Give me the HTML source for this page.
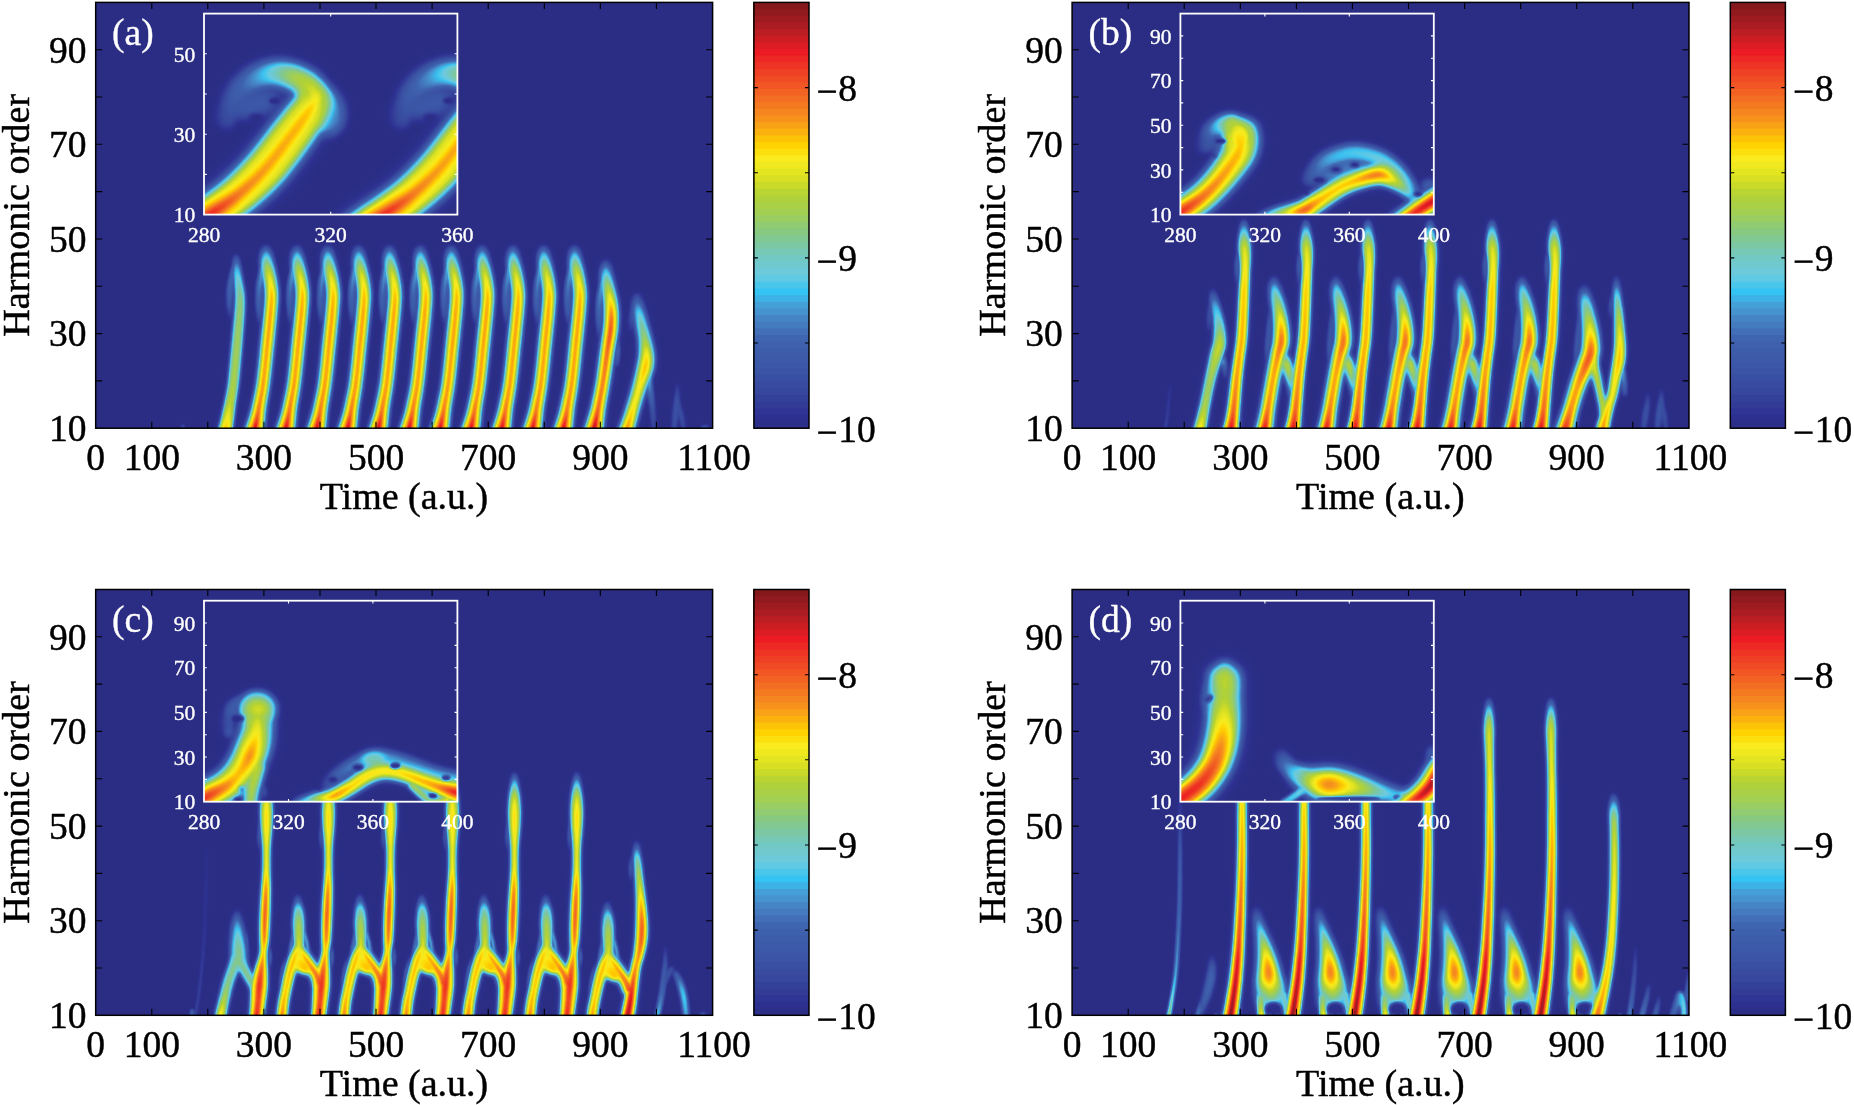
<!DOCTYPE html>
<html><head><meta charset="utf-8"><title>Time-frequency analysis of harmonic spectra</title>
<style>html,body{margin:0;padding:0;background:#fff}svg{display:block}.l{mix-blend-mode:lighten}text{stroke:#000;stroke-width:.45px}.w text,text.w{stroke:#fff;stroke-width:.35px}</style></head>
<body><svg width="1854" height="1105" viewBox="0 0 1854 1105" font-family="'Liberation Serif','Times New Roman',serif" font-size="37.5" fill="#000">
<defs><filter id="cm" x="0" y="0" width="100%" height="100%" color-interpolation-filters="sRGB"><feComponentTransfer><feFuncR type="table" tableValues="0.165 0.173 0.181 0.191 0.201 0.211 0.217 0.222 0.228 0.232 0.236 0.239 0.243 0.246 0.254 0.263 0.272 0.273 0.271 0.255 0.223 0.252 0.336 0.420 0.432 0.442 0.455 0.476 0.497 0.518 0.552 0.586 0.621 0.652 0.675 0.698 0.761 0.823 0.874 0.918 0.962 0.984 0.994 0.996 0.988 0.980 0.971 0.965 0.961 0.956 0.951 0.946 0.943 0.940 0.937 0.934 0.931 0.897 0.832 0.766 0.701 0.646 0.594 0.542 0.490"/><feFuncG type="table" tableValues="0.180 0.187 0.194 0.219 0.243 0.268 0.286 0.304 0.321 0.337 0.348 0.359 0.370 0.382 0.416 0.457 0.499 0.549 0.601 0.662 0.731 0.771 0.783 0.796 0.792 0.787 0.784 0.784 0.784 0.784 0.792 0.799 0.806 0.813 0.818 0.823 0.845 0.868 0.887 0.905 0.924 0.897 0.850 0.795 0.731 0.666 0.602 0.549 0.503 0.456 0.409 0.362 0.316 0.271 0.225 0.179 0.133 0.111 0.113 0.115 0.117 0.112 0.104 0.097 0.090"/><feFuncB type="table" tableValues="0.514 0.544 0.573 0.584 0.595 0.607 0.617 0.628 0.639 0.649 0.657 0.665 0.673 0.680 0.703 0.730 0.758 0.792 0.829 0.874 0.927 0.938 0.909 0.880 0.836 0.791 0.738 0.672 0.607 0.541 0.478 0.416 0.354 0.296 0.252 0.208 0.177 0.147 0.134 0.128 0.123 0.085 0.030 0.013 0.043 0.073 0.104 0.117 0.123 0.129 0.134 0.140 0.141 0.141 0.141 0.141 0.141 0.141 0.140 0.139 0.137 0.130 0.120 0.111 0.102"/></feComponentTransfer></filter>
<filter id="b0" x="-50%" y="-50%" width="200%" height="200%" color-interpolation-filters="sRGB"><feGaussianBlur stdDeviation="0.6"/></filter>
<filter id="b1" x="-50%" y="-50%" width="200%" height="200%" color-interpolation-filters="sRGB"><feGaussianBlur stdDeviation="0.8"/></filter>
<filter id="b2" x="-50%" y="-50%" width="200%" height="200%" color-interpolation-filters="sRGB"><feGaussianBlur stdDeviation="1.0"/></filter>
<filter id="b3" x="-50%" y="-50%" width="200%" height="200%" color-interpolation-filters="sRGB"><feGaussianBlur stdDeviation="1.3"/></filter>
<filter id="b4" x="-50%" y="-50%" width="200%" height="200%" color-interpolation-filters="sRGB"><feGaussianBlur stdDeviation="1.6"/></filter>
<filter id="b5" x="-50%" y="-50%" width="200%" height="200%" color-interpolation-filters="sRGB"><feGaussianBlur stdDeviation="2.0"/></filter>
<filter id="b6" x="-50%" y="-50%" width="200%" height="200%" color-interpolation-filters="sRGB"><feGaussianBlur stdDeviation="2.5"/></filter>
<filter id="b7" x="-50%" y="-50%" width="200%" height="200%" color-interpolation-filters="sRGB"><feGaussianBlur stdDeviation="3.0"/></filter>
<filter id="b8" x="-50%" y="-50%" width="200%" height="200%" color-interpolation-filters="sRGB"><feGaussianBlur stdDeviation="3.5"/></filter>
<filter id="b9" x="-50%" y="-50%" width="200%" height="200%" color-interpolation-filters="sRGB"><feGaussianBlur stdDeviation="4.0"/></filter>
<filter id="b10" x="-50%" y="-50%" width="200%" height="200%" color-interpolation-filters="sRGB"><feGaussianBlur stdDeviation="5.0"/></filter>
<filter id="b11" x="-50%" y="-50%" width="200%" height="200%" color-interpolation-filters="sRGB"><feGaussianBlur stdDeviation="6.0"/></filter>
<filter id="b12" x="-50%" y="-50%" width="200%" height="200%" color-interpolation-filters="sRGB"><feGaussianBlur stdDeviation="8.0"/></filter>
<filter id="b13" x="-50%" y="-50%" width="200%" height="200%" color-interpolation-filters="sRGB"><feGaussianBlur stdDeviation="10.0"/></filter>
<clipPath id="cpm"><rect x="95.7" y="2.4" width="616.9" height="425.8"/></clipPath>
<clipPath id="cpi"><rect x="204" y="13.6" width="253.4" height="201"/></clipPath>
<linearGradient id="g1" gradientUnits="userSpaceOnUse" x1="253.5" y1="434.0" x2="266.0" y2="248.0"><stop offset="0.000" stop-color="#292929"/><stop offset="0.018" stop-color="#282828"/><stop offset="0.038" stop-color="#272727"/><stop offset="0.066" stop-color="#252525"/><stop offset="0.098" stop-color="#232323"/><stop offset="0.127" stop-color="#222222"/><stop offset="0.163" stop-color="#212121"/><stop offset="0.214" stop-color="#212121"/><stop offset="0.282" stop-color="#202020"/><stop offset="0.381" stop-color="#202020"/><stop offset="0.487" stop-color="#202020"/><stop offset="0.580" stop-color="#202020"/><stop offset="0.659" stop-color="#202020"/><stop offset="0.712" stop-color="#1f1f1f"/><stop offset="0.750" stop-color="#1f1f1f"/><stop offset="0.784" stop-color="#1e1e1e"/><stop offset="0.814" stop-color="#1c1c1c"/><stop offset="0.844" stop-color="#1b1b1b"/><stop offset="0.872" stop-color="#1a1a1a"/><stop offset="0.897" stop-color="#181818"/><stop offset="0.920" stop-color="#151515"/><stop offset="0.942" stop-color="#121212"/><stop offset="0.963" stop-color="#0f0f0f"/><stop offset="0.982" stop-color="#0b0b0b"/><stop offset="1.000" stop-color="#060606"/></linearGradient>
<linearGradient id="g2" gradientUnits="userSpaceOnUse" x1="253.5" y1="434.0" x2="266.0" y2="248.0"><stop offset="0.000" stop-color="#b9b9b9"/><stop offset="0.018" stop-color="#b8b8b8"/><stop offset="0.038" stop-color="#b6b6b6"/><stop offset="0.066" stop-color="#b2b2b2"/><stop offset="0.098" stop-color="#adadad"/><stop offset="0.127" stop-color="#aaaaaa"/><stop offset="0.163" stop-color="#a9a9a9"/><stop offset="0.214" stop-color="#a7a7a7"/><stop offset="0.282" stop-color="#a7a7a7"/><stop offset="0.381" stop-color="#a6a6a6"/><stop offset="0.487" stop-color="#a6a6a6"/><stop offset="0.580" stop-color="#a6a6a6"/><stop offset="0.659" stop-color="#a5a5a5"/><stop offset="0.712" stop-color="#a3a3a3"/><stop offset="0.750" stop-color="#9f9f9f"/><stop offset="0.784" stop-color="#999999"/><stop offset="0.814" stop-color="#939393"/><stop offset="0.844" stop-color="#8d8d8d"/><stop offset="0.872" stop-color="#858585"/><stop offset="0.897" stop-color="#7a7a7a"/><stop offset="0.920" stop-color="#6d6d6d"/><stop offset="0.942" stop-color="#5f5f5f"/><stop offset="0.963" stop-color="#4e4e4e"/><stop offset="0.982" stop-color="#393939"/><stop offset="1.000" stop-color="#212121"/></linearGradient>
<linearGradient id="g3" gradientUnits="userSpaceOnUse" x1="253.5" y1="434.0" x2="266.0" y2="248.0"><stop offset="0.000" stop-color="#f5f5f5"/><stop offset="0.018" stop-color="#f1f1f1"/><stop offset="0.038" stop-color="#ebebeb"/><stop offset="0.066" stop-color="#dddddd"/><stop offset="0.098" stop-color="#cecece"/><stop offset="0.127" stop-color="#c6c6c6"/><stop offset="0.163" stop-color="#c0c0c0"/><stop offset="0.214" stop-color="#bcbcbc"/><stop offset="0.282" stop-color="#b9b9b9"/><stop offset="0.381" stop-color="#b8b8b8"/><stop offset="0.487" stop-color="#b8b8b8"/><stop offset="0.580" stop-color="#b8b8b8"/><stop offset="0.659" stop-color="#b7b7b7"/><stop offset="0.712" stop-color="#b4b4b4"/><stop offset="0.750" stop-color="#b0b0b0"/><stop offset="0.784" stop-color="#aaaaaa"/><stop offset="0.814" stop-color="#a3a3a3"/><stop offset="0.844" stop-color="#9c9c9c"/><stop offset="0.872" stop-color="#939393"/><stop offset="0.897" stop-color="#878787"/><stop offset="0.920" stop-color="#797979"/><stop offset="0.942" stop-color="#696969"/><stop offset="0.963" stop-color="#575757"/><stop offset="0.982" stop-color="#3f3f3f"/><stop offset="1.000" stop-color="#252525"/></linearGradient>
<linearGradient id="g4" gradientUnits="userSpaceOnUse" x1="260.6" y1="326.0" x2="263.5" y2="269.0"><stop offset="0.000" stop-color="#0a0a0a"/><stop offset="0.121" stop-color="#191919"/><stop offset="0.244" stop-color="#262626"/><stop offset="0.374" stop-color="#2f2f2f"/><stop offset="0.506" stop-color="#363636"/><stop offset="0.640" stop-color="#3c3c3c"/><stop offset="0.770" stop-color="#424242"/><stop offset="0.887" stop-color="#484848"/><stop offset="1.000" stop-color="#4c4c4c"/></linearGradient>
<linearGradient id="g5" gradientUnits="userSpaceOnUse" x1="224.0" y1="434.0" x2="236.2" y2="256.0"><stop offset="0.000" stop-color="#202020"/><stop offset="0.014" stop-color="#1f1f1f"/><stop offset="0.040" stop-color="#1e1e1e"/><stop offset="0.100" stop-color="#1c1c1c"/><stop offset="0.170" stop-color="#1a1a1a"/><stop offset="0.227" stop-color="#191919"/><stop offset="0.294" stop-color="#181818"/><stop offset="0.398" stop-color="#171717"/><stop offset="0.508" stop-color="#171717"/><stop offset="0.606" stop-color="#171717"/><stop offset="0.688" stop-color="#161616"/><stop offset="0.740" stop-color="#151515"/><stop offset="0.778" stop-color="#151515"/><stop offset="0.816" stop-color="#141414"/><stop offset="0.850" stop-color="#121212"/><stop offset="0.882" stop-color="#111111"/><stop offset="0.911" stop-color="#101010"/><stop offset="0.937" stop-color="#0d0d0d"/><stop offset="0.961" stop-color="#0a0a0a"/><stop offset="0.981" stop-color="#070707"/><stop offset="1.000" stop-color="#040404"/></linearGradient>
<linearGradient id="g6" gradientUnits="userSpaceOnUse" x1="224.0" y1="434.0" x2="236.2" y2="256.0"><stop offset="0.000" stop-color="#a6a6a6"/><stop offset="0.014" stop-color="#a2a2a2"/><stop offset="0.040" stop-color="#9d9d9d"/><stop offset="0.100" stop-color="#919191"/><stop offset="0.170" stop-color="#858585"/><stop offset="0.227" stop-color="#7f7f7f"/><stop offset="0.294" stop-color="#7b7b7b"/><stop offset="0.398" stop-color="#797979"/><stop offset="0.508" stop-color="#777777"/><stop offset="0.606" stop-color="#747474"/><stop offset="0.688" stop-color="#727272"/><stop offset="0.740" stop-color="#6f6f6f"/><stop offset="0.778" stop-color="#6b6b6b"/><stop offset="0.816" stop-color="#656565"/><stop offset="0.850" stop-color="#5f5f5f"/><stop offset="0.882" stop-color="#595959"/><stop offset="0.911" stop-color="#515151"/><stop offset="0.937" stop-color="#444444"/><stop offset="0.961" stop-color="#343434"/><stop offset="0.981" stop-color="#242424"/><stop offset="1.000" stop-color="#131313"/></linearGradient>
<linearGradient id="g7" gradientUnits="userSpaceOnUse" x1="224.0" y1="434.0" x2="236.2" y2="256.0"><stop offset="0.000" stop-color="#b8b8b8"/><stop offset="0.014" stop-color="#b4b4b4"/><stop offset="0.040" stop-color="#adadad"/><stop offset="0.100" stop-color="#a0a0a0"/><stop offset="0.170" stop-color="#939393"/><stop offset="0.227" stop-color="#8d8d8d"/><stop offset="0.294" stop-color="#898989"/><stop offset="0.398" stop-color="#868686"/><stop offset="0.508" stop-color="#838383"/><stop offset="0.606" stop-color="#818181"/><stop offset="0.688" stop-color="#7e7e7e"/><stop offset="0.740" stop-color="#7b7b7b"/><stop offset="0.778" stop-color="#767676"/><stop offset="0.816" stop-color="#707070"/><stop offset="0.850" stop-color="#696969"/><stop offset="0.882" stop-color="#626262"/><stop offset="0.911" stop-color="#595959"/><stop offset="0.937" stop-color="#4b4b4b"/><stop offset="0.961" stop-color="#3a3a3a"/><stop offset="0.981" stop-color="#282828"/><stop offset="1.000" stop-color="#151515"/></linearGradient>
<linearGradient id="g8" gradientUnits="userSpaceOnUse" x1="230.5" y1="318.0" x2="234.5" y2="268.0"><stop offset="0.000" stop-color="#0a0a0a"/><stop offset="0.126" stop-color="#181818"/><stop offset="0.257" stop-color="#242424"/><stop offset="0.406" stop-color="#2d2d2d"/><stop offset="0.556" stop-color="#333333"/><stop offset="0.694" stop-color="#373737"/><stop offset="0.817" stop-color="#383838"/><stop offset="0.914" stop-color="#363636"/><stop offset="1.000" stop-color="#333333"/></linearGradient>
<linearGradient id="g9" gradientUnits="userSpaceOnUse" x1="592.7" y1="434.0" x2="605.8" y2="262.0"><stop offset="0.000" stop-color="#2a2a2a"/><stop offset="0.019" stop-color="#292929"/><stop offset="0.041" stop-color="#282828"/><stop offset="0.072" stop-color="#272727"/><stop offset="0.106" stop-color="#252525"/><stop offset="0.137" stop-color="#232323"/><stop offset="0.176" stop-color="#222222"/><stop offset="0.233" stop-color="#222222"/><stop offset="0.305" stop-color="#222222"/><stop offset="0.399" stop-color="#222222"/><stop offset="0.492" stop-color="#232323"/><stop offset="0.557" stop-color="#242424"/><stop offset="0.609" stop-color="#242424"/><stop offset="0.655" stop-color="#232323"/><stop offset="0.696" stop-color="#222222"/><stop offset="0.735" stop-color="#202020"/><stop offset="0.771" stop-color="#1d1d1d"/><stop offset="0.806" stop-color="#1b1b1b"/><stop offset="0.839" stop-color="#191919"/><stop offset="0.872" stop-color="#171717"/><stop offset="0.902" stop-color="#141414"/><stop offset="0.929" stop-color="#111111"/><stop offset="0.954" stop-color="#0e0e0e"/><stop offset="0.977" stop-color="#090909"/><stop offset="1.000" stop-color="#050505"/></linearGradient>
<linearGradient id="g10" gradientUnits="userSpaceOnUse" x1="592.7" y1="434.0" x2="605.8" y2="262.0"><stop offset="0.000" stop-color="#bbbbbb"/><stop offset="0.019" stop-color="#bababa"/><stop offset="0.041" stop-color="#b8b8b8"/><stop offset="0.072" stop-color="#b4b4b4"/><stop offset="0.106" stop-color="#b0b0b0"/><stop offset="0.137" stop-color="#adadad"/><stop offset="0.176" stop-color="#ababab"/><stop offset="0.233" stop-color="#aaaaaa"/><stop offset="0.305" stop-color="#aaaaaa"/><stop offset="0.399" stop-color="#ababab"/><stop offset="0.492" stop-color="#acacac"/><stop offset="0.557" stop-color="#aeaeae"/><stop offset="0.609" stop-color="#aeaeae"/><stop offset="0.655" stop-color="#acacac"/><stop offset="0.696" stop-color="#a9a9a9"/><stop offset="0.735" stop-color="#a3a3a3"/><stop offset="0.771" stop-color="#989898"/><stop offset="0.806" stop-color="#8e8e8e"/><stop offset="0.839" stop-color="#828282"/><stop offset="0.872" stop-color="#757575"/><stop offset="0.902" stop-color="#666666"/><stop offset="0.929" stop-color="#585858"/><stop offset="0.954" stop-color="#474747"/><stop offset="0.977" stop-color="#303030"/><stop offset="1.000" stop-color="#181818"/></linearGradient>
<linearGradient id="g11" gradientUnits="userSpaceOnUse" x1="592.7" y1="434.0" x2="605.8" y2="262.0"><stop offset="0.000" stop-color="#fbfbfb"/><stop offset="0.019" stop-color="#f7f7f7"/><stop offset="0.041" stop-color="#f2f2f2"/><stop offset="0.072" stop-color="#e5e5e5"/><stop offset="0.106" stop-color="#d8d8d8"/><stop offset="0.137" stop-color="#cfcfcf"/><stop offset="0.176" stop-color="#c8c8c8"/><stop offset="0.233" stop-color="#c4c4c4"/><stop offset="0.305" stop-color="#c3c3c3"/><stop offset="0.399" stop-color="#c6c6c6"/><stop offset="0.492" stop-color="#cbcbcb"/><stop offset="0.557" stop-color="#d0d0d0"/><stop offset="0.609" stop-color="#d2d2d2"/><stop offset="0.655" stop-color="#cccccc"/><stop offset="0.696" stop-color="#c1c1c1"/><stop offset="0.735" stop-color="#b5b5b5"/><stop offset="0.771" stop-color="#a8a8a8"/><stop offset="0.806" stop-color="#9d9d9d"/><stop offset="0.839" stop-color="#909090"/><stop offset="0.872" stop-color="#818181"/><stop offset="0.902" stop-color="#717171"/><stop offset="0.929" stop-color="#616161"/><stop offset="0.954" stop-color="#4f4f4f"/><stop offset="0.977" stop-color="#363636"/><stop offset="1.000" stop-color="#1a1a1a"/></linearGradient>
<linearGradient id="g12" gradientUnits="userSpaceOnUse" x1="617.0" y1="365.0" x2="616.0" y2="335.0"><stop offset="0.000" stop-color="#1a1a1a"/><stop offset="0.249" stop-color="#292929"/><stop offset="0.499" stop-color="#333333"/><stop offset="0.749" stop-color="#292929"/><stop offset="1.000" stop-color="#1a1a1a"/></linearGradient>
<linearGradient id="g13" gradientUnits="userSpaceOnUse" x1="600.6" y1="340.0" x2="603.5" y2="283.0"><stop offset="0.000" stop-color="#0a0a0a"/><stop offset="0.121" stop-color="#191919"/><stop offset="0.244" stop-color="#262626"/><stop offset="0.374" stop-color="#2f2f2f"/><stop offset="0.506" stop-color="#363636"/><stop offset="0.640" stop-color="#3c3c3c"/><stop offset="0.770" stop-color="#424242"/><stop offset="0.887" stop-color="#484848"/><stop offset="1.000" stop-color="#4c4c4c"/></linearGradient>
<linearGradient id="g14" gradientUnits="userSpaceOnUse" x1="624.0" y1="434.0" x2="636.8" y2="294.0"><stop offset="0.000" stop-color="#212121"/><stop offset="0.019" stop-color="#212121"/><stop offset="0.052" stop-color="#202020"/><stop offset="0.126" stop-color="#1e1e1e"/><stop offset="0.212" stop-color="#1c1c1c"/><stop offset="0.287" stop-color="#1c1c1c"/><stop offset="0.357" stop-color="#1c1c1c"/><stop offset="0.423" stop-color="#1d1d1d"/><stop offset="0.481" stop-color="#1e1e1e"/><stop offset="0.529" stop-color="#1e1e1e"/><stop offset="0.574" stop-color="#1c1c1c"/><stop offset="0.626" stop-color="#1a1a1a"/><stop offset="0.679" stop-color="#171717"/><stop offset="0.732" stop-color="#151515"/><stop offset="0.784" stop-color="#131313"/><stop offset="0.831" stop-color="#121212"/><stop offset="0.874" stop-color="#101010"/><stop offset="0.911" stop-color="#0d0d0d"/><stop offset="0.944" stop-color="#090909"/><stop offset="0.973" stop-color="#060606"/><stop offset="1.000" stop-color="#030303"/></linearGradient>
<linearGradient id="g15" gradientUnits="userSpaceOnUse" x1="624.0" y1="434.0" x2="636.8" y2="294.0"><stop offset="0.000" stop-color="#9d9d9d"/><stop offset="0.019" stop-color="#9d9d9d"/><stop offset="0.052" stop-color="#9b9b9b"/><stop offset="0.126" stop-color="#929292"/><stop offset="0.212" stop-color="#8a8a8a"/><stop offset="0.287" stop-color="#888888"/><stop offset="0.357" stop-color="#8a8a8a"/><stop offset="0.423" stop-color="#8f8f8f"/><stop offset="0.481" stop-color="#929292"/><stop offset="0.529" stop-color="#909090"/><stop offset="0.574" stop-color="#8a8a8a"/><stop offset="0.626" stop-color="#7d7d7d"/><stop offset="0.679" stop-color="#6f6f6f"/><stop offset="0.732" stop-color="#656565"/><stop offset="0.784" stop-color="#5d5d5d"/><stop offset="0.831" stop-color="#555555"/><stop offset="0.874" stop-color="#4b4b4b"/><stop offset="0.911" stop-color="#3d3d3d"/><stop offset="0.944" stop-color="#2c2c2c"/><stop offset="0.973" stop-color="#1d1d1d"/><stop offset="1.000" stop-color="#0d0d0d"/></linearGradient>
<linearGradient id="g16" gradientUnits="userSpaceOnUse" x1="624.0" y1="434.0" x2="636.8" y2="294.0"><stop offset="0.000" stop-color="#bebebe"/><stop offset="0.019" stop-color="#bcbcbc"/><stop offset="0.052" stop-color="#b8b8b8"/><stop offset="0.126" stop-color="#adadad"/><stop offset="0.212" stop-color="#a3a3a3"/><stop offset="0.287" stop-color="#a1a1a1"/><stop offset="0.357" stop-color="#a3a3a3"/><stop offset="0.423" stop-color="#a9a9a9"/><stop offset="0.481" stop-color="#aeaeae"/><stop offset="0.529" stop-color="#ababab"/><stop offset="0.574" stop-color="#a3a3a3"/><stop offset="0.626" stop-color="#949494"/><stop offset="0.679" stop-color="#848484"/><stop offset="0.732" stop-color="#787878"/><stop offset="0.784" stop-color="#6f6f6f"/><stop offset="0.831" stop-color="#656565"/><stop offset="0.874" stop-color="#5a5a5a"/><stop offset="0.911" stop-color="#484848"/><stop offset="0.944" stop-color="#353535"/><stop offset="0.973" stop-color="#222222"/><stop offset="1.000" stop-color="#101010"/></linearGradient>
<linearGradient id="g17" gradientUnits="userSpaceOnUse" x1="646.0" y1="372.0" x2="654.0" y2="430.0"><stop offset="0.000" stop-color="#595959"/><stop offset="0.111" stop-color="#515151"/><stop offset="0.227" stop-color="#474747"/><stop offset="0.355" stop-color="#3a3a3a"/><stop offset="0.487" stop-color="#2e2e2e"/><stop offset="0.615" stop-color="#252525"/><stop offset="0.744" stop-color="#1f1f1f"/><stop offset="0.872" stop-color="#191919"/><stop offset="1.000" stop-color="#141414"/></linearGradient>
<linearGradient id="g18" gradientUnits="userSpaceOnUse" x1="632.0" y1="330.0" x2="635.0" y2="308.0"><stop offset="0.000" stop-color="#0d0d0d"/><stop offset="0.276" stop-color="#1a1a1a"/><stop offset="0.542" stop-color="#242424"/><stop offset="0.776" stop-color="#212121"/><stop offset="1.000" stop-color="#1a1a1a"/></linearGradient>
<linearGradient id="g19" gradientUnits="userSpaceOnUse" x1="674.0" y1="432.0" x2="677.3" y2="385.0"><stop offset="0.000" stop-color="#1a1a1a"/><stop offset="0.181" stop-color="#1e1e1e"/><stop offset="0.362" stop-color="#212121"/><stop offset="0.549" stop-color="#212121"/><stop offset="0.724" stop-color="#1f1f1f"/><stop offset="0.868" stop-color="#171717"/><stop offset="1.000" stop-color="#0d0d0d"/></linearGradient>
<linearGradient id="g20" gradientUnits="userSpaceOnUse" x1="677.0" y1="400.0" x2="684.0" y2="430.0"><stop offset="0.000" stop-color="#1a1a1a"/><stop offset="0.252" stop-color="#1d1d1d"/><stop offset="0.504" stop-color="#1f1f1f"/><stop offset="0.752" stop-color="#1a1a1a"/><stop offset="1.000" stop-color="#141414"/></linearGradient>
<linearGradient id="g21" gradientUnits="userSpaceOnUse" x1="317.0" y1="0.0" x2="224.0" y2="0.0"><stop offset="0.011" stop-color="#222222"/><stop offset="0.024" stop-color="#212121"/><stop offset="0.043" stop-color="#212121"/><stop offset="0.073" stop-color="#202020"/><stop offset="0.120" stop-color="#1f1f1f"/><stop offset="0.199" stop-color="#1e1e1e"/><stop offset="0.291" stop-color="#1c1c1c"/><stop offset="0.387" stop-color="#191919"/><stop offset="0.486" stop-color="#151515"/><stop offset="0.585" stop-color="#121212"/><stop offset="0.681" stop-color="#0f0f0f"/><stop offset="0.771" stop-color="#0d0d0d"/><stop offset="0.851" stop-color="#0b0b0b"/><stop offset="0.914" stop-color="#090909"/><stop offset="0.960" stop-color="#080808"/><stop offset="0.980" stop-color="#060606"/><stop offset="0.989" stop-color="#040404"/></linearGradient>
<linearGradient id="g22" gradientUnits="userSpaceOnUse" x1="317.0" y1="0.0" x2="224.0" y2="0.0"><stop offset="0.011" stop-color="#858585"/><stop offset="0.024" stop-color="#838383"/><stop offset="0.043" stop-color="#818181"/><stop offset="0.073" stop-color="#7e7e7e"/><stop offset="0.120" stop-color="#7a7a7a"/><stop offset="0.199" stop-color="#767676"/><stop offset="0.291" stop-color="#6f6f6f"/><stop offset="0.387" stop-color="#626262"/><stop offset="0.486" stop-color="#545454"/><stop offset="0.585" stop-color="#484848"/><stop offset="0.681" stop-color="#3c3c3c"/><stop offset="0.771" stop-color="#323232"/><stop offset="0.851" stop-color="#2a2a2a"/><stop offset="0.914" stop-color="#242424"/><stop offset="0.960" stop-color="#1f1f1f"/><stop offset="0.980" stop-color="#191919"/><stop offset="0.989" stop-color="#121212"/></linearGradient>
<linearGradient id="g23" gradientUnits="userSpaceOnUse" x1="317.0" y1="0.0" x2="224.0" y2="0.0"><stop offset="0.011" stop-color="#9e9e9e"/><stop offset="0.024" stop-color="#9c9c9c"/><stop offset="0.043" stop-color="#999999"/><stop offset="0.073" stop-color="#959595"/><stop offset="0.120" stop-color="#919191"/><stop offset="0.199" stop-color="#8c8c8c"/><stop offset="0.291" stop-color="#848484"/><stop offset="0.387" stop-color="#757575"/><stop offset="0.486" stop-color="#646464"/><stop offset="0.585" stop-color="#555555"/><stop offset="0.681" stop-color="#474747"/><stop offset="0.771" stop-color="#3c3c3c"/><stop offset="0.851" stop-color="#323232"/><stop offset="0.914" stop-color="#2b2b2b"/><stop offset="0.960" stop-color="#252525"/><stop offset="0.980" stop-color="#1d1d1d"/><stop offset="0.989" stop-color="#151515"/></linearGradient>
<linearGradient id="g24" gradientUnits="userSpaceOnUse" x1="173.0" y1="238.0" x2="317.0" y2="96.0"><stop offset="0.000" stop-color="#2f2f2f"/><stop offset="0.059" stop-color="#2f2f2f"/><stop offset="0.120" stop-color="#2e2e2e"/><stop offset="0.184" stop-color="#2e2e2e"/><stop offset="0.251" stop-color="#2c2c2c"/><stop offset="0.316" stop-color="#292929"/><stop offset="0.387" stop-color="#272727"/><stop offset="0.472" stop-color="#252525"/><stop offset="0.565" stop-color="#242424"/><stop offset="0.666" stop-color="#242424"/><stop offset="0.763" stop-color="#242424"/><stop offset="0.840" stop-color="#232323"/><stop offset="0.901" stop-color="#232323"/><stop offset="0.940" stop-color="#222222"/><stop offset="0.966" stop-color="#212121"/><stop offset="0.985" stop-color="#202020"/><stop offset="1.000" stop-color="#1f1f1f"/></linearGradient>
<linearGradient id="g25" gradientUnits="userSpaceOnUse" x1="173.0" y1="238.0" x2="317.0" y2="96.0"><stop offset="0.000" stop-color="#b3b3b3"/><stop offset="0.059" stop-color="#b2b2b2"/><stop offset="0.120" stop-color="#b1b1b1"/><stop offset="0.184" stop-color="#afafaf"/><stop offset="0.251" stop-color="#acacac"/><stop offset="0.316" stop-color="#a7a7a7"/><stop offset="0.387" stop-color="#a1a1a1"/><stop offset="0.472" stop-color="#9f9f9f"/><stop offset="0.565" stop-color="#9d9d9d"/><stop offset="0.666" stop-color="#9c9c9c"/><stop offset="0.763" stop-color="#9b9b9b"/><stop offset="0.840" stop-color="#9a9a9a"/><stop offset="0.901" stop-color="#989898"/><stop offset="0.940" stop-color="#959595"/><stop offset="0.966" stop-color="#909090"/><stop offset="0.985" stop-color="#8b8b8b"/><stop offset="1.000" stop-color="#858585"/></linearGradient>
<linearGradient id="g26" gradientUnits="userSpaceOnUse" x1="173.0" y1="238.0" x2="317.0" y2="96.0"><stop offset="0.000" stop-color="#fcfcfc"/><stop offset="0.059" stop-color="#f9f9f9"/><stop offset="0.120" stop-color="#f6f6f6"/><stop offset="0.184" stop-color="#f1f1f1"/><stop offset="0.251" stop-color="#e9e9e9"/><stop offset="0.316" stop-color="#d9d9d9"/><stop offset="0.387" stop-color="#cacaca"/><stop offset="0.472" stop-color="#c2c2c2"/><stop offset="0.565" stop-color="#bdbdbd"/><stop offset="0.666" stop-color="#bababa"/><stop offset="0.763" stop-color="#b8b8b8"/><stop offset="0.840" stop-color="#b7b7b7"/><stop offset="0.901" stop-color="#b4b4b4"/><stop offset="0.940" stop-color="#b0b0b0"/><stop offset="0.966" stop-color="#ababab"/><stop offset="0.985" stop-color="#a5a5a5"/><stop offset="1.000" stop-color="#9e9e9e"/></linearGradient>
<linearGradient id="g27" gradientUnits="userSpaceOnUse" x1="253.1" y1="434.0" x2="267.6" y2="221.0"><stop offset="0.000" stop-color="#292929"/><stop offset="0.014" stop-color="#292929"/><stop offset="0.033" stop-color="#272727"/><stop offset="0.066" stop-color="#252525"/><stop offset="0.113" stop-color="#232323"/><stop offset="0.190" stop-color="#222222"/><stop offset="0.269" stop-color="#212121"/><stop offset="0.324" stop-color="#202020"/><stop offset="0.372" stop-color="#202020"/><stop offset="0.414" stop-color="#202020"/><stop offset="0.467" stop-color="#202020"/><stop offset="0.565" stop-color="#1f1f1f"/><stop offset="0.664" stop-color="#1f1f1f"/><stop offset="0.722" stop-color="#1e1e1e"/><stop offset="0.762" stop-color="#1d1d1d"/><stop offset="0.793" stop-color="#1d1d1d"/><stop offset="0.818" stop-color="#1c1c1c"/><stop offset="0.847" stop-color="#1b1b1b"/><stop offset="0.874" stop-color="#1a1a1a"/><stop offset="0.898" stop-color="#181818"/><stop offset="0.921" stop-color="#161616"/><stop offset="0.942" stop-color="#121212"/><stop offset="0.963" stop-color="#0e0e0e"/><stop offset="0.982" stop-color="#0a0a0a"/><stop offset="1.000" stop-color="#050505"/></linearGradient>
<linearGradient id="g28" gradientUnits="userSpaceOnUse" x1="253.1" y1="434.0" x2="267.6" y2="221.0"><stop offset="0.000" stop-color="#b0b0b0"/><stop offset="0.014" stop-color="#aeaeae"/><stop offset="0.033" stop-color="#acacac"/><stop offset="0.066" stop-color="#a7a7a7"/><stop offset="0.113" stop-color="#a2a2a2"/><stop offset="0.190" stop-color="#9f9f9f"/><stop offset="0.269" stop-color="#9d9d9d"/><stop offset="0.324" stop-color="#9c9c9c"/><stop offset="0.372" stop-color="#9b9b9b"/><stop offset="0.414" stop-color="#9a9a9a"/><stop offset="0.467" stop-color="#999999"/><stop offset="0.565" stop-color="#979797"/><stop offset="0.664" stop-color="#959595"/><stop offset="0.722" stop-color="#919191"/><stop offset="0.762" stop-color="#8e8e8e"/><stop offset="0.793" stop-color="#8b8b8b"/><stop offset="0.818" stop-color="#878787"/><stop offset="0.847" stop-color="#848484"/><stop offset="0.874" stop-color="#808080"/><stop offset="0.898" stop-color="#767676"/><stop offset="0.921" stop-color="#686868"/><stop offset="0.942" stop-color="#585858"/><stop offset="0.963" stop-color="#454545"/><stop offset="0.982" stop-color="#2e2e2e"/><stop offset="1.000" stop-color="#161616"/></linearGradient>
<linearGradient id="g29" gradientUnits="userSpaceOnUse" x1="253.1" y1="434.0" x2="267.6" y2="221.0"><stop offset="0.000" stop-color="#f3f3f3"/><stop offset="0.014" stop-color="#eeeeee"/><stop offset="0.033" stop-color="#e7e7e7"/><stop offset="0.066" stop-color="#dadada"/><stop offset="0.113" stop-color="#cdcdcd"/><stop offset="0.190" stop-color="#c3c3c3"/><stop offset="0.269" stop-color="#bdbdbd"/><stop offset="0.324" stop-color="#bababa"/><stop offset="0.372" stop-color="#b8b8b8"/><stop offset="0.414" stop-color="#b7b7b7"/><stop offset="0.467" stop-color="#b6b6b6"/><stop offset="0.565" stop-color="#b3b3b3"/><stop offset="0.664" stop-color="#b0b0b0"/><stop offset="0.722" stop-color="#adadad"/><stop offset="0.762" stop-color="#a9a9a9"/><stop offset="0.793" stop-color="#a5a5a5"/><stop offset="0.818" stop-color="#a1a1a1"/><stop offset="0.847" stop-color="#9d9d9d"/><stop offset="0.874" stop-color="#979797"/><stop offset="0.898" stop-color="#8c8c8c"/><stop offset="0.921" stop-color="#7c7c7c"/><stop offset="0.942" stop-color="#686868"/><stop offset="0.963" stop-color="#525252"/><stop offset="0.982" stop-color="#373737"/><stop offset="1.000" stop-color="#1a1a1a"/></linearGradient>
<linearGradient id="g30" gradientUnits="userSpaceOnUse" x1="262.1" y1="285.0" x2="263.6" y2="250.0"><stop offset="0.000" stop-color="#0f0f0f"/><stop offset="0.186" stop-color="#1c1c1c"/><stop offset="0.370" stop-color="#262626"/><stop offset="0.546" stop-color="#2a2a2a"/><stop offset="0.712" stop-color="#292929"/><stop offset="0.860" stop-color="#202020"/><stop offset="1.000" stop-color="#141414"/></linearGradient>
<linearGradient id="g31" gradientUnits="userSpaceOnUse" x1="286.4" y1="434.0" x2="297.6" y2="278.0"><stop offset="0.000" stop-color="#282828"/><stop offset="0.018" stop-color="#282828"/><stop offset="0.046" stop-color="#272727"/><stop offset="0.097" stop-color="#242424"/><stop offset="0.168" stop-color="#222222"/><stop offset="0.267" stop-color="#202020"/><stop offset="0.368" stop-color="#202020"/><stop offset="0.447" stop-color="#202020"/><stop offset="0.511" stop-color="#212121"/><stop offset="0.554" stop-color="#222222"/><stop offset="0.589" stop-color="#222222"/><stop offset="0.624" stop-color="#212121"/><stop offset="0.659" stop-color="#202020"/><stop offset="0.697" stop-color="#1e1e1e"/><stop offset="0.735" stop-color="#1c1c1c"/><stop offset="0.774" stop-color="#1a1a1a"/><stop offset="0.811" stop-color="#181818"/><stop offset="0.844" stop-color="#161616"/><stop offset="0.874" stop-color="#141414"/><stop offset="0.900" stop-color="#121212"/><stop offset="0.924" stop-color="#111111"/><stop offset="0.944" stop-color="#0e0e0e"/><stop offset="0.962" stop-color="#0b0b0b"/><stop offset="0.981" stop-color="#070707"/><stop offset="1.000" stop-color="#040404"/></linearGradient>
<linearGradient id="g32" gradientUnits="userSpaceOnUse" x1="286.4" y1="434.0" x2="297.6" y2="278.0"><stop offset="0.000" stop-color="#aeaeae"/><stop offset="0.018" stop-color="#acacac"/><stop offset="0.046" stop-color="#aaaaaa"/><stop offset="0.097" stop-color="#a4a4a4"/><stop offset="0.168" stop-color="#9e9e9e"/><stop offset="0.267" stop-color="#9c9c9c"/><stop offset="0.368" stop-color="#9a9a9a"/><stop offset="0.447" stop-color="#9c9c9c"/><stop offset="0.511" stop-color="#9d9d9d"/><stop offset="0.554" stop-color="#9f9f9f"/><stop offset="0.589" stop-color="#a0a0a0"/><stop offset="0.624" stop-color="#9e9e9e"/><stop offset="0.659" stop-color="#9b9b9b"/><stop offset="0.697" stop-color="#939393"/><stop offset="0.735" stop-color="#8a8a8a"/><stop offset="0.774" stop-color="#7e7e7e"/><stop offset="0.811" stop-color="#737373"/><stop offset="0.844" stop-color="#6a6a6a"/><stop offset="0.874" stop-color="#626262"/><stop offset="0.900" stop-color="#595959"/><stop offset="0.924" stop-color="#505050"/><stop offset="0.944" stop-color="#444444"/><stop offset="0.962" stop-color="#353535"/><stop offset="0.981" stop-color="#242424"/><stop offset="1.000" stop-color="#121212"/></linearGradient>
<linearGradient id="g33" gradientUnits="userSpaceOnUse" x1="286.4" y1="434.0" x2="297.6" y2="278.0"><stop offset="0.000" stop-color="#ededed"/><stop offset="0.018" stop-color="#e9e9e9"/><stop offset="0.046" stop-color="#e1e1e1"/><stop offset="0.097" stop-color="#d1d1d1"/><stop offset="0.168" stop-color="#c1c1c1"/><stop offset="0.267" stop-color="#b9b9b9"/><stop offset="0.368" stop-color="#b7b7b7"/><stop offset="0.447" stop-color="#b9b9b9"/><stop offset="0.511" stop-color="#bebebe"/><stop offset="0.554" stop-color="#c3c3c3"/><stop offset="0.589" stop-color="#c5c5c5"/><stop offset="0.624" stop-color="#c1c1c1"/><stop offset="0.659" stop-color="#b8b8b8"/><stop offset="0.697" stop-color="#afafaf"/><stop offset="0.735" stop-color="#a3a3a3"/><stop offset="0.774" stop-color="#969696"/><stop offset="0.811" stop-color="#898989"/><stop offset="0.844" stop-color="#7e7e7e"/><stop offset="0.874" stop-color="#747474"/><stop offset="0.900" stop-color="#6a6a6a"/><stop offset="0.924" stop-color="#5f5f5f"/><stop offset="0.944" stop-color="#505050"/><stop offset="0.962" stop-color="#3f3f3f"/><stop offset="0.981" stop-color="#2b2b2b"/><stop offset="1.000" stop-color="#151515"/></linearGradient>
<linearGradient id="g34" gradientUnits="userSpaceOnUse" x1="308.1" y1="356.0" x2="317.1" y2="398.0"><stop offset="0.000" stop-color="#5c5c5c"/><stop offset="0.079" stop-color="#767676"/><stop offset="0.169" stop-color="#8a8a8a"/><stop offset="0.293" stop-color="#8a8a8a"/><stop offset="0.432" stop-color="#808080"/><stop offset="0.573" stop-color="#717171"/><stop offset="0.717" stop-color="#5c5c5c"/><stop offset="0.859" stop-color="#414141"/><stop offset="1.000" stop-color="#242424"/></linearGradient>
<linearGradient id="g35" gradientUnits="userSpaceOnUse" x1="291.6" y1="365.0" x2="295.1" y2="308.0"><stop offset="0.000" stop-color="#0d0d0d"/><stop offset="0.131" stop-color="#1a1a1a"/><stop offset="0.262" stop-color="#242424"/><stop offset="0.393" stop-color="#272727"/><stop offset="0.525" stop-color="#262626"/><stop offset="0.660" stop-color="#262626"/><stop offset="0.789" stop-color="#242424"/><stop offset="0.898" stop-color="#1b1b1b"/><stop offset="1.000" stop-color="#0f0f0f"/></linearGradient>
<linearGradient id="g36" gradientUnits="userSpaceOnUse" x1="221.6" y1="434.0" x2="236.4" y2="290.0"><stop offset="0.000" stop-color="#1e1e1e"/><stop offset="0.018" stop-color="#1e1e1e"/><stop offset="0.050" stop-color="#1c1c1c"/><stop offset="0.118" stop-color="#1a1a1a"/><stop offset="0.204" stop-color="#181818"/><stop offset="0.302" stop-color="#171717"/><stop offset="0.401" stop-color="#171717"/><stop offset="0.485" stop-color="#181818"/><stop offset="0.556" stop-color="#191919"/><stop offset="0.602" stop-color="#1a1a1a"/><stop offset="0.641" stop-color="#191919"/><stop offset="0.685" stop-color="#171717"/><stop offset="0.730" stop-color="#151515"/><stop offset="0.771" stop-color="#131313"/><stop offset="0.811" stop-color="#111111"/><stop offset="0.853" stop-color="#101010"/><stop offset="0.892" stop-color="#0e0e0e"/><stop offset="0.924" stop-color="#0b0b0b"/><stop offset="0.952" stop-color="#080808"/><stop offset="0.977" stop-color="#050505"/><stop offset="1.000" stop-color="#020202"/></linearGradient>
<linearGradient id="g37" gradientUnits="userSpaceOnUse" x1="221.6" y1="434.0" x2="236.4" y2="290.0"><stop offset="0.000" stop-color="#929292"/><stop offset="0.018" stop-color="#8f8f8f"/><stop offset="0.050" stop-color="#8a8a8a"/><stop offset="0.118" stop-color="#7e7e7e"/><stop offset="0.204" stop-color="#737373"/><stop offset="0.302" stop-color="#6f6f6f"/><stop offset="0.401" stop-color="#6f6f6f"/><stop offset="0.485" stop-color="#747474"/><stop offset="0.556" stop-color="#7a7a7a"/><stop offset="0.602" stop-color="#7c7c7c"/><stop offset="0.641" stop-color="#7a7a7a"/><stop offset="0.685" stop-color="#717171"/><stop offset="0.730" stop-color="#666666"/><stop offset="0.771" stop-color="#5d5d5d"/><stop offset="0.811" stop-color="#545454"/><stop offset="0.853" stop-color="#4c4c4c"/><stop offset="0.892" stop-color="#434343"/><stop offset="0.924" stop-color="#363636"/><stop offset="0.952" stop-color="#282828"/><stop offset="0.977" stop-color="#1a1a1a"/><stop offset="1.000" stop-color="#0b0b0b"/></linearGradient>
<linearGradient id="g38" gradientUnits="userSpaceOnUse" x1="221.6" y1="434.0" x2="236.4" y2="290.0"><stop offset="0.000" stop-color="#aeaeae"/><stop offset="0.018" stop-color="#a9a9a9"/><stop offset="0.050" stop-color="#a3a3a3"/><stop offset="0.118" stop-color="#969696"/><stop offset="0.204" stop-color="#898989"/><stop offset="0.302" stop-color="#848484"/><stop offset="0.401" stop-color="#848484"/><stop offset="0.485" stop-color="#8a8a8a"/><stop offset="0.556" stop-color="#919191"/><stop offset="0.602" stop-color="#939393"/><stop offset="0.641" stop-color="#919191"/><stop offset="0.685" stop-color="#868686"/><stop offset="0.730" stop-color="#797979"/><stop offset="0.771" stop-color="#6e6e6e"/><stop offset="0.811" stop-color="#646464"/><stop offset="0.853" stop-color="#5a5a5a"/><stop offset="0.892" stop-color="#4f4f4f"/><stop offset="0.924" stop-color="#404040"/><stop offset="0.952" stop-color="#2f2f2f"/><stop offset="0.977" stop-color="#1e1e1e"/><stop offset="1.000" stop-color="#0d0d0d"/></linearGradient>
<linearGradient id="g39" gradientUnits="userSpaceOnUse" x1="245.6" y1="356.0" x2="249.1" y2="378.0"><stop offset="0.000" stop-color="#2e2e2e"/><stop offset="0.137" stop-color="#3e3e3e"/><stop offset="0.274" stop-color="#474747"/><stop offset="0.401" stop-color="#3e3e3e"/><stop offset="0.550" stop-color="#2e2e2e"/><stop offset="0.764" stop-color="#1f1f1f"/><stop offset="1.000" stop-color="#0f0f0f"/></linearGradient>
<linearGradient id="g40" gradientUnits="userSpaceOnUse" x1="232.6" y1="330.0" x2="234.1" y2="306.0"><stop offset="0.000" stop-color="#0d0d0d"/><stop offset="0.250" stop-color="#191919"/><stop offset="0.499" stop-color="#212121"/><stop offset="0.750" stop-color="#1f1f1f"/><stop offset="1.000" stop-color="#1a1a1a"/></linearGradient>
<linearGradient id="g41" gradientUnits="userSpaceOnUse" x1="587.1" y1="434.0" x2="607.9" y2="287.0"><stop offset="0.000" stop-color="#282828"/><stop offset="0.019" stop-color="#282828"/><stop offset="0.049" stop-color="#272727"/><stop offset="0.108" stop-color="#242424"/><stop offset="0.180" stop-color="#222222"/><stop offset="0.260" stop-color="#212121"/><stop offset="0.340" stop-color="#212121"/><stop offset="0.415" stop-color="#222222"/><stop offset="0.481" stop-color="#242424"/><stop offset="0.530" stop-color="#242424"/><stop offset="0.572" stop-color="#242424"/><stop offset="0.620" stop-color="#222222"/><stop offset="0.666" stop-color="#1f1f1f"/><stop offset="0.709" stop-color="#1d1d1d"/><stop offset="0.752" stop-color="#1b1b1b"/><stop offset="0.795" stop-color="#181818"/><stop offset="0.836" stop-color="#161616"/><stop offset="0.871" stop-color="#141414"/><stop offset="0.901" stop-color="#121212"/><stop offset="0.929" stop-color="#0f0f0f"/><stop offset="0.954" stop-color="#0c0c0c"/><stop offset="0.977" stop-color="#080808"/><stop offset="1.000" stop-color="#040404"/></linearGradient>
<linearGradient id="g42" gradientUnits="userSpaceOnUse" x1="587.1" y1="434.0" x2="607.9" y2="287.0"><stop offset="0.000" stop-color="#aeaeae"/><stop offset="0.019" stop-color="#acacac"/><stop offset="0.049" stop-color="#aaaaaa"/><stop offset="0.108" stop-color="#a4a4a4"/><stop offset="0.180" stop-color="#9f9f9f"/><stop offset="0.260" stop-color="#9d9d9d"/><stop offset="0.340" stop-color="#9d9d9d"/><stop offset="0.415" stop-color="#a0a0a0"/><stop offset="0.481" stop-color="#a3a3a3"/><stop offset="0.530" stop-color="#a4a4a4"/><stop offset="0.572" stop-color="#a3a3a3"/><stop offset="0.620" stop-color="#9f9f9f"/><stop offset="0.666" stop-color="#979797"/><stop offset="0.709" stop-color="#8c8c8c"/><stop offset="0.752" stop-color="#818181"/><stop offset="0.795" stop-color="#757575"/><stop offset="0.836" stop-color="#6a6a6a"/><stop offset="0.871" stop-color="#626262"/><stop offset="0.901" stop-color="#595959"/><stop offset="0.929" stop-color="#4b4b4b"/><stop offset="0.954" stop-color="#3a3a3a"/><stop offset="0.977" stop-color="#262626"/><stop offset="1.000" stop-color="#121212"/></linearGradient>
<linearGradient id="g43" gradientUnits="userSpaceOnUse" x1="587.1" y1="434.0" x2="607.9" y2="287.0"><stop offset="0.000" stop-color="#ededed"/><stop offset="0.019" stop-color="#e8e8e8"/><stop offset="0.049" stop-color="#e1e1e1"/><stop offset="0.108" stop-color="#d2d2d2"/><stop offset="0.180" stop-color="#c4c4c4"/><stop offset="0.260" stop-color="#bebebe"/><stop offset="0.340" stop-color="#bebebe"/><stop offset="0.415" stop-color="#c7c7c7"/><stop offset="0.481" stop-color="#d0d0d0"/><stop offset="0.530" stop-color="#d3d3d3"/><stop offset="0.572" stop-color="#d0d0d0"/><stop offset="0.620" stop-color="#c3c3c3"/><stop offset="0.666" stop-color="#b3b3b3"/><stop offset="0.709" stop-color="#a6a6a6"/><stop offset="0.752" stop-color="#999999"/><stop offset="0.795" stop-color="#8b8b8b"/><stop offset="0.836" stop-color="#7e7e7e"/><stop offset="0.871" stop-color="#757575"/><stop offset="0.901" stop-color="#696969"/><stop offset="0.929" stop-color="#595959"/><stop offset="0.954" stop-color="#444444"/><stop offset="0.977" stop-color="#2d2d2d"/><stop offset="1.000" stop-color="#151515"/></linearGradient>
<linearGradient id="g44" gradientUnits="userSpaceOnUse" x1="615.6" y1="360.0" x2="627.6" y2="414.0"><stop offset="0.000" stop-color="#999999"/><stop offset="0.129" stop-color="#969696"/><stop offset="0.263" stop-color="#949494"/><stop offset="0.411" stop-color="#919191"/><stop offset="0.559" stop-color="#8f8f8f"/><stop offset="0.695" stop-color="#919191"/><stop offset="0.818" stop-color="#949494"/><stop offset="0.914" stop-color="#969696"/><stop offset="1.000" stop-color="#999999"/></linearGradient>
<linearGradient id="g45" gradientUnits="userSpaceOnUse" x1="600.6" y1="372.0" x2="604.6" y2="310.0"><stop offset="0.000" stop-color="#0d0d0d"/><stop offset="0.136" stop-color="#1a1a1a"/><stop offset="0.273" stop-color="#242424"/><stop offset="0.411" stop-color="#272727"/><stop offset="0.547" stop-color="#262626"/><stop offset="0.681" stop-color="#262626"/><stop offset="0.806" stop-color="#242424"/><stop offset="0.907" stop-color="#1b1b1b"/><stop offset="1.000" stop-color="#0f0f0f"/></linearGradient>
<linearGradient id="g46" gradientUnits="userSpaceOnUse" x1="625.6" y1="434.0" x2="640.1" y2="277.0"><stop offset="0.000" stop-color="#212121"/><stop offset="0.022" stop-color="#212121"/><stop offset="0.045" stop-color="#202020"/><stop offset="0.071" stop-color="#1f1f1f"/><stop offset="0.103" stop-color="#1f1f1f"/><stop offset="0.144" stop-color="#1e1e1e"/><stop offset="0.187" stop-color="#1d1d1d"/><stop offset="0.221" stop-color="#1c1c1c"/><stop offset="0.259" stop-color="#1c1c1c"/><stop offset="0.311" stop-color="#1c1c1c"/><stop offset="0.368" stop-color="#1d1d1d"/><stop offset="0.423" stop-color="#1e1e1e"/><stop offset="0.477" stop-color="#1e1e1e"/><stop offset="0.525" stop-color="#1e1e1e"/><stop offset="0.573" stop-color="#1d1d1d"/><stop offset="0.627" stop-color="#1c1c1c"/><stop offset="0.680" stop-color="#1a1a1a"/><stop offset="0.726" stop-color="#191919"/><stop offset="0.768" stop-color="#171717"/><stop offset="0.807" stop-color="#151515"/><stop offset="0.843" stop-color="#131313"/><stop offset="0.876" stop-color="#111111"/><stop offset="0.905" stop-color="#0f0f0f"/><stop offset="0.932" stop-color="#0c0c0c"/><stop offset="0.956" stop-color="#080808"/><stop offset="0.978" stop-color="#050505"/><stop offset="1.000" stop-color="#020202"/></linearGradient>
<linearGradient id="g47" gradientUnits="userSpaceOnUse" x1="625.6" y1="434.0" x2="640.1" y2="277.0"><stop offset="0.000" stop-color="#9d9d9d"/><stop offset="0.022" stop-color="#9c9c9c"/><stop offset="0.045" stop-color="#9b9b9b"/><stop offset="0.071" stop-color="#989898"/><stop offset="0.103" stop-color="#959595"/><stop offset="0.144" stop-color="#909090"/><stop offset="0.187" stop-color="#8c8c8c"/><stop offset="0.221" stop-color="#898989"/><stop offset="0.259" stop-color="#878787"/><stop offset="0.311" stop-color="#898989"/><stop offset="0.368" stop-color="#8c8c8c"/><stop offset="0.423" stop-color="#909090"/><stop offset="0.477" stop-color="#929292"/><stop offset="0.525" stop-color="#909090"/><stop offset="0.573" stop-color="#8c8c8c"/><stop offset="0.627" stop-color="#868686"/><stop offset="0.680" stop-color="#7e7e7e"/><stop offset="0.726" stop-color="#777777"/><stop offset="0.768" stop-color="#6f6f6f"/><stop offset="0.807" stop-color="#666666"/><stop offset="0.843" stop-color="#5d5d5d"/><stop offset="0.876" stop-color="#535353"/><stop offset="0.905" stop-color="#474747"/><stop offset="0.932" stop-color="#383838"/><stop offset="0.956" stop-color="#282828"/><stop offset="0.978" stop-color="#191919"/><stop offset="1.000" stop-color="#0b0b0b"/></linearGradient>
<linearGradient id="g48" gradientUnits="userSpaceOnUse" x1="625.6" y1="434.0" x2="640.1" y2="277.0"><stop offset="0.000" stop-color="#bebebe"/><stop offset="0.022" stop-color="#bbbbbb"/><stop offset="0.045" stop-color="#b8b8b8"/><stop offset="0.071" stop-color="#b5b5b5"/><stop offset="0.103" stop-color="#b0b0b0"/><stop offset="0.144" stop-color="#ababab"/><stop offset="0.187" stop-color="#a6a6a6"/><stop offset="0.221" stop-color="#a2a2a2"/><stop offset="0.259" stop-color="#a1a1a1"/><stop offset="0.311" stop-color="#a2a2a2"/><stop offset="0.368" stop-color="#a6a6a6"/><stop offset="0.423" stop-color="#ababab"/><stop offset="0.477" stop-color="#aeaeae"/><stop offset="0.525" stop-color="#ababab"/><stop offset="0.573" stop-color="#a6a6a6"/><stop offset="0.627" stop-color="#9f9f9f"/><stop offset="0.680" stop-color="#969696"/><stop offset="0.726" stop-color="#8d8d8d"/><stop offset="0.768" stop-color="#848484"/><stop offset="0.807" stop-color="#7a7a7a"/><stop offset="0.843" stop-color="#6f6f6f"/><stop offset="0.876" stop-color="#626262"/><stop offset="0.905" stop-color="#545454"/><stop offset="0.932" stop-color="#424242"/><stop offset="0.956" stop-color="#2f2f2f"/><stop offset="0.978" stop-color="#1e1e1e"/><stop offset="1.000" stop-color="#0d0d0d"/></linearGradient>
<linearGradient id="g49" gradientUnits="userSpaceOnUse" x1="645.6" y1="370.0" x2="648.6" y2="395.0"><stop offset="0.000" stop-color="#4c4c4c"/><stop offset="0.239" stop-color="#474747"/><stop offset="0.483" stop-color="#404040"/><stop offset="0.739" stop-color="#303030"/><stop offset="1.000" stop-color="#1f1f1f"/></linearGradient>
<linearGradient id="g50" gradientUnits="userSpaceOnUse" x1="634.6" y1="318.0" x2="636.6" y2="295.0"><stop offset="0.000" stop-color="#0d0d0d"/><stop offset="0.289" stop-color="#1b1b1b"/><stop offset="0.563" stop-color="#242424"/><stop offset="0.789" stop-color="#1e1e1e"/><stop offset="1.000" stop-color="#141414"/></linearGradient>
<linearGradient id="g51" gradientUnits="userSpaceOnUse" x1="666.6" y1="432.0" x2="671.6" y2="394.0"><stop offset="0.000" stop-color="#1a1a1a"/><stop offset="0.231" stop-color="#1e1e1e"/><stop offset="0.448" stop-color="#212121"/><stop offset="0.635" stop-color="#1f1f1f"/><stop offset="0.791" stop-color="#1a1a1a"/><stop offset="0.904" stop-color="#121212"/><stop offset="1.000" stop-color="#0a0a0a"/></linearGradient>
<linearGradient id="g52" gradientUnits="userSpaceOnUse" x1="680.6" y1="432.0" x2="685.1" y2="390.0"><stop offset="0.000" stop-color="#1a1a1a"/><stop offset="0.206" stop-color="#202020"/><stop offset="0.405" stop-color="#242424"/><stop offset="0.595" stop-color="#232323"/><stop offset="0.763" stop-color="#1f1f1f"/><stop offset="0.889" stop-color="#151515"/><stop offset="1.000" stop-color="#0a0a0a"/></linearGradient>
<linearGradient id="g53" gradientUnits="userSpaceOnUse" x1="684.6" y1="402.0" x2="689.6" y2="430.0"><stop offset="0.000" stop-color="#1a1a1a"/><stop offset="0.230" stop-color="#1d1d1d"/><stop offset="0.468" stop-color="#1f1f1f"/><stop offset="0.730" stop-color="#1a1a1a"/><stop offset="1.000" stop-color="#141414"/></linearGradient>
<linearGradient id="g54" gradientUnits="userSpaceOnUse" x1="188.6" y1="432.0" x2="193.6" y2="385.0"><stop offset="0.000" stop-color="#1a1a1a"/><stop offset="0.231" stop-color="#171717"/><stop offset="0.470" stop-color="#141414"/><stop offset="0.731" stop-color="#101010"/><stop offset="1.000" stop-color="#0a0a0a"/></linearGradient>
<linearGradient id="g55" gradientUnits="userSpaceOnUse" x1="259.0" y1="0.0" x2="224.0" y2="0.0"><stop offset="0.029" stop-color="#242424"/><stop offset="0.139" stop-color="#212121"/><stop offset="0.257" stop-color="#1f1f1f"/><stop offset="0.398" stop-color="#1a1a1a"/><stop offset="0.543" stop-color="#161616"/><stop offset="0.680" stop-color="#111111"/><stop offset="0.800" stop-color="#0d0d0d"/><stop offset="0.886" stop-color="#090909"/><stop offset="0.943" stop-color="#060606"/><stop offset="0.964" stop-color="#040404"/><stop offset="0.971" stop-color="#030303"/></linearGradient>
<linearGradient id="g56" gradientUnits="userSpaceOnUse" x1="259.0" y1="0.0" x2="224.0" y2="0.0"><stop offset="0.029" stop-color="#7c7c7c"/><stop offset="0.139" stop-color="#747474"/><stop offset="0.257" stop-color="#6a6a6a"/><stop offset="0.398" stop-color="#5c5c5c"/><stop offset="0.543" stop-color="#4b4b4b"/><stop offset="0.680" stop-color="#3b3b3b"/><stop offset="0.800" stop-color="#2c2c2c"/><stop offset="0.886" stop-color="#202020"/><stop offset="0.943" stop-color="#161616"/><stop offset="0.964" stop-color="#0f0f0f"/><stop offset="0.971" stop-color="#090909"/></linearGradient>
<linearGradient id="g57" gradientUnits="userSpaceOnUse" x1="259.0" y1="0.0" x2="224.0" y2="0.0"><stop offset="0.029" stop-color="#939393"/><stop offset="0.139" stop-color="#8a8a8a"/><stop offset="0.257" stop-color="#7e7e7e"/><stop offset="0.398" stop-color="#6d6d6d"/><stop offset="0.543" stop-color="#5a5a5a"/><stop offset="0.680" stop-color="#464646"/><stop offset="0.800" stop-color="#353535"/><stop offset="0.886" stop-color="#262626"/><stop offset="0.943" stop-color="#1a1a1a"/><stop offset="0.964" stop-color="#121212"/><stop offset="0.971" stop-color="#0b0b0b"/></linearGradient>
<linearGradient id="g58" gradientUnits="userSpaceOnUse" x1="180.0" y1="228.0" x2="262.5" y2="128.0"><stop offset="0.000" stop-color="#2f2f2f"/><stop offset="0.053" stop-color="#2f2f2f"/><stop offset="0.107" stop-color="#2f2f2f"/><stop offset="0.155" stop-color="#2f2f2f"/><stop offset="0.214" stop-color="#2e2e2e"/><stop offset="0.304" stop-color="#2b2b2b"/><stop offset="0.404" stop-color="#282828"/><stop offset="0.494" stop-color="#272727"/><stop offset="0.582" stop-color="#262626"/><stop offset="0.670" stop-color="#252525"/><stop offset="0.749" stop-color="#242424"/><stop offset="0.805" stop-color="#242424"/><stop offset="0.849" stop-color="#232323"/><stop offset="0.889" stop-color="#222222"/><stop offset="0.923" stop-color="#222222"/><stop offset="0.952" stop-color="#212121"/><stop offset="0.974" stop-color="#202020"/><stop offset="0.989" stop-color="#1f1f1f"/><stop offset="1.000" stop-color="#1e1e1e"/></linearGradient>
<linearGradient id="g59" gradientUnits="userSpaceOnUse" x1="180.0" y1="228.0" x2="262.5" y2="128.0"><stop offset="0.000" stop-color="#b3b3b3"/><stop offset="0.053" stop-color="#b2b2b2"/><stop offset="0.107" stop-color="#b2b2b2"/><stop offset="0.155" stop-color="#b1b1b1"/><stop offset="0.214" stop-color="#b0b0b0"/><stop offset="0.304" stop-color="#aaaaaa"/><stop offset="0.404" stop-color="#a4a4a4"/><stop offset="0.494" stop-color="#a1a1a1"/><stop offset="0.582" stop-color="#9f9f9f"/><stop offset="0.670" stop-color="#9e9e9e"/><stop offset="0.749" stop-color="#9c9c9c"/><stop offset="0.805" stop-color="#9b9b9b"/><stop offset="0.849" stop-color="#999999"/><stop offset="0.889" stop-color="#969696"/><stop offset="0.923" stop-color="#929292"/><stop offset="0.952" stop-color="#8e8e8e"/><stop offset="0.974" stop-color="#8a8a8a"/><stop offset="0.989" stop-color="#868686"/><stop offset="1.000" stop-color="#838383"/></linearGradient>
<linearGradient id="g60" gradientUnits="userSpaceOnUse" x1="180.0" y1="228.0" x2="262.5" y2="128.0"><stop offset="0.000" stop-color="#fcfcfc"/><stop offset="0.053" stop-color="#fafafa"/><stop offset="0.107" stop-color="#f9f9f9"/><stop offset="0.155" stop-color="#f8f8f8"/><stop offset="0.214" stop-color="#f3f3f3"/><stop offset="0.304" stop-color="#e3e3e3"/><stop offset="0.404" stop-color="#d3d3d3"/><stop offset="0.494" stop-color="#cacaca"/><stop offset="0.582" stop-color="#c4c4c4"/><stop offset="0.670" stop-color="#bfbfbf"/><stop offset="0.749" stop-color="#bbbbbb"/><stop offset="0.805" stop-color="#b8b8b8"/><stop offset="0.849" stop-color="#b6b6b6"/><stop offset="0.889" stop-color="#b2b2b2"/><stop offset="0.923" stop-color="#aeaeae"/><stop offset="0.952" stop-color="#a9a9a9"/><stop offset="0.974" stop-color="#a3a3a3"/><stop offset="0.989" stop-color="#9f9f9f"/><stop offset="1.000" stop-color="#9b9b9b"/></linearGradient>
<linearGradient id="g61" gradientUnits="userSpaceOnUse" x1="331.0" y1="0.0" x2="441.0" y2="0.0"><stop offset="0.000" stop-color="#080808"/><stop offset="0.039" stop-color="#0b0b0b"/><stop offset="0.082" stop-color="#0e0e0e"/><stop offset="0.130" stop-color="#111111"/><stop offset="0.195" stop-color="#131313"/><stop offset="0.296" stop-color="#151515"/><stop offset="0.409" stop-color="#161616"/><stop offset="0.520" stop-color="#161616"/><stop offset="0.623" stop-color="#171717"/><stop offset="0.704" stop-color="#181818"/><stop offset="0.773" stop-color="#181818"/><stop offset="0.832" stop-color="#181818"/><stop offset="0.882" stop-color="#171717"/><stop offset="0.922" stop-color="#141414"/><stop offset="0.955" stop-color="#111111"/><stop offset="0.979" stop-color="#0c0c0c"/><stop offset="1.000" stop-color="#080808"/></linearGradient>
<linearGradient id="g62" gradientUnits="userSpaceOnUse" x1="331.0" y1="0.0" x2="441.0" y2="0.0"><stop offset="0.000" stop-color="#1b1b1b"/><stop offset="0.039" stop-color="#262626"/><stop offset="0.082" stop-color="#313131"/><stop offset="0.130" stop-color="#3b3b3b"/><stop offset="0.195" stop-color="#434343"/><stop offset="0.296" stop-color="#484848"/><stop offset="0.409" stop-color="#4b4b4b"/><stop offset="0.520" stop-color="#4e4e4e"/><stop offset="0.623" stop-color="#505050"/><stop offset="0.704" stop-color="#535353"/><stop offset="0.773" stop-color="#545454"/><stop offset="0.832" stop-color="#545454"/><stop offset="0.882" stop-color="#505050"/><stop offset="0.922" stop-color="#464646"/><stop offset="0.955" stop-color="#3a3a3a"/><stop offset="0.979" stop-color="#2b2b2b"/><stop offset="1.000" stop-color="#1b1b1b"/></linearGradient>
<linearGradient id="g63" gradientUnits="userSpaceOnUse" x1="331.0" y1="0.0" x2="441.0" y2="0.0"><stop offset="0.000" stop-color="#202020"/><stop offset="0.039" stop-color="#2d2d2d"/><stop offset="0.082" stop-color="#3a3a3a"/><stop offset="0.130" stop-color="#454545"/><stop offset="0.195" stop-color="#4f4f4f"/><stop offset="0.296" stop-color="#555555"/><stop offset="0.409" stop-color="#5a5a5a"/><stop offset="0.520" stop-color="#5c5c5c"/><stop offset="0.623" stop-color="#5f5f5f"/><stop offset="0.704" stop-color="#626262"/><stop offset="0.773" stop-color="#646464"/><stop offset="0.832" stop-color="#636363"/><stop offset="0.882" stop-color="#5f5f5f"/><stop offset="0.922" stop-color="#545454"/><stop offset="0.955" stop-color="#444444"/><stop offset="0.979" stop-color="#333333"/><stop offset="1.000" stop-color="#202020"/></linearGradient>
<linearGradient id="g64" gradientUnits="userSpaceOnUse" x1="280.0" y1="0.0" x2="445.0" y2="0.0"><stop offset="0.000" stop-color="#0f0f0f"/><stop offset="0.047" stop-color="#121212"/><stop offset="0.097" stop-color="#151515"/><stop offset="0.162" stop-color="#1c1c1c"/><stop offset="0.224" stop-color="#232323"/><stop offset="0.264" stop-color="#272727"/><stop offset="0.297" stop-color="#282828"/><stop offset="0.328" stop-color="#262626"/><stop offset="0.368" stop-color="#242424"/><stop offset="0.436" stop-color="#222222"/><stop offset="0.510" stop-color="#222222"/><stop offset="0.570" stop-color="#232323"/><stop offset="0.624" stop-color="#242424"/><stop offset="0.678" stop-color="#252525"/><stop offset="0.724" stop-color="#272727"/><stop offset="0.755" stop-color="#262626"/><stop offset="0.782" stop-color="#242424"/><stop offset="0.817" stop-color="#202020"/><stop offset="0.853" stop-color="#1d1d1d"/><stop offset="0.885" stop-color="#191919"/><stop offset="0.915" stop-color="#151515"/><stop offset="0.941" stop-color="#111111"/><stop offset="0.964" stop-color="#0d0d0d"/><stop offset="0.983" stop-color="#090909"/><stop offset="1.000" stop-color="#050505"/></linearGradient>
<linearGradient id="g65" gradientUnits="userSpaceOnUse" x1="280.0" y1="0.0" x2="445.0" y2="0.0"><stop offset="0.000" stop-color="#434343"/><stop offset="0.047" stop-color="#4e4e4e"/><stop offset="0.097" stop-color="#5d5d5d"/><stop offset="0.162" stop-color="#7a7a7a"/><stop offset="0.224" stop-color="#979797"/><stop offset="0.264" stop-color="#a1a1a1"/><stop offset="0.297" stop-color="#a4a4a4"/><stop offset="0.328" stop-color="#a1a1a1"/><stop offset="0.368" stop-color="#9b9b9b"/><stop offset="0.436" stop-color="#969696"/><stop offset="0.510" stop-color="#949494"/><stop offset="0.570" stop-color="#969696"/><stop offset="0.624" stop-color="#9b9b9b"/><stop offset="0.678" stop-color="#9f9f9f"/><stop offset="0.724" stop-color="#a1a1a1"/><stop offset="0.755" stop-color="#9f9f9f"/><stop offset="0.782" stop-color="#9b9b9b"/><stop offset="0.817" stop-color="#8d8d8d"/><stop offset="0.853" stop-color="#7c7c7c"/><stop offset="0.885" stop-color="#6d6d6d"/><stop offset="0.915" stop-color="#5d5d5d"/><stop offset="0.941" stop-color="#4a4a4a"/><stop offset="0.964" stop-color="#373737"/><stop offset="0.983" stop-color="#272727"/><stop offset="1.000" stop-color="#161616"/></linearGradient>
<linearGradient id="g66" gradientUnits="userSpaceOnUse" x1="280.0" y1="0.0" x2="445.0" y2="0.0"><stop offset="0.000" stop-color="#4f4f4f"/><stop offset="0.047" stop-color="#5c5c5c"/><stop offset="0.097" stop-color="#6f6f6f"/><stop offset="0.162" stop-color="#919191"/><stop offset="0.224" stop-color="#b3b3b3"/><stop offset="0.264" stop-color="#c9c9c9"/><stop offset="0.297" stop-color="#d3d3d3"/><stop offset="0.328" stop-color="#c8c8c8"/><stop offset="0.368" stop-color="#b8b8b8"/><stop offset="0.436" stop-color="#b2b2b2"/><stop offset="0.510" stop-color="#afafaf"/><stop offset="0.570" stop-color="#b2b2b2"/><stop offset="0.624" stop-color="#b8b8b8"/><stop offset="0.678" stop-color="#c2c2c2"/><stop offset="0.724" stop-color="#c8c8c8"/><stop offset="0.755" stop-color="#c4c4c4"/><stop offset="0.782" stop-color="#b8b8b8"/><stop offset="0.817" stop-color="#a7a7a7"/><stop offset="0.853" stop-color="#939393"/><stop offset="0.885" stop-color="#828282"/><stop offset="0.915" stop-color="#6f6f6f"/><stop offset="0.941" stop-color="#585858"/><stop offset="0.964" stop-color="#424242"/><stop offset="0.983" stop-color="#2e2e2e"/><stop offset="1.000" stop-color="#1a1a1a"/></linearGradient>
<linearGradient id="g67" gradientUnits="userSpaceOnUse" x1="408.0" y1="0.0" x2="475.0" y2="0.0"><stop offset="0.000" stop-color="#191919"/><stop offset="0.111" stop-color="#212121"/><stop offset="0.224" stop-color="#282828"/><stop offset="0.343" stop-color="#2e2e2e"/><stop offset="0.470" stop-color="#313131"/><stop offset="0.610" stop-color="#333333"/><stop offset="0.751" stop-color="#343434"/><stop offset="0.877" stop-color="#343434"/><stop offset="1.000" stop-color="#343434"/></linearGradient>
<linearGradient id="g68" gradientUnits="userSpaceOnUse" x1="408.0" y1="0.0" x2="475.0" y2="0.0"><stop offset="0.000" stop-color="#646464"/><stop offset="0.111" stop-color="#838383"/><stop offset="0.224" stop-color="#9d9d9d"/><stop offset="0.343" stop-color="#a7a7a7"/><stop offset="0.470" stop-color="#aeaeae"/><stop offset="0.610" stop-color="#b1b1b1"/><stop offset="0.751" stop-color="#b2b2b2"/><stop offset="0.877" stop-color="#b2b2b2"/><stop offset="1.000" stop-color="#b2b2b2"/></linearGradient>
<linearGradient id="g69" gradientUnits="userSpaceOnUse" x1="408.0" y1="0.0" x2="475.0" y2="0.0"><stop offset="0.000" stop-color="#767676"/><stop offset="0.111" stop-color="#9c9c9c"/><stop offset="0.224" stop-color="#bebebe"/><stop offset="0.343" stop-color="#dadada"/><stop offset="0.470" stop-color="#ededed"/><stop offset="0.610" stop-color="#f6f6f6"/><stop offset="0.751" stop-color="#f9f9f9"/><stop offset="0.877" stop-color="#fafafa"/><stop offset="1.000" stop-color="#f9f9f9"/></linearGradient>
<linearGradient id="g70" gradientUnits="userSpaceOnUse" x1="503.6" y1="433.9" x2="514.5" y2="185.9"><stop offset="0.000" stop-color="#272727"/><stop offset="0.012" stop-color="#272727"/><stop offset="0.028" stop-color="#262626"/><stop offset="0.055" stop-color="#252525"/><stop offset="0.085" stop-color="#242424"/><stop offset="0.115" stop-color="#252525"/><stop offset="0.146" stop-color="#252525"/><stop offset="0.177" stop-color="#242424"/><stop offset="0.206" stop-color="#232323"/><stop offset="0.232" stop-color="#212121"/><stop offset="0.255" stop-color="#202020"/><stop offset="0.271" stop-color="#1f1f1f"/><stop offset="0.287" stop-color="#1e1e1e"/><stop offset="0.306" stop-color="#1f1f1f"/><stop offset="0.328" stop-color="#212121"/><stop offset="0.355" stop-color="#222222"/><stop offset="0.388" stop-color="#232323"/><stop offset="0.425" stop-color="#232323"/><stop offset="0.465" stop-color="#232323"/><stop offset="0.501" stop-color="#222222"/><stop offset="0.537" stop-color="#212121"/><stop offset="0.577" stop-color="#1e1e1e"/><stop offset="0.618" stop-color="#1c1c1c"/><stop offset="0.658" stop-color="#1c1c1c"/><stop offset="0.698" stop-color="#1c1c1c"/><stop offset="0.739" stop-color="#1c1c1c"/><stop offset="0.779" stop-color="#1d1d1d"/><stop offset="0.812" stop-color="#1d1d1d"/><stop offset="0.843" stop-color="#1d1d1d"/><stop offset="0.873" stop-color="#1c1c1c"/><stop offset="0.899" stop-color="#1a1a1a"/><stop offset="0.921" stop-color="#171717"/><stop offset="0.940" stop-color="#131313"/><stop offset="0.956" stop-color="#101010"/><stop offset="0.972" stop-color="#0b0b0b"/><stop offset="0.986" stop-color="#070707"/><stop offset="1.000" stop-color="#030303"/></linearGradient>
<linearGradient id="g71" gradientUnits="userSpaceOnUse" x1="503.6" y1="433.9" x2="514.5" y2="185.9"><stop offset="0.000" stop-color="#acacac"/><stop offset="0.012" stop-color="#aaaaaa"/><stop offset="0.028" stop-color="#a8a8a8"/><stop offset="0.055" stop-color="#a6a6a6"/><stop offset="0.085" stop-color="#a4a4a4"/><stop offset="0.115" stop-color="#a6a6a6"/><stop offset="0.146" stop-color="#a7a7a7"/><stop offset="0.177" stop-color="#a5a5a5"/><stop offset="0.206" stop-color="#a1a1a1"/><stop offset="0.232" stop-color="#9e9e9e"/><stop offset="0.255" stop-color="#999999"/><stop offset="0.271" stop-color="#949494"/><stop offset="0.287" stop-color="#929292"/><stop offset="0.306" stop-color="#989898"/><stop offset="0.328" stop-color="#9d9d9d"/><stop offset="0.355" stop-color="#a0a0a0"/><stop offset="0.388" stop-color="#a1a1a1"/><stop offset="0.425" stop-color="#a2a2a2"/><stop offset="0.465" stop-color="#a1a1a1"/><stop offset="0.501" stop-color="#9f9f9f"/><stop offset="0.537" stop-color="#9c9c9c"/><stop offset="0.577" stop-color="#939393"/><stop offset="0.618" stop-color="#8a8a8a"/><stop offset="0.658" stop-color="#868686"/><stop offset="0.698" stop-color="#858585"/><stop offset="0.739" stop-color="#888888"/><stop offset="0.779" stop-color="#8c8c8c"/><stop offset="0.812" stop-color="#8d8d8d"/><stop offset="0.843" stop-color="#8b8b8b"/><stop offset="0.873" stop-color="#858585"/><stop offset="0.899" stop-color="#7c7c7c"/><stop offset="0.921" stop-color="#6e6e6e"/><stop offset="0.940" stop-color="#5d5d5d"/><stop offset="0.956" stop-color="#4b4b4b"/><stop offset="0.972" stop-color="#373737"/><stop offset="0.986" stop-color="#232323"/><stop offset="1.000" stop-color="#0d0d0d"/></linearGradient>
<linearGradient id="g72" gradientUnits="userSpaceOnUse" x1="503.6" y1="433.9" x2="514.5" y2="185.9"><stop offset="0.000" stop-color="#e7e7e7"/><stop offset="0.012" stop-color="#e1e1e1"/><stop offset="0.028" stop-color="#dbdbdb"/><stop offset="0.055" stop-color="#d6d6d6"/><stop offset="0.085" stop-color="#d3d3d3"/><stop offset="0.115" stop-color="#d6d6d6"/><stop offset="0.146" stop-color="#d9d9d9"/><stop offset="0.177" stop-color="#d3d3d3"/><stop offset="0.206" stop-color="#cacaca"/><stop offset="0.232" stop-color="#bfbfbf"/><stop offset="0.255" stop-color="#b6b6b6"/><stop offset="0.271" stop-color="#b0b0b0"/><stop offset="0.287" stop-color="#aeaeae"/><stop offset="0.306" stop-color="#b5b5b5"/><stop offset="0.328" stop-color="#bebebe"/><stop offset="0.355" stop-color="#c5c5c5"/><stop offset="0.388" stop-color="#cacaca"/><stop offset="0.425" stop-color="#cccccc"/><stop offset="0.465" stop-color="#cacaca"/><stop offset="0.501" stop-color="#c4c4c4"/><stop offset="0.537" stop-color="#bbbbbb"/><stop offset="0.577" stop-color="#afafaf"/><stop offset="0.618" stop-color="#a3a3a3"/><stop offset="0.658" stop-color="#9f9f9f"/><stop offset="0.698" stop-color="#9e9e9e"/><stop offset="0.739" stop-color="#a2a2a2"/><stop offset="0.779" stop-color="#a6a6a6"/><stop offset="0.812" stop-color="#a7a7a7"/><stop offset="0.843" stop-color="#a5a5a5"/><stop offset="0.873" stop-color="#9e9e9e"/><stop offset="0.899" stop-color="#939393"/><stop offset="0.921" stop-color="#838383"/><stop offset="0.940" stop-color="#6f6f6f"/><stop offset="0.956" stop-color="#595959"/><stop offset="0.972" stop-color="#424242"/><stop offset="0.986" stop-color="#292929"/><stop offset="1.000" stop-color="#101010"/></linearGradient>
<linearGradient id="g73" gradientUnits="userSpaceOnUse" x1="508.0" y1="262.9" x2="509.5" y2="228.9"><stop offset="0.000" stop-color="#0d0d0d"/><stop offset="0.176" stop-color="#1a1a1a"/><stop offset="0.352" stop-color="#242424"/><stop offset="0.532" stop-color="#252525"/><stop offset="0.705" stop-color="#212121"/><stop offset="0.856" stop-color="#181818"/><stop offset="1.000" stop-color="#0d0d0d"/></linearGradient>
<linearGradient id="g74" gradientUnits="userSpaceOnUse" x1="517.5" y1="380.9" x2="517.6" y2="360.9"><stop offset="0.000" stop-color="#0d0d0d"/><stop offset="0.250" stop-color="#242424"/><stop offset="0.500" stop-color="#333333"/><stop offset="0.750" stop-color="#2a2a2a"/><stop offset="1.000" stop-color="#1a1a1a"/></linearGradient>
<linearGradient id="g75" gradientUnits="userSpaceOnUse" x1="547.0" y1="358.9" x2="545.7" y2="307.9"><stop offset="0.000" stop-color="#1b1b1b"/><stop offset="0.118" stop-color="#191919"/><stop offset="0.235" stop-color="#181818"/><stop offset="0.353" stop-color="#181818"/><stop offset="0.470" stop-color="#161616"/><stop offset="0.593" stop-color="#151515"/><stop offset="0.706" stop-color="#121212"/><stop offset="0.790" stop-color="#0e0e0e"/><stop offset="0.863" stop-color="#0a0a0a"/><stop offset="0.933" stop-color="#060606"/><stop offset="1.000" stop-color="#020202"/></linearGradient>
<linearGradient id="g76" gradientUnits="userSpaceOnUse" x1="547.0" y1="358.9" x2="545.7" y2="307.9"><stop offset="0.000" stop-color="#818181"/><stop offset="0.118" stop-color="#7b7b7b"/><stop offset="0.235" stop-color="#767676"/><stop offset="0.353" stop-color="#727272"/><stop offset="0.470" stop-color="#6d6d6d"/><stop offset="0.593" stop-color="#656565"/><stop offset="0.706" stop-color="#595959"/><stop offset="0.790" stop-color="#464646"/><stop offset="0.863" stop-color="#313131"/><stop offset="0.933" stop-color="#1e1e1e"/><stop offset="1.000" stop-color="#0b0b0b"/></linearGradient>
<linearGradient id="g77" gradientUnits="userSpaceOnUse" x1="547.0" y1="358.9" x2="545.7" y2="307.9"><stop offset="0.000" stop-color="#999999"/><stop offset="0.118" stop-color="#929292"/><stop offset="0.235" stop-color="#8c8c8c"/><stop offset="0.353" stop-color="#878787"/><stop offset="0.470" stop-color="#818181"/><stop offset="0.593" stop-color="#777777"/><stop offset="0.706" stop-color="#696969"/><stop offset="0.790" stop-color="#535353"/><stop offset="0.863" stop-color="#3a3a3a"/><stop offset="0.933" stop-color="#232323"/><stop offset="1.000" stop-color="#0d0d0d"/></linearGradient>
<linearGradient id="g78" gradientUnits="userSpaceOnUse" x1="529.6" y1="433.9" x2="547.0" y2="358.9"><stop offset="0.000" stop-color="#222222"/><stop offset="0.042" stop-color="#222222"/><stop offset="0.091" stop-color="#212121"/><stop offset="0.157" stop-color="#202020"/><stop offset="0.233" stop-color="#1f1f1f"/><stop offset="0.317" stop-color="#1f1f1f"/><stop offset="0.405" stop-color="#1e1e1e"/><stop offset="0.499" stop-color="#1e1e1e"/><stop offset="0.591" stop-color="#1e1e1e"/><stop offset="0.675" stop-color="#1e1e1e"/><stop offset="0.753" stop-color="#1f1f1f"/><stop offset="0.825" stop-color="#1e1e1e"/><stop offset="0.890" stop-color="#1e1e1e"/><stop offset="0.947" stop-color="#1c1c1c"/><stop offset="1.000" stop-color="#1b1b1b"/></linearGradient>
<linearGradient id="g79" gradientUnits="userSpaceOnUse" x1="529.6" y1="433.9" x2="547.0" y2="358.9"><stop offset="0.000" stop-color="#9f9f9f"/><stop offset="0.042" stop-color="#9e9e9e"/><stop offset="0.091" stop-color="#9d9d9d"/><stop offset="0.157" stop-color="#9b9b9b"/><stop offset="0.233" stop-color="#979797"/><stop offset="0.317" stop-color="#939393"/><stop offset="0.405" stop-color="#919191"/><stop offset="0.499" stop-color="#919191"/><stop offset="0.591" stop-color="#929292"/><stop offset="0.675" stop-color="#939393"/><stop offset="0.753" stop-color="#949494"/><stop offset="0.825" stop-color="#939393"/><stop offset="0.890" stop-color="#909090"/><stop offset="0.947" stop-color="#898989"/><stop offset="1.000" stop-color="#818181"/></linearGradient>
<linearGradient id="g80" gradientUnits="userSpaceOnUse" x1="529.6" y1="433.9" x2="547.0" y2="358.9"><stop offset="0.000" stop-color="#c4c4c4"/><stop offset="0.042" stop-color="#c1c1c1"/><stop offset="0.091" stop-color="#bebebe"/><stop offset="0.157" stop-color="#b8b8b8"/><stop offset="0.233" stop-color="#b3b3b3"/><stop offset="0.317" stop-color="#afafaf"/><stop offset="0.405" stop-color="#acacac"/><stop offset="0.499" stop-color="#adadad"/><stop offset="0.591" stop-color="#aeaeae"/><stop offset="0.675" stop-color="#afafaf"/><stop offset="0.753" stop-color="#afafaf"/><stop offset="0.825" stop-color="#aeaeae"/><stop offset="0.890" stop-color="#ababab"/><stop offset="0.947" stop-color="#a3a3a3"/><stop offset="1.000" stop-color="#999999"/></linearGradient>
<linearGradient id="g81" gradientUnits="userSpaceOnUse" x1="547.0" y1="360.9" x2="568.0" y2="396.9"><stop offset="0.000" stop-color="#1b1b1b"/><stop offset="0.095" stop-color="#1d1d1d"/><stop offset="0.193" stop-color="#1e1e1e"/><stop offset="0.301" stop-color="#1f1f1f"/><stop offset="0.409" stop-color="#202020"/><stop offset="0.512" stop-color="#212121"/><stop offset="0.615" stop-color="#212121"/><stop offset="0.722" stop-color="#222222"/><stop offset="0.825" stop-color="#232323"/><stop offset="0.915" stop-color="#242424"/><stop offset="1.000" stop-color="#252525"/></linearGradient>
<linearGradient id="g82" gradientUnits="userSpaceOnUse" x1="547.0" y1="360.9" x2="568.0" y2="396.9"><stop offset="0.000" stop-color="#818181"/><stop offset="0.095" stop-color="#8a8a8a"/><stop offset="0.193" stop-color="#929292"/><stop offset="0.301" stop-color="#989898"/><stop offset="0.409" stop-color="#9b9b9b"/><stop offset="0.512" stop-color="#9d9d9d"/><stop offset="0.615" stop-color="#9e9e9e"/><stop offset="0.722" stop-color="#a0a0a0"/><stop offset="0.825" stop-color="#a1a1a1"/><stop offset="0.915" stop-color="#a3a3a3"/><stop offset="1.000" stop-color="#a5a5a5"/></linearGradient>
<linearGradient id="g83" gradientUnits="userSpaceOnUse" x1="547.0" y1="360.9" x2="568.0" y2="396.9"><stop offset="0.000" stop-color="#999999"/><stop offset="0.095" stop-color="#a4a4a4"/><stop offset="0.193" stop-color="#aeaeae"/><stop offset="0.301" stop-color="#b4b4b4"/><stop offset="0.409" stop-color="#b8b8b8"/><stop offset="0.512" stop-color="#bcbcbc"/><stop offset="0.615" stop-color="#c0c0c0"/><stop offset="0.722" stop-color="#c4c4c4"/><stop offset="0.825" stop-color="#cacaca"/><stop offset="0.915" stop-color="#d0d0d0"/><stop offset="1.000" stop-color="#d6d6d6"/></linearGradient>
<linearGradient id="g84" gradientUnits="userSpaceOnUse" x1="538.0" y1="372.9" x2="544.0" y2="336.9"><stop offset="0.000" stop-color="#333333"/><stop offset="0.191" stop-color="#3d3d3d"/><stop offset="0.384" stop-color="#424242"/><stop offset="0.590" stop-color="#3e3e3e"/><stop offset="0.777" stop-color="#333333"/><stop offset="0.899" stop-color="#212121"/><stop offset="1.000" stop-color="#0d0d0d"/></linearGradient>
<linearGradient id="g85" gradientUnits="userSpaceOnUse" x1="556.5" y1="369.9" x2="549.6" y2="334.9"><stop offset="0.000" stop-color="#404040"/><stop offset="0.198" stop-color="#4b4b4b"/><stop offset="0.393" stop-color="#525252"/><stop offset="0.592" stop-color="#4d4d4d"/><stop offset="0.770" stop-color="#404040"/><stop offset="0.894" stop-color="#282828"/><stop offset="1.000" stop-color="#0d0d0d"/></linearGradient>
<linearGradient id="g86" gradientUnits="userSpaceOnUse" x1="528.5" y1="404.9" x2="534.0" y2="370.9"><stop offset="0.000" stop-color="#0d0d0d"/><stop offset="0.174" stop-color="#1d1d1d"/><stop offset="0.349" stop-color="#292929"/><stop offset="0.528" stop-color="#2c2c2c"/><stop offset="0.702" stop-color="#292929"/><stop offset="0.854" stop-color="#1d1d1d"/><stop offset="1.000" stop-color="#0d0d0d"/></linearGradient>
<linearGradient id="g87" gradientUnits="userSpaceOnUse" x1="239.0" y1="378.9" x2="237.0" y2="323.9"><stop offset="0.000" stop-color="#141414"/><stop offset="0.129" stop-color="#141414"/><stop offset="0.254" stop-color="#141414"/><stop offset="0.366" stop-color="#141414"/><stop offset="0.473" stop-color="#121212"/><stop offset="0.585" stop-color="#111111"/><stop offset="0.691" stop-color="#0f0f0f"/><stop offset="0.777" stop-color="#0c0c0c"/><stop offset="0.855" stop-color="#090909"/><stop offset="0.929" stop-color="#060606"/><stop offset="1.000" stop-color="#020202"/></linearGradient>
<linearGradient id="g88" gradientUnits="userSpaceOnUse" x1="239.0" y1="378.9" x2="237.0" y2="323.9"><stop offset="0.000" stop-color="#626262"/><stop offset="0.129" stop-color="#626262"/><stop offset="0.254" stop-color="#626262"/><stop offset="0.366" stop-color="#5e5e5e"/><stop offset="0.473" stop-color="#595959"/><stop offset="0.585" stop-color="#515151"/><stop offset="0.691" stop-color="#474747"/><stop offset="0.777" stop-color="#3b3b3b"/><stop offset="0.855" stop-color="#2c2c2c"/><stop offset="0.929" stop-color="#1c1c1c"/><stop offset="1.000" stop-color="#0b0b0b"/></linearGradient>
<linearGradient id="g89" gradientUnits="userSpaceOnUse" x1="239.0" y1="378.9" x2="237.0" y2="323.9"><stop offset="0.000" stop-color="#747474"/><stop offset="0.129" stop-color="#757575"/><stop offset="0.254" stop-color="#747474"/><stop offset="0.366" stop-color="#707070"/><stop offset="0.473" stop-color="#696969"/><stop offset="0.585" stop-color="#606060"/><stop offset="0.691" stop-color="#545454"/><stop offset="0.777" stop-color="#464646"/><stop offset="0.855" stop-color="#353535"/><stop offset="0.929" stop-color="#212121"/><stop offset="1.000" stop-color="#0d0d0d"/></linearGradient>
<linearGradient id="g90" gradientUnits="userSpaceOnUse" x1="220.0" y1="433.9" x2="237.5" y2="370.9"><stop offset="0.000" stop-color="#1d1d1d"/><stop offset="0.047" stop-color="#1d1d1d"/><stop offset="0.107" stop-color="#1c1c1c"/><stop offset="0.206" stop-color="#1a1a1a"/><stop offset="0.326" stop-color="#181818"/><stop offset="0.467" stop-color="#161616"/><stop offset="0.609" stop-color="#151515"/><stop offset="0.730" stop-color="#141414"/><stop offset="0.836" stop-color="#141414"/><stop offset="0.922" stop-color="#141414"/><stop offset="1.000" stop-color="#141414"/></linearGradient>
<linearGradient id="g91" gradientUnits="userSpaceOnUse" x1="220.0" y1="433.9" x2="237.5" y2="370.9"><stop offset="0.000" stop-color="#8e8e8e"/><stop offset="0.047" stop-color="#8d8d8d"/><stop offset="0.107" stop-color="#8a8a8a"/><stop offset="0.206" stop-color="#7f7f7f"/><stop offset="0.326" stop-color="#737373"/><stop offset="0.467" stop-color="#6a6a6a"/><stop offset="0.609" stop-color="#646464"/><stop offset="0.730" stop-color="#626262"/><stop offset="0.836" stop-color="#626262"/><stop offset="0.922" stop-color="#616161"/><stop offset="1.000" stop-color="#626262"/></linearGradient>
<linearGradient id="g92" gradientUnits="userSpaceOnUse" x1="220.0" y1="433.9" x2="237.5" y2="370.9"><stop offset="0.000" stop-color="#a9a9a9"/><stop offset="0.047" stop-color="#a7a7a7"/><stop offset="0.107" stop-color="#a3a3a3"/><stop offset="0.206" stop-color="#979797"/><stop offset="0.326" stop-color="#898989"/><stop offset="0.467" stop-color="#7e7e7e"/><stop offset="0.609" stop-color="#767676"/><stop offset="0.730" stop-color="#747474"/><stop offset="0.836" stop-color="#747474"/><stop offset="0.922" stop-color="#747474"/><stop offset="1.000" stop-color="#747474"/></linearGradient>
<linearGradient id="g93" gradientUnits="userSpaceOnUse" x1="240.0" y1="374.9" x2="255.5" y2="402.9"><stop offset="0.000" stop-color="#131313"/><stop offset="0.126" stop-color="#141414"/><stop offset="0.252" stop-color="#141414"/><stop offset="0.378" stop-color="#141414"/><stop offset="0.504" stop-color="#141414"/><stop offset="0.630" stop-color="#141414"/><stop offset="0.756" stop-color="#141414"/><stop offset="0.878" stop-color="#141414"/><stop offset="1.000" stop-color="#131313"/></linearGradient>
<linearGradient id="g94" gradientUnits="userSpaceOnUse" x1="240.0" y1="374.9" x2="255.5" y2="402.9"><stop offset="0.000" stop-color="#5d5d5d"/><stop offset="0.126" stop-color="#606060"/><stop offset="0.252" stop-color="#626262"/><stop offset="0.378" stop-color="#626262"/><stop offset="0.504" stop-color="#626262"/><stop offset="0.630" stop-color="#626262"/><stop offset="0.756" stop-color="#626262"/><stop offset="0.878" stop-color="#606060"/><stop offset="1.000" stop-color="#5d5d5d"/></linearGradient>
<linearGradient id="g95" gradientUnits="userSpaceOnUse" x1="240.0" y1="374.9" x2="255.5" y2="402.9"><stop offset="0.000" stop-color="#6f6f6f"/><stop offset="0.126" stop-color="#727272"/><stop offset="0.252" stop-color="#747474"/><stop offset="0.378" stop-color="#747474"/><stop offset="0.504" stop-color="#747474"/><stop offset="0.630" stop-color="#747474"/><stop offset="0.756" stop-color="#747474"/><stop offset="0.878" stop-color="#727272"/><stop offset="1.000" stop-color="#6f6f6f"/></linearGradient>
<linearGradient id="g96" gradientUnits="userSpaceOnUse" x1="245.0" y1="342.9" x2="246.0" y2="364.9"><stop offset="0.000" stop-color="#0d0d0d"/><stop offset="0.222" stop-color="#202020"/><stop offset="0.455" stop-color="#2e2e2e"/><stop offset="0.722" stop-color="#292929"/><stop offset="1.000" stop-color="#1f1f1f"/></linearGradient>
<linearGradient id="g97" gradientUnits="userSpaceOnUse" x1="626.5" y1="433.9" x2="636.6" y2="254.9"><stop offset="0.000" stop-color="#2a2a2a"/><stop offset="0.018" stop-color="#2a2a2a"/><stop offset="0.039" stop-color="#292929"/><stop offset="0.065" stop-color="#292929"/><stop offset="0.101" stop-color="#282828"/><stop offset="0.159" stop-color="#262626"/><stop offset="0.219" stop-color="#242424"/><stop offset="0.267" stop-color="#222222"/><stop offset="0.309" stop-color="#202020"/><stop offset="0.344" stop-color="#202020"/><stop offset="0.377" stop-color="#212121"/><stop offset="0.416" stop-color="#222222"/><stop offset="0.456" stop-color="#232323"/><stop offset="0.494" stop-color="#232323"/><stop offset="0.534" stop-color="#232323"/><stop offset="0.578" stop-color="#222222"/><stop offset="0.623" stop-color="#202020"/><stop offset="0.662" stop-color="#1e1e1e"/><stop offset="0.701" stop-color="#1c1c1c"/><stop offset="0.739" stop-color="#1b1b1b"/><stop offset="0.778" stop-color="#191919"/><stop offset="0.818" stop-color="#181818"/><stop offset="0.856" stop-color="#161616"/><stop offset="0.885" stop-color="#141414"/><stop offset="0.911" stop-color="#121212"/><stop offset="0.934" stop-color="#0f0f0f"/><stop offset="0.956" stop-color="#0b0b0b"/><stop offset="0.978" stop-color="#070707"/><stop offset="1.000" stop-color="#030303"/></linearGradient>
<linearGradient id="g98" gradientUnits="userSpaceOnUse" x1="626.5" y1="433.9" x2="636.6" y2="254.9"><stop offset="0.000" stop-color="#b2b2b2"/><stop offset="0.018" stop-color="#b1b1b1"/><stop offset="0.039" stop-color="#b0b0b0"/><stop offset="0.065" stop-color="#afafaf"/><stop offset="0.101" stop-color="#aeaeae"/><stop offset="0.159" stop-color="#a9a9a9"/><stop offset="0.219" stop-color="#a3a3a3"/><stop offset="0.267" stop-color="#9f9f9f"/><stop offset="0.309" stop-color="#9b9b9b"/><stop offset="0.344" stop-color="#9c9c9c"/><stop offset="0.377" stop-color="#9d9d9d"/><stop offset="0.416" stop-color="#a0a0a0"/><stop offset="0.456" stop-color="#a1a1a1"/><stop offset="0.494" stop-color="#a2a2a2"/><stop offset="0.534" stop-color="#a1a1a1"/><stop offset="0.578" stop-color="#9f9f9f"/><stop offset="0.623" stop-color="#9b9b9b"/><stop offset="0.662" stop-color="#939393"/><stop offset="0.701" stop-color="#8a8a8a"/><stop offset="0.739" stop-color="#828282"/><stop offset="0.778" stop-color="#7a7a7a"/><stop offset="0.818" stop-color="#727272"/><stop offset="0.856" stop-color="#6a6a6a"/><stop offset="0.885" stop-color="#636363"/><stop offset="0.911" stop-color="#595959"/><stop offset="0.934" stop-color="#4a4a4a"/><stop offset="0.956" stop-color="#373737"/><stop offset="0.978" stop-color="#232323"/><stop offset="1.000" stop-color="#0d0d0d"/></linearGradient>
<linearGradient id="g99" gradientUnits="userSpaceOnUse" x1="626.5" y1="433.9" x2="636.6" y2="254.9"><stop offset="0.000" stop-color="#f9f9f9"/><stop offset="0.018" stop-color="#f6f6f6"/><stop offset="0.039" stop-color="#f3f3f3"/><stop offset="0.065" stop-color="#f1f1f1"/><stop offset="0.101" stop-color="#ededed"/><stop offset="0.159" stop-color="#e0e0e0"/><stop offset="0.219" stop-color="#d0d0d0"/><stop offset="0.267" stop-color="#c2c2c2"/><stop offset="0.309" stop-color="#b8b8b8"/><stop offset="0.344" stop-color="#b9b9b9"/><stop offset="0.377" stop-color="#bebebe"/><stop offset="0.416" stop-color="#c4c4c4"/><stop offset="0.456" stop-color="#cacaca"/><stop offset="0.494" stop-color="#cccccc"/><stop offset="0.534" stop-color="#cacaca"/><stop offset="0.578" stop-color="#c3c3c3"/><stop offset="0.623" stop-color="#b8b8b8"/><stop offset="0.662" stop-color="#aeaeae"/><stop offset="0.701" stop-color="#a3a3a3"/><stop offset="0.739" stop-color="#9a9a9a"/><stop offset="0.778" stop-color="#919191"/><stop offset="0.818" stop-color="#888888"/><stop offset="0.856" stop-color="#7e7e7e"/><stop offset="0.885" stop-color="#757575"/><stop offset="0.911" stop-color="#696969"/><stop offset="0.934" stop-color="#575757"/><stop offset="0.956" stop-color="#424242"/><stop offset="0.978" stop-color="#292929"/><stop offset="1.000" stop-color="#101010"/></linearGradient>
<linearGradient id="g100" gradientUnits="userSpaceOnUse" x1="631.0" y1="292.9" x2="632.0" y2="269.9"><stop offset="0.000" stop-color="#0d0d0d"/><stop offset="0.263" stop-color="#1b1b1b"/><stop offset="0.521" stop-color="#242424"/><stop offset="0.763" stop-color="#1e1e1e"/><stop offset="1.000" stop-color="#141414"/></linearGradient>
<linearGradient id="g101" gradientUnits="userSpaceOnUse" x1="657.0" y1="430.9" x2="665.5" y2="360.9"><stop offset="0.000" stop-color="#575757"/><stop offset="0.097" stop-color="#4d4d4d"/><stop offset="0.202" stop-color="#424242"/><stop offset="0.333" stop-color="#373737"/><stop offset="0.475" stop-color="#2e2e2e"/><stop offset="0.619" stop-color="#292929"/><stop offset="0.760" stop-color="#242424"/><stop offset="0.883" stop-color="#181818"/><stop offset="1.000" stop-color="#0a0a0a"/></linearGradient>
<linearGradient id="g102" gradientUnits="userSpaceOnUse" x1="664.0" y1="397.9" x2="672.0" y2="380.9"><stop offset="0.000" stop-color="#1a1a1a"/><stop offset="0.295" stop-color="#202020"/><stop offset="0.572" stop-color="#242424"/><stop offset="0.795" stop-color="#222222"/><stop offset="1.000" stop-color="#1f1f1f"/></linearGradient>
<linearGradient id="g103" gradientUnits="userSpaceOnUse" x1="675.0" y1="384.9" x2="686.5" y2="430.9"><stop offset="0.000" stop-color="#1f1f1f"/><stop offset="0.121" stop-color="#313131"/><stop offset="0.251" stop-color="#424242"/><stop offset="0.404" stop-color="#505050"/><stop offset="0.578" stop-color="#575757"/><stop offset="0.783" stop-color="#515151"/><stop offset="1.000" stop-color="#474747"/></linearGradient>
<linearGradient id="g104" gradientUnits="userSpaceOnUse" x1="195.0" y1="430.9" x2="207.0" y2="262.9"><stop offset="0.000" stop-color="#1a1a1a"/><stop offset="0.094" stop-color="#181818"/><stop offset="0.198" stop-color="#171717"/><stop offset="0.325" stop-color="#151515"/><stop offset="0.466" stop-color="#121212"/><stop offset="0.616" stop-color="#0f0f0f"/><stop offset="0.763" stop-color="#0d0d0d"/><stop offset="0.885" stop-color="#0a0a0a"/><stop offset="1.000" stop-color="#080808"/></linearGradient>
<linearGradient id="g105" gradientUnits="userSpaceOnUse" x1="244.0" y1="0.0" x2="226.0" y2="0.0"><stop offset="0.000" stop-color="#2c2c2c"/><stop offset="0.292" stop-color="#292929"/><stop offset="0.556" stop-color="#262626"/><stop offset="0.750" stop-color="#232323"/><stop offset="0.889" stop-color="#212121"/><stop offset="0.972" stop-color="#1f1f1f"/><stop offset="1.000" stop-color="#1b1b1b"/><stop offset="1.000" stop-color="#131313"/><stop offset="1.000" stop-color="#0b0b0b"/></linearGradient>
<linearGradient id="g106" gradientUnits="userSpaceOnUse" x1="244.0" y1="0.0" x2="226.0" y2="0.0"><stop offset="0.000" stop-color="#353535"/><stop offset="0.292" stop-color="#313131"/><stop offset="0.556" stop-color="#2d2d2d"/><stop offset="0.750" stop-color="#2a2a2a"/><stop offset="0.889" stop-color="#272727"/><stop offset="0.972" stop-color="#242424"/><stop offset="1.000" stop-color="#202020"/><stop offset="1.000" stop-color="#171717"/><stop offset="1.000" stop-color="#0d0d0d"/></linearGradient>
<linearGradient id="g107" gradientUnits="userSpaceOnUse" x1="180.0" y1="226.0" x2="257.6" y2="130.0"><stop offset="0.000" stop-color="#2f2f2f"/><stop offset="0.054" stop-color="#2f2f2f"/><stop offset="0.108" stop-color="#2e2e2e"/><stop offset="0.163" stop-color="#2e2e2e"/><stop offset="0.217" stop-color="#2d2d2d"/><stop offset="0.264" stop-color="#2b2b2b"/><stop offset="0.311" stop-color="#2a2a2a"/><stop offset="0.360" stop-color="#282828"/><stop offset="0.411" stop-color="#262626"/><stop offset="0.462" stop-color="#242424"/><stop offset="0.512" stop-color="#232323"/><stop offset="0.558" stop-color="#232323"/><stop offset="0.604" stop-color="#242424"/><stop offset="0.656" stop-color="#252525"/><stop offset="0.706" stop-color="#252525"/><stop offset="0.749" stop-color="#252525"/><stop offset="0.788" stop-color="#242424"/><stop offset="0.819" stop-color="#232323"/><stop offset="0.851" stop-color="#222222"/><stop offset="0.894" stop-color="#202020"/><stop offset="0.937" stop-color="#1f1f1f"/><stop offset="0.970" stop-color="#1e1e1e"/><stop offset="1.000" stop-color="#1d1d1d"/></linearGradient>
<linearGradient id="g108" gradientUnits="userSpaceOnUse" x1="180.0" y1="226.0" x2="257.6" y2="130.0"><stop offset="0.000" stop-color="#b3b3b3"/><stop offset="0.054" stop-color="#b2b2b2"/><stop offset="0.108" stop-color="#b1b1b1"/><stop offset="0.163" stop-color="#afafaf"/><stop offset="0.217" stop-color="#aeaeae"/><stop offset="0.264" stop-color="#ababab"/><stop offset="0.311" stop-color="#a8a8a8"/><stop offset="0.360" stop-color="#a4a4a4"/><stop offset="0.411" stop-color="#a0a0a0"/><stop offset="0.462" stop-color="#9d9d9d"/><stop offset="0.512" stop-color="#999999"/><stop offset="0.558" stop-color="#999999"/><stop offset="0.604" stop-color="#9b9b9b"/><stop offset="0.656" stop-color="#9d9d9d"/><stop offset="0.706" stop-color="#9f9f9f"/><stop offset="0.749" stop-color="#9e9e9e"/><stop offset="0.788" stop-color="#9b9b9b"/><stop offset="0.819" stop-color="#979797"/><stop offset="0.851" stop-color="#929292"/><stop offset="0.894" stop-color="#8d8d8d"/><stop offset="0.937" stop-color="#878787"/><stop offset="0.970" stop-color="#838383"/><stop offset="1.000" stop-color="#7e7e7e"/></linearGradient>
<linearGradient id="g109" gradientUnits="userSpaceOnUse" x1="180.0" y1="226.0" x2="257.6" y2="130.0"><stop offset="0.000" stop-color="#fcfcfc"/><stop offset="0.054" stop-color="#f9f9f9"/><stop offset="0.108" stop-color="#f6f6f6"/><stop offset="0.163" stop-color="#f2f2f2"/><stop offset="0.217" stop-color="#ededed"/><stop offset="0.264" stop-color="#e5e5e5"/><stop offset="0.311" stop-color="#dbdbdb"/><stop offset="0.360" stop-color="#d1d1d1"/><stop offset="0.411" stop-color="#c7c7c7"/><stop offset="0.462" stop-color="#bdbdbd"/><stop offset="0.512" stop-color="#b6b6b6"/><stop offset="0.558" stop-color="#b5b5b5"/><stop offset="0.604" stop-color="#b8b8b8"/><stop offset="0.656" stop-color="#bebebe"/><stop offset="0.706" stop-color="#c3c3c3"/><stop offset="0.749" stop-color="#bfbfbf"/><stop offset="0.788" stop-color="#b8b8b8"/><stop offset="0.819" stop-color="#b3b3b3"/><stop offset="0.851" stop-color="#aeaeae"/><stop offset="0.894" stop-color="#a7a7a7"/><stop offset="0.937" stop-color="#a1a1a1"/><stop offset="0.970" stop-color="#9b9b9b"/><stop offset="1.000" stop-color="#969696"/></linearGradient>
<linearGradient id="g110" gradientUnits="userSpaceOnUse" x1="257.0" y1="178.0" x2="250.0" y2="222.0"><stop offset="0.000" stop-color="#1d1d1d"/><stop offset="0.137" stop-color="#1c1c1c"/><stop offset="0.275" stop-color="#1c1c1c"/><stop offset="0.412" stop-color="#1b1b1b"/><stop offset="0.550" stop-color="#1b1b1b"/><stop offset="0.691" stop-color="#1a1a1a"/><stop offset="0.821" stop-color="#1a1a1a"/><stop offset="0.916" stop-color="#191919"/><stop offset="1.000" stop-color="#1a1a1a"/></linearGradient>
<linearGradient id="g111" gradientUnits="userSpaceOnUse" x1="257.0" y1="178.0" x2="250.0" y2="222.0"><stop offset="0.000" stop-color="#7c7c7c"/><stop offset="0.137" stop-color="#7a7a7a"/><stop offset="0.275" stop-color="#787878"/><stop offset="0.412" stop-color="#767676"/><stop offset="0.550" stop-color="#737373"/><stop offset="0.691" stop-color="#717171"/><stop offset="0.821" stop-color="#6f6f6f"/><stop offset="0.916" stop-color="#6f6f6f"/><stop offset="1.000" stop-color="#6f6f6f"/></linearGradient>
<linearGradient id="g112" gradientUnits="userSpaceOnUse" x1="257.0" y1="178.0" x2="250.0" y2="222.0"><stop offset="0.000" stop-color="#939393"/><stop offset="0.137" stop-color="#919191"/><stop offset="0.275" stop-color="#8e8e8e"/><stop offset="0.412" stop-color="#8c8c8c"/><stop offset="0.550" stop-color="#898989"/><stop offset="0.691" stop-color="#868686"/><stop offset="0.821" stop-color="#848484"/><stop offset="0.916" stop-color="#838383"/><stop offset="1.000" stop-color="#848484"/></linearGradient>
<linearGradient id="g113" gradientUnits="userSpaceOnUse" x1="326.0" y1="0.0" x2="460.0" y2="0.0"><stop offset="0.000" stop-color="#060606"/><stop offset="0.040" stop-color="#0a0a0a"/><stop offset="0.086" stop-color="#0d0d0d"/><stop offset="0.150" stop-color="#0f0f0f"/><stop offset="0.221" stop-color="#101010"/><stop offset="0.288" stop-color="#121212"/><stop offset="0.356" stop-color="#131313"/><stop offset="0.424" stop-color="#131313"/><stop offset="0.493" stop-color="#121212"/><stop offset="0.558" stop-color="#111111"/><stop offset="0.626" stop-color="#111111"/><stop offset="0.701" stop-color="#121212"/><stop offset="0.776" stop-color="#131313"/><stop offset="0.847" stop-color="#131313"/><stop offset="0.910" stop-color="#131313"/><stop offset="0.958" stop-color="#131313"/><stop offset="1.000" stop-color="#131313"/></linearGradient>
<linearGradient id="g114" gradientUnits="userSpaceOnUse" x1="326.0" y1="0.0" x2="460.0" y2="0.0"><stop offset="0.000" stop-color="#161616"/><stop offset="0.040" stop-color="#222222"/><stop offset="0.086" stop-color="#2c2c2c"/><stop offset="0.150" stop-color="#333333"/><stop offset="0.221" stop-color="#373737"/><stop offset="0.288" stop-color="#3e3e3e"/><stop offset="0.356" stop-color="#434343"/><stop offset="0.424" stop-color="#414141"/><stop offset="0.493" stop-color="#3e3e3e"/><stop offset="0.558" stop-color="#3c3c3c"/><stop offset="0.626" stop-color="#3c3c3c"/><stop offset="0.701" stop-color="#3f3f3f"/><stop offset="0.776" stop-color="#434343"/><stop offset="0.847" stop-color="#434343"/><stop offset="0.910" stop-color="#434343"/><stop offset="0.958" stop-color="#434343"/><stop offset="1.000" stop-color="#434343"/></linearGradient>
<linearGradient id="g115" gradientUnits="userSpaceOnUse" x1="326.0" y1="0.0" x2="460.0" y2="0.0"><stop offset="0.000" stop-color="#1a1a1a"/><stop offset="0.040" stop-color="#282828"/><stop offset="0.086" stop-color="#353535"/><stop offset="0.150" stop-color="#3c3c3c"/><stop offset="0.221" stop-color="#424242"/><stop offset="0.288" stop-color="#4a4a4a"/><stop offset="0.356" stop-color="#4f4f4f"/><stop offset="0.424" stop-color="#4d4d4d"/><stop offset="0.493" stop-color="#4a4a4a"/><stop offset="0.558" stop-color="#484848"/><stop offset="0.626" stop-color="#474747"/><stop offset="0.701" stop-color="#4b4b4b"/><stop offset="0.776" stop-color="#4f4f4f"/><stop offset="0.847" stop-color="#4f4f4f"/><stop offset="0.910" stop-color="#4f4f4f"/><stop offset="0.958" stop-color="#4f4f4f"/><stop offset="1.000" stop-color="#4f4f4f"/></linearGradient>
<linearGradient id="g116" gradientUnits="userSpaceOnUse" x1="296.0" y1="0.0" x2="470.0" y2="0.0"><stop offset="0.000" stop-color="#0d0d0d"/><stop offset="0.054" stop-color="#131313"/><stop offset="0.108" stop-color="#1a1a1a"/><stop offset="0.161" stop-color="#202020"/><stop offset="0.213" stop-color="#252525"/><stop offset="0.265" stop-color="#242424"/><stop offset="0.316" stop-color="#222222"/><stop offset="0.363" stop-color="#222222"/><stop offset="0.407" stop-color="#212121"/><stop offset="0.452" stop-color="#212121"/><stop offset="0.498" stop-color="#212121"/><stop offset="0.549" stop-color="#212121"/><stop offset="0.602" stop-color="#212121"/><stop offset="0.654" stop-color="#222222"/><stop offset="0.706" stop-color="#232323"/><stop offset="0.760" stop-color="#242424"/><stop offset="0.810" stop-color="#252525"/><stop offset="0.853" stop-color="#282828"/><stop offset="0.889" stop-color="#2b2b2b"/><stop offset="0.908" stop-color="#2c2c2c"/><stop offset="0.928" stop-color="#2c2c2c"/><stop offset="0.962" stop-color="#2c2c2c"/><stop offset="1.000" stop-color="#2c2c2c"/></linearGradient>
<linearGradient id="g117" gradientUnits="userSpaceOnUse" x1="296.0" y1="0.0" x2="470.0" y2="0.0"><stop offset="0.000" stop-color="#373737"/><stop offset="0.054" stop-color="#535353"/><stop offset="0.108" stop-color="#6f6f6f"/><stop offset="0.161" stop-color="#8d8d8d"/><stop offset="0.213" stop-color="#9e9e9e"/><stop offset="0.265" stop-color="#9d9d9d"/><stop offset="0.316" stop-color="#959595"/><stop offset="0.363" stop-color="#929292"/><stop offset="0.407" stop-color="#919191"/><stop offset="0.452" stop-color="#909090"/><stop offset="0.498" stop-color="#8f8f8f"/><stop offset="0.549" stop-color="#909090"/><stop offset="0.602" stop-color="#919191"/><stop offset="0.654" stop-color="#959595"/><stop offset="0.706" stop-color="#999999"/><stop offset="0.760" stop-color="#9c9c9c"/><stop offset="0.810" stop-color="#9e9e9e"/><stop offset="0.853" stop-color="#a4a4a4"/><stop offset="0.889" stop-color="#aaaaaa"/><stop offset="0.908" stop-color="#acacac"/><stop offset="0.928" stop-color="#adadad"/><stop offset="0.962" stop-color="#adadad"/><stop offset="1.000" stop-color="#adadad"/></linearGradient>
<linearGradient id="g118" gradientUnits="userSpaceOnUse" x1="296.0" y1="0.0" x2="470.0" y2="0.0"><stop offset="0.000" stop-color="#424242"/><stop offset="0.054" stop-color="#636363"/><stop offset="0.108" stop-color="#848484"/><stop offset="0.161" stop-color="#a7a7a7"/><stop offset="0.213" stop-color="#c1c1c1"/><stop offset="0.265" stop-color="#bdbdbd"/><stop offset="0.316" stop-color="#b0b0b0"/><stop offset="0.363" stop-color="#aeaeae"/><stop offset="0.407" stop-color="#acacac"/><stop offset="0.452" stop-color="#ababab"/><stop offset="0.498" stop-color="#aaaaaa"/><stop offset="0.549" stop-color="#aaaaaa"/><stop offset="0.602" stop-color="#acacac"/><stop offset="0.654" stop-color="#b1b1b1"/><stop offset="0.706" stop-color="#b6b6b6"/><stop offset="0.760" stop-color="#bababa"/><stop offset="0.810" stop-color="#c1c1c1"/><stop offset="0.853" stop-color="#d1d1d1"/><stop offset="0.889" stop-color="#e1e1e1"/><stop offset="0.908" stop-color="#e8e8e8"/><stop offset="0.928" stop-color="#eaeaea"/><stop offset="0.962" stop-color="#ebebeb"/><stop offset="1.000" stop-color="#eaeaea"/></linearGradient>
<linearGradient id="g119" gradientUnits="userSpaceOnUse" x1="412.0" y1="0.0" x2="448.0" y2="0.0"><stop offset="0.000" stop-color="#131313"/><stop offset="0.111" stop-color="#131313"/><stop offset="0.222" stop-color="#121212"/><stop offset="0.330" stop-color="#121212"/><stop offset="0.444" stop-color="#121212"/><stop offset="0.580" stop-color="#121212"/><stop offset="0.722" stop-color="#131313"/><stop offset="0.861" stop-color="#151515"/><stop offset="1.000" stop-color="#171717"/></linearGradient>
<linearGradient id="g120" gradientUnits="userSpaceOnUse" x1="412.0" y1="0.0" x2="448.0" y2="0.0"><stop offset="0.000" stop-color="#6f6f6f"/><stop offset="0.111" stop-color="#6d6d6d"/><stop offset="0.222" stop-color="#6a6a6a"/><stop offset="0.330" stop-color="#676767"/><stop offset="0.444" stop-color="#666666"/><stop offset="0.580" stop-color="#696969"/><stop offset="0.722" stop-color="#6f6f6f"/><stop offset="0.861" stop-color="#797979"/><stop offset="1.000" stop-color="#858585"/></linearGradient>
<linearGradient id="g121" gradientUnits="userSpaceOnUse" x1="412.0" y1="0.0" x2="448.0" y2="0.0"><stop offset="0.000" stop-color="#848484"/><stop offset="0.111" stop-color="#818181"/><stop offset="0.222" stop-color="#7e7e7e"/><stop offset="0.330" stop-color="#7b7b7b"/><stop offset="0.444" stop-color="#797979"/><stop offset="0.580" stop-color="#7c7c7c"/><stop offset="0.722" stop-color="#848484"/><stop offset="0.861" stop-color="#909090"/><stop offset="1.000" stop-color="#9e9e9e"/></linearGradient>
<linearGradient id="g122" gradientUnits="userSpaceOnUse" x1="501.2" y1="433.9" x2="512.6" y2="111.9"><stop offset="0.000" stop-color="#2b2b2b"/><stop offset="0.012" stop-color="#2a2a2a"/><stop offset="0.025" stop-color="#2a2a2a"/><stop offset="0.043" stop-color="#2a2a2a"/><stop offset="0.066" stop-color="#292929"/><stop offset="0.094" stop-color="#292929"/><stop offset="0.125" stop-color="#282828"/><stop offset="0.157" stop-color="#282828"/><stop offset="0.190" stop-color="#272727"/><stop offset="0.219" stop-color="#262626"/><stop offset="0.252" stop-color="#252525"/><stop offset="0.297" stop-color="#242424"/><stop offset="0.345" stop-color="#232323"/><stop offset="0.392" stop-color="#222222"/><stop offset="0.439" stop-color="#212121"/><stop offset="0.485" stop-color="#212121"/><stop offset="0.532" stop-color="#202020"/><stop offset="0.578" stop-color="#1f1f1f"/><stop offset="0.625" stop-color="#1f1f1f"/><stop offset="0.672" stop-color="#1e1e1e"/><stop offset="0.718" stop-color="#1d1d1d"/><stop offset="0.759" stop-color="#1c1c1c"/><stop offset="0.795" stop-color="#1c1c1c"/><stop offset="0.828" stop-color="#1b1b1b"/><stop offset="0.857" stop-color="#1b1b1b"/><stop offset="0.882" stop-color="#1a1a1a"/><stop offset="0.904" stop-color="#1a1a1a"/><stop offset="0.923" stop-color="#181818"/><stop offset="0.941" stop-color="#161616"/><stop offset="0.957" stop-color="#121212"/><stop offset="0.972" stop-color="#0e0e0e"/><stop offset="0.986" stop-color="#090909"/><stop offset="1.000" stop-color="#040404"/></linearGradient>
<linearGradient id="g123" gradientUnits="userSpaceOnUse" x1="501.2" y1="433.9" x2="512.6" y2="111.9"><stop offset="0.000" stop-color="#b3b3b3"/><stop offset="0.012" stop-color="#b2b2b2"/><stop offset="0.025" stop-color="#b2b2b2"/><stop offset="0.043" stop-color="#b1b1b1"/><stop offset="0.066" stop-color="#b0b0b0"/><stop offset="0.094" stop-color="#afafaf"/><stop offset="0.125" stop-color="#aeaeae"/><stop offset="0.157" stop-color="#acacac"/><stop offset="0.190" stop-color="#ababab"/><stop offset="0.219" stop-color="#a8a8a8"/><stop offset="0.252" stop-color="#a5a5a5"/><stop offset="0.297" stop-color="#a3a3a3"/><stop offset="0.345" stop-color="#a1a1a1"/><stop offset="0.392" stop-color="#a0a0a0"/><stop offset="0.439" stop-color="#9e9e9e"/><stop offset="0.485" stop-color="#9c9c9c"/><stop offset="0.532" stop-color="#9a9a9a"/><stop offset="0.578" stop-color="#979797"/><stop offset="0.625" stop-color="#949494"/><stop offset="0.672" stop-color="#909090"/><stop offset="0.718" stop-color="#8d8d8d"/><stop offset="0.759" stop-color="#898989"/><stop offset="0.795" stop-color="#858585"/><stop offset="0.828" stop-color="#838383"/><stop offset="0.857" stop-color="#818181"/><stop offset="0.882" stop-color="#7f7f7f"/><stop offset="0.904" stop-color="#7c7c7c"/><stop offset="0.923" stop-color="#747474"/><stop offset="0.941" stop-color="#686868"/><stop offset="0.957" stop-color="#585858"/><stop offset="0.972" stop-color="#454545"/><stop offset="0.986" stop-color="#2c2c2c"/><stop offset="1.000" stop-color="#121212"/></linearGradient>
<linearGradient id="g124" gradientUnits="userSpaceOnUse" x1="501.2" y1="433.9" x2="512.6" y2="111.9"><stop offset="0.000" stop-color="#fcfcfc"/><stop offset="0.012" stop-color="#fafafa"/><stop offset="0.025" stop-color="#f9f9f9"/><stop offset="0.043" stop-color="#f6f6f6"/><stop offset="0.066" stop-color="#f3f3f3"/><stop offset="0.094" stop-color="#f0f0f0"/><stop offset="0.125" stop-color="#ededed"/><stop offset="0.157" stop-color="#e9e9e9"/><stop offset="0.190" stop-color="#e4e4e4"/><stop offset="0.219" stop-color="#dddddd"/><stop offset="0.252" stop-color="#d6d6d6"/><stop offset="0.297" stop-color="#cfcfcf"/><stop offset="0.345" stop-color="#cacaca"/><stop offset="0.392" stop-color="#c5c5c5"/><stop offset="0.439" stop-color="#c0c0c0"/><stop offset="0.485" stop-color="#bbbbbb"/><stop offset="0.532" stop-color="#b7b7b7"/><stop offset="0.578" stop-color="#b3b3b3"/><stop offset="0.625" stop-color="#afafaf"/><stop offset="0.672" stop-color="#ababab"/><stop offset="0.718" stop-color="#a7a7a7"/><stop offset="0.759" stop-color="#a2a2a2"/><stop offset="0.795" stop-color="#9e9e9e"/><stop offset="0.828" stop-color="#9b9b9b"/><stop offset="0.857" stop-color="#999999"/><stop offset="0.882" stop-color="#979797"/><stop offset="0.904" stop-color="#939393"/><stop offset="0.923" stop-color="#8a8a8a"/><stop offset="0.941" stop-color="#7c7c7c"/><stop offset="0.957" stop-color="#696969"/><stop offset="0.972" stop-color="#525252"/><stop offset="0.986" stop-color="#343434"/><stop offset="1.000" stop-color="#151515"/></linearGradient>
<linearGradient id="g125" gradientUnits="userSpaceOnUse" x1="542.9" y1="418.9" x2="527.7" y2="319.9"><stop offset="0.000" stop-color="#111111"/><stop offset="0.038" stop-color="#141414"/><stop offset="0.078" stop-color="#161616"/><stop offset="0.128" stop-color="#1a1a1a"/><stop offset="0.179" stop-color="#1e1e1e"/><stop offset="0.226" stop-color="#212121"/><stop offset="0.270" stop-color="#242424"/><stop offset="0.309" stop-color="#252525"/><stop offset="0.350" stop-color="#252525"/><stop offset="0.397" stop-color="#252525"/><stop offset="0.450" stop-color="#232323"/><stop offset="0.510" stop-color="#202020"/><stop offset="0.572" stop-color="#1e1e1e"/><stop offset="0.633" stop-color="#1b1b1b"/><stop offset="0.695" stop-color="#171717"/><stop offset="0.757" stop-color="#141414"/><stop offset="0.818" stop-color="#111111"/><stop offset="0.871" stop-color="#0e0e0e"/><stop offset="0.920" stop-color="#0a0a0a"/><stop offset="0.961" stop-color="#060606"/><stop offset="1.000" stop-color="#030303"/></linearGradient>
<linearGradient id="g126" gradientUnits="userSpaceOnUse" x1="542.9" y1="418.9" x2="527.7" y2="319.9"><stop offset="0.000" stop-color="#4b4b4b"/><stop offset="0.038" stop-color="#565656"/><stop offset="0.078" stop-color="#626262"/><stop offset="0.128" stop-color="#717171"/><stop offset="0.179" stop-color="#818181"/><stop offset="0.226" stop-color="#8f8f8f"/><stop offset="0.270" stop-color="#9b9b9b"/><stop offset="0.309" stop-color="#9e9e9e"/><stop offset="0.350" stop-color="#9f9f9f"/><stop offset="0.397" stop-color="#9d9d9d"/><stop offset="0.450" stop-color="#979797"/><stop offset="0.510" stop-color="#8d8d8d"/><stop offset="0.572" stop-color="#818181"/><stop offset="0.633" stop-color="#747474"/><stop offset="0.695" stop-color="#666666"/><stop offset="0.757" stop-color="#595959"/><stop offset="0.818" stop-color="#4b4b4b"/><stop offset="0.871" stop-color="#3c3c3c"/><stop offset="0.920" stop-color="#2c2c2c"/><stop offset="0.961" stop-color="#1c1c1c"/><stop offset="1.000" stop-color="#0b0b0b"/></linearGradient>
<linearGradient id="g127" gradientUnits="userSpaceOnUse" x1="542.9" y1="418.9" x2="527.7" y2="319.9"><stop offset="0.000" stop-color="#5a5a5a"/><stop offset="0.038" stop-color="#666666"/><stop offset="0.078" stop-color="#747474"/><stop offset="0.128" stop-color="#868686"/><stop offset="0.179" stop-color="#999999"/><stop offset="0.226" stop-color="#aaaaaa"/><stop offset="0.270" stop-color="#b8b8b8"/><stop offset="0.309" stop-color="#c1c1c1"/><stop offset="0.350" stop-color="#c3c3c3"/><stop offset="0.397" stop-color="#bdbdbd"/><stop offset="0.450" stop-color="#b3b3b3"/><stop offset="0.510" stop-color="#a7a7a7"/><stop offset="0.572" stop-color="#999999"/><stop offset="0.633" stop-color="#898989"/><stop offset="0.695" stop-color="#797979"/><stop offset="0.757" stop-color="#6a6a6a"/><stop offset="0.818" stop-color="#5a5a5a"/><stop offset="0.871" stop-color="#484848"/><stop offset="0.920" stop-color="#353535"/><stop offset="0.961" stop-color="#212121"/><stop offset="1.000" stop-color="#0d0d0d"/></linearGradient>
<linearGradient id="g128" gradientUnits="userSpaceOnUse" x1="532.9" y1="408.9" x2="533.4" y2="432.9"><stop offset="0.000" stop-color="#171717"/><stop offset="0.166" stop-color="#181818"/><stop offset="0.333" stop-color="#1a1a1a"/><stop offset="0.500" stop-color="#1c1c1c"/><stop offset="0.666" stop-color="#1f1f1f"/><stop offset="0.833" stop-color="#202020"/><stop offset="1.000" stop-color="#212121"/></linearGradient>
<linearGradient id="g129" gradientUnits="userSpaceOnUse" x1="532.9" y1="408.9" x2="533.4" y2="432.9"><stop offset="0.000" stop-color="#666666"/><stop offset="0.166" stop-color="#6a6a6a"/><stop offset="0.333" stop-color="#6f6f6f"/><stop offset="0.500" stop-color="#7a7a7a"/><stop offset="0.666" stop-color="#858585"/><stop offset="0.833" stop-color="#8a8a8a"/><stop offset="1.000" stop-color="#8e8e8e"/></linearGradient>
<linearGradient id="g130" gradientUnits="userSpaceOnUse" x1="532.9" y1="408.9" x2="533.4" y2="432.9"><stop offset="0.000" stop-color="#797979"/><stop offset="0.166" stop-color="#7d7d7d"/><stop offset="0.333" stop-color="#848484"/><stop offset="0.500" stop-color="#919191"/><stop offset="0.666" stop-color="#9e9e9e"/><stop offset="0.833" stop-color="#a4a4a4"/><stop offset="1.000" stop-color="#a9a9a9"/></linearGradient>
<linearGradient id="g131" gradientUnits="userSpaceOnUse" x1="554.4" y1="406.9" x2="559.4" y2="432.9"><stop offset="0.000" stop-color="#141414"/><stop offset="0.174" stop-color="#141414"/><stop offset="0.348" stop-color="#141414"/><stop offset="0.525" stop-color="#151515"/><stop offset="0.696" stop-color="#151515"/><stop offset="0.851" stop-color="#151515"/><stop offset="1.000" stop-color="#151515"/></linearGradient>
<linearGradient id="g132" gradientUnits="userSpaceOnUse" x1="554.4" y1="406.9" x2="559.4" y2="432.9"><stop offset="0.000" stop-color="#595959"/><stop offset="0.174" stop-color="#585858"/><stop offset="0.348" stop-color="#595959"/><stop offset="0.525" stop-color="#5b5b5b"/><stop offset="0.696" stop-color="#5d5d5d"/><stop offset="0.851" stop-color="#5d5d5d"/><stop offset="1.000" stop-color="#5d5d5d"/></linearGradient>
<linearGradient id="g133" gradientUnits="userSpaceOnUse" x1="554.4" y1="406.9" x2="559.4" y2="432.9"><stop offset="0.000" stop-color="#696969"/><stop offset="0.174" stop-color="#696969"/><stop offset="0.348" stop-color="#696969"/><stop offset="0.525" stop-color="#6c6c6c"/><stop offset="0.696" stop-color="#6f6f6f"/><stop offset="0.851" stop-color="#6f6f6f"/><stop offset="1.000" stop-color="#6f6f6f"/></linearGradient>
<linearGradient id="g134" gradientUnits="userSpaceOnUse" x1="619.6" y1="433.9" x2="637.4" y2="207.9"><stop offset="0.000" stop-color="#242424"/><stop offset="0.017" stop-color="#232323"/><stop offset="0.036" stop-color="#222222"/><stop offset="0.058" stop-color="#212121"/><stop offset="0.085" stop-color="#202020"/><stop offset="0.121" stop-color="#1f1f1f"/><stop offset="0.161" stop-color="#1f1f1f"/><stop offset="0.204" stop-color="#1e1e1e"/><stop offset="0.251" stop-color="#1e1e1e"/><stop offset="0.303" stop-color="#1e1e1e"/><stop offset="0.362" stop-color="#1d1d1d"/><stop offset="0.426" stop-color="#1d1d1d"/><stop offset="0.494" stop-color="#1d1d1d"/><stop offset="0.560" stop-color="#1d1d1d"/><stop offset="0.626" stop-color="#1c1c1c"/><stop offset="0.695" stop-color="#1b1b1b"/><stop offset="0.758" stop-color="#1a1a1a"/><stop offset="0.806" stop-color="#1a1a1a"/><stop offset="0.846" stop-color="#191919"/><stop offset="0.882" stop-color="#171717"/><stop offset="0.912" stop-color="#151515"/><stop offset="0.935" stop-color="#121212"/><stop offset="0.956" stop-color="#0f0f0f"/><stop offset="0.978" stop-color="#090909"/><stop offset="1.000" stop-color="#040404"/></linearGradient>
<linearGradient id="g135" gradientUnits="userSpaceOnUse" x1="619.6" y1="433.9" x2="637.4" y2="207.9"><stop offset="0.000" stop-color="#a3a3a3"/><stop offset="0.017" stop-color="#a1a1a1"/><stop offset="0.036" stop-color="#9f9f9f"/><stop offset="0.058" stop-color="#9d9d9d"/><stop offset="0.085" stop-color="#9b9b9b"/><stop offset="0.121" stop-color="#989898"/><stop offset="0.161" stop-color="#959595"/><stop offset="0.204" stop-color="#929292"/><stop offset="0.251" stop-color="#909090"/><stop offset="0.303" stop-color="#8f8f8f"/><stop offset="0.362" stop-color="#8e8e8e"/><stop offset="0.426" stop-color="#8d8d8d"/><stop offset="0.494" stop-color="#8c8c8c"/><stop offset="0.560" stop-color="#8a8a8a"/><stop offset="0.626" stop-color="#878787"/><stop offset="0.695" stop-color="#848484"/><stop offset="0.758" stop-color="#808080"/><stop offset="0.806" stop-color="#7c7c7c"/><stop offset="0.846" stop-color="#787878"/><stop offset="0.882" stop-color="#707070"/><stop offset="0.912" stop-color="#666666"/><stop offset="0.935" stop-color="#595959"/><stop offset="0.956" stop-color="#474747"/><stop offset="0.978" stop-color="#2e2e2e"/><stop offset="1.000" stop-color="#121212"/></linearGradient>
<linearGradient id="g136" gradientUnits="userSpaceOnUse" x1="619.6" y1="433.9" x2="637.4" y2="207.9"><stop offset="0.000" stop-color="#d0d0d0"/><stop offset="0.017" stop-color="#cacaca"/><stop offset="0.036" stop-color="#c4c4c4"/><stop offset="0.058" stop-color="#bebebe"/><stop offset="0.085" stop-color="#b8b8b8"/><stop offset="0.121" stop-color="#b4b4b4"/><stop offset="0.161" stop-color="#b0b0b0"/><stop offset="0.204" stop-color="#adadad"/><stop offset="0.251" stop-color="#ababab"/><stop offset="0.303" stop-color="#aaaaaa"/><stop offset="0.362" stop-color="#a9a9a9"/><stop offset="0.426" stop-color="#a7a7a7"/><stop offset="0.494" stop-color="#a6a6a6"/><stop offset="0.560" stop-color="#a4a4a4"/><stop offset="0.626" stop-color="#a1a1a1"/><stop offset="0.695" stop-color="#9c9c9c"/><stop offset="0.758" stop-color="#979797"/><stop offset="0.806" stop-color="#949494"/><stop offset="0.846" stop-color="#8e8e8e"/><stop offset="0.882" stop-color="#858585"/><stop offset="0.912" stop-color="#797979"/><stop offset="0.935" stop-color="#696969"/><stop offset="0.956" stop-color="#545454"/><stop offset="0.978" stop-color="#363636"/><stop offset="1.000" stop-color="#151515"/></linearGradient>
<linearGradient id="g137" gradientUnits="userSpaceOnUse" x1="191.6" y1="432.9" x2="203.6" y2="212.9"><stop offset="0.000" stop-color="#808080"/><stop offset="0.044" stop-color="#767676"/><stop offset="0.092" stop-color="#6b6b6b"/><stop offset="0.144" stop-color="#5e5e5e"/><stop offset="0.206" stop-color="#525252"/><stop offset="0.281" stop-color="#494949"/><stop offset="0.365" stop-color="#424242"/><stop offset="0.454" stop-color="#3d3d3d"/><stop offset="0.547" stop-color="#383838"/><stop offset="0.640" stop-color="#333333"/><stop offset="0.728" stop-color="#2e2e2e"/><stop offset="0.799" stop-color="#272727"/><stop offset="0.864" stop-color="#1f1f1f"/><stop offset="0.932" stop-color="#151515"/><stop offset="1.000" stop-color="#0a0a0a"/></linearGradient>
<linearGradient id="g138" gradientUnits="userSpaceOnUse" x1="222.6" y1="427.9" x2="235.6" y2="368.9"><stop offset="0.000" stop-color="#292929"/><stop offset="0.129" stop-color="#2e2e2e"/><stop offset="0.264" stop-color="#333333"/><stop offset="0.420" stop-color="#373737"/><stop offset="0.573" stop-color="#383838"/><stop offset="0.696" stop-color="#363636"/><stop offset="0.806" stop-color="#2e2e2e"/><stop offset="0.905" stop-color="#1e1e1e"/><stop offset="1.000" stop-color="#0a0a0a"/></linearGradient>
<linearGradient id="g139" gradientUnits="userSpaceOnUse" x1="219.6" y1="433.9" x2="224.6" y2="414.9"><stop offset="0.000" stop-color="#4c4c4c"/><stop offset="0.300" stop-color="#484848"/><stop offset="0.580" stop-color="#404040"/><stop offset="0.800" stop-color="#2e2e2e"/><stop offset="1.000" stop-color="#1a1a1a"/></linearGradient>
<linearGradient id="g140" gradientUnits="userSpaceOnUse" x1="652.6" y1="431.9" x2="659.1" y2="360.9"><stop offset="0.000" stop-color="#4c4c4c"/><stop offset="0.094" stop-color="#3f3f3f"/><stop offset="0.198" stop-color="#333333"/><stop offset="0.334" stop-color="#292929"/><stop offset="0.481" stop-color="#212121"/><stop offset="0.624" stop-color="#1d1d1d"/><stop offset="0.762" stop-color="#1a1a1a"/><stop offset="0.884" stop-color="#111111"/><stop offset="1.000" stop-color="#080808"/></linearGradient>
<linearGradient id="g141" gradientUnits="userSpaceOnUse" x1="664.6" y1="431.9" x2="672.6" y2="397.9"><stop offset="0.000" stop-color="#474747"/><stop offset="0.161" stop-color="#3d3d3d"/><stop offset="0.326" stop-color="#333333"/><stop offset="0.504" stop-color="#2c2c2c"/><stop offset="0.680" stop-color="#242424"/><stop offset="0.842" stop-color="#191919"/><stop offset="1.000" stop-color="#0d0d0d"/></linearGradient>
<linearGradient id="g142" gradientUnits="userSpaceOnUse" x1="677.6" y1="431.9" x2="682.6" y2="410.9"><stop offset="0.000" stop-color="#333333"/><stop offset="0.267" stop-color="#2c2c2c"/><stop offset="0.528" stop-color="#242424"/><stop offset="0.767" stop-color="#191919"/><stop offset="1.000" stop-color="#0d0d0d"/></linearGradient>
<linearGradient id="g143" gradientUnits="userSpaceOnUse" x1="695.6" y1="431.9" x2="707.6" y2="431.9"><stop offset="0.000" stop-color="#333333"/><stop offset="0.167" stop-color="#353535"/><stop offset="0.333" stop-color="#383838"/><stop offset="0.505" stop-color="#424242"/><stop offset="0.667" stop-color="#4c4c4c"/><stop offset="0.807" stop-color="#555555"/><stop offset="0.917" stop-color="#5c5c5c"/><stop offset="0.969" stop-color="#616161"/><stop offset="1.000" stop-color="#666666"/></linearGradient>
<linearGradient id="g144" gradientUnits="userSpaceOnUse" x1="709.6" y1="412.9" x2="713.1" y2="384.9"><stop offset="0.000" stop-color="#333333"/><stop offset="0.273" stop-color="#2c2c2c"/><stop offset="0.536" stop-color="#242424"/><stop offset="0.773" stop-color="#191919"/><stop offset="1.000" stop-color="#0d0d0d"/></linearGradient>
<linearGradient id="g145" gradientUnits="userSpaceOnUse" x1="236.0" y1="128.0" x2="235.0" y2="97.0"><stop offset="0.000" stop-color="#161616"/><stop offset="0.160" stop-color="#1b1b1b"/><stop offset="0.327" stop-color="#1f1f1f"/><stop offset="0.523" stop-color="#202020"/><stop offset="0.714" stop-color="#1f1f1f"/><stop offset="0.863" stop-color="#1d1d1d"/><stop offset="1.000" stop-color="#1b1b1b"/></linearGradient>
<linearGradient id="g146" gradientUnits="userSpaceOnUse" x1="236.0" y1="128.0" x2="235.0" y2="97.0"><stop offset="0.000" stop-color="#1a1a1a"/><stop offset="0.160" stop-color="#202020"/><stop offset="0.327" stop-color="#252525"/><stop offset="0.523" stop-color="#262626"/><stop offset="0.714" stop-color="#252525"/><stop offset="0.863" stop-color="#232323"/><stop offset="1.000" stop-color="#202020"/></linearGradient>
<linearGradient id="g147" gradientUnits="userSpaceOnUse" x1="182.0" y1="230.0" x2="248.4" y2="84.0"><stop offset="0.000" stop-color="#303030"/><stop offset="0.040" stop-color="#303030"/><stop offset="0.079" stop-color="#2f2f2f"/><stop offset="0.116" stop-color="#2f2f2f"/><stop offset="0.159" stop-color="#2f2f2f"/><stop offset="0.223" stop-color="#2e2e2e"/><stop offset="0.294" stop-color="#2d2d2d"/><stop offset="0.364" stop-color="#2b2b2b"/><stop offset="0.431" stop-color="#2a2a2a"/><stop offset="0.493" stop-color="#282828"/><stop offset="0.552" stop-color="#272727"/><stop offset="0.609" stop-color="#252525"/><stop offset="0.663" stop-color="#232323"/><stop offset="0.717" stop-color="#212121"/><stop offset="0.769" stop-color="#1f1f1f"/><stop offset="0.818" stop-color="#1d1d1d"/><stop offset="0.864" stop-color="#1c1c1c"/><stop offset="0.909" stop-color="#1d1d1d"/><stop offset="0.949" stop-color="#1d1d1d"/><stop offset="0.977" stop-color="#1c1c1c"/><stop offset="1.000" stop-color="#1b1b1b"/></linearGradient>
<linearGradient id="g148" gradientUnits="userSpaceOnUse" x1="182.0" y1="230.0" x2="248.4" y2="84.0"><stop offset="0.000" stop-color="#b4b4b4"/><stop offset="0.040" stop-color="#b3b3b3"/><stop offset="0.079" stop-color="#b3b3b3"/><stop offset="0.116" stop-color="#b2b2b2"/><stop offset="0.159" stop-color="#b2b2b2"/><stop offset="0.223" stop-color="#b0b0b0"/><stop offset="0.294" stop-color="#aeaeae"/><stop offset="0.364" stop-color="#ababab"/><stop offset="0.431" stop-color="#a8a8a8"/><stop offset="0.493" stop-color="#a4a4a4"/><stop offset="0.552" stop-color="#a1a1a1"/><stop offset="0.609" stop-color="#9d9d9d"/><stop offset="0.663" stop-color="#979797"/><stop offset="0.717" stop-color="#8e8e8e"/><stop offset="0.769" stop-color="#858585"/><stop offset="0.818" stop-color="#7d7d7d"/><stop offset="0.864" stop-color="#797979"/><stop offset="0.909" stop-color="#7c7c7c"/><stop offset="0.949" stop-color="#808080"/><stop offset="0.977" stop-color="#7b7b7b"/><stop offset="1.000" stop-color="#737373"/></linearGradient>
<linearGradient id="g149" gradientUnits="userSpaceOnUse" x1="182.0" y1="230.0" x2="248.4" y2="84.0"><stop offset="0.000" stop-color="#ffffff"/><stop offset="0.040" stop-color="#fdfdfd"/><stop offset="0.079" stop-color="#fcfcfc"/><stop offset="0.116" stop-color="#fbfbfb"/><stop offset="0.159" stop-color="#f9f9f9"/><stop offset="0.223" stop-color="#f4f4f4"/><stop offset="0.294" stop-color="#ededed"/><stop offset="0.364" stop-color="#e5e5e5"/><stop offset="0.431" stop-color="#dbdbdb"/><stop offset="0.493" stop-color="#d2d2d2"/><stop offset="0.552" stop-color="#c8c8c8"/><stop offset="0.609" stop-color="#bebebe"/><stop offset="0.663" stop-color="#b3b3b3"/><stop offset="0.717" stop-color="#a8a8a8"/><stop offset="0.769" stop-color="#9e9e9e"/><stop offset="0.818" stop-color="#959595"/><stop offset="0.864" stop-color="#8f8f8f"/><stop offset="0.909" stop-color="#939393"/><stop offset="0.949" stop-color="#979797"/><stop offset="0.977" stop-color="#929292"/><stop offset="1.000" stop-color="#898989"/></linearGradient>
<linearGradient id="g150" gradientUnits="userSpaceOnUse" x1="303.0" y1="166.0" x2="330.0" y2="192.0"><stop offset="0.000" stop-color="#040404"/><stop offset="0.104" stop-color="#070707"/><stop offset="0.225" stop-color="#0a0a0a"/><stop offset="0.392" stop-color="#0d0d0d"/><stop offset="0.583" stop-color="#101010"/><stop offset="0.788" stop-color="#141414"/><stop offset="1.000" stop-color="#171717"/></linearGradient>
<linearGradient id="g151" gradientUnits="userSpaceOnUse" x1="303.0" y1="166.0" x2="330.0" y2="192.0"><stop offset="0.000" stop-color="#121212"/><stop offset="0.104" stop-color="#1f1f1f"/><stop offset="0.225" stop-color="#2c2c2c"/><stop offset="0.392" stop-color="#3a3a3a"/><stop offset="0.583" stop-color="#474747"/><stop offset="0.788" stop-color="#555555"/><stop offset="1.000" stop-color="#646464"/></linearGradient>
<linearGradient id="g152" gradientUnits="userSpaceOnUse" x1="303.0" y1="166.0" x2="330.0" y2="192.0"><stop offset="0.000" stop-color="#151515"/><stop offset="0.104" stop-color="#252525"/><stop offset="0.225" stop-color="#353535"/><stop offset="0.392" stop-color="#444444"/><stop offset="0.583" stop-color="#545454"/><stop offset="0.788" stop-color="#656565"/><stop offset="1.000" stop-color="#767676"/></linearGradient>
<linearGradient id="g153" gradientUnits="userSpaceOnUse" x1="318.0" y1="0.0" x2="432.0" y2="0.0"><stop offset="0.000" stop-color="#131313"/><stop offset="0.063" stop-color="#1a1a1a"/><stop offset="0.123" stop-color="#1f1f1f"/><stop offset="0.174" stop-color="#242424"/><stop offset="0.219" stop-color="#272727"/><stop offset="0.261" stop-color="#292929"/><stop offset="0.302" stop-color="#2a2a2a"/><stop offset="0.343" stop-color="#292929"/><stop offset="0.386" stop-color="#272727"/><stop offset="0.428" stop-color="#262626"/><stop offset="0.480" stop-color="#242424"/><stop offset="0.555" stop-color="#212121"/><stop offset="0.639" stop-color="#1d1d1d"/><stop offset="0.721" stop-color="#1a1a1a"/><stop offset="0.798" stop-color="#161616"/><stop offset="0.862" stop-color="#151515"/><stop offset="0.917" stop-color="#141414"/><stop offset="0.961" stop-color="#141414"/><stop offset="1.000" stop-color="#141414"/></linearGradient>
<linearGradient id="g154" gradientUnits="userSpaceOnUse" x1="318.0" y1="0.0" x2="432.0" y2="0.0"><stop offset="0.000" stop-color="#4b4b4b"/><stop offset="0.063" stop-color="#656565"/><stop offset="0.123" stop-color="#7c7c7c"/><stop offset="0.174" stop-color="#8d8d8d"/><stop offset="0.219" stop-color="#999999"/><stop offset="0.261" stop-color="#9e9e9e"/><stop offset="0.302" stop-color="#a0a0a0"/><stop offset="0.343" stop-color="#9f9f9f"/><stop offset="0.386" stop-color="#9b9b9b"/><stop offset="0.428" stop-color="#959595"/><stop offset="0.480" stop-color="#8d8d8d"/><stop offset="0.555" stop-color="#818181"/><stop offset="0.639" stop-color="#737373"/><stop offset="0.721" stop-color="#656565"/><stop offset="0.798" stop-color="#595959"/><stop offset="0.862" stop-color="#535353"/><stop offset="0.917" stop-color="#505050"/><stop offset="0.961" stop-color="#4f4f4f"/><stop offset="1.000" stop-color="#505050"/></linearGradient>
<linearGradient id="g155" gradientUnits="userSpaceOnUse" x1="318.0" y1="0.0" x2="432.0" y2="0.0"><stop offset="0.000" stop-color="#5a5a5a"/><stop offset="0.063" stop-color="#787878"/><stop offset="0.123" stop-color="#939393"/><stop offset="0.174" stop-color="#a7a7a7"/><stop offset="0.219" stop-color="#b6b6b6"/><stop offset="0.261" stop-color="#c1c1c1"/><stop offset="0.302" stop-color="#c7c7c7"/><stop offset="0.343" stop-color="#c2c2c2"/><stop offset="0.386" stop-color="#b8b8b8"/><stop offset="0.428" stop-color="#b1b1b1"/><stop offset="0.480" stop-color="#a7a7a7"/><stop offset="0.555" stop-color="#999999"/><stop offset="0.639" stop-color="#898989"/><stop offset="0.721" stop-color="#787878"/><stop offset="0.798" stop-color="#696969"/><stop offset="0.862" stop-color="#626262"/><stop offset="0.917" stop-color="#5f5f5f"/><stop offset="0.961" stop-color="#5e5e5e"/><stop offset="1.000" stop-color="#5f5f5f"/></linearGradient>
<linearGradient id="g156" gradientUnits="userSpaceOnUse" x1="330.0" y1="0.0" x2="306.0" y2="0.0"><stop offset="0.000" stop-color="#0e0e0e"/><stop offset="0.167" stop-color="#0e0e0e"/><stop offset="0.333" stop-color="#0e0e0e"/><stop offset="0.500" stop-color="#0d0d0d"/><stop offset="0.667" stop-color="#0d0d0d"/><stop offset="0.833" stop-color="#0c0c0c"/><stop offset="1.000" stop-color="#0b0b0b"/></linearGradient>
<linearGradient id="g157" gradientUnits="userSpaceOnUse" x1="330.0" y1="0.0" x2="306.0" y2="0.0"><stop offset="0.000" stop-color="#505050"/><stop offset="0.167" stop-color="#505050"/><stop offset="0.333" stop-color="#505050"/><stop offset="0.500" stop-color="#4e4e4e"/><stop offset="0.667" stop-color="#4b4b4b"/><stop offset="0.833" stop-color="#474747"/><stop offset="1.000" stop-color="#434343"/></linearGradient>
<linearGradient id="g158" gradientUnits="userSpaceOnUse" x1="330.0" y1="0.0" x2="306.0" y2="0.0"><stop offset="0.000" stop-color="#5f5f5f"/><stop offset="0.167" stop-color="#5f5f5f"/><stop offset="0.333" stop-color="#5f5f5f"/><stop offset="0.500" stop-color="#5d5d5d"/><stop offset="0.667" stop-color="#5a5a5a"/><stop offset="0.833" stop-color="#555555"/><stop offset="1.000" stop-color="#4f4f4f"/></linearGradient>
<linearGradient id="g159" gradientUnits="userSpaceOnUse" x1="416.0" y1="226.0" x2="468.0" y2="176.0"><stop offset="0.000" stop-color="#1c1c1c"/><stop offset="0.103" stop-color="#232323"/><stop offset="0.210" stop-color="#2a2a2a"/><stop offset="0.327" stop-color="#2f2f2f"/><stop offset="0.443" stop-color="#323232"/><stop offset="0.546" stop-color="#343434"/><stop offset="0.639" stop-color="#343434"/><stop offset="0.717" stop-color="#343434"/><stop offset="0.795" stop-color="#343434"/><stop offset="0.895" stop-color="#343434"/><stop offset="1.000" stop-color="#343434"/></linearGradient>
<linearGradient id="g160" gradientUnits="userSpaceOnUse" x1="416.0" y1="226.0" x2="468.0" y2="176.0"><stop offset="0.000" stop-color="#6f6f6f"/><stop offset="0.103" stop-color="#8b8b8b"/><stop offset="0.210" stop-color="#9f9f9f"/><stop offset="0.327" stop-color="#a9a9a9"/><stop offset="0.443" stop-color="#b0b0b0"/><stop offset="0.546" stop-color="#b2b2b2"/><stop offset="0.639" stop-color="#b3b3b3"/><stop offset="0.717" stop-color="#b3b3b3"/><stop offset="0.795" stop-color="#b3b3b3"/><stop offset="0.895" stop-color="#b3b3b3"/><stop offset="1.000" stop-color="#b3b3b3"/></linearGradient>
<linearGradient id="g161" gradientUnits="userSpaceOnUse" x1="416.0" y1="226.0" x2="468.0" y2="176.0"><stop offset="0.000" stop-color="#848484"/><stop offset="0.103" stop-color="#a5a5a5"/><stop offset="0.210" stop-color="#c4c4c4"/><stop offset="0.327" stop-color="#dfdfdf"/><stop offset="0.443" stop-color="#f3f3f3"/><stop offset="0.546" stop-color="#fafafa"/><stop offset="0.639" stop-color="#fcfcfc"/><stop offset="0.717" stop-color="#fcfcfc"/><stop offset="0.795" stop-color="#fcfcfc"/><stop offset="0.895" stop-color="#fcfcfc"/><stop offset="1.000" stop-color="#fcfcfc"/></linearGradient>
<g id="sa"><path class="l" d="M251.6 441.1 263.7 436.7 263.9 435.6 264.1 434.5 264.3 433.4 264.6 432.2 264.8 430.8 265.1 429.2 265.3 427.5 265.4 425.6 265.6 423.6 265.7 421.6 265.9 419.6 266.1 417.6 266.3 415.7 266.5 413.9 266.6 412.1 266.9 410.2 267.1 408.0 267.5 405.4 267.9 402.6 268.4 399.5 269.0 396.0 269.7 392.2 270.3 387.9 271.0 383.0 271.6 377.4 272.3 371.1 273.0 364.4 273.7 357.6 274.4 350.9 275.0 344.8 275.6 338.9 276.2 333.1 276.8 327.5 277.3 322.1 277.8 317.1 278.2 312.7 278.5 308.9 278.8 305.6 279.0 302.7 279.2 300.1 279.3 297.5 279.3 295.0 279.3 292.4 279.2 290.1 279.1 287.9 278.9 285.8 278.6 283.9 278.4 281.9 278.1 279.8 277.8 277.8 277.5 275.8 277.1 273.9 276.8 272.2 276.5 270.5 276.2 268.9 275.8 267.3 275.5 265.9 275.2 264.5 275.0 263.2 274.7 262.0 274.4 260.7 274.1 259.5 273.9 258.3 273.6 257.0 273.3 255.8 273.0 254.6 272.7 253.4 272.5 252.3 272.2 251.2 271.9 250.1 271.5 249.0 271.2 247.8 265.9 244.3 260.8 248.2 260.5 249.4 260.3 250.5 260.1 251.7 259.9 252.9 259.7 254.1 259.6 255.4 259.4 256.7 259.3 258.1 259.3 259.5 259.2 260.9 259.2 262.5 259.3 264.0 259.5 265.6 259.7 267.2 259.9 268.8 260.2 270.3 260.4 271.8 260.7 273.5 261.1 275.2 261.4 277.0 261.8 278.8 262.2 280.6 262.5 282.3 262.8 284.1 263.1 285.9 263.3 287.7 263.5 289.4 263.7 291.1 263.8 293.0 263.9 295.0 263.8 297.2 263.8 299.4 263.7 301.8 263.5 304.5 263.3 307.6 263.0 311.3 262.6 315.7 262.1 320.6 261.6 325.9 261.0 331.6 260.4 337.4 259.8 343.2 259.2 349.4 258.5 356.1 257.9 362.9 257.2 369.5 256.5 375.7 255.8 381.0 255.2 385.6 254.5 389.6 253.7 393.2 253.0 396.5 252.4 399.6 251.7 402.6 251.2 405.2 250.7 407.4 250.3 409.3 249.8 411.0 249.4 412.6 248.9 414.4 248.4 416.3 247.8 418.1 247.2 420.0 246.6 421.7 246.0 423.4 245.5 424.8 245.1 426.0 244.8 427.1 244.4 428.1 244.1 429.1 243.7 430.2 243.3 431.3Z" fill="url(#g1)" filter="url(#b7)"/><path class="l" d="M252.0 439.7 261.6 436.1 261.9 435.0 262.1 434.0 262.3 432.9 262.6 431.7 262.9 430.3 263.1 428.7 263.3 427.0 263.5 425.2 263.7 423.3 264.0 421.3 264.2 419.3 264.4 417.3 264.6 415.4 264.8 413.6 265.0 411.8 265.2 409.9 265.5 407.7 265.9 405.1 266.4 402.3 266.9 399.2 267.5 395.8 268.1 391.9 268.8 387.6 269.4 382.8 270.1 377.2 270.8 370.9 271.5 364.2 272.2 357.4 272.8 350.8 273.5 344.6 274.1 338.8 274.7 333.0 275.2 327.3 275.8 321.9 276.3 317.0 276.7 312.5 277.0 308.7 277.3 305.5 277.5 302.6 277.7 300.0 277.8 297.5 277.8 295.0 277.8 292.5 277.7 290.2 277.5 288.0 277.3 286.0 277.1 284.1 276.8 282.1 276.6 280.1 276.2 278.1 275.9 276.1 275.5 274.2 275.2 272.5 274.9 270.8 274.6 269.2 274.3 267.6 274.0 266.1 273.7 264.8 273.4 263.4 273.1 262.2 272.9 260.9 272.7 259.7 272.4 258.4 272.2 257.1 271.9 255.9 271.7 254.7 271.4 253.5 271.2 252.4 270.9 251.3 270.7 250.1 270.4 249.0 270.2 247.8 265.9 245.1 261.8 248.2 261.6 249.3 261.5 250.5 261.3 251.6 261.1 252.8 261.0 254.1 260.9 255.3 260.8 256.6 260.8 258.0 260.7 259.3 260.7 260.8 260.8 262.3 260.9 263.8 261.0 265.4 261.2 266.9 261.5 268.5 261.7 270.0 262.0 271.5 262.3 273.2 262.6 274.9 263.0 276.7 263.4 278.5 263.7 280.3 264.1 282.1 264.4 283.9 264.6 285.7 264.9 287.5 265.1 289.2 265.2 291.0 265.3 292.9 265.4 295.0 265.4 297.2 265.3 299.5 265.2 301.9 265.1 304.6 264.8 307.7 264.5 311.5 264.1 315.8 263.7 320.7 263.1 326.1 262.5 331.7 261.9 337.5 261.3 343.4 260.7 349.6 260.1 356.2 259.4 363.0 258.7 369.7 258.0 375.8 257.4 381.2 256.7 385.8 256.0 389.8 255.3 393.5 254.6 396.8 253.9 399.9 253.3 402.9 252.8 405.5 252.3 407.7 251.9 409.6 251.5 411.3 251.1 412.9 250.6 414.7 250.1 416.6 249.6 418.5 249.0 420.3 248.5 422.1 248.0 423.8 247.5 425.3 247.1 426.5 246.7 427.6 246.4 428.6 246.1 429.6 245.7 430.7 245.4 431.9Z" fill="url(#g2)" filter="url(#b5)"/><path class="l" d="M253.1 435.4 255.4 434.5 255.7 433.4 256.0 432.3 256.3 431.3 256.6 430.1 256.9 428.9 257.2 427.4 257.5 425.8 257.8 424.0 258.1 422.2 258.5 420.2 258.8 418.3 259.2 416.3 259.5 414.5 259.7 412.7 260.0 411.0 260.3 409.0 260.7 406.9 261.1 404.3 261.6 401.4 262.2 398.3 262.8 394.9 263.5 391.1 264.2 386.9 264.9 382.2 265.5 376.7 266.2 370.5 266.9 363.8 267.6 357.0 268.2 350.3 268.9 344.1 269.5 338.3 270.1 332.5 270.6 326.8 271.2 321.5 271.7 316.5 272.1 312.1 272.4 308.4 272.6 305.1 272.8 302.3 273.0 299.8 273.1 297.4 273.1 295.0 273.1 292.6 272.9 290.5 272.8 288.5 272.6 286.6 272.3 284.7 272.1 282.8 271.8 280.8 271.5 278.9 271.1 277.0 270.8 275.2 270.4 273.4 270.1 271.7 269.8 270.1 269.5 268.5 269.2 267.0 268.9 265.6 268.7 264.2 268.5 262.8 268.3 261.4 268.1 260.1 268.0 258.8 267.8 257.5 267.7 256.2 267.6 254.9 267.5 253.7 267.4 252.5 267.3 251.4 267.2 250.3 267.1 249.1 267.0 248.0 266.0 247.3 265.0 248.0 265.0 249.2 265.0 250.3 265.0 251.5 265.0 252.6 265.0 253.8 265.0 255.1 265.1 256.4 265.1 257.7 265.2 259.0 265.3 260.4 265.4 261.8 265.5 263.2 265.7 264.7 266.0 266.1 266.2 267.6 266.5 269.1 266.8 270.7 267.1 272.3 267.4 274.0 267.8 275.8 268.1 277.6 268.5 279.5 268.8 281.3 269.1 283.2 269.4 285.1 269.6 286.9 269.8 288.8 270.0 290.7 270.1 292.7 270.1 295.0 270.1 297.3 270.0 299.7 269.9 302.2 269.7 304.9 269.5 308.1 269.1 311.9 268.7 316.3 268.3 321.2 267.7 326.5 267.2 332.2 266.5 338.0 265.9 343.9 265.3 350.0 264.7 356.7 264.0 363.5 263.3 370.1 262.6 376.4 261.9 381.8 261.3 386.5 260.6 390.6 259.9 394.4 259.3 397.7 258.6 400.8 258.1 403.7 257.6 406.3 257.2 408.5 256.9 410.4 256.5 412.2 256.2 413.9 255.8 415.7 255.4 417.6 255.0 419.6 254.6 421.5 254.2 423.3 253.8 425.0 253.4 426.6 253.1 427.9 252.8 429.1 252.5 430.2 252.2 431.3 251.9 432.4 251.6 433.5Z" fill="url(#g3)" filter="url(#b3)"/><path class="l" d="M260.8 327.7 263.0 325.8 262.9 323.4 262.8 321.1 262.7 318.8 262.6 316.5 262.5 314.2 262.4 311.8 262.3 309.4 262.2 306.9 262.2 304.5 262.1 302.0 262.1 299.5 262.2 297.1 262.3 294.6 262.4 292.1 262.6 289.6 262.8 287.2 263.0 284.8 263.4 282.5 263.7 280.4 264.2 278.3 264.7 276.2 265.3 274.1 265.9 272.0 266.4 269.8 264.0 267.0 260.6 268.2 260.0 270.3 259.4 272.4 258.7 274.5 258.1 276.8 257.5 279.1 257.0 281.5 256.7 284.0 256.4 286.5 256.2 289.1 256.0 291.7 255.9 294.3 255.8 296.9 255.8 299.5 255.8 302.1 255.9 304.7 256.0 307.2 256.2 309.7 256.4 312.2 256.6 314.6 256.9 317.0 257.2 319.3 257.6 321.6 257.9 323.9 258.2 326.2Z" fill="url(#g4)" filter="url(#b4)"/></g>
<g id="sia"><ellipse class="l" cx="324.0" cy="110.0" rx="20.0" ry="26.0" fill="#424242" filter="url(#b10)" transform="rotate(-20.0 324.0 110.0)"/><path class="l" d="M319.2 114.8 332.9 98.5 332.4 97.1 332.0 95.7 331.4 93.8 330.6 91.3 329.5 88.3 328.1 85.4 326.7 83.1 325.3 80.9 323.5 78.5 321.2 75.9 318.5 73.3 315.6 71.0 312.6 69.0 309.4 67.2 306.0 65.4 302.3 63.7 298.5 62.2 294.6 60.9 290.9 59.9 287.0 59.2 283.1 58.6 279.0 58.3 274.7 58.2 270.4 58.6 266.2 59.2 262.1 60.2 258.1 61.4 254.3 62.9 250.5 64.6 246.9 66.5 243.4 68.7 240.1 71.2 236.8 73.8 233.7 76.7 230.8 79.7 228.0 82.9 225.5 86.4 223.2 90.0 221.2 93.6 219.4 97.2 217.9 100.7 216.6 104.3 215.7 108.0 215.1 111.6 215.0 114.7 215.0 117.3 215.1 119.6 215.1 121.8 224.0 130.2 234.9 124.8 235.6 122.2 236.2 119.6 236.8 117.5 237.3 115.8 238.0 114.4 238.8 112.9 239.9 111.0 241.3 108.7 242.8 106.3 244.4 104.0 246.1 102.0 247.8 100.3 249.6 98.7 251.6 97.1 253.8 95.6 256.1 94.2 258.3 92.9 260.5 91.9 262.6 91.0 264.9 90.1 267.1 89.5 269.2 88.9 271.3 88.6 273.2 88.4 275.0 88.5 276.9 88.6 278.9 88.9 281.0 89.4 283.2 90.0 285.2 90.7 287.0 91.5 289.0 92.4 291.1 93.6 293.1 94.8 294.8 96.0 296.0 97.0 296.6 97.6 296.8 97.9 296.9 98.3 297.2 98.8 297.6 99.7 297.9 100.6 298.0 100.9 298.0 101.3 298.1 102.1 298.3 103.5 298.7 105.5 299.1 107.5Z" fill="url(#g21)" filter="url(#b11)"/><path class="l" d="M318.5 112.5 329.5 99.4 329.0 97.9 328.6 96.5 328.1 94.6 327.4 92.3 326.3 89.5 325.1 86.9 323.8 84.8 322.5 82.7 320.8 80.5 318.8 78.1 316.3 75.8 313.6 73.6 310.8 71.7 307.7 69.9 304.5 68.2 301.0 66.6 297.4 65.1 293.7 63.9 290.1 63.0 286.4 62.2 282.7 61.6 278.8 61.3 274.8 61.3 270.7 61.6 266.7 62.2 262.8 63.1 259.0 64.2 255.3 65.6 251.7 67.2 248.3 69.1 244.9 71.1 241.7 73.5 238.5 76.0 235.5 78.7 232.7 81.6 230.0 84.7 227.5 88.0 225.3 91.4 223.3 94.9 221.6 98.4 220.1 101.8 218.9 105.1 217.9 108.6 217.4 112.0 217.2 115.0 217.2 117.6 217.2 119.8 217.1 122.1 224.2 128.8 232.9 124.5 233.6 121.9 234.1 119.4 234.6 117.2 235.1 115.4 235.7 113.7 236.5 112.1 237.7 109.9 239.1 107.5 240.6 105.0 242.3 102.6 244.0 100.4 245.8 98.5 247.7 96.8 249.8 95.0 252.1 93.4 254.5 91.9 256.8 90.5 259.1 89.3 261.4 88.3 263.8 87.4 266.2 86.7 268.5 86.1 270.8 85.7 272.9 85.4 274.9 85.4 277.1 85.6 279.3 85.9 281.6 86.4 283.9 87.0 286.1 87.7 288.2 88.5 290.4 89.6 292.6 90.8 294.7 92.0 296.6 93.3 298.0 94.4 298.8 95.1 299.2 95.7 299.6 96.3 300.0 97.1 300.5 98.1 300.9 99.1 301.1 99.7 301.2 100.3 301.4 101.3 301.7 102.8 302.0 104.7 302.5 106.6Z" fill="url(#g22)" filter="url(#b10)"/><path class="l" d="M317.1 107.3 322.1 101.4 321.6 99.8 321.2 98.2 320.8 96.4 320.2 94.5 319.4 92.3 318.4 90.3 317.4 88.4 316.3 86.7 315.0 84.8 313.4 82.9 311.5 81.1 309.3 79.3 306.9 77.7 304.2 76.0 301.2 74.4 298.1 72.9 294.8 71.5 291.6 70.4 288.4 69.6 285.1 68.9 281.7 68.3 278.3 68.0 274.8 67.9 271.3 68.1 267.8 68.6 264.4 69.4 261.0 70.4 257.7 71.6 254.4 73.0 251.3 74.6 248.2 76.5 245.2 78.5 242.2 80.8 239.4 83.2 236.8 85.8 234.3 88.5 232.1 91.4 230.0 94.5 228.1 97.7 226.4 100.9 224.9 104.0 223.7 107.0 222.8 110.0 222.2 112.9 222.0 115.6 221.8 118.1 221.7 120.4 221.4 122.8 224.6 125.8 228.6 123.8 229.0 121.4 229.4 118.9 229.8 116.6 230.2 114.4 230.8 112.3 231.7 110.2 232.9 107.7 234.3 105.0 235.9 102.2 237.6 99.5 239.5 97.0 241.5 94.7 243.6 92.6 245.9 90.5 248.4 88.6 250.9 86.8 253.5 85.2 256.1 83.8 258.8 82.5 261.5 81.4 264.2 80.5 267.0 79.7 269.7 79.2 272.3 78.9 274.9 78.8 277.5 78.9 280.2 79.2 282.9 79.7 285.6 80.4 288.2 81.2 290.7 82.1 293.3 83.2 295.9 84.6 298.3 86.0 300.5 87.4 302.3 88.7 303.6 89.8 304.6 90.9 305.4 92.0 306.2 93.1 306.9 94.4 307.6 95.7 308.1 96.9 308.4 98.1 308.8 99.4 309.1 101.0 309.5 102.8 309.9 104.6Z" fill="url(#g23)" filter="url(#b10)"/><ellipse class="l" cx="256.0" cy="104.0" rx="24.0" ry="13.0" fill="#262626" filter="url(#b10)" transform="rotate(-20.0 256.0 104.0)"/><path class="l" d="M162.0 245.2 183.2 253.7 186.8 251.7 190.4 249.8 194.0 247.8 197.6 245.9 201.3 243.9 204.9 241.9 208.6 239.8 212.4 237.7 216.4 235.4 220.4 233.1 224.6 230.7 228.7 228.2 232.6 226.0 236.5 223.7 240.7 221.3 245.1 218.6 249.8 215.5 254.5 212.0 259.3 208.3 264.2 204.4 269.2 200.2 274.2 195.6 279.3 190.8 284.3 185.6 289.2 180.0 294.0 174.1 298.6 168.2 302.9 162.5 306.8 157.1 310.3 152.3 313.5 147.7 316.6 143.2 319.4 138.9 321.9 134.9 324.2 131.3 326.1 128.0 327.8 125.1 329.2 122.6 330.4 120.2 331.5 118.0 332.5 115.8 333.4 113.5 334.3 110.9 335.0 108.3 335.4 106.1 335.5 104.5 335.3 103.7 335.2 102.7 321.7 83.3 298.8 89.3 297.9 90.6 297.0 91.8 296.4 92.4 295.9 92.4 295.6 92.3 295.0 92.5 294.2 93.1 293.3 94.0 292.3 95.0 291.0 96.3 289.4 98.1 287.5 100.4 285.1 103.2 282.5 106.3 279.6 109.7 276.5 113.4 273.2 117.4 269.7 121.7 265.9 126.6 261.9 131.9 257.8 137.3 253.8 142.6 249.9 147.5 246.3 152.0 242.7 156.1 239.0 160.3 235.2 164.4 231.4 168.4 227.6 172.1 224.1 175.6 220.9 178.6 217.9 181.2 214.8 183.8 211.6 186.4 208.1 189.0 204.5 191.8 201.0 194.4 197.4 196.9 193.8 199.4 190.1 201.9 186.4 204.5 182.7 207.1 179.2 209.7 175.8 212.3 172.5 214.8 169.3 217.3 166.0 219.8 162.8 222.3Z" fill="url(#g24)" filter="url(#b12)"/><path class="l" d="M164.2 243.7 181.2 250.6 184.8 248.5 188.3 246.5 191.9 244.5 195.4 242.5 199.1 240.5 202.7 238.4 206.4 236.3 210.2 234.1 214.1 231.8 218.1 229.5 222.2 227.0 226.3 224.6 230.2 222.3 234.0 220.0 238.1 217.6 242.4 214.9 246.9 211.8 251.5 208.4 256.1 204.7 260.9 200.8 265.8 196.6 270.7 192.1 275.6 187.3 280.5 182.3 285.3 176.8 290.0 171.0 294.5 165.1 298.8 159.4 302.7 154.1 306.2 149.2 309.5 144.7 312.6 140.2 315.4 136.0 318.0 132.1 320.3 128.5 322.3 125.2 324.0 122.4 325.4 119.9 326.6 117.7 327.7 115.6 328.6 113.6 329.5 111.4 330.4 109.1 331.1 106.7 331.5 104.7 331.6 103.2 331.5 102.4 331.5 101.4 320.8 85.8 302.5 90.6 301.6 91.9 300.9 93.1 300.3 93.8 299.8 94.0 299.4 94.1 298.9 94.6 298.1 95.4 297.2 96.4 296.1 97.5 294.9 99.0 293.3 100.8 291.3 103.2 289.0 106.0 286.4 109.1 283.6 112.6 280.5 116.4 277.2 120.4 273.8 124.8 270.0 129.7 266.0 135.0 261.9 140.4 257.8 145.8 253.9 150.8 250.1 155.3 246.4 159.6 242.5 163.8 238.6 168.0 234.6 172.0 230.8 175.8 227.1 179.2 223.8 182.3 220.6 185.0 217.4 187.6 214.1 190.1 210.5 192.7 206.9 195.4 203.3 198.0 199.7 200.5 196.1 203.0 192.3 205.5 188.6 208.0 184.9 210.6 181.4 213.1 178.0 215.6 174.7 218.1 171.4 220.5 168.1 223.0 164.8 225.4Z" fill="url(#g25)" filter="url(#b10)"/><path class="l" d="M171.1 239.3 174.8 240.8 178.3 238.6 181.7 236.4 185.2 234.2 188.6 232.0 192.2 229.8 195.8 227.6 199.4 225.3 203.2 222.9 207.1 220.6 211.0 218.2 214.9 215.7 218.7 213.2 222.5 210.7 226.2 208.3 230.0 205.9 233.9 203.2 237.9 200.3 242.0 197.0 246.2 193.4 250.7 189.5 255.2 185.4 259.7 181.1 264.2 176.5 268.6 171.8 273.0 166.6 277.5 161.1 281.8 155.5 286.0 149.9 290.0 144.5 293.6 139.7 296.9 135.2 300.1 130.9 303.0 126.9 305.7 123.1 308.1 119.7 310.2 116.6 312.0 114.0 313.5 111.8 314.7 109.8 315.8 108.1 316.7 106.5 317.6 104.9 318.3 103.2 318.9 101.8 319.3 100.4 319.6 99.3 319.9 98.3 320.2 97.2 317.8 93.8 313.8 94.8 313.3 96.0 312.9 97.1 312.5 98.0 312.0 99.0 311.5 99.9 310.8 101.1 310.0 102.5 309.1 103.9 308.0 105.4 306.8 107.1 305.3 109.2 303.4 111.8 301.2 114.8 298.7 118.1 296.0 121.7 293.0 125.7 289.8 129.9 286.4 134.3 282.8 139.2 278.8 144.5 274.6 150.0 270.4 155.6 266.1 160.9 262.0 165.8 257.8 170.4 253.5 174.9 249.2 179.1 244.9 183.2 240.7 187.0 236.6 190.6 232.8 193.8 229.1 196.6 225.5 199.3 221.9 201.8 218.2 204.3 214.5 206.8 210.7 209.3 206.9 211.8 203.1 214.2 199.3 216.7 195.5 219.1 191.8 221.4 188.3 223.8 184.8 226.1 181.4 228.4 178.0 230.7 174.6 232.9 171.2 235.2Z" fill="url(#g26)" filter="url(#b8)"/><ellipse cx="274.0" cy="100.7" rx="5.5" ry="3.2" fill="#000" fill-opacity="0.950" filter="url(#b4)"/><ellipse cx="256.0" cy="117.5" rx="7.5" ry="4.0" fill="#000" fill-opacity="0.950" filter="url(#b5)"/></g>
<g id="sbt"><path class="l" d="M251.4 440.3 262.2 436.4 262.4 435.4 262.6 434.7 262.8 433.6 263.1 432.2 263.4 430.5 263.7 428.5 263.9 426.3 264.0 423.9 264.2 421.3 264.3 418.3 264.5 414.8 264.8 410.8 265.1 406.1 265.6 400.5 266.0 394.5 266.5 388.5 266.9 382.8 267.4 377.8 267.8 373.5 268.2 369.6 268.6 366.1 269.1 362.7 269.5 359.3 269.9 355.9 270.3 352.7 270.7 350.0 271.1 347.2 271.6 344.0 272.0 340.2 272.3 335.5 272.7 329.4 273.0 322.2 273.3 314.4 273.6 306.5 273.9 299.3 274.1 293.3 274.3 288.5 274.4 284.4 274.5 280.9 274.6 277.9 274.7 275.0 274.8 272.2 275.0 269.7 275.2 267.5 275.4 265.6 275.5 263.7 275.7 261.9 275.8 259.9 275.9 257.7 275.9 255.6 276.0 253.4 276.0 251.4 276.0 249.5 275.9 247.6 275.8 245.9 275.7 244.2 275.5 242.5 275.3 240.9 275.0 239.3 274.8 237.8 274.5 236.2 274.3 234.7 274.0 233.2 273.7 231.8 273.4 230.3 273.1 228.9 272.8 227.6 272.6 226.3 272.3 225.0 272.1 223.6 271.8 222.3 271.6 221.0 267.6 218.2 263.6 221.0 263.3 222.3 263.1 223.6 262.8 224.9 262.6 226.3 262.3 227.6 262.1 229.1 261.9 230.5 261.6 232.0 261.4 233.5 261.2 235.1 261.0 236.6 260.8 238.2 260.7 239.8 260.6 241.5 260.5 243.1 260.4 244.8 260.4 246.5 260.5 248.4 260.6 250.3 260.8 252.3 261.1 254.3 261.4 256.3 261.6 258.2 261.8 260.1 262.0 261.9 262.1 263.6 262.2 265.3 262.3 267.2 262.4 269.3 262.4 271.8 262.3 274.5 262.1 277.3 261.9 280.3 261.7 283.8 261.4 287.9 261.1 292.7 260.8 298.8 260.4 306.0 260.1 313.8 259.7 321.5 259.3 328.7 258.9 334.5 258.5 339.0 258.1 342.4 257.8 345.3 257.4 348.0 257.0 350.9 256.5 354.1 256.0 357.5 255.6 360.9 255.1 364.3 254.6 367.9 254.0 371.8 253.4 376.2 252.8 381.3 252.1 387.1 251.4 393.1 250.7 399.1 250.0 404.5 249.4 409.2 248.8 412.9 248.1 416.2 247.5 419.0 246.9 421.4 246.4 423.6 245.9 425.5 245.5 427.0 245.3 427.9 245.0 428.7 244.7 429.4 244.4 430.5 244.0 431.6Z" fill="url(#g27)" filter="url(#b7)"/><path class="l" d="M251.8 439.1 260.4 435.9 260.6 434.9 260.8 434.1 261.0 433.1 261.3 431.8 261.6 430.2 261.9 428.2 262.1 426.0 262.3 423.7 262.5 421.0 262.7 418.1 263.0 414.6 263.3 410.7 263.6 405.9 264.1 400.4 264.5 394.4 265.0 388.3 265.5 382.6 266.0 377.6 266.4 373.3 266.8 369.5 267.3 365.9 267.7 362.5 268.1 359.1 268.6 355.7 269.0 352.6 269.4 349.8 269.8 347.0 270.2 343.8 270.6 340.1 271.0 335.4 271.3 329.3 271.7 322.1 272.0 314.3 272.3 306.5 272.6 299.3 272.8 293.2 273.0 288.4 273.1 284.4 273.3 280.9 273.4 277.8 273.5 274.9 273.6 272.2 273.7 269.6 273.9 267.5 274.0 265.5 274.2 263.7 274.3 261.9 274.4 259.9 274.5 257.8 274.5 255.6 274.5 253.5 274.5 251.5 274.5 249.5 274.4 247.7 274.3 245.9 274.2 244.2 274.0 242.6 273.8 241.0 273.6 239.4 273.4 237.8 273.2 236.3 273.0 234.8 272.7 233.3 272.5 231.8 272.2 230.4 272.0 229.0 271.8 227.6 271.6 226.3 271.4 224.9 271.2 223.6 271.0 222.3 270.8 221.0 267.6 218.8 264.4 221.0 264.2 222.3 264.0 223.6 263.8 224.9 263.6 226.3 263.4 227.6 263.2 229.0 263.0 230.5 262.8 232.0 262.6 233.5 262.5 235.0 262.3 236.6 262.2 238.2 262.1 239.8 262.0 241.4 262.0 243.1 261.9 244.7 261.9 246.5 262.0 248.3 262.1 250.2 262.3 252.2 262.6 254.2 262.8 256.2 263.0 258.2 263.2 260.1 263.3 261.9 263.5 263.6 263.6 265.3 263.6 267.2 263.6 269.3 263.6 271.8 263.5 274.5 263.4 277.3 263.2 280.4 262.9 283.9 262.7 287.9 262.4 292.8 262.1 298.8 261.8 306.0 261.4 313.8 261.0 321.6 260.6 328.7 260.2 334.6 259.8 339.1 259.5 342.6 259.1 345.5 258.7 348.2 258.3 351.1 257.8 354.3 257.4 357.7 256.9 361.1 256.4 364.5 255.9 368.1 255.4 372.0 254.8 376.4 254.2 381.5 253.6 387.2 252.9 393.3 252.2 399.2 251.6 404.7 250.9 409.3 250.3 413.1 249.8 416.4 249.2 419.2 248.7 421.7 248.2 423.8 247.7 425.8 247.3 427.3 247.0 428.4 246.8 429.1 246.5 429.9 246.2 431.0 245.8 432.1Z" fill="url(#g28)" filter="url(#b4)"/><path class="l" d="M252.6 435.8 255.7 434.7 256.0 433.7 256.2 432.8 256.5 431.8 256.8 430.7 257.1 429.3 257.4 427.4 257.7 425.3 257.9 423.0 258.2 420.5 258.6 417.5 258.9 414.1 259.3 410.2 259.8 405.5 260.3 400.0 260.8 394.0 261.4 388.0 261.9 382.3 262.4 377.2 262.9 372.9 263.3 369.0 263.8 365.4 264.3 362.0 264.7 358.7 265.1 355.3 265.5 352.1 266.0 349.3 266.4 346.5 266.8 343.4 267.2 339.8 267.5 335.1 267.9 329.1 268.3 321.9 268.6 314.1 268.9 306.3 269.2 299.1 269.5 293.1 269.7 288.3 269.9 284.2 270.0 280.7 270.2 277.6 270.3 274.8 270.4 272.1 270.5 269.5 270.6 267.4 270.7 265.5 270.8 263.7 270.8 261.9 270.8 260.0 270.8 257.9 270.8 255.8 270.7 253.8 270.6 251.7 270.5 249.8 270.4 247.9 270.3 246.1 270.2 244.4 270.1 242.7 270.0 241.1 269.9 239.5 269.8 237.9 269.7 236.4 269.6 234.8 269.5 233.3 269.4 231.9 269.3 230.4 269.2 229.0 269.1 227.6 269.0 226.3 269.0 224.9 268.9 223.6 268.8 222.3 268.8 221.0 267.6 220.2 266.4 221.0 266.4 222.3 266.3 223.6 266.2 224.9 266.1 226.3 266.1 227.6 266.0 229.0 266.0 230.5 265.9 231.9 265.9 233.4 265.8 234.9 265.8 236.5 265.8 238.1 265.8 239.7 265.8 241.3 265.8 242.9 265.8 244.6 265.9 246.3 266.0 248.1 266.1 250.0 266.2 252.0 266.4 254.0 266.6 256.0 266.7 258.1 266.8 260.0 266.8 261.9 266.9 263.7 266.9 265.4 266.9 267.3 266.9 269.4 266.8 271.9 266.7 274.7 266.6 277.5 266.4 280.5 266.2 284.0 266.0 288.1 265.7 292.9 265.4 299.0 265.1 306.2 264.8 314.0 264.4 321.8 264.0 328.9 263.7 334.9 263.3 339.4 262.9 343.0 262.5 346.0 262.1 348.7 261.7 351.5 261.3 354.7 260.8 358.2 260.4 361.5 259.9 364.9 259.4 368.5 258.9 372.4 258.4 376.8 257.8 381.8 257.2 387.6 256.6 393.6 256.0 399.6 255.4 405.1 254.9 409.8 254.4 413.6 253.9 416.9 253.5 419.8 253.0 422.3 252.6 424.5 252.2 426.6 251.9 428.2 251.6 429.5 251.3 430.4 251.1 431.3 250.8 432.2 250.5 433.3Z" fill="url(#g29)" filter="url(#b4)"/><path class="l" d="M262.2 286.5 264.3 284.8 264.2 282.6 264.1 280.4 264.0 278.2 264.0 276.1 263.9 274.0 263.9 271.9 263.9 269.9 263.9 267.9 263.9 265.9 264.0 264.0 264.1 262.1 264.2 260.3 264.3 258.6 264.5 257.0 264.8 255.4 265.0 253.8 265.3 252.1 265.6 250.4 263.9 248.6 261.6 249.6 261.2 251.2 260.7 252.8 260.2 254.4 259.8 256.0 259.4 257.8 259.0 259.7 258.8 261.6 258.5 263.6 258.4 265.7 258.3 267.8 258.3 269.9 258.3 272.1 258.4 274.3 258.7 276.5 259.0 278.7 259.3 280.9 259.6 283.0 259.9 285.2Z" fill="url(#g30)" filter="url(#b4)"/></g>
<g id="sbs"><path class="l" d="M284.3 440.7 295.9 437.0 296.1 436.1 296.3 435.4 296.6 434.3 297.0 432.9 297.4 431.1 297.7 428.9 298.0 426.3 298.3 423.5 298.6 420.4 299.0 417.1 299.4 413.4 300.0 409.4 300.7 404.8 301.5 399.6 302.4 394.1 303.4 388.5 304.3 383.3 305.3 378.6 306.2 374.4 307.1 370.4 308.0 366.7 309.0 363.2 309.8 360.0 310.6 357.1 311.3 354.7 311.9 352.8 312.6 350.9 313.2 349.0 313.8 346.8 314.2 344.5 314.5 342.1 314.7 339.9 314.7 337.7 314.7 335.7 314.6 333.7 314.5 331.8 314.4 329.7 314.2 327.6 314.0 325.4 313.7 323.3 313.5 321.1 313.1 319.0 312.8 316.9 312.4 314.7 312.0 312.6 311.6 310.5 311.2 308.4 310.8 306.4 310.3 304.5 309.8 302.6 309.4 300.9 308.9 299.2 308.4 297.7 308.0 296.3 307.6 294.9 307.1 293.5 306.7 292.3 306.3 291.0 305.9 289.9 305.5 288.8 305.1 287.8 304.8 286.9 304.5 286.0 304.1 285.2 303.8 284.4 303.5 283.5 303.2 282.7 303.0 281.8 302.7 280.9 302.4 279.9 302.1 278.9 301.8 277.9 297.5 275.0 293.4 278.1 293.1 279.1 292.9 280.1 292.6 281.1 292.4 282.2 292.2 283.3 292.1 284.5 291.9 285.6 291.8 286.6 291.8 287.7 291.7 288.8 291.7 290.0 291.7 291.2 291.7 292.5 291.8 293.9 291.9 295.2 292.0 296.7 292.2 298.1 292.4 299.7 292.6 301.3 292.9 303.0 293.2 304.6 293.5 306.2 293.8 307.9 294.0 309.6 294.3 311.3 294.5 313.3 294.7 315.2 294.9 317.2 295.1 319.1 295.3 321.0 295.4 322.9 295.4 324.8 295.5 326.7 295.5 328.6 295.5 330.4 295.5 332.2 295.5 334.0 295.4 335.7 295.4 337.3 295.3 338.7 295.1 340.1 295.0 341.5 294.8 342.8 294.5 344.1 294.2 345.7 293.7 347.7 293.2 350.1 292.6 352.9 292.0 356.0 291.4 359.3 290.8 362.9 290.1 366.8 289.3 371.0 288.5 375.4 287.7 380.3 286.8 385.7 285.9 391.3 284.9 396.8 284.1 402.0 283.2 406.6 282.4 410.6 281.7 414.3 280.9 417.6 280.3 420.5 279.6 423.0 279.1 425.1 278.6 426.7 278.3 427.6 278.0 428.2 277.7 428.8 277.3 429.9 276.9 431.0Z" fill="url(#g31)" filter="url(#b8)"/><path class="l" d="M284.7 439.3 294.0 436.4 294.3 435.5 294.5 434.7 294.8 433.7 295.1 432.3 295.5 430.6 295.9 428.5 296.2 426.0 296.5 423.2 296.9 420.2 297.3 416.8 297.7 413.1 298.3 409.1 299.0 404.5 299.9 399.3 300.8 393.8 301.7 388.2 302.7 383.0 303.6 378.3 304.5 374.0 305.4 370.1 306.3 366.3 307.2 362.8 308.0 359.6 308.8 356.7 309.5 354.3 310.1 352.3 310.7 350.4 311.3 348.5 311.9 346.4 312.3 344.2 312.6 341.9 312.7 339.7 312.8 337.7 312.8 335.7 312.7 333.8 312.6 331.8 312.5 329.8 312.3 327.7 312.1 325.6 311.9 323.4 311.6 321.3 311.4 319.2 311.0 317.1 310.7 314.9 310.3 312.8 309.9 310.7 309.5 308.7 309.1 306.8 308.7 304.8 308.2 303.0 307.7 301.3 307.3 299.6 306.9 298.1 306.5 296.7 306.0 295.2 305.6 293.9 305.2 292.6 304.8 291.3 304.5 290.1 304.1 289.0 303.8 288.0 303.5 287.1 303.2 286.2 302.9 285.3 302.6 284.5 302.4 283.6 302.1 282.8 301.9 281.9 301.7 280.9 301.5 279.9 301.2 278.9 301.0 277.9 297.5 275.6 294.2 278.1 294.0 279.1 293.8 280.1 293.7 281.1 293.5 282.1 293.3 283.2 293.2 284.4 293.1 285.5 293.1 286.5 293.0 287.6 293.0 288.6 293.0 289.8 293.1 291.0 293.2 292.2 293.3 293.6 293.4 294.9 293.6 296.4 293.7 297.8 293.9 299.3 294.2 301.0 294.5 302.6 294.8 304.2 295.2 305.9 295.4 307.5 295.7 309.2 296.0 311.1 296.2 313.0 296.5 314.9 296.7 316.9 296.9 318.9 297.0 320.8 297.2 322.7 297.3 324.6 297.3 326.6 297.4 328.5 297.4 330.3 297.4 332.2 297.4 334.0 297.3 335.7 297.3 337.3 297.2 338.9 297.1 340.3 296.9 341.8 296.7 343.2 296.4 344.6 296.0 346.2 295.5 348.2 295.0 350.6 294.4 353.3 293.8 356.4 293.2 359.7 292.5 363.3 291.8 367.2 291.0 371.3 290.2 375.7 289.4 380.6 288.5 386.0 287.5 391.6 286.6 397.1 285.7 402.3 284.9 406.9 284.1 410.9 283.4 414.5 282.7 417.8 282.1 420.8 281.5 423.3 280.9 425.5 280.5 427.1 280.2 428.1 279.9 428.8 279.6 429.5 279.2 430.5 278.8 431.6Z" fill="url(#g32)" filter="url(#b5)"/><path class="l" d="M285.8 435.9 289.2 434.9 289.4 433.9 289.7 433.1 290.0 432.1 290.3 431.0 290.7 429.5 291.1 427.5 291.5 425.1 291.9 422.4 292.3 419.4 292.8 416.1 293.4 412.4 294.0 408.4 294.8 403.8 295.6 398.6 296.5 393.1 297.5 387.5 298.4 382.2 299.3 377.5 300.2 373.2 301.0 369.1 301.9 365.4 302.7 361.8 303.5 358.6 304.2 355.6 304.8 353.1 305.4 351.0 306.0 349.1 306.5 347.3 307.0 345.4 307.4 343.4 307.6 341.4 307.8 339.5 307.8 337.6 307.8 335.7 307.8 333.8 307.7 331.9 307.7 330.0 307.5 327.9 307.4 325.9 307.2 323.8 307.0 321.8 306.8 319.7 306.5 317.7 306.2 315.6 305.9 313.5 305.5 311.4 305.2 309.5 304.8 307.6 304.4 305.7 304.0 303.9 303.6 302.2 303.2 300.6 302.8 299.0 302.5 297.5 302.1 296.1 301.8 294.7 301.4 293.3 301.1 292.0 300.8 290.8 300.6 289.7 300.3 288.6 300.1 287.6 299.9 286.6 299.8 285.7 299.6 284.8 299.5 283.9 299.3 282.9 299.2 281.9 299.1 281.0 299.0 280.0 298.9 279.0 298.8 278.0 297.6 277.1 296.4 278.0 296.3 279.0 296.3 280.0 296.2 281.0 296.2 282.1 296.1 283.1 296.1 284.1 296.2 285.1 296.2 286.1 296.3 287.1 296.4 288.1 296.5 289.2 296.6 290.3 296.8 291.6 297.0 292.9 297.2 294.2 297.4 295.6 297.7 297.0 297.9 298.5 298.3 300.0 298.6 301.6 299.0 303.3 299.3 305.0 299.7 306.7 300.0 308.4 300.3 310.3 300.6 312.3 300.9 314.3 301.2 316.3 301.4 318.3 301.6 320.3 301.8 322.3 302.0 324.3 302.1 326.2 302.2 328.2 302.2 330.2 302.3 332.1 302.3 333.9 302.3 335.7 302.2 337.4 302.2 339.1 302.0 340.8 301.8 342.6 301.5 344.3 301.2 345.9 300.7 347.6 300.2 349.5 299.6 351.7 299.0 354.4 298.4 357.4 297.7 360.7 296.9 364.3 296.1 368.1 295.3 372.2 294.5 376.5 293.6 381.4 292.7 386.7 291.8 392.3 290.8 397.8 290.0 403.0 289.2 407.6 288.5 411.6 287.8 415.3 287.2 418.6 286.7 421.6 286.2 424.2 285.7 426.5 285.3 428.2 285.0 429.5 284.6 430.4 284.3 431.2 284.0 432.1 283.6 433.1Z" fill="url(#g33)" filter="url(#b4)"/><path class="l" d="M307.3 353.3 304.3 357.1 304.4 358.3 304.6 359.4 304.7 360.6 304.8 361.7 305.0 362.9 305.3 364.2 305.6 365.8 306.0 367.5 306.4 369.3 306.9 371.2 307.4 373.1 307.9 375.0 308.4 376.9 309.0 378.9 309.5 380.9 310.1 382.8 310.6 384.8 311.2 386.7 311.7 388.7 312.2 390.6 312.7 392.6 313.2 394.5 313.6 396.5 314.1 398.5 317.4 400.1 320.1 397.5 319.9 395.5 319.8 393.5 319.6 391.4 319.4 389.4 319.2 387.3 319.0 385.3 318.8 383.2 318.5 381.1 318.2 379.0 317.9 377.0 317.6 374.9 317.3 373.0 316.9 371.0 316.6 369.0 316.2 367.1 315.8 365.2 315.4 363.4 314.9 361.8 314.5 360.3 314.0 359.1 313.5 357.9 312.9 356.9 312.4 355.9 311.9 354.9Z" fill="url(#g34)" filter="url(#b5)"/><path class="l" d="M291.7 366.4 293.6 364.9 293.6 362.4 293.6 359.9 293.6 357.4 293.6 354.9 293.6 352.5 293.7 350.0 293.8 347.6 294.0 345.2 294.1 342.7 294.3 340.2 294.5 337.7 294.7 335.2 294.9 332.7 295.1 330.1 295.3 327.6 295.6 325.0 295.8 322.6 296.0 320.3 296.2 318.1 296.4 316.1 296.5 314.1 296.7 312.2 296.9 310.2 297.1 308.3 295.3 306.6 293.1 307.7 292.8 309.7 292.5 311.6 292.2 313.5 291.8 315.5 291.5 317.6 291.2 319.7 290.9 322.1 290.6 324.5 290.3 327.1 290.0 329.6 289.8 332.2 289.5 334.8 289.3 337.3 289.0 339.8 288.8 342.3 288.7 344.8 288.5 347.4 288.5 350.0 288.6 352.5 288.7 355.1 288.9 357.6 289.2 360.1 289.4 362.6 289.6 365.1Z" fill="url(#g35)" filter="url(#b4)"/></g>
<g id="sct"><path class="l" d="M502.5 439.9 512.2 435.5 512.4 434.4 512.6 433.5 512.7 432.5 513.0 431.2 513.2 429.7 513.5 428.0 513.8 426.0 514.2 423.7 514.5 421.3 514.9 418.8 515.3 416.2 515.7 413.7 516.0 411.2 516.3 408.7 516.7 406.2 517.0 403.7 517.2 401.3 517.4 398.9 517.4 396.4 517.4 393.9 517.4 391.3 517.3 388.8 517.2 386.3 517.1 383.9 517.0 381.7 516.8 379.5 516.7 377.4 516.5 375.3 516.3 373.4 516.3 371.6 516.2 370.0 516.2 368.6 516.2 367.3 516.3 366.0 516.3 364.7 516.5 363.3 516.6 361.8 516.9 360.2 517.2 358.7 517.4 357.0 517.7 355.1 517.9 353.1 518.1 350.9 518.3 348.6 518.4 346.1 518.6 343.5 518.7 340.9 518.8 338.1 519.0 335.2 519.1 332.1 519.2 328.8 519.4 325.5 519.5 322.3 519.5 319.1 519.6 316.1 519.7 313.2 519.7 310.2 519.7 307.2 519.8 304.2 519.7 301.1 519.7 297.8 519.6 294.5 519.6 291.1 519.5 287.7 519.4 284.3 519.4 281.0 519.4 277.6 519.4 274.3 519.4 270.9 519.5 267.6 519.6 264.2 519.7 260.9 520.0 257.5 520.3 254.1 520.6 250.6 520.9 247.3 521.2 244.0 521.5 240.9 521.7 238.0 521.9 235.2 522.0 232.5 522.1 229.9 522.2 227.4 522.2 224.9 522.2 222.4 522.1 219.9 522.0 217.5 521.8 215.2 521.7 213.0 521.5 210.9 521.3 209.0 521.1 207.2 520.9 205.5 520.7 203.9 520.5 202.4 520.2 200.9 520.0 199.4 519.8 198.0 519.6 196.7 519.4 195.4 519.2 194.2 519.0 192.9 518.8 191.7 518.6 190.5 518.4 189.3 518.2 188.2 518.0 187.1 517.7 185.9 514.5 183.6 511.3 185.9 511.0 187.1 510.8 188.2 510.6 189.3 510.4 190.5 510.2 191.7 510.0 192.9 509.8 194.2 509.6 195.4 509.4 196.7 509.2 198.0 509.0 199.4 508.8 200.9 508.5 202.4 508.3 203.9 508.1 205.5 507.9 207.2 507.7 209.0 507.5 210.9 507.3 213.0 507.2 215.2 507.0 217.5 506.9 219.9 506.8 222.4 506.8 224.9 506.8 227.4 506.9 229.9 507.0 232.5 507.1 235.2 507.3 238.0 507.5 240.9 507.8 244.0 508.1 247.3 508.4 250.7 508.7 254.1 509.0 257.5 509.3 260.9 509.4 264.2 509.5 267.6 509.5 270.9 509.5 274.2 509.5 277.5 509.4 280.8 509.3 284.2 509.1 287.6 508.9 290.9 508.7 294.3 508.5 297.5 508.3 300.7 508.1 303.8 507.8 306.8 507.6 309.7 507.4 312.6 507.2 315.6 507.1 318.7 506.9 321.8 506.8 325.1 506.6 328.4 506.5 331.6 506.4 334.7 506.4 337.7 506.3 340.5 506.3 343.2 506.3 345.8 506.4 348.3 506.4 350.6 506.5 352.7 506.5 354.6 506.6 356.4 506.7 358.0 506.8 359.6 506.8 361.0 506.7 362.5 506.6 363.9 506.5 365.1 506.3 366.3 506.1 367.5 505.7 368.8 505.3 370.2 504.8 371.9 504.2 373.7 503.5 375.6 502.7 377.6 502.0 379.7 501.3 381.9 500.6 384.2 499.9 386.6 499.2 389.1 498.5 391.7 497.9 394.3 497.4 396.9 497.1 399.5 497.0 402.2 496.9 404.7 496.8 407.3 496.8 409.7 496.7 412.1 496.6 414.5 496.5 417.0 496.5 419.5 496.4 421.9 496.2 424.0 496.1 425.8 496.0 427.2 495.8 428.3 495.6 429.2 495.4 430.1 495.2 431.2 495.0 432.3Z" fill="url(#g70)" filter="url(#b6)"/><path class="l" d="M502.7 438.7 510.5 435.2 510.7 434.1 510.8 433.2 511.0 432.1 511.2 430.9 511.5 429.5 511.7 427.8 512.0 425.8 512.4 423.5 512.7 421.1 513.1 418.6 513.4 416.1 513.8 413.6 514.1 411.1 514.4 408.6 514.7 406.0 515.0 403.6 515.2 401.1 515.4 398.7 515.5 396.2 515.5 393.7 515.6 391.1 515.6 388.6 515.6 386.1 515.5 383.7 515.5 381.5 515.4 379.3 515.3 377.2 515.3 375.2 515.2 373.2 515.2 371.4 515.2 369.8 515.2 368.5 515.2 367.2 515.3 365.9 515.4 364.6 515.5 363.2 515.7 361.7 515.9 360.2 516.1 358.6 516.4 356.9 516.6 355.1 516.8 353.1 517.0 350.9 517.1 348.5 517.2 346.1 517.4 343.5 517.5 340.8 517.6 338.1 517.7 335.1 517.9 332.0 518.0 328.8 518.1 325.5 518.2 322.2 518.3 319.1 518.4 316.1 518.4 313.1 518.5 310.2 518.5 307.2 518.6 304.2 518.6 301.0 518.6 297.8 518.6 294.5 518.5 291.1 518.4 287.7 518.4 284.3 518.4 280.9 518.4 277.6 518.4 274.3 518.4 270.9 518.5 267.6 518.6 264.2 518.7 260.9 518.9 257.5 519.1 254.1 519.4 250.6 519.7 247.3 519.9 244.0 520.1 240.9 520.3 238.0 520.4 235.2 520.5 232.5 520.6 229.9 520.7 227.4 520.7 224.9 520.7 222.4 520.6 219.9 520.5 217.5 520.4 215.2 520.2 213.0 520.1 210.9 520.0 209.0 519.8 207.2 519.6 205.5 519.4 203.9 519.3 202.4 519.1 200.9 518.9 199.4 518.8 198.0 518.6 196.7 518.4 195.4 518.3 194.2 518.1 192.9 517.9 191.7 517.8 190.5 517.6 189.3 517.4 188.2 517.3 187.1 517.1 185.9 514.5 184.1 511.9 185.9 511.7 187.1 511.6 188.2 511.4 189.3 511.2 190.5 511.1 191.7 510.9 192.9 510.7 194.2 510.6 195.4 510.4 196.7 510.2 198.0 510.1 199.4 509.9 200.9 509.7 202.4 509.6 203.9 509.4 205.5 509.2 207.2 509.0 209.0 508.9 210.9 508.8 213.0 508.6 215.2 508.5 217.5 508.4 219.9 508.3 222.4 508.3 224.9 508.3 227.4 508.4 229.9 508.5 232.5 508.6 235.2 508.7 238.0 508.9 240.9 509.1 244.0 509.4 247.3 509.6 250.7 509.9 254.1 510.1 257.5 510.3 260.9 510.4 264.2 510.5 267.6 510.5 270.9 510.5 274.2 510.5 277.5 510.4 280.9 510.3 284.2 510.2 287.6 510.0 290.9 509.8 294.3 509.6 297.6 509.4 300.8 509.2 303.8 509.0 306.8 508.8 309.8 508.6 312.7 508.5 315.7 508.3 318.7 508.2 321.9 508.0 325.1 507.9 328.4 507.8 331.6 507.7 334.8 507.6 337.7 507.6 340.6 507.5 343.3 507.6 345.9 507.6 348.3 507.6 350.6 507.6 352.7 507.6 354.7 507.7 356.4 507.7 358.1 507.8 359.6 507.8 361.1 507.7 362.6 507.6 364.0 507.5 365.2 507.3 366.4 507.1 367.6 506.8 368.9 506.4 370.4 506.0 372.0 505.4 373.8 504.8 375.7 504.1 377.8 503.5 379.9 502.9 382.1 502.2 384.4 501.6 386.8 501.0 389.3 500.4 391.9 499.9 394.5 499.4 397.1 499.1 399.7 499.0 402.3 498.9 404.9 498.8 407.4 498.7 409.8 498.6 412.2 498.5 414.7 498.4 417.2 498.3 419.7 498.1 422.0 498.0 424.2 497.9 426.0 497.7 427.5 497.5 428.6 497.3 429.5 497.1 430.5 496.9 431.5 496.7 432.6Z" fill="url(#g71)" filter="url(#b4)"/><path class="l" d="M503.3 435.6 506.1 434.4 506.3 433.3 506.5 432.3 506.7 431.3 506.9 430.2 507.1 428.8 507.3 427.2 507.6 425.3 507.8 423.1 508.1 420.7 508.4 418.2 508.7 415.6 508.9 413.1 509.2 410.7 509.4 408.2 509.6 405.7 509.8 403.2 510.1 400.7 510.3 398.2 510.5 395.7 510.7 393.1 510.9 390.5 511.1 388.0 511.3 385.5 511.5 383.2 511.7 381.0 511.8 378.8 512.0 376.7 512.1 374.7 512.2 372.8 512.4 371.1 512.5 369.5 512.6 368.2 512.7 366.9 512.8 365.7 512.9 364.4 513.0 363.0 513.1 361.5 513.3 360.0 513.4 358.4 513.6 356.8 513.7 355.0 513.9 353.0 514.0 350.8 514.1 348.5 514.1 346.0 514.2 343.4 514.3 340.7 514.4 338.0 514.5 335.0 514.6 331.9 514.7 328.7 514.9 325.4 515.0 322.1 515.1 319.0 515.2 315.9 515.3 313.0 515.4 310.0 515.5 307.1 515.6 304.1 515.7 300.9 515.7 297.7 515.7 294.4 515.8 291.1 515.8 287.7 515.8 284.3 515.8 280.9 515.9 277.6 515.9 274.2 515.9 270.9 515.9 267.6 516.0 264.2 516.0 260.9 516.1 257.5 516.2 254.1 516.3 250.6 516.4 247.3 516.4 244.0 516.5 240.9 516.6 238.0 516.6 235.2 516.7 232.5 516.7 229.9 516.7 227.4 516.7 224.9 516.7 222.4 516.7 219.9 516.7 217.5 516.6 215.2 516.6 213.0 516.5 210.9 516.5 209.0 516.4 207.2 516.3 205.5 516.3 203.9 516.2 202.4 516.2 200.9 516.1 199.4 516.0 198.0 516.0 196.7 515.9 195.4 515.9 194.2 515.8 192.9 515.7 191.7 515.7 190.5 515.6 189.3 515.6 188.2 515.5 187.1 515.4 185.9 514.5 185.2 513.6 185.9 513.5 187.1 513.4 188.2 513.4 189.3 513.3 190.5 513.3 191.7 513.2 192.9 513.1 194.2 513.1 195.4 513.0 196.7 513.0 198.0 512.9 199.4 512.8 200.9 512.8 202.4 512.7 203.9 512.7 205.5 512.6 207.2 512.5 209.0 512.5 210.9 512.4 213.0 512.4 215.2 512.3 217.5 512.3 219.9 512.3 222.4 512.3 224.9 512.3 227.4 512.3 229.9 512.3 232.5 512.4 235.2 512.4 238.0 512.5 240.9 512.6 244.0 512.7 247.3 512.8 250.7 512.8 254.1 512.9 257.5 513.0 260.9 513.0 264.2 513.0 267.6 513.0 270.9 513.0 274.2 513.0 277.6 513.0 280.9 512.9 284.2 512.8 287.6 512.7 291.0 512.6 294.3 512.5 297.6 512.3 300.9 512.2 303.9 512.1 306.9 511.9 309.9 511.8 312.8 511.6 315.8 511.5 318.8 511.4 322.0 511.2 325.2 511.1 328.5 511.0 331.8 510.9 334.9 510.8 337.8 510.7 340.6 510.7 343.3 510.7 345.9 510.6 348.4 510.6 350.7 510.5 352.8 510.5 354.8 510.5 356.6 510.4 358.2 510.4 359.8 510.3 361.3 510.2 362.8 510.1 364.2 510.0 365.4 509.8 366.6 509.7 367.9 509.5 369.2 509.2 370.7 508.9 372.4 508.6 374.3 508.2 376.2 507.7 378.3 507.3 380.4 506.9 382.6 506.5 384.9 506.1 387.4 505.6 389.9 505.2 392.5 504.9 395.1 504.5 397.6 504.3 400.2 504.1 402.7 503.9 405.3 503.8 407.8 503.6 410.2 503.5 412.7 503.3 415.1 503.1 417.6 502.9 420.1 502.7 422.5 502.5 424.7 502.3 426.6 502.1 428.1 501.9 429.3 501.7 430.4 501.5 431.3 501.3 432.3 501.1 433.4Z" fill="url(#g72)" filter="url(#b3)"/><path class="l" d="M508.1 264.2 509.8 262.8 509.8 260.8 509.8 258.8 509.9 256.8 509.9 254.8 509.9 252.9 510.0 250.9 510.1 249.0 510.2 247.0 510.3 244.9 510.4 242.9 510.5 241.0 510.6 239.1 510.7 237.3 510.8 235.6 510.9 234.0 511.0 232.4 511.2 230.8 511.3 229.1 509.6 227.6 507.7 228.7 507.5 230.3 507.2 231.9 506.9 233.5 506.7 235.2 506.4 236.9 506.2 238.7 506.0 240.6 505.8 242.6 505.6 244.6 505.4 246.7 505.2 248.8 505.2 250.9 505.3 252.9 505.4 255.0 505.6 257.0 505.8 259.0 506.0 261.0 506.2 263.0Z" fill="url(#g73)" filter="url(#b3)"/><path class="l" d="M517.4 381.9 518.9 381.0 519.1 379.3 519.3 377.7 519.4 376.0 519.6 374.3 519.7 372.6 519.8 370.9 519.8 369.2 519.7 367.5 519.6 365.8 519.5 364.1 519.3 362.5 519.2 360.8 517.5 359.8 516.0 361.0 516.0 362.6 516.1 364.3 516.1 366.0 516.2 367.6 516.2 369.3 516.2 370.9 516.2 372.5 516.2 374.2 516.2 375.8 516.1 377.5 516.1 379.1 516.1 380.8Z" fill="url(#g74)" filter="url(#b2)"/></g>
<g id="sca"><path class="l" d="M547.1 363.1 553.0 358.8 553.1 356.8 553.3 354.8 553.4 352.8 553.6 350.8 553.7 348.8 553.8 346.8 553.9 344.8 554.0 342.8 554.1 340.8 554.1 338.8 554.1 336.8 554.1 334.7 554.0 332.7 553.8 330.6 553.6 328.5 553.4 326.4 553.1 324.5 552.8 322.7 552.5 321.0 552.1 319.6 551.7 318.3 551.4 317.0 551.0 315.9 550.6 314.7 550.3 313.5 550.0 312.4 549.8 311.2 549.5 310.1 549.2 309.0 548.9 307.8 545.6 305.6 542.5 308.0 542.2 309.1 542.0 310.3 541.8 311.4 541.6 312.6 541.4 313.8 541.2 315.1 540.9 316.4 540.7 317.6 540.4 318.9 540.2 320.2 540.0 321.6 539.8 323.1 539.6 324.9 539.5 326.8 539.3 328.8 539.2 330.9 539.1 333.0 539.1 335.1 539.1 337.0 539.2 339.0 539.3 341.0 539.5 343.0 539.6 345.0 539.8 347.0 540.0 349.0 540.2 351.0 540.4 353.0 540.6 355.0 540.8 357.0 541.0 359.0Z" fill="url(#g75)" filter="url(#b6)"/><path class="l" d="M547.1 362.3 551.8 358.8 551.9 356.8 552.0 354.8 552.1 352.8 552.2 350.8 552.3 348.8 552.4 346.8 552.5 344.8 552.5 342.8 552.6 340.8 552.6 338.8 552.6 336.8 552.6 334.8 552.5 332.7 552.4 330.6 552.2 328.5 552.0 326.5 551.7 324.5 551.5 322.7 551.2 321.1 550.9 319.7 550.6 318.3 550.3 317.1 550.0 315.9 549.7 314.7 549.4 313.6 549.2 312.4 549.0 311.3 548.8 310.1 548.5 309.0 548.3 307.8 545.7 306.1 543.1 308.0 542.9 309.1 542.8 310.3 542.6 311.4 542.4 312.6 542.3 313.8 542.1 315.1 541.9 316.3 541.8 317.6 541.6 318.8 541.4 320.1 541.2 321.5 541.1 323.1 541.0 324.8 540.9 326.8 540.8 328.8 540.7 330.9 540.6 333.0 540.6 335.0 540.6 337.0 540.7 339.0 540.8 341.0 540.9 343.0 541.1 345.0 541.2 347.0 541.3 349.0 541.5 351.0 541.7 353.0 541.9 355.0 542.0 357.0 542.2 359.0Z" fill="url(#g76)" filter="url(#b4)"/><path class="l" d="M547.0 360.1 548.7 358.9 548.7 356.9 548.8 354.9 548.8 352.9 548.8 350.9 548.8 348.9 548.8 346.9 548.8 344.9 548.8 342.9 548.8 340.9 548.8 338.9 548.8 336.9 548.8 334.9 548.7 332.8 548.6 330.7 548.5 328.6 548.4 326.6 548.3 324.6 548.2 322.8 548.0 321.2 547.9 319.8 547.7 318.5 547.6 317.3 547.4 316.1 547.3 314.8 547.1 313.6 547.0 312.5 546.9 311.3 546.8 310.2 546.7 309.0 546.6 307.9 545.7 307.2 544.8 307.9 544.7 309.1 544.7 310.2 544.6 311.4 544.6 312.5 544.6 313.7 544.5 315.0 544.5 316.2 544.5 317.4 544.5 318.7 544.5 320.0 544.4 321.4 544.4 323.0 544.4 324.7 544.4 326.7 544.4 328.7 544.4 330.8 544.4 332.9 544.4 334.9 544.5 336.9 544.5 338.9 544.6 340.9 544.6 342.9 544.7 344.9 544.8 346.9 544.9 348.9 544.9 350.9 545.0 352.9 545.1 354.9 545.2 356.9 545.3 358.9Z" fill="url(#g77)" filter="url(#b3)"/><path class="l" d="M529.1 438.6 536.3 434.6 536.4 433.4 536.5 432.4 536.6 431.3 536.7 430.2 536.9 429.0 537.0 427.6 537.2 426.0 537.3 424.2 537.5 422.4 537.7 420.6 537.9 418.8 538.2 416.9 538.5 415.0 538.8 413.0 539.2 410.9 539.7 408.7 540.1 406.5 540.6 404.2 541.1 401.9 541.6 399.6 542.2 397.2 542.7 394.9 543.2 392.7 543.8 390.6 544.4 388.6 545.0 386.6 545.6 384.7 546.2 382.8 546.8 380.9 547.4 379.1 548.0 377.4 548.5 375.7 549.1 374.1 549.6 372.4 550.1 370.9 550.6 369.3 551.0 367.8 551.3 366.4 551.6 365.1 551.8 363.7 552.1 362.3 552.4 360.9 548.4 355.1 541.6 356.9 540.9 358.1 540.2 359.3 539.5 360.5 538.8 361.7 538.1 363.1 537.4 364.5 536.8 366.0 536.1 367.6 535.5 369.2 534.8 371.0 534.2 372.8 533.6 374.7 533.0 376.6 532.4 378.6 531.9 380.6 531.3 382.7 530.7 384.9 530.2 387.2 529.7 389.6 529.2 392.0 528.7 394.4 528.3 396.9 527.8 399.3 527.4 401.6 526.9 403.8 526.5 406.0 526.0 408.3 525.6 410.5 525.2 412.7 524.8 414.9 524.5 417.0 524.3 419.1 524.1 421.1 523.9 423.0 523.7 424.7 523.6 426.2 523.4 427.6 523.3 428.9 523.2 430.0 523.1 431.1 523.0 432.1 522.9 433.2Z" fill="url(#g78)" filter="url(#b6)"/><path class="l" d="M529.2 437.7 535.0 434.4 535.1 433.3 535.2 432.2 535.3 431.2 535.4 430.1 535.5 428.9 535.7 427.4 535.8 425.8 536.0 424.1 536.2 422.3 536.4 420.5 536.6 418.6 536.8 416.7 537.2 414.8 537.5 412.7 537.9 410.6 538.4 408.5 538.8 406.2 539.3 404.0 539.8 401.7 540.3 399.3 540.8 397.0 541.3 394.6 541.9 392.4 542.4 390.3 543.0 388.2 543.6 386.2 544.2 384.3 544.8 382.4 545.4 380.5 546.0 378.7 546.6 376.9 547.2 375.2 547.7 373.6 548.3 372.0 548.8 370.4 549.3 368.8 549.7 367.3 550.0 366.0 550.3 364.6 550.7 363.3 551.0 361.9 551.3 360.5 548.1 355.9 542.7 357.3 542.0 358.5 541.4 359.7 540.7 361.0 540.0 362.2 539.4 363.6 538.7 365.0 538.1 366.5 537.5 368.1 536.8 369.7 536.2 371.4 535.6 373.3 535.0 375.1 534.4 377.0 533.8 379.0 533.2 381.0 532.7 383.1 532.1 385.3 531.6 387.5 531.0 389.9 530.5 392.3 530.1 394.7 529.6 397.1 529.2 399.5 528.7 401.8 528.3 404.1 527.8 406.3 527.4 408.5 526.9 410.8 526.5 412.9 526.2 415.1 525.9 417.2 525.6 419.3 525.4 421.2 525.2 423.1 525.1 424.8 524.9 426.4 524.8 427.7 524.7 429.0 524.5 430.1 524.4 431.2 524.3 432.3 524.2 433.4Z" fill="url(#g79)" filter="url(#b4)"/><path class="l" d="M529.5 435.3 531.5 434.1 531.6 433.0 531.7 431.9 531.9 430.8 532.0 429.7 532.1 428.5 532.2 427.1 532.4 425.5 532.6 423.8 532.7 422.0 532.9 420.1 533.1 418.1 533.4 416.2 533.8 414.2 534.1 412.1 534.5 410.0 535.0 407.8 535.4 405.5 535.9 403.3 536.4 401.0 536.9 398.6 537.4 396.2 537.9 393.9 538.4 391.6 539.0 389.4 539.5 387.3 540.1 385.2 540.7 383.2 541.3 381.3 541.9 379.4 542.5 377.5 543.1 375.8 543.7 374.0 544.2 372.3 544.8 370.7 545.4 369.1 545.9 367.6 546.4 366.1 546.8 364.8 547.3 363.4 547.7 362.1 548.1 360.8 548.5 359.5 547.4 357.8 545.5 358.3 544.9 359.6 544.3 360.9 543.8 362.1 543.2 363.4 542.7 364.8 542.1 366.2 541.5 367.7 540.9 369.3 540.3 371.0 539.7 372.7 539.1 374.4 538.5 376.3 537.9 378.1 537.3 380.1 536.7 382.1 536.2 384.1 535.6 386.2 535.0 388.4 534.5 390.7 534.0 393.0 533.5 395.4 533.0 397.8 532.6 400.2 532.1 402.5 531.6 404.8 531.2 407.0 530.7 409.2 530.3 411.4 529.9 413.5 529.6 415.6 529.3 417.6 529.1 419.6 528.9 421.6 528.7 423.4 528.5 425.1 528.4 426.7 528.2 428.1 528.1 429.3 528.0 430.5 527.9 431.5 527.8 432.6 527.7 433.7Z" fill="url(#g80)" filter="url(#b3)"/><path class="l" d="M545.0 357.4 542.0 363.7 542.4 365.0 542.9 366.2 543.3 367.5 543.8 368.8 544.4 370.2 545.0 371.6 545.8 373.0 546.5 374.4 547.4 375.7 548.2 377.1 549.0 378.4 549.8 379.7 550.7 381.0 551.6 382.2 552.5 383.3 553.3 384.4 554.0 385.5 554.8 386.6 555.5 387.7 556.2 389.0 556.8 390.2 557.4 391.4 557.9 392.4 558.3 393.4 558.6 394.2 558.9 395.0 559.1 396.0 559.4 397.1 559.8 398.3 560.2 399.5 569.9 402.4 575.8 394.3 575.4 393.2 575.0 392.1 574.6 390.9 574.1 389.5 573.5 388.0 572.7 386.4 571.9 384.9 570.9 383.5 570.0 382.1 569.1 380.8 568.1 379.5 567.2 378.2 566.3 377.0 565.4 375.7 564.6 374.5 563.8 373.3 563.0 372.2 562.2 371.1 561.3 370.0 560.4 368.8 559.5 367.6 558.6 366.4 557.8 365.3 557.0 364.2 556.2 363.2 555.4 362.2 554.5 361.2 553.7 360.2 552.9 359.1 552.0 358.1Z" fill="url(#g81)" filter="url(#b7)"/><path class="l" d="M545.4 358.1 543.0 363.2 543.5 364.4 544.0 365.6 544.5 366.9 545.0 368.2 545.6 369.5 546.2 370.8 547.0 372.2 547.8 373.6 548.6 374.9 549.4 376.2 550.2 377.5 551.1 378.8 551.9 380.1 552.8 381.3 553.7 382.4 554.5 383.5 555.3 384.6 556.0 385.7 556.7 386.9 557.5 388.2 558.1 389.4 558.7 390.6 559.3 391.7 559.7 392.7 560.1 393.6 560.4 394.5 560.7 395.5 561.0 396.6 561.4 397.8 561.7 399.0 569.5 401.3 574.3 394.8 573.8 393.7 573.5 392.6 573.1 391.4 572.6 390.1 572.0 388.6 571.3 387.1 570.5 385.7 569.6 384.3 568.7 382.9 567.8 381.6 566.9 380.3 566.0 379.1 565.1 377.8 564.2 376.5 563.4 375.4 562.5 374.2 561.7 373.1 560.9 372.0 560.1 370.8 559.2 369.6 558.3 368.4 557.4 367.2 556.6 366.0 555.8 365.0 555.0 363.9 554.2 362.9 553.4 361.9 552.6 360.8 551.8 359.7 551.0 358.6Z" fill="url(#g82)" filter="url(#b5)"/><path class="l" d="M546.4 359.9 545.6 361.7 546.2 362.9 546.7 364.1 547.3 365.3 547.9 366.5 548.6 367.7 549.3 369.0 550.0 370.2 550.9 371.5 551.7 372.8 552.5 374.1 553.4 375.4 554.2 376.6 555.1 377.9 555.9 379.0 556.8 380.2 557.6 381.3 558.4 382.4 559.2 383.6 560.0 384.8 560.8 386.1 561.5 387.3 562.2 388.6 562.9 389.8 563.4 390.9 563.9 392.0 564.3 393.1 564.6 394.2 565.0 395.3 565.4 396.5 565.7 397.7 568.5 398.5 570.3 396.1 569.9 395.0 569.5 393.9 569.1 392.7 568.7 391.5 568.2 390.2 567.6 388.9 566.9 387.6 566.1 386.3 565.3 385.0 564.5 383.7 563.6 382.4 562.8 381.2 562.0 380.0 561.1 378.8 560.3 377.6 559.4 376.5 558.6 375.3 557.8 374.2 556.9 373.0 556.1 371.7 555.2 370.5 554.3 369.2 553.5 368.0 552.7 366.8 552.0 365.7 551.3 364.6 550.6 363.5 549.9 362.3 549.2 361.2 548.4 360.1Z" fill="url(#g83)" filter="url(#b4)"/><ellipse class="l" cx="548.5" cy="375.9" rx="8.5" ry="9.0" fill="#a4a4a4" filter="url(#b6)"/><ellipse class="l" cx="553.0" cy="380.9" rx="7.0" ry="6.0" fill="#adadad" filter="url(#b6)" transform="rotate(40.0 553.0 380.9)"/><path class="l" d="M537.9 374.0 539.6 373.0 539.8 370.7 540.0 368.3 540.2 366.0 540.4 363.7 540.7 361.4 541.0 359.2 541.4 356.8 541.9 354.4 542.5 351.9 543.0 349.5 543.5 347.3 544.0 345.3 544.3 343.5 544.5 342.1 544.7 340.8 544.8 339.6 545.0 338.4 545.2 337.1 544.2 336.1 542.8 336.7 542.5 337.9 542.2 339.1 541.9 340.3 541.6 341.5 541.2 342.9 540.8 344.5 540.3 346.5 539.7 348.7 539.1 351.1 538.5 353.6 537.9 356.1 537.4 358.6 537.1 361.0 536.9 363.4 536.8 365.8 536.6 368.1 536.5 370.5 536.4 372.8Z" fill="url(#g84)" filter="url(#b2)"/><path class="l" d="M556.6 371.0 558.1 369.7 557.9 367.4 557.8 365.1 557.6 362.7 557.4 360.3 557.1 357.9 556.8 355.6 556.2 353.2 555.6 350.8 554.9 348.5 554.2 346.3 553.5 344.3 552.9 342.5 552.5 340.9 552.1 339.5 551.8 338.3 551.4 337.1 551.1 335.9 550.8 334.6 549.4 334.1 548.4 335.2 548.6 336.4 548.8 337.7 549.0 338.9 549.2 340.2 549.5 341.6 549.9 343.3 550.3 345.2 550.9 347.3 551.6 349.5 552.2 351.8 552.8 354.0 553.2 356.2 553.6 358.4 553.9 360.7 554.2 363.0 554.4 365.3 554.6 367.7 554.9 370.1Z" fill="url(#g85)" filter="url(#b2)"/><path class="l" d="M528.4 406.0 530.1 405.0 530.3 403.0 530.5 401.0 530.8 399.0 531.0 397.1 531.2 395.1 531.5 393.1 531.8 391.2 532.1 389.1 532.4 387.1 532.8 385.1 533.1 383.2 533.5 381.3 533.8 379.6 534.1 377.9 534.5 376.2 534.8 374.6 535.2 373.0 535.5 371.3 534.3 369.8 532.5 370.5 532.0 372.1 531.5 373.7 531.0 375.3 530.5 377.0 530.0 378.7 529.5 380.5 529.1 382.4 528.7 384.4 528.4 386.4 528.1 388.5 527.8 390.6 527.5 392.7 527.3 394.7 527.2 396.7 527.1 398.8 527.1 400.8 527.0 402.8 526.9 404.8Z" fill="url(#g86)" filter="url(#b3)"/></g>
<g id="sdt"><path class="l" d="M500.1 440.1 510.1 435.5 510.2 434.2 510.4 433.0 510.6 431.8 510.8 430.5 511.0 429.0 511.2 427.3 511.5 425.5 511.8 423.5 512.1 421.4 512.4 419.2 512.7 416.7 513.0 414.1 513.3 411.3 513.7 408.3 514.1 405.1 514.5 401.7 514.8 398.3 515.1 394.8 515.4 391.3 515.7 387.8 516.0 384.2 516.2 380.6 516.5 377.0 516.7 373.5 516.9 370.2 517.0 367.1 517.2 364.0 517.3 360.7 517.4 357.2 517.6 353.3 517.7 348.8 517.9 344.0 518.1 338.8 518.2 333.6 518.4 328.3 518.5 323.2 518.6 318.1 518.7 313.1 518.8 308.1 518.9 303.1 518.9 298.1 519.0 293.1 519.1 288.0 519.1 283.0 519.2 278.0 519.3 273.0 519.3 268.0 519.3 263.0 519.4 257.9 519.3 252.9 519.3 247.9 519.3 242.9 519.3 237.9 519.2 232.9 519.2 227.9 519.2 222.7 519.2 217.6 519.2 212.5 519.1 207.6 519.1 202.9 519.0 198.3 519.0 193.9 518.9 189.7 518.8 185.6 518.7 181.6 518.7 177.8 518.7 174.1 518.7 170.6 518.7 167.2 518.7 163.9 518.8 160.8 518.8 157.8 518.8 155.0 518.9 152.3 519.0 149.8 519.1 147.4 519.1 145.1 519.1 142.9 519.1 140.7 519.0 138.6 518.9 136.6 518.8 134.7 518.7 132.8 518.6 130.9 518.5 129.1 518.3 127.4 518.1 125.7 518.0 124.1 517.8 122.5 517.6 120.9 517.4 119.3 517.2 117.8 517.0 116.3 516.8 114.9 516.6 113.4 516.3 111.9 512.6 109.3 508.9 111.9 508.6 113.4 508.4 114.9 508.2 116.3 508.0 117.8 507.8 119.3 507.6 120.9 507.4 122.5 507.2 124.1 507.1 125.7 506.9 127.4 506.7 129.1 506.6 130.9 506.5 132.7 506.4 134.6 506.2 136.6 506.2 138.6 506.1 140.7 506.1 142.9 506.1 145.2 506.2 147.6 506.4 150.0 506.5 152.5 506.7 155.2 506.8 158.0 506.9 161.0 507.1 164.1 507.3 167.4 507.4 170.8 507.6 174.3 507.7 178.0 507.8 181.8 507.9 185.8 508.0 189.9 508.0 194.1 508.1 198.5 508.1 202.9 508.1 207.6 508.1 212.5 508.1 217.6 508.0 222.7 508.0 227.8 508.0 232.9 508.0 237.9 508.0 242.9 508.0 247.9 507.9 252.9 507.9 257.9 507.9 262.8 507.8 267.8 507.6 272.8 507.5 277.8 507.4 282.8 507.2 287.8 507.0 292.7 506.8 297.7 506.6 302.7 506.3 307.7 506.1 312.7 505.8 317.7 505.5 322.6 505.2 327.7 504.9 333.0 504.6 338.2 504.3 343.3 503.9 348.1 503.6 352.5 503.3 356.4 503.0 359.8 502.7 362.9 502.4 366.0 502.1 369.0 501.7 372.3 501.4 375.7 501.0 379.2 500.6 382.7 500.1 386.2 499.7 389.7 499.3 393.0 498.8 396.2 498.3 399.5 497.7 402.7 497.2 405.9 496.7 408.9 496.2 411.7 495.8 414.2 495.4 416.6 495.0 418.8 494.6 420.8 494.3 422.7 494.0 424.5 493.7 426.1 493.4 427.4 493.1 428.6 492.9 429.8 492.6 431.0 492.3 432.3Z" fill="url(#g122)" filter="url(#b6)"/><path class="l" d="M500.3 438.9 508.3 435.2 508.5 433.9 508.7 432.7 508.9 431.5 509.1 430.2 509.3 428.7 509.5 427.0 509.8 425.2 510.1 423.2 510.4 421.1 510.7 418.9 511.0 416.5 511.3 413.9 511.7 411.1 512.1 408.0 512.4 404.8 512.8 401.5 513.2 398.1 513.6 394.6 513.9 391.2 514.2 387.6 514.4 384.0 514.7 380.4 515.0 376.9 515.2 373.4 515.4 370.1 515.6 367.0 515.7 363.9 515.9 360.6 516.0 357.1 516.2 353.2 516.4 348.8 516.5 343.9 516.7 338.8 516.9 333.5 517.1 328.2 517.2 323.1 517.3 318.1 517.4 313.1 517.5 308.1 517.6 303.1 517.7 298.0 517.8 293.0 517.9 288.0 518.0 283.0 518.0 278.0 518.1 273.0 518.2 268.0 518.2 262.9 518.2 257.9 518.2 252.9 518.2 247.9 518.2 242.9 518.1 237.9 518.1 232.9 518.1 227.8 518.1 222.7 518.1 217.6 518.1 212.5 518.0 207.6 518.0 202.9 517.9 198.3 517.9 193.9 517.8 189.7 517.7 185.6 517.6 181.6 517.6 177.8 517.6 174.1 517.6 170.6 517.6 167.2 517.6 163.9 517.6 160.8 517.6 157.8 517.6 155.0 517.7 152.3 517.7 149.8 517.8 147.4 517.8 145.1 517.8 142.9 517.8 140.7 517.7 138.6 517.7 136.6 517.6 134.7 517.5 132.8 517.4 130.9 517.3 129.1 517.2 127.4 517.0 125.7 516.9 124.1 516.7 122.5 516.6 120.9 516.4 119.3 516.3 117.8 516.1 116.3 515.9 114.9 515.8 113.4 515.6 111.9 512.6 109.8 509.6 111.9 509.4 113.4 509.3 114.9 509.1 116.3 508.9 117.8 508.8 119.3 508.6 120.9 508.5 122.5 508.3 124.1 508.2 125.7 508.0 127.4 507.9 129.1 507.8 130.9 507.7 132.7 507.6 134.6 507.5 136.6 507.4 138.6 507.4 140.7 507.4 142.9 507.4 145.2 507.5 147.6 507.6 150.0 507.7 152.5 507.9 155.2 508.0 158.0 508.1 161.0 508.3 164.1 508.4 167.4 508.6 170.8 508.7 174.3 508.8 178.0 508.9 181.8 509.0 185.8 509.1 189.9 509.1 194.1 509.2 198.4 509.2 202.9 509.2 207.6 509.2 212.5 509.2 217.6 509.2 222.7 509.1 227.8 509.1 232.9 509.1 237.9 509.1 242.9 509.1 247.9 509.1 252.9 509.1 257.9 509.0 262.9 508.9 267.8 508.8 272.8 508.7 277.8 508.5 282.8 508.4 287.8 508.2 292.8 508.0 297.8 507.8 302.7 507.6 307.7 507.3 312.7 507.1 317.7 506.8 322.7 506.5 327.8 506.2 333.0 505.9 338.3 505.6 343.4 505.3 348.2 505.0 352.6 504.7 356.5 504.4 359.9 504.2 363.1 503.9 366.1 503.6 369.2 503.2 372.4 502.9 375.8 502.5 379.4 502.1 382.9 501.7 386.4 501.3 389.8 500.8 393.2 500.4 396.4 499.9 399.7 499.4 403.0 498.8 406.1 498.3 409.1 497.9 411.9 497.5 414.5 497.1 416.8 496.7 419.0 496.3 421.1 496.0 423.0 495.7 424.8 495.4 426.4 495.1 427.7 494.9 429.0 494.6 430.1 494.4 431.4 494.1 432.6Z" fill="url(#g123)" filter="url(#b4)"/><path class="l" d="M500.9 435.7 503.8 434.4 504.0 433.1 504.2 431.9 504.4 430.7 504.6 429.4 504.8 427.9 505.1 426.3 505.4 424.5 505.7 422.5 506.0 420.5 506.3 418.2 506.7 415.8 507.0 413.3 507.4 410.5 507.8 407.4 508.3 404.2 508.7 400.9 509.1 397.5 509.5 394.2 509.8 390.7 510.2 387.2 510.5 383.7 510.8 380.1 511.1 376.6 511.4 373.1 511.6 369.8 511.8 366.7 512.0 363.6 512.2 360.4 512.4 356.9 512.6 353.0 512.8 348.6 513.0 343.7 513.3 338.6 513.5 333.4 513.7 328.1 513.9 323.0 514.0 318.0 514.2 313.0 514.3 308.0 514.5 303.0 514.6 298.0 514.7 292.9 514.8 287.9 514.9 282.9 515.0 277.9 515.1 272.9 515.2 267.9 515.3 262.9 515.3 257.9 515.3 252.9 515.3 247.9 515.3 242.9 515.2 237.9 515.2 232.9 515.2 227.8 515.2 222.7 515.2 217.6 515.2 212.5 515.2 207.6 515.2 202.9 515.1 198.4 515.1 194.0 515.0 189.7 514.9 185.6 514.8 181.7 514.8 177.9 514.7 174.2 514.7 170.6 514.6 167.2 514.6 164.0 514.6 160.9 514.5 157.9 514.5 155.0 514.5 152.4 514.5 149.9 514.5 147.5 514.5 145.2 514.5 142.9 514.5 140.7 514.4 138.6 514.4 136.6 514.4 134.6 514.4 132.8 514.3 130.9 514.3 129.1 514.2 127.4 514.2 125.7 514.1 124.1 514.1 122.5 514.0 120.9 514.0 119.3 513.9 117.8 513.9 116.3 513.8 114.9 513.7 113.4 513.7 111.9 512.6 111.1 511.5 111.9 511.5 113.4 511.4 114.9 511.3 116.3 511.3 117.8 511.2 119.3 511.2 120.9 511.1 122.5 511.1 124.1 511.0 125.7 511.0 127.4 510.9 129.1 510.9 130.9 510.8 132.7 510.8 134.6 510.8 136.6 510.7 138.6 510.7 140.7 510.7 142.9 510.8 145.2 510.8 147.5 510.9 149.9 510.9 152.4 511.0 155.1 511.1 157.9 511.2 160.9 511.2 164.0 511.3 167.3 511.4 170.7 511.5 174.3 511.6 177.9 511.7 181.7 511.8 185.7 511.9 189.8 511.9 194.0 512.0 198.4 512.0 202.9 512.0 207.6 512.0 212.5 512.0 217.6 512.0 222.7 512.0 227.8 512.0 232.9 512.0 237.9 512.0 242.9 512.0 247.9 512.0 252.9 512.0 257.9 511.9 262.9 511.9 267.9 511.8 272.9 511.7 277.9 511.6 282.9 511.4 287.9 511.3 292.9 511.1 297.8 510.9 302.8 510.8 307.8 510.6 312.8 510.3 317.8 510.1 322.8 509.9 327.9 509.6 333.2 509.4 338.4 509.1 343.5 508.8 348.4 508.6 352.8 508.3 356.7 508.1 360.1 507.9 363.3 507.6 366.4 507.3 369.5 507.0 372.7 506.7 376.2 506.4 379.7 506.1 383.3 505.7 386.8 505.3 390.3 504.9 393.6 504.5 397.0 504.0 400.3 503.5 403.6 503.1 406.7 502.6 409.8 502.2 412.5 501.8 415.1 501.4 417.5 501.1 419.7 500.7 421.8 500.4 423.7 500.1 425.5 499.8 427.1 499.6 428.5 499.3 429.8 499.1 431.0 498.9 432.2 498.6 433.4Z" fill="url(#g124)" filter="url(#b3)"/></g>
<g id="sdb"><path class="l" d="M541.9 431.1 560.3 420.3 560.6 419.2 560.8 418.1 561.1 416.7 561.4 414.8 561.6 412.5 561.5 410.0 561.2 407.5 560.8 405.3 560.3 403.2 559.7 401.4 559.2 399.8 558.7 398.3 558.1 396.7 557.6 395.1 557.0 393.7 556.5 392.4 556.0 391.2 555.5 390.2 555.1 389.2 554.7 388.3 554.3 387.1 553.9 385.8 553.5 384.3 553.1 382.7 552.6 381.1 552.1 379.5 551.6 377.7 551.1 376.0 550.5 374.1 549.9 372.2 549.2 370.2 548.5 368.2 547.8 366.2 547.0 364.1 546.2 362.1 545.4 360.1 544.6 358.0 543.7 356.1 542.9 354.1 542.0 352.2 541.2 350.2 540.4 348.3 539.5 346.3 538.7 344.3 537.9 342.3 537.1 340.4 536.4 338.5 535.7 336.7 535.0 335.0 534.4 333.3 533.8 331.7 533.3 330.1 532.8 328.7 532.3 327.3 531.9 326.0 531.5 324.7 531.2 323.5 530.9 322.2 530.5 320.9 530.2 319.6 527.5 318.2 525.2 320.2 525.1 321.5 525.0 322.8 525.0 324.1 524.9 325.5 524.9 326.9 524.9 328.5 525.0 330.2 525.2 331.9 525.3 333.6 525.5 335.4 525.7 337.2 525.9 339.1 526.2 341.0 526.4 343.1 526.6 345.2 526.9 347.3 527.1 349.4 527.2 351.5 527.4 353.6 527.5 355.6 527.6 357.7 527.7 359.7 527.8 361.8 527.8 363.7 527.8 365.8 527.8 367.8 527.8 369.9 527.8 371.9 527.7 373.8 527.7 375.6 527.6 377.3 527.5 378.9 527.4 380.6 527.2 382.1 527.1 383.7 526.9 385.1 526.7 386.4 526.5 387.5 526.2 388.8 526.0 390.2 525.8 391.8 525.7 393.6 525.6 395.5 525.5 397.2 525.5 398.9 525.4 400.5 525.4 401.9 525.3 403.5 525.3 405.3 525.4 407.1 525.4 408.7 525.4 410.1 525.3 411.2 525.3 411.8 525.3 412.2 525.3 412.7 525.4 413.4 525.5 414.5 525.5 416.0 525.5 417.5Z" fill="url(#g125)" filter="url(#b9)"/><path class="l" d="M542.1 428.7 556.9 420.0 557.0 418.9 557.3 417.8 557.6 416.3 557.8 414.6 557.9 412.5 557.9 410.2 557.6 407.9 557.2 405.8 556.8 403.8 556.3 402.0 555.8 400.4 555.3 398.8 554.9 397.2 554.4 395.7 553.9 394.2 553.4 392.8 552.9 391.6 552.5 390.5 552.2 389.5 551.8 388.5 551.5 387.3 551.2 386.0 550.8 384.5 550.5 382.9 550.0 381.3 549.6 379.7 549.2 378.0 548.7 376.3 548.2 374.4 547.7 372.5 547.1 370.6 546.5 368.6 545.8 366.6 545.1 364.5 544.4 362.5 543.6 360.4 542.9 358.4 542.1 356.4 541.4 354.5 540.6 352.5 539.8 350.6 539.0 348.6 538.3 346.6 537.5 344.6 536.8 342.6 536.0 340.7 535.3 338.8 534.7 337.0 534.1 335.2 533.5 333.5 533.0 331.9 532.5 330.3 532.0 328.8 531.6 327.4 531.2 326.1 530.9 324.8 530.6 323.5 530.3 322.3 530.0 321.0 529.7 319.7 527.6 318.5 525.7 320.1 525.7 321.4 525.6 322.7 525.6 324.0 525.6 325.4 525.6 326.8 525.6 328.4 525.8 330.0 526.0 331.7 526.2 333.4 526.4 335.2 526.7 337.0 526.9 338.8 527.2 340.8 527.5 342.8 527.8 344.9 528.0 347.0 528.3 349.1 528.6 351.2 528.8 353.2 529.0 355.3 529.1 357.3 529.3 359.4 529.4 361.4 529.6 363.4 529.7 365.4 529.7 367.4 529.8 369.5 529.9 371.5 529.9 373.4 529.9 375.3 529.9 377.0 529.8 378.6 529.8 380.3 529.7 381.9 529.6 383.4 529.5 384.9 529.4 386.2 529.2 387.4 529.1 388.6 528.9 390.0 528.8 391.6 528.7 393.3 528.7 395.0 528.6 396.7 528.6 398.4 528.6 399.9 528.6 401.4 528.7 403.0 528.7 404.7 528.8 406.5 528.9 408.1 528.9 409.6 528.9 410.8 528.9 411.6 528.9 412.2 529.0 412.9 529.0 413.7 529.0 414.9 529.0 416.3 528.9 417.8Z" fill="url(#g126)" filter="url(#b7)"/><path class="l" d="M542.6 422.4 547.9 419.3 548.1 418.1 548.2 416.8 548.4 415.5 548.6 414.0 548.6 412.4 548.6 410.6 548.4 408.8 548.2 407.0 547.8 405.2 547.5 403.4 547.1 401.7 546.8 400.2 546.5 398.6 546.1 397.0 545.8 395.5 545.5 394.1 545.2 392.7 544.9 391.4 544.7 390.2 544.5 389.0 544.3 387.7 544.2 386.4 544.0 385.0 543.8 383.5 543.5 382.0 543.3 380.4 543.0 378.7 542.7 377.0 542.4 375.2 542.0 373.4 541.6 371.5 541.1 369.5 540.7 367.5 540.2 365.4 539.7 363.4 539.1 361.4 538.6 359.4 538.0 357.4 537.4 355.4 536.9 353.4 536.3 351.4 535.7 349.4 535.1 347.4 534.5 345.4 533.9 343.4 533.3 341.4 532.7 339.4 532.2 337.6 531.7 335.8 531.2 334.0 530.8 332.4 530.4 330.8 530.0 329.2 529.7 327.7 529.4 326.3 529.2 325.0 529.0 323.7 528.8 322.4 528.6 321.1 528.4 319.8 527.6 319.4 527.0 320.0 527.1 321.3 527.1 322.6 527.2 323.9 527.2 325.2 527.4 326.6 527.5 328.1 527.8 329.6 528.0 331.3 528.3 332.9 528.7 334.6 529.0 336.4 529.4 338.2 529.8 340.1 530.2 342.1 530.6 344.2 531.1 346.3 531.5 348.3 531.9 350.4 532.3 352.4 532.7 354.4 533.1 356.4 533.4 358.4 533.7 360.4 534.1 362.4 534.4 364.5 534.7 366.5 534.9 368.6 535.2 370.6 535.4 372.5 535.6 374.4 535.8 376.2 535.9 377.9 536.0 379.6 536.1 381.2 536.2 382.7 536.2 384.3 536.3 385.6 536.3 386.9 536.2 388.2 536.2 389.5 536.2 390.9 536.3 392.4 536.4 393.9 536.6 395.5 536.7 397.0 536.9 398.6 537.0 400.1 537.2 401.6 537.4 403.3 537.6 405.0 537.8 406.7 538.0 408.4 538.1 409.9 538.2 411.2 538.2 412.3 538.2 413.4 538.1 414.6 538.0 415.8 538.0 417.1 537.9 418.5Z" fill="url(#g127)" filter="url(#b6)"/><path class="l" d="M533.2 405.2 527.7 408.5 527.6 409.8 527.6 411.1 527.5 412.5 527.4 413.9 527.4 415.4 527.4 416.9 527.4 418.4 527.5 419.9 527.6 421.3 527.7 422.6 527.8 423.9 527.9 425.2 528.0 426.5 528.1 427.9 528.2 429.2 528.2 430.5 528.3 431.9 528.4 433.2 533.6 436.4 538.4 432.6 538.3 431.3 538.2 429.9 538.1 428.6 538.1 427.3 538.0 425.9 537.9 424.6 537.8 423.2 537.7 421.8 537.6 420.5 537.5 419.3 537.4 418.1 537.4 416.9 537.4 415.7 537.5 414.5 537.7 413.3 537.8 412.0 538.0 410.6 538.1 409.3Z" fill="url(#g128)" filter="url(#b5)"/><path class="l" d="M533.1 406.0 528.7 408.6 528.7 409.9 528.6 411.2 528.5 412.6 528.4 414.0 528.4 415.4 528.4 416.9 528.4 418.4 528.5 419.8 528.6 421.2 528.7 422.6 528.8 423.9 528.9 425.2 529.0 426.5 529.1 427.8 529.2 429.1 529.2 430.5 529.3 431.8 529.4 433.1 533.6 435.7 537.4 432.7 537.3 431.3 537.2 430.0 537.1 428.7 537.1 427.3 537.0 426.0 536.9 424.6 536.8 423.3 536.7 421.9 536.6 420.6 536.5 419.3 536.4 418.1 536.4 416.9 536.4 415.7 536.5 414.5 536.7 413.2 536.8 411.9 537.0 410.6 537.1 409.2Z" fill="url(#g129)" filter="url(#b3)"/><path class="l" d="M533.0 407.8 531.4 408.8 531.3 410.1 531.2 411.4 531.1 412.8 531.0 414.1 531.0 415.5 531.0 416.9 531.0 418.3 531.1 419.7 531.2 421.0 531.3 422.4 531.4 423.7 531.5 425.0 531.5 426.3 531.6 427.7 531.7 429.0 531.8 430.3 531.9 431.7 532.0 433.0 533.5 433.9 534.8 432.8 534.8 431.5 534.7 430.1 534.6 428.8 534.5 427.5 534.4 426.1 534.3 424.8 534.2 423.5 534.1 422.1 534.0 420.8 533.9 419.5 533.9 418.2 533.8 416.9 533.9 415.6 533.9 414.3 534.1 413.0 534.2 411.7 534.3 410.3 534.4 409.0Z" fill="url(#g130)" filter="url(#b2)"/><path class="l" d="M553.7 403.8 550.0 407.9 550.4 409.4 550.8 410.9 551.1 412.3 551.5 413.8 551.9 415.3 552.3 416.8 552.6 418.4 553.1 419.9 553.5 421.4 553.8 422.9 554.2 424.3 554.5 425.6 554.7 426.9 554.9 428.1 555.0 429.4 555.1 430.7 555.3 432.0 555.4 433.4 559.7 435.7 563.4 432.4 563.2 431.1 563.1 429.8 562.9 428.5 562.8 427.1 562.6 425.7 562.3 424.2 562.1 422.7 561.8 421.1 561.5 419.5 561.2 418.0 560.8 416.5 560.5 415.0 560.3 413.5 560.0 412.0 559.7 410.5 559.4 408.9 559.1 407.4 558.8 405.9Z" fill="url(#g131)" filter="url(#b4)"/><path class="l" d="M553.9 404.4 550.9 407.7 551.3 409.2 551.6 410.7 552.0 412.2 552.3 413.7 552.7 415.1 553.1 416.6 553.5 418.2 553.9 419.7 554.3 421.2 554.6 422.7 555.0 424.1 555.2 425.5 555.5 426.8 555.6 428.0 555.8 429.3 555.9 430.6 556.1 431.9 556.2 433.3 559.7 435.1 562.6 432.5 562.4 431.2 562.3 429.9 562.1 428.6 562.0 427.2 561.8 425.8 561.6 424.3 561.3 422.8 561.0 421.3 560.7 419.7 560.3 418.2 560.0 416.7 559.7 415.2 559.4 413.7 559.1 412.1 558.8 410.6 558.5 409.1 558.2 407.6 557.9 406.1Z" fill="url(#g132)" filter="url(#b2)"/><path class="l" d="M554.2 406.0 553.1 407.2 553.5 408.7 553.8 410.2 554.2 411.7 554.5 413.2 554.9 414.7 555.2 416.2 555.6 417.7 555.9 419.2 556.3 420.7 556.7 422.2 557.0 423.7 557.3 425.1 557.5 426.5 557.7 427.8 557.8 429.1 558.0 430.4 558.1 431.7 558.3 433.0 559.5 433.7 560.5 432.8 560.4 431.4 560.2 430.1 560.1 428.8 559.9 427.5 559.8 426.1 559.5 424.7 559.3 423.2 559.0 421.7 558.6 420.2 558.3 418.7 557.9 417.1 557.6 415.6 557.3 414.1 557.0 412.6 556.6 411.1 556.3 409.6 556.0 408.1 555.7 406.6Z" fill="url(#g133)" filter="url(#b1)"/><ellipse cx="544.9" cy="421.9" rx="8.5" ry="7.0" fill="#000" fill-opacity="0.940" filter="url(#b4)"/><ellipse class="l" cx="541.4" cy="429.4" rx="1.2" ry="2.4" fill="#383838" filter="url(#b1)"/><ellipse class="l" cx="548.4" cy="429.4" rx="1.2" ry="2.4" fill="#333333" filter="url(#b1)"/></g></defs>
<rect width="1854" height="1105" fill="#fff"/>
<g transform="translate(0.0 0.0)"><g clip-path="url(#cpm)"><g filter="url(#cm)"><rect x="65.7" y="-27.6" width="676.9" height="485.8" fill="#000"/><use href="#sa" x="0.0"/><use href="#sa" x="30.9"/><use href="#sa" x="61.7"/><use href="#sa" x="92.6"/><use href="#sa" x="123.4"/><use href="#sa" x="154.2"/><use href="#sa" x="185.1"/><use href="#sa" x="216.0"/><use href="#sa" x="246.8"/><use href="#sa" x="277.7"/><use href="#sa" x="308.5"/><path class="l" d="M222.2 439.8 232.3 436.6 232.5 435.8 232.6 435.2 232.9 434.2 233.2 432.8 233.6 431.0 234.0 428.6 234.4 425.5 234.8 421.8 235.3 417.7 235.9 413.4 236.4 409.1 236.9 405.2 237.4 401.7 237.9 398.4 238.5 395.1 239.1 391.5 239.6 387.5 240.2 382.8 240.8 377.2 241.4 370.9 242.0 364.2 242.6 357.4 243.2 350.7 243.7 344.6 244.2 338.7 244.7 332.9 245.1 327.2 245.5 321.8 245.8 316.8 246.1 312.4 246.3 308.7 246.4 305.6 246.4 303.0 246.4 300.5 246.4 298.2 246.2 295.7 246.0 293.2 245.7 290.7 245.4 288.4 245.0 286.3 244.6 284.3 244.3 282.3 244.0 280.3 243.7 278.4 243.3 276.5 243.0 274.7 242.7 273.1 242.4 271.4 242.2 269.9 241.9 268.4 241.7 266.9 241.4 265.5 241.2 264.1 241.0 262.7 240.8 261.5 240.6 260.3 240.4 259.2 240.3 258.1 240.1 257.0 239.9 255.9 236.1 253.4 232.5 256.1 232.4 257.3 232.3 258.4 232.2 259.5 232.1 260.7 232.1 261.9 232.0 263.3 232.0 264.7 231.9 266.1 231.9 267.6 231.9 269.2 231.9 270.8 232.0 272.6 232.1 274.3 232.2 276.1 232.4 278.0 232.6 279.8 232.7 281.7 232.9 283.7 233.1 285.8 233.3 287.9 233.4 289.9 233.6 292.0 233.7 294.1 233.8 296.3 233.8 298.4 233.7 300.5 233.7 302.7 233.5 305.1 233.4 308.0 233.1 311.6 232.8 315.9 232.4 320.7 231.9 326.1 231.4 331.7 230.8 337.6 230.3 343.4 229.7 349.6 229.2 356.2 228.6 363.0 228.0 369.7 227.4 375.8 226.8 381.2 226.2 385.7 225.6 389.4 225.1 392.8 224.5 396.0 223.8 399.3 223.1 402.8 222.3 406.8 221.4 411.0 220.5 415.2 219.6 419.1 218.7 422.6 218.0 425.4 217.5 427.2 217.1 428.3 216.9 428.8 216.6 429.3 216.1 430.2 215.7 431.4Z" fill="url(#g5)" filter="url(#b6)"/><path class="l" d="M222.5 438.7 230.7 436.1 230.9 435.2 231.0 434.6 231.3 433.7 231.6 432.3 232.0 430.6 232.4 428.3 232.8 425.2 233.3 421.6 233.9 417.5 234.4 413.2 235.0 408.9 235.5 404.9 236.1 401.4 236.6 398.2 237.1 394.9 237.7 391.3 238.3 387.3 238.9 382.6 239.5 377.1 240.1 370.8 240.7 364.1 241.3 357.3 241.9 350.6 242.4 344.5 242.9 338.6 243.3 332.8 243.8 327.1 244.2 321.7 244.5 316.7 244.8 312.3 245.0 308.7 245.1 305.6 245.2 302.9 245.2 300.5 245.1 298.2 245.0 295.8 244.8 293.3 244.5 290.9 244.2 288.6 243.8 286.4 243.5 284.4 243.2 282.4 242.9 280.5 242.5 278.5 242.2 276.7 241.9 274.9 241.6 273.2 241.4 271.6 241.1 270.0 240.9 268.4 240.7 267.0 240.5 265.5 240.3 264.1 240.1 262.8 239.9 261.5 239.8 260.4 239.6 259.3 239.5 258.1 239.3 257.0 239.2 255.9 236.1 253.9 233.2 256.1 233.1 257.3 233.1 258.4 233.0 259.5 233.0 260.7 232.9 261.9 232.9 263.2 232.9 264.6 232.9 266.0 232.9 267.5 232.9 269.1 232.9 270.7 233.0 272.4 233.1 274.2 233.3 276.0 233.5 277.8 233.7 279.7 233.9 281.6 234.0 283.6 234.2 285.6 234.4 287.7 234.6 289.8 234.8 291.9 234.9 294.0 235.0 296.2 235.0 298.4 235.0 300.5 234.9 302.7 234.8 305.2 234.7 308.1 234.4 311.7 234.1 316.0 233.7 320.8 233.2 326.2 232.7 331.8 232.2 337.7 231.6 343.5 231.1 349.7 230.5 356.3 229.9 363.1 229.3 369.8 228.7 376.0 228.1 381.4 227.6 385.9 227.0 389.6 226.4 393.0 225.8 396.2 225.2 399.5 224.5 403.1 223.7 407.0 222.8 411.2 222.0 415.4 221.1 419.4 220.3 422.9 219.6 425.7 219.1 427.6 218.7 428.7 218.5 429.3 218.2 429.9 217.8 430.8 217.3 431.9Z" fill="url(#g6)" filter="url(#b4)"/><path class="l" d="M223.6 435.1 225.6 434.5 225.9 433.6 226.1 432.8 226.4 432.0 226.7 431.0 227.1 429.5 227.5 427.3 228.1 424.4 228.7 420.7 229.3 416.7 230.0 412.4 230.7 408.2 231.3 404.2 231.9 400.7 232.5 397.4 233.1 394.2 233.6 390.7 234.2 386.8 234.8 382.1 235.4 376.7 236.0 370.4 236.6 363.7 237.2 356.9 237.8 350.3 238.3 344.1 238.8 338.2 239.3 332.4 239.8 326.7 240.2 321.4 240.6 316.4 240.8 312.1 241.1 308.4 241.2 305.4 241.3 302.8 241.3 300.5 241.3 298.3 241.2 296.0 241.1 293.6 240.8 291.3 240.6 289.0 240.3 286.9 240.0 284.9 239.7 282.9 239.4 280.9 239.2 279.0 238.9 277.1 238.6 275.3 238.4 273.6 238.2 271.9 238.0 270.3 237.9 268.7 237.7 267.2 237.6 265.7 237.5 264.3 237.4 262.9 237.3 261.7 237.2 260.5 237.1 259.3 237.1 258.2 237.0 257.1 236.9 256.0 236.2 255.5 235.5 256.0 235.5 257.2 235.5 258.3 235.5 259.4 235.6 260.6 235.6 261.8 235.6 263.1 235.7 264.4 235.8 265.8 235.8 267.3 235.9 268.9 236.1 270.5 236.2 272.1 236.4 273.8 236.6 275.6 236.8 277.4 237.0 279.3 237.3 281.2 237.5 283.1 237.7 285.2 238.0 287.2 238.3 289.3 238.5 291.5 238.7 293.7 238.8 296.0 238.9 298.3 238.9 300.5 238.8 302.8 238.7 305.3 238.6 308.3 238.4 311.9 238.1 316.2 237.7 321.2 237.2 326.5 236.7 332.2 236.2 338.0 235.7 343.9 235.2 350.1 234.6 356.7 234.0 363.5 233.4 370.2 232.8 376.4 232.2 381.9 231.6 386.4 231.1 390.3 230.5 393.7 229.9 397.0 229.3 400.2 228.7 403.8 228.0 407.7 227.2 412.0 226.5 416.2 225.7 420.2 225.1 423.8 224.5 426.7 224.0 428.7 223.6 430.1 223.3 431.0 223.1 431.7 222.7 432.5 222.4 433.5Z" fill="url(#g7)" filter="url(#b2)"/><path class="l" d="M230.6 319.5 232.7 317.8 232.6 315.7 232.6 313.5 232.5 311.4 232.4 309.3 232.4 307.2 232.4 304.9 232.4 302.6 232.5 300.1 232.6 297.6 232.7 295.0 232.8 292.6 233.0 290.3 233.2 288.0 233.5 285.8 233.8 283.6 234.1 281.5 234.4 279.4 234.7 277.6 235.1 275.9 235.4 274.4 235.8 273.0 236.2 271.6 236.6 270.2 237.0 268.7 235.0 266.3 232.0 267.3 231.6 268.7 231.1 270.1 230.6 271.5 230.2 273.0 229.7 274.6 229.3 276.4 228.8 278.4 228.4 280.5 228.0 282.7 227.6 285.0 227.3 287.3 227.0 289.7 226.8 292.2 226.7 294.8 226.7 297.4 226.7 300.0 226.7 302.6 226.8 305.1 227.0 307.4 227.2 309.7 227.5 311.8 227.7 313.9 228.0 316.0 228.3 318.2Z" fill="url(#g8)" filter="url(#b4)"/><path class="l" d="M590.8 441.3 603.1 436.7 603.3 435.6 603.5 434.6 603.8 433.5 604.0 432.2 604.3 430.8 604.5 429.2 604.7 427.5 604.9 425.6 605.0 423.7 605.2 421.7 605.3 419.7 605.5 417.7 605.7 415.9 605.9 414.1 606.1 412.3 606.4 410.4 606.7 408.1 607.1 405.5 607.6 402.6 608.2 399.3 608.8 395.7 609.5 391.9 610.2 387.7 610.9 383.2 611.7 378.3 612.5 372.7 613.3 367.0 614.2 361.3 615.0 355.9 615.7 351.2 616.3 347.2 616.9 343.6 617.5 340.3 618.1 337.1 618.5 334.0 618.9 330.9 619.3 327.9 619.5 325.1 619.7 322.5 619.7 319.9 619.8 317.5 619.8 315.0 619.8 312.6 619.7 310.2 619.5 307.8 619.3 305.6 619.1 303.3 618.8 301.1 618.5 298.8 618.1 296.6 617.7 294.4 617.3 292.4 616.9 290.5 616.5 288.6 616.1 286.7 615.7 284.8 615.3 283.0 614.9 281.2 614.6 279.6 614.2 278.0 613.9 276.5 613.6 275.1 613.3 273.7 613.1 272.3 612.8 271.0 612.5 269.6 612.2 268.4 611.9 267.1 611.6 265.8 611.4 264.6 611.1 263.2 610.8 261.9 605.7 258.5 600.8 262.1 600.6 263.4 600.3 264.7 600.1 266.0 599.9 267.4 599.7 268.9 599.5 270.4 599.4 271.9 599.3 273.4 599.3 274.9 599.2 276.5 599.3 278.2 599.4 280.0 599.5 281.8 599.7 283.7 599.9 285.6 600.2 287.5 600.5 289.4 600.7 291.4 601.0 293.4 601.3 295.4 601.7 297.3 602.0 299.2 602.2 301.1 602.4 302.9 602.5 304.8 602.7 306.8 602.7 308.8 602.8 310.8 602.8 312.8 602.8 315.0 602.8 317.2 602.7 319.4 602.6 321.6 602.5 324.0 602.3 326.4 602.1 329.1 601.7 331.8 601.4 334.6 600.9 337.6 600.5 340.9 599.9 344.7 599.3 348.8 598.7 353.6 598.0 359.0 597.3 364.8 596.6 370.5 595.8 375.9 595.1 380.8 594.4 385.0 593.7 389.0 592.9 392.8 592.2 396.2 591.5 399.5 590.9 402.5 590.3 405.1 589.8 407.2 589.3 409.1 588.9 410.8 588.4 412.5 587.9 414.3 587.3 416.2 586.7 418.1 586.1 419.9 585.5 421.7 585.0 423.3 584.5 424.8 584.1 426.0 583.7 427.0 583.4 428.0 583.0 429.0 582.7 430.1 582.3 431.3Z" fill="url(#g9)" filter="url(#b8)"/><path class="l" d="M591.2 439.8 601.0 436.2 601.2 435.1 601.5 434.0 601.7 432.9 602.0 431.7 602.3 430.3 602.5 428.8 602.7 427.1 602.9 425.2 603.1 423.3 603.3 421.3 603.5 419.3 603.8 417.4 604.0 415.5 604.2 413.8 604.5 412.0 604.7 410.0 605.1 407.8 605.5 405.2 606.0 402.3 606.6 399.0 607.2 395.4 607.9 391.6 608.6 387.4 609.3 383.0 610.1 378.0 610.9 372.5 611.7 366.8 612.6 361.0 613.3 355.7 614.0 350.9 614.7 346.9 615.3 343.3 615.9 340.0 616.4 336.9 616.9 333.8 617.3 330.7 617.6 327.8 617.8 325.0 617.9 322.4 618.0 319.9 618.1 317.4 618.1 315.0 618.1 312.6 618.0 310.2 617.8 307.9 617.6 305.7 617.4 303.5 617.2 301.3 616.8 299.0 616.5 296.8 616.1 294.7 615.7 292.7 615.3 290.8 614.9 288.9 614.5 287.0 614.2 285.1 613.8 283.3 613.4 281.5 613.1 279.8 612.7 278.2 612.5 276.7 612.2 275.2 611.9 273.8 611.7 272.4 611.4 271.1 611.2 269.7 611.0 268.4 610.7 267.1 610.5 265.9 610.3 264.6 610.0 263.3 609.8 261.9 605.7 259.2 601.8 262.1 601.6 263.4 601.4 264.7 601.2 266.0 601.1 267.4 600.9 268.8 600.8 270.3 600.7 271.8 600.7 273.3 600.7 274.8 600.7 276.4 600.7 278.0 600.9 279.8 601.0 281.6 601.2 283.5 601.5 285.4 601.7 287.3 602.0 289.2 602.3 291.1 602.6 293.1 602.9 295.1 603.3 297.0 603.6 299.0 603.8 300.8 604.0 302.7 604.2 304.7 604.3 306.7 604.4 308.7 604.5 310.7 604.5 312.8 604.5 315.0 604.5 317.2 604.4 319.5 604.3 321.7 604.2 324.1 604.0 326.6 603.7 329.3 603.4 332.0 603.0 334.8 602.6 337.9 602.1 341.2 601.6 344.9 601.0 349.1 600.3 353.9 599.6 359.3 598.9 365.0 598.1 370.7 597.4 376.2 596.7 381.0 596.0 385.3 595.2 389.3 594.5 393.1 593.8 396.6 593.1 399.8 592.5 402.8 592.0 405.4 591.5 407.5 591.0 409.4 590.6 411.1 590.1 412.8 589.6 414.6 589.1 416.5 588.6 418.5 588.0 420.3 587.5 422.1 587.0 423.8 586.5 425.2 586.1 426.5 585.8 427.6 585.4 428.6 585.1 429.6 584.7 430.7 584.4 431.8Z" fill="url(#g10)" filter="url(#b5)"/><path class="l" d="M592.3 435.4 594.7 434.5 595.0 433.4 595.3 432.3 595.5 431.3 595.8 430.1 596.1 428.9 596.4 427.4 596.7 425.8 597.1 424.0 597.4 422.2 597.7 420.2 598.1 418.3 598.4 416.3 598.7 414.5 599.0 412.8 599.4 411.0 599.7 409.1 600.1 406.9 600.6 404.3 601.1 401.3 601.7 398.1 602.4 394.5 603.1 390.7 603.8 386.6 604.5 382.2 605.3 377.3 606.0 371.8 606.9 366.1 607.6 360.4 608.4 355.0 609.1 350.2 609.7 346.2 610.3 342.5 610.8 339.2 611.3 336.1 611.8 333.1 612.1 330.2 612.4 327.3 612.6 324.7 612.8 322.1 612.9 319.7 612.9 317.4 612.9 315.0 612.9 312.7 612.8 310.4 612.7 308.2 612.6 306.1 612.4 303.9 612.2 301.8 611.9 299.7 611.6 297.6 611.2 295.6 610.8 293.6 610.5 291.7 610.1 289.7 609.8 287.8 609.4 285.9 609.1 284.1 608.8 282.2 608.5 280.5 608.2 278.8 608.0 277.2 607.8 275.7 607.7 274.2 607.5 272.8 607.4 271.3 607.2 269.9 607.1 268.6 607.0 267.2 607.0 265.9 606.9 264.6 606.8 263.3 606.8 262.0 605.8 261.3 604.8 262.0 604.8 263.3 604.8 264.6 604.8 266.0 604.7 267.3 604.7 268.7 604.8 270.1 604.8 271.5 604.9 272.9 604.9 274.4 605.1 276.0 605.2 277.5 605.4 279.2 605.6 280.9 605.9 282.7 606.1 284.6 606.5 286.4 606.8 288.3 607.1 290.3 607.4 292.2 607.8 294.2 608.1 296.2 608.5 298.1 608.8 300.1 609.0 302.2 609.2 304.2 609.4 306.3 609.5 308.4 609.6 310.5 609.7 312.7 609.7 315.0 609.6 317.3 609.6 319.6 609.5 322.0 609.4 324.4 609.1 327.0 608.9 329.8 608.5 332.7 608.1 335.6 607.6 338.7 607.1 342.0 606.5 345.7 605.9 349.8 605.3 354.5 604.5 359.9 603.8 365.7 603.0 371.4 602.2 376.9 601.5 381.8 600.8 386.1 600.0 390.2 599.3 394.0 598.7 397.5 598.0 400.7 597.4 403.7 596.9 406.3 596.5 408.5 596.1 410.4 595.8 412.1 595.4 413.8 595.0 415.7 594.6 417.6 594.2 419.5 593.8 421.5 593.3 423.3 592.9 425.0 592.6 426.6 592.2 427.9 591.9 429.1 591.6 430.2 591.3 431.3 591.0 432.3 590.7 433.5Z" fill="url(#g11)" filter="url(#b3)"/><path class="l" d="M616.9 366.4 619.0 365.1 619.2 362.6 619.4 360.1 619.7 357.6 619.9 355.1 620.0 352.5 620.0 349.9 619.8 347.3 619.5 344.8 619.2 342.2 618.8 339.7 618.4 337.3 618.0 334.8 615.8 333.6 614.0 335.2 614.2 337.7 614.4 340.3 614.6 342.8 614.8 345.2 614.9 347.7 615.0 350.1 615.1 352.5 615.1 354.9 615.1 357.4 615.0 359.9 615.0 362.4 615.0 364.9Z" fill="url(#g12)" filter="url(#b3)"/><path class="l" d="M600.8 341.7 603.0 339.8 602.9 337.4 602.8 335.1 602.7 332.8 602.6 330.5 602.5 328.2 602.4 325.8 602.3 323.4 602.2 320.9 602.2 318.5 602.1 316.0 602.1 313.5 602.2 311.1 602.3 308.6 602.4 306.1 602.6 303.6 602.8 301.2 603.0 298.8 603.4 296.5 603.7 294.4 604.2 292.3 604.7 290.2 605.3 288.1 605.9 286.0 606.4 283.8 604.0 281.0 600.6 282.2 600.0 284.3 599.4 286.4 598.7 288.5 598.1 290.8 597.5 293.1 597.0 295.5 596.7 298.0 596.4 300.5 596.2 303.1 596.0 305.7 595.9 308.3 595.8 310.9 595.8 313.5 595.8 316.1 595.9 318.7 596.0 321.2 596.2 323.7 596.4 326.2 596.6 328.6 596.9 331.0 597.2 333.3 597.6 335.6 597.9 337.9 598.2 340.2Z" fill="url(#g13)" filter="url(#b4)"/><path class="l" d="M621.0 439.4 631.7 438.2 632.1 437.5 632.4 437.0 633.1 435.9 634.0 434.3 634.9 432.3 635.8 429.8 636.7 426.8 637.7 423.1 638.7 419.2 639.8 415.0 640.9 411.0 641.9 407.3 643.0 403.9 644.0 400.5 645.1 397.1 646.2 393.8 647.3 390.6 648.4 387.5 649.5 384.6 650.6 381.7 651.8 378.8 652.9 376.0 654.0 373.1 654.8 370.2 655.3 367.5 655.7 365.0 655.9 362.5 656.0 360.1 656.0 357.6 655.9 355.0 655.6 352.2 655.3 349.4 654.8 346.7 654.3 344.0 653.7 341.3 653.1 338.7 652.6 336.0 651.9 333.3 651.2 330.6 650.6 328.1 650.0 325.7 649.4 323.3 648.8 321.0 648.2 318.8 647.7 316.6 647.1 314.5 646.6 312.5 646.1 310.6 645.7 308.9 645.2 307.2 644.8 305.6 644.4 304.1 644.0 302.7 643.6 301.3 643.2 300.0 642.8 298.7 642.4 297.5 642.1 296.3 641.7 295.0 641.3 293.7 636.6 290.9 632.3 294.3 632.1 295.6 631.9 296.9 631.6 298.2 631.4 299.6 631.3 301.1 631.2 302.7 631.2 304.4 631.2 306.0 631.3 307.8 631.5 309.5 631.6 311.4 631.9 313.4 632.2 315.5 632.5 317.6 632.9 319.8 633.4 322.1 633.8 324.3 634.2 326.7 634.7 329.1 635.2 331.6 635.7 334.1 636.2 336.6 636.6 339.0 636.9 341.3 637.1 343.7 637.2 346.2 637.3 348.6 637.3 350.9 637.2 353.0 637.1 355.0 636.9 356.9 636.7 358.6 636.4 360.2 636.0 361.9 635.7 363.7 635.2 365.8 634.8 368.1 634.3 370.5 633.8 373.3 633.1 376.2 632.4 379.3 631.6 382.5 630.8 385.7 630.0 388.9 629.1 392.3 628.1 395.7 627.1 399.1 626.1 402.7 625.0 406.4 623.7 410.4 622.5 414.5 621.2 418.3 620.1 421.6 619.2 424.2 618.6 425.8 618.2 426.6 618.0 427.0 617.7 427.5 617.0 428.5 616.3 429.8Z" fill="url(#g14)" filter="url(#b8)"/><path class="l" d="M621.6 438.3 630.1 437.4 630.6 436.6 630.9 436.0 631.6 435.0 632.4 433.5 633.3 431.7 634.1 429.3 635.0 426.2 636.0 422.7 637.1 418.7 638.2 414.6 639.3 410.6 640.3 406.9 641.4 403.4 642.4 400.0 643.5 396.6 644.6 393.3 645.7 390.1 646.7 387.0 647.8 384.1 648.9 381.2 650.0 378.3 651.1 375.4 652.0 372.6 652.8 369.7 653.4 367.1 653.7 364.7 654.0 362.3 654.1 359.9 654.1 357.5 654.0 355.0 653.8 352.3 653.5 349.6 653.0 346.9 652.6 344.2 652.0 341.6 651.5 338.9 651.0 336.3 650.3 333.6 649.7 331.0 649.1 328.4 648.4 326.0 647.9 323.7 647.3 321.4 646.7 319.1 646.2 316.9 645.7 314.8 645.2 312.8 644.7 310.9 644.3 309.1 643.8 307.4 643.5 305.8 643.1 304.3 642.7 302.8 642.4 301.4 642.0 300.1 641.7 298.8 641.4 297.6 641.0 296.4 640.7 295.1 640.4 293.8 636.6 291.5 633.2 294.2 633.1 295.6 632.9 296.8 632.7 298.1 632.6 299.5 632.5 301.0 632.4 302.6 632.5 304.2 632.5 305.9 632.7 307.5 632.8 309.3 633.0 311.2 633.3 313.1 633.6 315.2 634.0 317.3 634.4 319.5 634.9 321.7 635.3 324.0 635.7 326.3 636.2 328.8 636.7 331.3 637.3 333.8 637.8 336.3 638.2 338.7 638.5 341.1 638.7 343.5 638.9 346.0 639.0 348.4 639.1 350.7 639.1 352.9 639.0 355.0 638.8 357.0 638.6 358.8 638.3 360.5 638.0 362.2 637.6 364.1 637.2 366.3 636.7 368.6 636.2 371.1 635.6 373.8 634.9 376.8 634.1 379.8 633.3 383.0 632.5 386.2 631.6 389.4 630.7 392.8 629.7 396.2 628.7 399.6 627.7 403.1 626.5 406.9 625.3 410.9 624.1 414.9 622.9 418.8 621.8 422.1 620.9 424.7 620.2 426.4 619.8 427.3 619.5 427.9 619.2 428.4 618.5 429.4 617.9 430.6Z" fill="url(#g15)" filter="url(#b5)"/><path class="l" d="M623.1 435.5 626.2 435.2 626.7 434.3 627.2 433.6 627.7 432.7 628.4 431.6 629.1 430.0 629.9 427.8 630.8 424.9 631.8 421.4 632.9 417.5 634.1 413.4 635.2 409.4 636.3 405.7 637.3 402.2 638.4 398.8 639.4 395.4 640.4 392.1 641.4 388.8 642.4 385.7 643.4 382.7 644.4 379.8 645.4 376.9 646.3 374.0 647.1 371.3 647.8 368.6 648.3 366.2 648.7 363.9 649.0 361.7 649.1 359.5 649.2 357.3 649.2 355.0 649.1 352.5 648.9 349.9 648.6 347.4 648.2 344.8 647.8 342.2 647.3 339.6 646.9 337.0 646.3 334.4 645.7 331.9 645.1 329.3 644.5 326.9 644.0 324.5 643.5 322.2 642.9 319.9 642.4 317.7 641.9 315.6 641.5 313.5 641.1 311.6 640.7 309.8 640.3 308.0 640.0 306.4 639.7 304.8 639.4 303.3 639.2 301.8 639.0 300.4 638.8 299.1 638.6 297.8 638.4 296.5 638.3 295.2 638.1 293.9 636.7 293.1 635.5 294.1 635.5 295.4 635.5 296.7 635.5 298.0 635.5 299.3 635.5 300.7 635.6 302.2 635.7 303.8 635.9 305.4 636.1 307.0 636.4 308.7 636.6 310.5 636.9 312.4 637.3 314.4 637.7 316.5 638.2 318.7 638.7 320.9 639.1 323.2 639.6 325.5 640.1 327.9 640.7 330.4 641.2 332.9 641.8 335.4 642.3 337.9 642.7 340.4 643.0 342.9 643.3 345.4 643.5 347.9 643.7 350.4 643.8 352.7 643.8 355.0 643.7 357.1 643.6 359.1 643.3 361.0 643.0 363.0 642.7 365.1 642.2 367.4 641.6 369.8 640.9 372.5 640.2 375.3 639.3 378.2 638.5 381.2 637.6 384.3 636.7 387.4 635.8 390.7 634.8 394.0 633.8 397.4 632.8 400.8 631.7 404.3 630.6 408.1 629.4 412.1 628.3 416.1 627.1 420.0 626.0 423.4 625.1 426.2 624.4 428.1 623.8 429.3 623.4 430.1 622.9 430.9 622.4 431.7 621.8 432.8Z" fill="url(#g16)" filter="url(#b4)"/><path class="l" d="M645.4 369.3 642.1 372.9 642.7 375.0 643.4 377.1 644.1 379.2 644.7 381.3 645.3 383.4 645.9 385.6 646.4 388.0 646.9 390.4 647.4 392.9 647.9 395.4 648.3 397.9 648.7 400.4 649.1 402.8 649.4 405.3 649.7 407.8 650.0 410.2 650.3 412.7 650.5 415.2 650.7 417.7 650.9 420.2 651.1 422.7 651.2 425.2 651.3 427.7 651.5 430.2 654.1 431.7 656.5 429.8 656.3 427.3 656.2 424.8 656.0 422.3 655.8 419.8 655.7 417.3 655.5 414.8 655.3 412.3 655.1 409.8 655.0 407.2 654.8 404.7 654.5 402.2 654.3 399.6 654.0 397.1 653.6 394.5 653.3 391.9 652.9 389.3 652.5 386.8 652.1 384.4 651.8 382.0 651.4 379.7 651.0 377.5 650.6 375.4 650.3 373.2 649.9 371.1Z" fill="url(#g17)" filter="url(#b4)"/><path class="l" d="M631.8 332.1 635.0 330.2 635.2 328.2 635.5 326.1 635.7 324.1 636.0 322.1 636.2 320.2 636.5 318.5 636.7 316.8 636.9 315.2 637.2 313.6 637.4 312.0 637.7 310.3 637.9 308.6 635.4 305.9 632.1 307.4 631.6 309.0 631.2 310.6 630.7 312.2 630.3 313.9 629.9 315.6 629.5 317.5 629.3 319.5 629.2 321.6 629.1 323.6 629.1 325.7 629.1 327.8 629.0 329.8Z" fill="url(#g18)" filter="url(#b5)"/><path class="l" d="M673.8 433.7 676.5 432.2 676.8 429.4 677.2 426.6 677.5 423.7 677.9 420.9 678.2 418.1 678.5 415.3 678.7 412.4 679.0 409.5 679.2 406.5 679.4 403.6 679.5 400.8 679.6 398.2 679.6 395.7 679.5 393.4 679.4 391.3 679.2 389.2 679.0 387.1 678.9 385.0 677.3 383.9 675.7 385.0 675.5 387.1 675.3 389.2 675.1 391.2 674.9 393.3 674.7 395.5 674.4 397.8 674.1 400.4 673.8 403.1 673.4 406.0 673.1 408.9 672.8 411.8 672.5 414.7 672.3 417.6 672.1 420.4 672.0 423.3 671.8 426.1 671.7 428.9 671.5 431.8Z" fill="url(#g19)" filter="url(#b4)"/><path class="l" d="M676.6 398.6 675.1 400.5 675.7 403.1 676.3 405.6 676.9 408.1 677.4 410.6 678.0 413.1 678.6 415.6 679.1 418.0 679.6 420.5 680.1 423.0 680.6 425.5 681.1 428.0 681.5 430.5 684.3 431.7 686.5 429.5 686.0 427.0 685.5 424.5 685.0 422.0 684.6 419.5 684.0 417.0 683.4 414.4 682.8 411.9 682.0 409.4 681.3 406.9 680.5 404.4 679.7 401.9 678.9 399.5Z" fill="url(#g20)" filter="url(#b4)"/><ellipse class="l" cx="705.0" cy="428.0" rx="4.0" ry="3.0" fill="#1f1f1f" filter="url(#b4)"/><ellipse class="l" cx="183.0" cy="428.0" rx="1.5" ry="4.0" fill="#1f1f1f" filter="url(#b2)"/></g></g><g clip-path="url(#cpi)"><g filter="url(#cm)"><rect x="65.7" y="-27.6" width="676.9" height="485.8" fill="#000"/><use href="#sia"/><use href="#sia" x="174.2"/></g></g><rect x="95.7" y="2.4" width="616.9" height="425.8" fill="none" stroke="#000" stroke-width="1.5"/><path d="M151.8 428.2v-6.5M151.8 2.4v6.5M207.8 428.2v-6.5M207.8 2.4v6.5M263.9 428.2v-6.5M263.9 2.4v6.5M320.0 428.2v-6.5M320.0 2.4v6.5M376.0 428.2v-6.5M376.0 2.4v6.5M432.1 428.2v-6.5M432.1 2.4v6.5M488.2 428.2v-6.5M488.2 2.4v6.5M544.3 428.2v-6.5M544.3 2.4v6.5M600.3 428.2v-6.5M600.3 2.4v6.5M656.4 428.2v-6.5M656.4 2.4v6.5M95.7 380.9h6.5M712.6 380.9h-6.5M95.7 333.6h6.5M712.6 333.6h-6.5M95.7 286.3h6.5M712.6 286.3h-6.5M95.7 239.0h6.5M712.6 239.0h-6.5M95.7 191.6h6.5M712.6 191.6h-6.5M95.7 144.3h6.5M712.6 144.3h-6.5M95.7 97.0h6.5M712.6 97.0h-6.5M95.7 49.7h6.5M712.6 49.7h-6.5" stroke="#000" stroke-width="1.1" fill="none"/><text x="95.7" y="470.3" text-anchor="middle">0</text><text x="151.8" y="470.3" text-anchor="middle">100</text><text x="263.9" y="470.3" text-anchor="middle">300</text><text x="376.0" y="470.3" text-anchor="middle">500</text><text x="488.2" y="470.3" text-anchor="middle">700</text><text x="600.3" y="470.3" text-anchor="middle">900</text><text x="714.0" y="470.3" text-anchor="middle">1100</text><text x="86.4" y="441.0" text-anchor="end">10</text><text x="86.4" y="346.4" text-anchor="end">30</text><text x="86.4" y="251.8" text-anchor="end">50</text><text x="86.4" y="157.1" text-anchor="end">70</text><text x="86.4" y="62.5" text-anchor="end">90</text><text x="404" y="509" text-anchor="middle" font-size="38">Time (a.u.)</text><text transform="translate(28.8 215.3) rotate(-90)" text-anchor="middle" font-size="38.2">Harmonic order</text><rect x="753.9" y="2.4" width="55.1" height="425.80" fill="#2b2f87"/><rect x="753.9" y="2.4" width="55.1" height="419.15" fill="#2d308f"/><rect x="753.9" y="2.4" width="55.1" height="412.49" fill="#2f3594"/><rect x="753.9" y="2.4" width="55.1" height="405.84" fill="#323b96"/><rect x="753.9" y="2.4" width="55.1" height="399.19" fill="#344199"/><rect x="753.9" y="2.4" width="55.1" height="392.53" fill="#37479c"/><rect x="753.9" y="2.4" width="55.1" height="385.88" fill="#384b9f"/><rect x="753.9" y="2.4" width="55.1" height="379.23" fill="#3950a2"/><rect x="753.9" y="2.4" width="55.1" height="372.57" fill="#3b54a4"/><rect x="753.9" y="2.4" width="55.1" height="365.92" fill="#3c57a7"/><rect x="753.9" y="2.4" width="55.1" height="359.27" fill="#3d5aa9"/><rect x="753.9" y="2.4" width="55.1" height="352.62" fill="#3d5dab"/><rect x="753.9" y="2.4" width="55.1" height="345.96" fill="#3e60ad"/><rect x="753.9" y="2.4" width="55.1" height="339.31" fill="#4065b0"/><rect x="753.9" y="2.4" width="55.1" height="332.66" fill="#426fb7"/><rect x="753.9" y="2.4" width="55.1" height="326.00" fill="#447abe"/><rect x="753.9" y="2.4" width="55.1" height="319.35" fill="#4685c5"/><rect x="753.9" y="2.4" width="55.1" height="312.70" fill="#4593cf"/><rect x="753.9" y="2.4" width="55.1" height="306.04" fill="#45a0d8"/><rect x="753.9" y="2.4" width="55.1" height="299.39" fill="#3db2e6"/><rect x="753.9" y="2.4" width="55.1" height="292.74" fill="#35c3f3"/><rect x="753.9" y="2.4" width="55.1" height="286.08" fill="#4bc6eb"/><rect x="753.9" y="2.4" width="55.1" height="279.43" fill="#60c9e4"/><rect x="753.9" y="2.4" width="55.1" height="272.78" fill="#6dcadb"/><rect x="753.9" y="2.4" width="55.1" height="266.12" fill="#6fc9cf"/><rect x="753.9" y="2.4" width="55.1" height="259.47" fill="#72c8c4"/><rect x="753.9" y="2.4" width="55.1" height="252.82" fill="#77c8b4"/><rect x="753.9" y="2.4" width="55.1" height="246.17" fill="#7cc8a3"/><rect x="753.9" y="2.4" width="55.1" height="239.51" fill="#81c892"/><rect x="753.9" y="2.4" width="55.1" height="232.86" fill="#88c982"/><rect x="753.9" y="2.4" width="55.1" height="226.21" fill="#91cb72"/><rect x="753.9" y="2.4" width="55.1" height="219.55" fill="#9acd62"/><rect x="753.9" y="2.4" width="55.1" height="212.90" fill="#a3cf52"/><rect x="753.9" y="2.4" width="55.1" height="206.25" fill="#a9d046"/><rect x="753.9" y="2.4" width="55.1" height="199.59" fill="#afd13b"/><rect x="753.9" y="2.4" width="55.1" height="192.94" fill="#bad531"/><rect x="753.9" y="2.4" width="55.1" height="186.29" fill="#cada29"/><rect x="753.9" y="2.4" width="55.1" height="179.63" fill="#d9e023"/><rect x="753.9" y="2.4" width="55.1" height="172.98" fill="#e4e521"/><rect x="753.9" y="2.4" width="55.1" height="166.33" fill="#f0e920"/><rect x="753.9" y="2.4" width="55.1" height="159.67" fill="#f9eb1d"/><rect x="753.9" y="2.4" width="55.1" height="153.02" fill="#fcdf0f"/><rect x="753.9" y="2.4" width="55.1" height="146.37" fill="#ffd301"/><rect x="753.9" y="2.4" width="55.1" height="139.72" fill="#fdc307"/><rect x="753.9" y="2.4" width="55.1" height="133.06" fill="#fbb20f"/><rect x="753.9" y="2.4" width="55.1" height="126.41" fill="#f9a217"/><rect x="753.9" y="2.4" width="55.1" height="119.76" fill="#f7921d"/><rect x="753.9" y="2.4" width="55.1" height="113.10" fill="#f6861f"/><rect x="753.9" y="2.4" width="55.1" height="106.45" fill="#f47a20"/><rect x="753.9" y="2.4" width="55.1" height="99.80" fill="#f36e22"/><rect x="753.9" y="2.4" width="55.1" height="93.14" fill="#f26223"/><rect x="753.9" y="2.4" width="55.1" height="86.49" fill="#f15624"/><rect x="753.9" y="2.4" width="55.1" height="79.84" fill="#f04b24"/><rect x="753.9" y="2.4" width="55.1" height="73.18" fill="#ef3f24"/><rect x="753.9" y="2.4" width="55.1" height="66.53" fill="#ef3324"/><rect x="753.9" y="2.4" width="55.1" height="59.88" fill="#ee2824"/><rect x="753.9" y="2.4" width="55.1" height="53.23" fill="#ed1c24"/><rect x="753.9" y="2.4" width="55.1" height="46.57" fill="#dc1d24"/><rect x="753.9" y="2.4" width="55.1" height="39.92" fill="#cc1d23"/><rect x="753.9" y="2.4" width="55.1" height="33.27" fill="#bb1e23"/><rect x="753.9" y="2.4" width="55.1" height="26.61" fill="#ab1d22"/><rect x="753.9" y="2.4" width="55.1" height="19.96" fill="#9e1c20"/><rect x="753.9" y="2.4" width="55.1" height="13.31" fill="#911a1e"/><rect x="753.9" y="2.4" width="55.1" height="6.65" fill="#84181b"/><rect x="753.9" y="2.4" width="55.1" height="425.8" fill="none" stroke="#000" stroke-width="1.5"/><path d="M753.9 343.0h4M809.0 343.0h-4M753.9 257.9h4M809.0 257.9h-4M753.9 172.7h4M809.0 172.7h-4M753.9 87.6h4M809.0 87.6h-4" stroke="#000" stroke-width="1.1" fill="none"/><text x="816.6" y="441.7"><tspan dy="3">−</tspan><tspan dy="-3" dx="0.6">10</tspan></text><text x="816.6" y="271.4"><tspan dy="3">−</tspan><tspan dy="-3" dx="0.6">9</tspan></text><text x="816.6" y="101.1"><tspan dy="3">−</tspan><tspan dy="-3" dx="0.6">8</tspan></text><rect x="204.0" y="13.6" width="253.4" height="201.0" fill="none" stroke="#fff" stroke-width="1.8"/><path d="M330.7 214.6v-2.8M330.7 13.6v2.8M204.0 174.4h2.8M457.4 174.4h-2.8M204.0 134.2h2.8M457.4 134.2h-2.8M204.0 94.0h2.8M457.4 94.0h-2.8M204.0 53.8h2.8M457.4 53.8h-2.8" stroke="#fff" stroke-width="1.1" fill="none"/><g class="w" font-size="21.5" fill="#fff"><text x="204.0" y="242.3" text-anchor="middle">280</text><text x="330.7" y="242.3" text-anchor="middle">320</text><text x="457.4" y="242.3" text-anchor="middle">360</text><text x="195.2" y="222.4" text-anchor="end">10</text><text x="195.2" y="142.0" text-anchor="end">30</text><text x="195.2" y="61.6" text-anchor="end">50</text></g><text class="w" x="112" y="45" fill="#fff">(a)</text></g>
<g transform="translate(976.4 0.0)"><g clip-path="url(#cpm)"><g filter="url(#cm)"><rect x="65.7" y="-27.6" width="676.9" height="485.8" fill="#000"/><use href="#sbt" x="0.0"/><use href="#sbt" x="62.0"/><use href="#sbt" x="124.0"/><use href="#sbt" x="186.0"/><use href="#sbt" x="248.0"/><use href="#sbt" x="310.0"/><use href="#sbs" x="0.0"/><use href="#sbs" x="62.0"/><use href="#sbs" x="124.0"/><use href="#sbs" x="186.0"/><use href="#sbs" x="248.0"/><path class="l" d="M219.7 438.9 228.6 436.6 228.9 435.8 229.2 435.2 229.7 434.3 230.2 432.9 230.7 431.1 231.3 428.8 231.9 425.9 232.4 422.5 233.1 418.7 233.7 414.7 234.4 410.6 235.2 406.4 236.1 401.9 237.0 397.2 238.0 392.3 239.1 387.5 240.2 382.8 241.2 378.6 242.3 374.6 243.6 370.7 244.8 367.0 246.0 363.4 247.1 360.1 248.1 357.1 248.8 354.7 249.5 352.7 250.0 350.8 250.6 348.8 251.1 346.5 251.4 344.0 251.5 341.4 251.5 338.9 251.4 336.4 251.2 334.0 251.0 331.7 250.7 329.5 250.4 327.3 250.0 325.1 249.6 322.9 249.2 320.9 248.7 318.8 248.2 316.8 247.7 314.7 247.1 312.5 246.5 310.4 246.0 308.4 245.4 306.5 244.9 304.7 244.4 303.1 243.9 301.5 243.4 300.1 243.0 298.7 242.5 297.4 242.1 296.2 241.8 295.1 241.4 294.0 241.1 292.9 240.8 291.9 240.5 290.7 240.1 289.6 236.1 287.4 232.7 290.4 232.6 291.5 232.5 292.7 232.4 293.8 232.3 295.0 232.2 296.4 232.3 297.8 232.3 299.3 232.4 300.8 232.6 302.3 232.7 303.9 232.9 305.5 233.1 307.3 233.4 309.2 233.7 311.2 234.1 313.2 234.4 315.3 234.7 317.3 235.0 319.2 235.2 321.1 235.4 323.0 235.5 324.9 235.6 326.8 235.7 328.6 235.7 330.5 235.7 332.5 235.7 334.6 235.6 336.6 235.4 338.5 235.2 340.3 235.0 342.0 234.7 343.4 234.4 344.7 234.0 346.1 233.4 347.9 232.8 350.1 232.1 352.9 231.5 355.9 230.8 359.3 230.0 363.0 229.2 367.0 228.4 371.2 227.6 375.4 226.7 379.9 225.8 384.7 224.8 389.7 223.9 394.6 222.9 399.3 222.0 403.6 221.1 407.8 220.1 411.9 219.1 415.9 218.2 419.5 217.4 422.7 216.7 425.2 216.2 427.0 215.9 428.0 215.7 428.6 215.4 429.2 215.0 430.2 214.6 431.4Z" fill="url(#g36)" filter="url(#b7)"/><path class="l" d="M220.1 437.9 227.2 436.1 227.5 435.3 227.8 434.6 228.3 433.7 228.8 432.4 229.3 430.7 229.8 428.4 230.4 425.5 231.0 422.2 231.7 418.5 232.3 414.4 233.1 410.3 233.9 406.1 234.8 401.7 235.7 396.9 236.7 392.1 237.8 387.2 238.8 382.6 239.9 378.3 241.0 374.2 242.1 370.3 243.3 366.6 244.5 363.0 245.6 359.7 246.5 356.7 247.2 354.3 247.9 352.2 248.4 350.3 249.0 348.3 249.4 346.2 249.7 343.8 249.9 341.3 249.9 338.8 249.8 336.4 249.7 334.1 249.4 331.8 249.2 329.6 248.9 327.4 248.6 325.2 248.2 323.1 247.8 321.1 247.4 319.1 246.9 317.0 246.4 314.9 245.9 312.8 245.3 310.7 244.7 308.7 244.2 306.8 243.7 305.0 243.2 303.3 242.8 301.8 242.3 300.3 241.9 298.9 241.5 297.6 241.1 296.4 240.8 295.2 240.5 294.1 240.2 293.0 240.0 291.9 239.7 290.8 239.4 289.7 236.2 287.9 233.4 290.3 233.4 291.5 233.3 292.6 233.2 293.7 233.2 294.9 233.2 296.2 233.3 297.6 233.4 299.1 233.5 300.6 233.7 302.1 233.8 303.6 234.1 305.3 234.3 307.0 234.6 308.9 235.0 310.9 235.3 312.9 235.7 315.0 236.0 317.0 236.3 319.0 236.5 320.9 236.7 322.8 236.9 324.7 237.1 326.6 237.2 328.5 237.2 330.4 237.2 332.5 237.2 334.5 237.2 336.6 237.0 338.6 236.9 340.4 236.7 342.2 236.4 343.7 236.0 345.1 235.6 346.6 235.0 348.4 234.4 350.6 233.7 353.3 233.0 356.3 232.3 359.7 231.5 363.4 230.7 367.4 229.8 371.5 228.9 375.7 228.0 380.2 227.1 385.0 226.1 389.9 225.2 394.8 224.2 399.5 223.3 403.9 222.4 408.1 221.4 412.2 220.5 416.2 219.6 419.8 218.8 423.0 218.2 425.6 217.7 427.4 217.3 428.5 217.1 429.2 216.8 429.8 216.4 430.8 216.0 431.9Z" fill="url(#g37)" filter="url(#b4)"/><path class="l" d="M221.1 435.4 223.6 434.8 224.0 433.8 224.3 433.1 224.7 432.3 225.1 431.1 225.6 429.6 226.1 427.5 226.7 424.7 227.4 421.4 228.1 417.7 228.9 413.7 229.7 409.6 230.5 405.4 231.4 401.0 232.3 396.3 233.3 391.4 234.3 386.5 235.4 381.8 236.4 377.5 237.4 373.4 238.5 369.4 239.5 365.6 240.6 362.0 241.6 358.6 242.4 355.6 243.1 353.1 243.7 351.0 244.3 349.1 244.8 347.3 245.2 345.4 245.6 343.3 245.7 341.0 245.8 338.8 245.8 336.5 245.7 334.2 245.5 332.0 245.4 329.8 245.2 327.7 244.9 325.7 244.6 323.7 244.3 321.7 243.9 319.7 243.5 317.7 243.1 315.6 242.6 313.5 242.1 311.4 241.6 309.4 241.1 307.4 240.7 305.6 240.3 304.0 239.9 302.4 239.5 300.9 239.2 299.4 238.9 298.1 238.6 296.8 238.4 295.5 238.2 294.4 238.0 293.2 237.8 292.1 237.7 291.0 237.5 289.9 236.3 289.2 235.3 290.1 235.4 291.3 235.4 292.4 235.5 293.5 235.5 294.7 235.6 295.9 235.8 297.2 236.0 298.6 236.2 300.0 236.4 301.5 236.7 303.0 237.0 304.7 237.3 306.4 237.7 308.2 238.1 310.2 238.5 312.2 238.9 314.3 239.3 316.3 239.7 318.3 240.0 320.3 240.3 322.3 240.5 324.2 240.7 326.2 240.9 328.1 241.0 330.2 241.1 332.2 241.2 334.4 241.2 336.5 241.2 338.7 241.1 340.7 240.8 342.7 240.5 344.5 240.2 346.1 239.7 347.8 239.1 349.6 238.5 351.8 237.8 354.4 237.0 357.4 236.2 360.8 235.3 364.4 234.3 368.3 233.4 372.4 232.4 376.5 231.5 381.0 230.5 385.7 229.5 390.6 228.6 395.5 227.6 400.2 226.7 404.6 225.8 408.8 224.9 412.9 224.1 416.9 223.3 420.6 222.5 423.8 221.9 426.5 221.4 428.4 221.0 429.7 220.6 430.6 220.3 431.4 220.0 432.2 219.6 433.2Z" fill="url(#g38)" filter="url(#b4)"/><path class="l" d="M245.2 353.9 242.7 356.6 242.8 357.6 243.0 358.6 243.2 359.6 243.4 360.6 243.6 361.6 243.9 362.6 244.2 363.6 244.5 364.5 244.8 365.4 245.1 366.3 245.4 367.2 245.7 368.3 246.0 369.7 246.2 371.3 246.4 373.0 246.7 374.7 246.9 376.5 247.1 378.2 249.2 379.4 251.1 377.8 251.0 376.1 250.9 374.3 250.8 372.5 250.7 370.8 250.6 369.2 250.5 367.7 250.4 366.3 250.2 365.2 250.1 364.1 250.0 363.2 249.9 362.3 249.7 361.4 249.6 360.4 249.4 359.4 249.2 358.4 249.0 357.4 248.7 356.4 248.5 355.4Z" fill="url(#g39)" filter="url(#b4)"/><path class="l" d="M232.5 331.4 234.6 330.1 234.7 328.1 234.9 326.1 235.1 324.1 235.2 322.1 235.4 320.1 235.5 318.1 235.6 316.2 235.8 314.2 235.9 312.2 236.0 310.2 236.2 308.2 236.3 306.2 234.2 304.5 231.9 305.8 231.7 307.8 231.5 309.8 231.2 311.8 231.0 313.8 230.8 315.8 230.7 317.9 230.6 319.9 230.6 321.9 230.6 323.9 230.6 325.9 230.6 327.9 230.6 329.9Z" fill="url(#g40)" filter="url(#b4)"/><path class="l" d="M585.0 440.7 596.6 437.1 596.9 436.1 597.2 435.3 597.4 434.3 597.8 433.2 598.2 431.7 598.7 429.7 599.2 427.2 599.9 424.2 600.5 420.9 601.3 417.5 602.1 413.9 603.0 410.4 604.0 406.8 605.2 403.0 606.4 399.1 607.7 395.2 609.0 391.5 610.3 388.1 611.8 384.8 613.3 381.5 615.0 378.2 616.7 375.0 618.3 371.9 619.6 368.9 620.7 366.4 621.6 364.2 622.5 362.0 623.4 359.5 624.1 356.8 624.7 353.9 625.0 350.8 625.1 347.8 625.0 345.0 624.8 342.4 624.6 339.9 624.4 337.6 624.2 335.2 623.9 332.8 623.5 330.5 623.2 328.2 622.8 326.0 622.4 323.8 622.0 321.5 621.5 319.2 621.0 316.9 620.5 314.7 620.1 312.6 619.6 310.6 619.1 308.7 618.6 306.9 618.1 305.2 617.7 303.6 617.2 302.2 616.8 300.8 616.4 299.5 616.0 298.2 615.7 297.0 615.3 295.8 615.0 294.6 614.6 293.4 614.3 292.3 613.9 291.2 613.5 290.1 613.1 289.0 612.8 287.8 612.4 286.7 607.7 283.9 603.4 287.3 603.2 288.5 603.0 289.6 602.7 290.8 602.5 292.0 602.3 293.3 602.2 294.6 602.1 295.9 602.0 297.3 601.9 298.7 601.9 300.1 601.9 301.6 602.0 303.2 602.1 304.8 602.2 306.5 602.3 308.2 602.5 309.9 602.7 311.6 602.8 313.4 603.0 315.4 603.2 317.5 603.5 319.7 603.7 321.9 603.9 324.0 604.0 326.2 604.2 328.3 604.3 330.4 604.4 332.4 604.4 334.4 604.4 336.4 604.4 338.4 604.4 340.7 604.3 342.9 604.2 345.0 604.0 346.9 603.8 348.6 603.5 350.1 603.2 351.5 602.7 352.8 602.1 354.3 601.4 356.1 600.5 358.4 599.6 361.1 598.7 363.9 597.6 367.1 596.5 370.5 595.3 374.2 594.1 378.0 592.9 381.9 591.7 385.9 590.6 390.0 589.5 394.0 588.4 398.1 587.3 401.9 586.2 405.6 585.1 409.1 583.9 412.7 582.8 416.1 581.7 419.2 580.7 422.0 579.9 424.3 579.3 426.0 578.9 427.3 578.6 428.2 578.3 429.0 578.0 429.9 577.6 430.9Z" fill="url(#g41)" filter="url(#b8)"/><path class="l" d="M585.4 439.3 594.7 436.5 595.0 435.5 595.3 434.6 595.5 433.7 595.9 432.6 596.3 431.1 596.8 429.2 597.4 426.6 598.0 423.7 598.8 420.4 599.5 417.0 600.4 413.5 601.3 409.9 602.4 406.3 603.5 402.5 604.7 398.6 606.0 394.7 607.3 391.0 608.6 387.5 610.0 384.1 611.5 380.8 613.2 377.5 614.8 374.2 616.3 371.1 617.6 368.1 618.7 365.6 619.6 363.4 620.5 361.2 621.3 358.8 622.0 356.3 622.6 353.5 622.9 350.6 623.0 347.7 622.9 345.0 622.8 342.4 622.6 340.0 622.4 337.7 622.2 335.3 621.9 333.0 621.6 330.7 621.3 328.4 620.9 326.3 620.5 324.1 620.1 321.8 619.7 319.5 619.3 317.2 618.8 315.0 618.3 312.9 617.9 310.9 617.5 309.0 617.0 307.2 616.6 305.5 616.1 303.9 615.7 302.5 615.3 301.1 615.0 299.7 614.6 298.4 614.3 297.1 614.0 295.9 613.7 294.7 613.4 293.5 613.1 292.4 612.7 291.3 612.4 290.2 612.1 289.0 611.8 287.9 611.5 286.8 607.7 284.5 604.3 287.2 604.1 288.4 604.0 289.5 603.8 290.7 603.6 291.9 603.5 293.2 603.4 294.5 603.4 295.8 603.3 297.1 603.3 298.5 603.3 299.9 603.4 301.4 603.5 302.9 603.6 304.6 603.7 306.2 603.9 307.9 604.1 309.6 604.3 311.3 604.5 313.1 604.7 315.1 605.0 317.2 605.2 319.4 605.5 321.6 605.7 323.8 605.9 325.9 606.0 328.0 606.2 330.1 606.3 332.2 606.4 334.2 606.4 336.2 606.4 338.3 606.4 340.6 606.3 342.8 606.3 345.0 606.1 347.0 605.9 348.9 605.6 350.5 605.3 352.0 604.8 353.4 604.2 355.0 603.4 356.9 602.5 359.2 601.6 361.9 600.6 364.7 599.5 367.9 598.3 371.3 597.1 374.9 595.8 378.7 594.6 382.5 593.4 386.5 592.3 390.5 591.2 394.5 590.0 398.6 588.9 402.4 587.9 406.1 586.8 409.6 585.7 413.1 584.5 416.6 583.5 419.7 582.6 422.5 581.8 424.8 581.2 426.6 580.8 427.9 580.5 428.8 580.2 429.6 579.9 430.5 579.5 431.5Z" fill="url(#g42)" filter="url(#b6)"/><path class="l" d="M586.5 435.9 589.8 434.9 590.2 433.9 590.4 433.0 590.7 432.1 591.1 431.1 591.5 429.7 592.0 427.8 592.7 425.3 593.4 422.4 594.2 419.2 595.1 415.8 596.0 412.2 597.0 408.7 598.1 405.1 599.2 401.2 600.4 397.3 601.6 393.4 602.8 389.5 604.1 385.9 605.5 382.4 606.9 378.9 608.4 375.5 609.9 372.2 611.3 369.0 612.5 366.1 613.5 363.6 614.4 361.4 615.3 359.2 616.0 357.1 616.7 354.9 617.1 352.5 617.5 350.0 617.6 347.5 617.6 345.0 617.5 342.6 617.4 340.2 617.3 337.9 617.1 335.6 616.9 333.4 616.7 331.2 616.4 329.0 616.1 326.8 615.8 324.7 615.5 322.4 615.2 320.2 614.8 317.9 614.4 315.7 614.0 313.6 613.6 311.6 613.2 309.7 612.9 307.9 612.5 306.3 612.2 304.7 611.8 303.1 611.5 301.7 611.3 300.2 611.0 298.9 610.8 297.6 610.6 296.3 610.4 295.1 610.2 293.8 610.0 292.6 609.8 291.5 609.7 290.3 609.5 289.2 609.4 288.1 609.2 286.9 607.8 286.1 606.6 287.1 606.6 288.2 606.6 289.4 606.6 290.5 606.6 291.7 606.6 292.9 606.6 294.2 606.7 295.4 606.7 296.7 606.8 298.1 607.0 299.4 607.1 300.8 607.3 302.3 607.5 303.9 607.7 305.5 608.0 307.1 608.2 308.8 608.5 310.6 608.8 312.4 609.1 314.4 609.4 316.5 609.7 318.7 610.0 320.9 610.3 323.2 610.6 325.3 610.8 327.5 611.0 329.6 611.2 331.7 611.3 333.8 611.5 335.9 611.5 338.1 611.6 340.4 611.6 342.7 611.6 345.0 611.5 347.2 611.4 349.4 611.1 351.5 610.6 353.4 610.1 355.2 609.4 357.0 608.6 359.0 607.7 361.3 606.7 363.9 605.6 366.8 604.4 369.9 603.1 373.3 601.7 376.8 600.4 380.4 599.1 384.1 597.9 387.9 596.7 391.8 595.5 395.8 594.3 399.8 593.2 403.7 592.2 407.3 591.1 410.8 590.1 414.4 589.1 417.8 588.2 421.0 587.3 423.8 586.6 426.2 586.0 428.1 585.6 429.4 585.3 430.4 585.0 431.2 584.7 432.1 584.4 433.1Z" fill="url(#g43)" filter="url(#b5)"/><path class="l" d="M614.6 356.6 610.8 361.4 611.6 363.7 612.4 366.0 613.1 368.2 613.9 370.4 614.6 372.7 615.3 375.1 616.0 377.6 616.7 380.2 617.3 382.9 618.0 385.6 618.6 388.3 619.2 390.8 619.8 393.4 620.3 395.8 620.8 398.2 621.3 400.5 621.8 402.7 622.2 404.7 622.5 406.6 622.8 408.2 623.0 409.8 623.2 411.4 623.4 412.9 623.6 414.6 628.0 416.8 631.6 413.4 631.3 411.8 631.1 410.3 630.9 408.7 630.7 407.0 630.4 405.2 630.0 403.3 629.6 401.1 629.1 398.9 628.6 396.5 628.1 394.1 627.5 391.6 627.0 389.2 626.5 386.6 626.0 383.9 625.5 381.1 625.0 378.3 624.4 375.6 623.9 372.9 623.3 370.4 622.7 367.9 622.1 365.6 621.5 363.2 621.0 360.9 620.4 358.6Z" fill="url(#g44)" filter="url(#b5)"/><path class="l" d="M600.6 373.4 602.6 371.9 602.6 369.1 602.6 366.3 602.6 363.4 602.7 360.6 602.7 357.8 602.8 355.0 602.9 352.2 603.0 349.4 603.2 346.6 603.4 343.8 603.6 341.0 603.8 338.2 604.0 335.5 604.4 332.8 604.7 330.0 605.0 327.3 605.3 324.7 605.6 322.3 605.8 320.0 606.0 318.0 606.1 316.0 606.3 314.1 606.4 312.2 606.6 310.2 604.8 308.6 602.6 309.8 602.3 311.7 602.0 313.6 601.7 315.5 601.4 317.4 601.1 319.5 600.8 321.7 600.5 324.1 600.1 326.7 599.7 329.4 599.3 332.1 598.9 334.9 598.6 337.8 598.3 340.6 598.1 343.4 597.9 346.3 597.7 349.2 597.6 352.1 597.6 355.0 597.7 357.8 597.8 360.7 598.0 363.6 598.2 366.4 598.4 369.2 598.6 372.1Z" fill="url(#g45)" filter="url(#b4)"/><path class="l" d="M624.7 439.6 633.6 435.3 633.8 434.2 634.0 433.0 634.1 431.9 634.3 430.9 634.5 429.8 634.6 428.6 634.8 427.3 635.1 426.0 635.3 424.6 635.5 423.2 635.8 421.6 636.2 419.9 636.5 418.0 637.0 415.8 637.5 413.6 638.0 411.3 638.5 409.0 639.1 407.0 639.5 405.2 640.0 403.6 640.6 401.9 641.2 400.0 641.8 397.9 642.4 395.5 643.0 392.8 643.7 390.0 644.3 387.1 644.9 384.1 645.5 381.1 646.2 378.3 646.9 375.6 647.6 372.8 648.4 369.9 649.1 367.0 649.8 364.0 650.3 361.1 650.6 358.3 650.8 355.6 650.9 353.0 650.9 350.4 650.9 347.8 650.8 345.1 650.7 342.2 650.5 339.2 650.3 336.1 650.0 333.2 649.7 330.4 649.5 327.7 649.3 325.2 649.1 322.7 648.8 320.3 648.6 318.0 648.4 315.8 648.2 313.6 647.9 311.4 647.7 309.3 647.4 307.2 647.2 305.3 646.9 303.4 646.7 301.6 646.5 299.8 646.3 298.0 646.1 296.4 645.9 294.8 645.7 293.2 645.5 291.7 645.3 290.3 645.1 289.0 644.8 287.7 644.6 286.4 644.4 285.1 644.2 283.9 644.0 282.7 643.9 281.5 643.7 280.4 643.6 279.3 643.5 278.1 643.3 277.0 640.1 274.7 636.9 277.0 636.7 278.2 636.6 279.3 636.5 280.5 636.4 281.6 636.3 282.9 636.2 284.1 636.1 285.4 635.9 286.7 635.8 288.0 635.7 289.3 635.6 290.8 635.5 292.3 635.5 293.8 635.5 295.5 635.5 297.1 635.6 298.8 635.7 300.6 635.7 302.4 635.8 304.3 635.9 306.3 636.0 308.3 636.1 310.3 636.1 312.3 636.2 314.4 636.3 316.6 636.3 318.8 636.4 321.0 636.4 323.4 636.5 325.8 636.5 328.3 636.5 331.0 636.5 333.8 636.5 336.7 636.5 339.6 636.5 342.3 636.4 344.9 636.2 347.4 636.0 349.8 635.8 352.0 635.5 354.3 635.2 356.6 634.9 358.9 634.6 361.4 634.2 364.1 633.8 366.9 633.4 369.8 632.9 372.7 632.4 375.7 632.0 378.7 631.6 381.7 631.1 384.7 630.7 387.6 630.2 390.2 629.8 392.5 629.3 394.4 628.8 396.0 628.2 397.6 627.6 399.2 626.9 401.0 626.1 403.0 625.4 405.2 624.6 407.4 623.8 409.7 623.0 411.9 622.3 414.1 621.6 416.1 621.1 417.9 620.6 419.6 620.1 421.1 619.7 422.6 619.3 424.0 619.0 425.4 618.6 426.8 618.4 428.1 618.2 429.3 618.0 430.5 617.8 431.6 617.6 432.7Z" fill="url(#g46)" filter="url(#b6)"/><path class="l" d="M624.9 438.5 632.0 435.1 632.2 433.9 632.4 432.8 632.5 431.7 632.7 430.6 632.9 429.5 633.1 428.3 633.3 427.0 633.5 425.7 633.8 424.3 634.0 422.8 634.3 421.2 634.7 419.5 635.1 417.6 635.6 415.5 636.1 413.2 636.7 410.9 637.2 408.6 637.8 406.6 638.3 404.8 638.8 403.2 639.3 401.5 639.9 399.6 640.5 397.6 641.2 395.2 641.8 392.6 642.4 389.8 643.0 386.8 643.6 383.8 644.2 380.9 644.8 378.1 645.5 375.3 646.2 372.5 646.9 369.6 647.6 366.7 648.3 363.7 648.7 360.9 649.1 358.1 649.3 355.5 649.4 352.9 649.5 350.3 649.4 347.7 649.4 345.0 649.3 342.2 649.1 339.2 648.9 336.2 648.7 333.3 648.4 330.4 648.2 327.8 648.0 325.2 647.8 322.8 647.6 320.4 647.4 318.1 647.2 315.9 647.0 313.7 646.8 311.5 646.5 309.4 646.3 307.3 646.0 305.4 645.8 303.5 645.6 301.7 645.4 299.9 645.2 298.1 645.0 296.5 644.8 294.8 644.7 293.3 644.5 291.8 644.3 290.4 644.1 289.0 643.9 287.7 643.7 286.4 643.6 285.2 643.4 283.9 643.3 282.7 643.1 281.5 643.0 280.4 642.9 279.3 642.8 278.1 642.7 277.0 640.1 275.2 637.5 277.0 637.4 278.2 637.3 279.3 637.3 280.5 637.2 281.6 637.1 282.8 637.0 284.1 636.9 285.3 636.8 286.6 636.7 287.9 636.6 289.3 636.5 290.7 636.5 292.2 636.5 293.8 636.5 295.4 636.6 297.0 636.7 298.8 636.7 300.5 636.8 302.3 636.9 304.2 637.0 306.2 637.1 308.2 637.2 310.2 637.3 312.2 637.4 314.3 637.5 316.5 637.6 318.7 637.6 321.0 637.7 323.3 637.8 325.7 637.8 328.2 637.8 330.9 637.9 333.8 637.9 336.7 637.9 339.5 637.9 342.3 637.8 345.0 637.7 347.4 637.5 349.8 637.3 352.1 637.0 354.4 636.8 356.7 636.5 359.1 636.1 361.7 635.7 364.4 635.3 367.2 634.8 370.1 634.3 373.0 633.8 375.9 633.3 378.9 632.9 381.9 632.4 384.9 632.0 387.8 631.5 390.4 631.0 392.8 630.5 394.7 630.0 396.4 629.4 398.0 628.8 399.7 628.1 401.4 627.4 403.4 626.7 405.5 626.0 407.8 625.2 410.1 624.4 412.3 623.7 414.5 623.1 416.5 622.6 418.3 622.1 419.9 621.6 421.5 621.2 422.9 620.9 424.3 620.5 425.7 620.2 427.1 620.0 428.4 619.8 429.6 619.6 430.7 619.4 431.8 619.2 432.9Z" fill="url(#g47)" filter="url(#b4)"/><path class="l" d="M625.3 435.6 627.9 434.4 628.1 433.2 628.3 432.1 628.4 431.0 628.6 429.9 628.8 428.7 629.1 427.5 629.3 426.1 629.6 424.8 629.9 423.4 630.2 421.9 630.6 420.3 631.0 418.6 631.5 416.6 632.0 414.5 632.6 412.2 633.3 409.9 633.9 407.7 634.5 405.6 635.0 403.7 635.6 402.0 636.2 400.4 636.7 398.6 637.3 396.7 637.9 394.4 638.5 391.9 639.1 389.1 639.6 386.2 640.2 383.2 640.7 380.3 641.3 377.4 641.9 374.6 642.5 371.7 643.2 368.8 643.8 365.9 644.4 363.1 644.8 360.3 645.1 357.7 645.4 355.1 645.5 352.6 645.6 350.2 645.7 347.6 645.7 345.0 645.7 342.2 645.5 339.3 645.4 336.4 645.2 333.4 645.0 330.6 644.9 327.9 644.7 325.4 644.6 322.9 644.4 320.6 644.3 318.3 644.1 316.1 643.9 313.9 643.7 311.7 643.5 309.6 643.3 307.6 643.1 305.6 643.0 303.7 642.8 301.9 642.6 300.1 642.5 298.3 642.3 296.6 642.2 295.0 642.1 293.4 641.9 291.9 641.8 290.5 641.7 289.1 641.6 287.8 641.5 286.5 641.4 285.2 641.4 284.0 641.3 282.8 641.2 281.6 641.2 280.4 641.1 279.3 641.1 278.1 641.0 277.0 640.1 276.3 639.2 277.0 639.1 278.2 639.1 279.3 639.1 280.4 639.1 281.6 639.1 282.8 639.0 284.0 639.0 285.3 639.0 286.6 639.0 287.9 639.0 289.2 639.0 290.6 639.1 292.1 639.1 293.6 639.2 295.2 639.3 296.9 639.4 298.6 639.5 300.3 639.6 302.1 639.7 304.0 639.9 305.9 640.0 307.9 640.2 309.9 640.3 312.0 640.5 314.1 640.6 316.3 640.7 318.5 640.8 320.8 640.9 323.1 641.0 325.6 641.1 328.1 641.2 330.8 641.3 333.6 641.4 336.5 641.5 339.4 641.5 342.3 641.5 345.0 641.4 347.5 641.3 350.0 641.2 352.4 641.0 354.7 640.7 357.2 640.4 359.7 640.0 362.3 639.5 365.1 639.0 367.9 638.4 370.8 637.9 373.7 637.3 376.6 636.8 379.6 636.3 382.5 635.8 385.5 635.3 388.4 634.8 391.1 634.3 393.6 633.7 395.7 633.2 397.5 632.6 399.1 632.0 400.8 631.4 402.5 630.7 404.4 630.1 406.5 629.4 408.8 628.7 411.1 628.0 413.3 627.4 415.5 626.8 417.4 626.3 419.2 625.9 420.9 625.5 422.4 625.2 423.8 624.8 425.2 624.5 426.5 624.3 427.9 624.0 429.1 623.8 430.3 623.7 431.4 623.5 432.5 623.3 433.6Z" fill="url(#g48)" filter="url(#b3)"/><path class="l" d="M645.2 367.9 642.6 370.5 643.1 372.5 643.5 374.5 643.9 376.4 644.3 378.4 644.7 380.3 645.0 382.3 645.3 384.4 645.5 386.5 645.8 388.6 646.0 390.8 646.2 393.0 646.4 395.2 648.7 396.5 650.8 394.8 650.7 392.7 650.6 390.5 650.6 388.3 650.5 386.1 650.3 383.9 650.2 381.7 650.0 379.6 649.7 377.5 649.4 375.4 649.1 373.5 648.8 371.5 648.6 369.5Z" fill="url(#g49)" filter="url(#b4)"/><path class="l" d="M634.6 319.4 636.6 318.1 636.8 315.9 637.0 313.6 637.1 311.4 637.3 309.2 637.5 307.1 637.7 305.2 637.9 303.5 638.0 301.8 638.2 300.2 638.4 298.6 638.6 297.0 638.8 295.3 636.8 293.5 634.4 294.7 634.1 296.3 633.7 297.8 633.4 299.4 633.0 301.1 632.7 302.9 632.5 304.8 632.4 306.8 632.4 309.0 632.4 311.2 632.5 313.5 632.6 315.7 632.6 317.9Z" fill="url(#g50)" filter="url(#b4)"/><path class="l" d="M666.3 433.7 669.1 432.4 669.6 429.5 670.1 426.6 670.7 423.7 671.2 420.8 671.7 418.0 672.1 415.4 672.4 413.0 672.7 410.6 673.0 408.4 673.2 406.2 673.4 404.2 673.5 402.3 673.5 400.6 673.5 399.1 673.5 397.8 673.4 396.6 673.3 395.4 673.2 394.1 671.7 392.9 670.0 393.9 669.8 395.2 669.6 396.4 669.4 397.6 669.2 398.8 669.0 400.2 668.7 401.7 668.4 403.5 667.9 405.4 667.5 407.5 667.0 409.7 666.5 412.1 666.1 414.6 665.8 417.2 665.4 419.9 665.1 422.8 664.8 425.8 664.5 428.7 664.1 431.6Z" fill="url(#g51)" filter="url(#b4)"/><path class="l" d="M680.4 433.7 683.1 432.3 683.5 429.4 684.0 426.6 684.5 423.7 685.0 420.9 685.4 418.1 685.8 415.4 686.1 412.8 686.4 410.1 686.7 407.5 686.9 404.9 687.1 402.5 687.2 400.3 687.2 398.2 687.2 396.4 687.1 394.8 686.9 393.2 686.8 391.7 686.7 390.1 685.1 388.9 683.5 389.9 683.3 391.5 683.0 393.1 682.8 394.6 682.6 396.2 682.3 397.9 682.0 399.7 681.6 401.9 681.2 404.2 680.7 406.6 680.2 409.2 679.8 411.9 679.4 414.6 679.1 417.3 678.9 420.2 678.7 423.0 678.5 425.9 678.3 428.8 678.1 431.7Z" fill="url(#g52)" filter="url(#b4)"/><path class="l" d="M684.3 400.6 682.7 402.5 683.1 404.6 683.5 406.8 683.9 408.9 684.4 411.0 684.8 413.2 685.1 415.4 685.5 417.8 685.8 420.2 686.2 422.7 686.5 425.2 686.8 427.8 687.1 430.3 689.8 431.7 692.1 429.7 691.8 427.2 691.5 424.6 691.2 422.1 690.9 419.5 690.5 417.0 690.1 414.6 689.6 412.2 689.0 410.0 688.4 407.8 687.8 405.7 687.1 403.6 686.5 401.5Z" fill="url(#g53)" filter="url(#b4)"/><path class="l" d="M188.5 432.8 189.8 432.2 190.3 428.5 190.8 425.0 191.4 421.4 191.9 417.7 192.4 414.0 192.8 410.1 193.2 406.1 193.5 402.0 193.8 397.8 194.0 393.5 194.3 389.3 194.6 385.1 193.7 384.3 192.6 384.9 192.2 389.1 191.9 393.4 191.6 397.6 191.2 401.8 190.8 405.9 190.4 409.9 190.0 413.7 189.5 417.4 189.0 421.0 188.4 424.6 187.9 428.2 187.4 431.8Z" fill="url(#g54)" filter="url(#b2)"/></g></g><g clip-path="url(#cpi)"><g filter="url(#cm)"><rect x="65.7" y="-27.6" width="676.9" height="485.8" fill="#000"/><ellipse class="l" cx="262.0" cy="138.0" rx="19.0" ry="22.0" fill="#212121" filter="url(#b9)"/><path class="l" d="M265.8 124.8 259.1 112.8 258.0 112.8 257.0 112.8 255.4 112.6 253.4 112.6 251.0 112.6 248.4 113.0 246.0 113.6 243.8 114.3 241.7 115.1 239.5 116.0 237.4 117.0 235.4 118.1 233.4 119.3 231.5 120.6 229.6 122.0 227.7 123.6 225.9 125.3 224.1 127.1 222.6 129.1 221.2 131.1 220.1 133.2 219.1 135.2 218.4 137.1 217.7 139.2 217.2 141.4 217.1 143.6 217.1 145.5 217.3 147.0 217.4 148.1 217.5 149.3 224.5 155.2 232.5 150.7 232.8 149.2 233.1 147.7 233.4 146.6 233.7 145.8 234.0 145.3 234.3 144.8 234.7 144.1 235.3 143.1 235.9 142.2 236.5 141.3 237.2 140.5 237.9 139.9 238.6 139.3 239.6 138.6 240.8 137.8 242.1 137.1 243.4 136.4 244.6 135.9 245.9 135.4 247.2 134.9 248.5 134.5 249.7 134.3 250.9 134.1 251.6 134.0 251.9 134.1 252.2 134.2 252.8 134.4 253.8 134.6 255.3 134.9 256.9 135.2Z" fill="url(#g55)" filter="url(#b9)"/><path class="l" d="M264.3 124.6 258.9 115.0 257.8 115.0 256.7 114.9 255.2 114.8 253.3 114.7 251.1 114.8 248.7 115.1 246.5 115.6 244.4 116.3 242.3 117.0 240.3 117.9 238.2 118.9 236.3 119.9 234.4 121.0 232.6 122.3 230.7 123.6 228.9 125.1 227.2 126.7 225.5 128.4 224.0 130.2 222.8 132.1 221.7 134.1 220.8 135.9 220.0 137.8 219.4 139.7 218.9 141.8 218.7 143.8 218.7 145.6 218.8 147.0 219.0 148.2 219.0 149.5 224.6 154.2 231.0 150.5 231.3 149.1 231.5 147.7 231.8 146.5 232.0 145.6 232.3 144.9 232.6 144.3 233.1 143.4 233.7 142.3 234.3 141.3 235.0 140.3 235.7 139.4 236.5 138.6 237.4 137.9 238.4 137.1 239.7 136.3 241.0 135.5 242.4 134.7 243.7 134.1 245.0 133.5 246.4 133.0 247.8 132.6 249.1 132.3 250.4 132.0 251.3 131.9 251.8 131.9 252.3 132.0 253.1 132.2 254.1 132.4 255.6 132.7 257.1 133.0Z" fill="url(#g56)" filter="url(#b7)"/><path class="l" d="M260.8 124.3 258.4 120.0 257.2 119.9 256.0 119.8 254.6 119.6 253.0 119.5 251.3 119.5 249.4 119.7 247.6 120.1 245.7 120.7 243.8 121.3 242.0 122.1 240.1 122.9 238.3 123.8 236.6 124.8 234.9 125.9 233.2 127.1 231.5 128.4 230.0 129.7 228.5 131.2 227.3 132.8 226.1 134.4 225.2 136.0 224.3 137.7 223.6 139.3 223.0 141.0 222.6 142.7 222.4 144.3 222.3 145.8 222.3 147.2 222.3 148.5 222.3 149.8 224.8 151.9 227.7 150.2 227.9 148.9 228.0 147.5 228.2 146.2 228.4 145.1 228.6 144.1 229.0 143.0 229.5 141.8 230.1 140.6 230.8 139.3 231.6 138.0 232.5 136.9 233.5 135.8 234.6 134.8 235.8 133.8 237.2 132.8 238.7 131.8 240.2 131.0 241.7 130.2 243.2 129.5 244.7 128.9 246.3 128.3 247.8 127.9 249.3 127.5 250.6 127.3 251.6 127.2 252.6 127.3 253.7 127.4 254.8 127.6 256.2 127.9 257.6 128.0Z" fill="url(#g57)" filter="url(#b7)"/><ellipse class="l" cx="238.0" cy="142.0" rx="12.0" ry="7.0" fill="#242424" filter="url(#b7)" transform="rotate(-25.0 238.0 142.0)"/><ellipse class="l" cx="262.5" cy="137.0" rx="14.0" ry="16.0" fill="#8f8f8f" filter="url(#b9)" transform="rotate(15.0 262.5 137.0)"/><ellipse class="l" cx="263.0" cy="138.0" rx="9.0" ry="11.0" fill="#a1a1a1" filter="url(#b8)" transform="rotate(15.0 263.0 138.0)"/><path class="l" d="M172.0 233.3 187.6 239.4 189.8 238.3 191.9 237.1 194.0 236.0 196.1 234.8 198.2 233.7 200.3 232.5 202.2 231.4 204.0 230.4 205.9 229.3 207.9 228.1 210.2 226.6 212.8 225.0 215.8 223.2 219.3 221.1 223.3 218.7 227.4 216.0 231.6 213.2 235.6 210.2 239.3 207.2 242.7 204.2 245.9 201.1 248.9 198.1 251.7 195.2 254.5 192.3 257.4 189.2 260.2 185.9 262.9 182.8 265.4 179.8 267.7 177.0 269.7 174.5 271.6 172.4 273.3 170.3 274.9 168.3 276.5 166.1 278.1 163.8 279.5 161.3 280.8 158.7 282.0 156.1 282.9 153.5 283.7 150.8 284.4 148.2 284.9 145.4 285.2 142.3 285.2 139.3 285.1 136.7 284.9 134.3 284.6 132.4 284.2 130.4 283.5 128.0 282.6 125.7 281.8 123.9 281.0 122.7 280.6 122.2 280.1 121.6 258.0 115.7 244.9 134.4 245.1 135.7 245.4 137.1 245.4 137.8 245.2 137.9 245.0 137.6 244.8 137.6 244.8 138.3 244.9 139.1 245.0 139.8 245.1 140.3 245.1 140.5 245.1 140.6 245.1 141.0 245.1 141.6 245.0 142.3 244.9 143.0 244.7 143.8 244.5 144.7 244.2 145.6 243.9 146.6 243.4 147.8 242.6 149.3 241.6 151.2 240.3 153.5 238.7 156.0 236.9 158.9 235.0 161.8 233.1 164.7 231.1 167.5 229.1 170.1 226.9 172.8 224.6 175.5 222.3 178.0 220.0 180.4 217.6 182.8 215.2 185.0 212.5 187.2 209.3 189.5 205.8 192.0 202.2 194.4 198.7 196.8 195.6 199.0 193.1 200.8 191.0 202.2 189.2 203.5 187.4 204.8 185.6 206.1 183.7 207.5 181.8 209.0 179.9 210.5 178.0 212.0 176.1 213.5 174.2 215.1 172.4 216.6Z" fill="url(#g58)" filter="url(#b11)"/><path class="l" d="M173.6 232.3 186.1 237.1 188.2 236.0 190.3 234.8 192.4 233.6 194.5 232.4 196.6 231.2 198.6 230.0 200.5 228.9 202.4 227.8 204.2 226.7 206.2 225.5 208.5 224.1 211.1 222.4 214.1 220.6 217.6 218.4 221.5 216.0 225.6 213.4 229.7 210.6 233.6 207.7 237.1 204.8 240.4 201.8 243.5 198.8 246.5 195.9 249.2 193.0 252.0 190.1 254.8 187.0 257.5 183.8 260.1 180.7 262.6 177.7 264.8 174.9 266.8 172.4 268.6 170.3 270.2 168.2 271.8 166.2 273.2 164.2 274.7 162.0 276.0 159.7 277.2 157.2 278.3 154.8 279.1 152.3 279.9 149.9 280.4 147.5 280.9 144.9 281.2 142.2 281.2 139.4 281.1 137.0 280.9 134.8 280.6 133.0 280.2 131.1 279.7 129.0 278.9 126.9 278.1 125.3 277.5 124.2 277.0 123.5 276.6 122.9 258.9 118.1 248.4 133.1 248.7 134.4 249.0 135.6 249.1 136.4 249.0 136.7 248.8 136.7 248.8 136.9 248.8 137.7 248.9 138.7 249.0 139.5 249.1 140.2 249.1 140.7 249.1 141.1 249.1 141.7 249.0 142.5 248.8 143.4 248.6 144.3 248.3 145.3 248.0 146.3 247.6 147.4 247.1 148.6 246.5 149.9 245.7 151.4 244.6 153.3 243.2 155.6 241.6 158.1 239.8 160.9 237.8 163.9 235.8 166.8 233.7 169.6 231.6 172.3 229.4 175.0 227.0 177.7 224.7 180.3 222.2 182.8 219.8 185.2 217.2 187.5 214.4 189.8 211.1 192.2 207.6 194.7 203.9 197.1 200.4 199.4 197.3 201.6 194.8 203.3 192.7 204.8 190.8 206.1 189.1 207.3 187.3 208.6 185.4 210.0 183.4 211.5 181.5 212.9 179.6 214.4 177.7 215.9 175.8 217.4 173.9 218.9Z" fill="url(#g59)" filter="url(#b9)"/><path class="l" d="M178.4 229.1 181.5 230.3 183.5 229.0 185.6 227.7 187.6 226.4 189.6 225.1 191.6 223.8 193.7 222.5 195.6 221.3 197.4 220.1 199.2 219.0 201.2 217.7 203.4 216.3 205.9 214.6 209.0 212.6 212.5 210.4 216.3 208.0 220.2 205.4 224.0 202.8 227.4 200.1 230.6 197.4 233.6 194.7 236.5 191.9 239.2 189.1 241.8 186.2 244.3 183.4 246.9 180.5 249.4 177.4 251.8 174.4 254.0 171.4 256.1 168.6 257.9 166.1 259.6 163.9 261.0 161.9 262.3 160.1 263.5 158.3 264.5 156.5 265.5 154.7 266.4 152.8 267.1 150.9 267.8 149.0 268.3 147.1 268.7 145.3 269.0 143.5 269.1 141.6 269.2 139.7 269.1 137.9 268.9 136.3 268.7 134.7 268.4 133.3 268.1 131.9 267.7 130.6 267.2 129.4 266.8 128.5 266.4 127.6 266.0 126.7 261.6 125.5 259.0 129.3 259.3 130.3 259.7 131.3 260.0 132.2 260.2 133.0 260.4 133.8 260.6 134.7 260.7 135.9 260.9 137.2 261.1 138.6 261.1 139.9 261.1 141.2 261.0 142.5 260.8 143.9 260.5 145.3 260.2 146.8 259.7 148.2 259.2 149.8 258.5 151.3 257.8 152.9 256.9 154.4 256.0 156.0 254.9 157.7 253.6 159.7 252.1 161.9 250.3 164.4 248.3 167.2 246.2 170.2 244.0 173.2 241.6 176.1 239.3 179.0 236.8 181.8 234.3 184.5 231.7 187.3 229.1 189.9 226.3 192.5 223.4 195.1 220.1 197.6 216.5 200.1 212.8 202.7 209.1 205.1 205.6 207.4 202.5 209.4 199.9 211.1 197.8 212.6 195.9 213.8 194.1 215.0 192.3 216.2 190.3 217.5 188.3 218.9 186.4 220.2 184.4 221.6 182.4 223.0 180.4 224.3 178.5 225.7Z" fill="url(#g60)" filter="url(#b7)"/><ellipse cx="244.2" cy="141.2" rx="5.5" ry="2.6" fill="#000" fill-opacity="0.950" filter="url(#b3)"/><ellipse cx="238.0" cy="156.0" rx="2.5" ry="2.0" fill="#000" fill-opacity="0.600" filter="url(#b3)"/><path class="l" d="M327.9 185.3 337.1 185.4 338.9 183.5 340.6 181.5 342.3 179.7 343.8 178.1 345.3 176.8 346.8 175.5 348.5 174.0 350.1 172.6 351.5 171.5 352.9 170.5 354.5 169.6 356.6 168.6 359.4 167.4 362.8 166.2 366.4 165.0 370.0 164.0 373.4 163.3 376.5 163.0 379.4 163.0 382.7 163.4 386.2 164.0 389.6 164.8 392.9 165.8 395.9 166.8 398.4 167.9 400.7 169.1 402.9 170.6 405.1 172.1 407.3 173.9 409.5 175.6 411.5 177.3 413.4 179.0 415.2 180.9 417.1 182.9 418.9 185.0 420.7 186.9 422.4 188.7 423.9 190.3 425.3 191.9 426.6 193.4 427.9 195.0 429.2 196.4 430.3 197.7 431.3 198.8 432.3 200.0 433.3 201.3 434.4 202.6 435.5 204.0 443.1 204.8 446.5 198.0 446.0 196.4 445.6 194.9 445.1 193.2 444.5 191.5 443.7 189.6 442.8 187.6 441.9 185.7 440.8 183.7 439.6 181.6 438.3 179.5 436.8 177.3 435.3 175.1 433.6 172.9 431.8 170.5 429.8 168.0 427.6 165.4 425.1 162.8 422.5 160.4 419.8 158.2 417.1 156.0 414.1 153.9 410.7 151.8 407.0 149.8 403.1 148.2 399.1 146.8 394.8 145.5 390.2 144.4 385.5 143.6 380.6 143.1 375.5 143.0 370.5 143.5 365.5 144.5 360.6 145.8 356.1 147.2 352.0 148.8 348.2 150.4 344.8 152.2 341.7 154.2 339.0 156.4 336.8 158.5 335.0 160.5 333.2 162.5 331.4 164.9 329.7 167.5 328.3 169.9 327.1 172.3 326.1 174.5 324.9 176.6Z" fill="url(#g61)" filter="url(#b8)"/><path class="l" d="M328.5 184.4 335.9 184.5 337.6 182.6 339.3 180.6 340.9 178.8 342.4 177.1 343.9 175.6 345.4 174.2 347.1 172.6 348.8 171.2 350.3 169.9 351.8 168.8 353.5 167.8 355.7 166.8 358.6 165.6 362.1 164.3 365.8 163.1 369.5 162.1 373.1 161.3 376.4 161.0 379.5 161.0 383.0 161.4 386.6 162.0 390.1 162.9 393.5 163.9 396.6 165.0 399.2 166.1 401.7 167.4 404.0 168.9 406.3 170.5 408.6 172.3 410.8 174.1 412.9 175.8 414.8 177.7 416.7 179.6 418.6 181.7 420.4 183.8 422.2 185.7 423.8 187.5 425.3 189.2 426.7 190.9 428.0 192.5 429.3 194.0 430.5 195.5 431.6 196.8 432.6 198.1 433.6 199.3 434.6 200.6 435.6 202.0 436.6 203.4 442.7 204.1 445.4 198.6 444.8 197.1 444.3 195.5 443.8 193.9 443.2 192.2 442.4 190.4 441.5 188.5 440.5 186.6 439.4 184.6 438.2 182.6 436.8 180.6 435.4 178.4 433.8 176.3 432.2 174.1 430.4 171.7 428.4 169.3 426.2 166.8 423.8 164.3 421.2 161.9 418.6 159.8 415.9 157.6 412.9 155.6 409.7 153.5 406.2 151.7 402.4 150.0 398.4 148.7 394.3 147.4 389.8 146.4 385.2 145.5 380.5 145.1 375.6 145.0 370.8 145.5 365.9 146.4 361.2 147.7 356.8 149.1 352.7 150.7 349.1 152.2 345.8 153.9 342.8 155.9 340.3 157.9 338.2 159.9 336.3 161.8 334.6 163.8 332.7 166.1 331.1 168.5 329.7 170.9 328.5 173.2 327.3 175.4 326.1 177.5Z" fill="url(#g62)" filter="url(#b8)"/><path class="l" d="M329.8 182.7 333.4 182.8 335.0 180.8 336.6 178.8 338.1 176.8 339.6 174.9 341.1 173.2 342.7 171.6 344.4 169.9 346.1 168.4 347.8 166.9 349.6 165.6 351.6 164.4 354.1 163.1 357.2 161.8 360.8 160.5 364.7 159.2 368.6 158.1 372.5 157.4 376.2 157.0 379.8 157.0 383.5 157.4 387.4 158.1 391.2 159.0 394.8 160.1 398.1 161.2 401.0 162.5 403.7 163.9 406.2 165.6 408.7 167.3 411.1 169.2 413.4 171.0 415.6 172.9 417.6 174.9 419.6 177.1 421.5 179.2 423.3 181.3 425.1 183.4 426.7 185.3 428.2 187.1 429.6 188.8 430.9 190.5 432.1 192.2 433.3 193.8 434.3 195.2 435.3 196.6 436.1 198.0 437.0 199.4 437.9 200.8 438.8 202.2 441.8 202.5 443.2 199.8 442.5 198.3 441.9 196.8 441.2 195.3 440.5 193.7 439.7 192.0 438.7 190.2 437.7 188.4 436.5 186.6 435.3 184.7 434.0 182.7 432.5 180.7 430.9 178.6 429.2 176.5 427.4 174.2 425.5 171.9 423.3 169.5 421.0 167.2 418.6 165.0 416.1 162.9 413.5 160.9 410.7 158.9 407.7 157.0 404.4 155.3 400.9 153.8 397.2 152.5 393.2 151.3 389.0 150.3 384.7 149.5 380.2 149.1 375.8 149.0 371.3 149.5 366.8 150.3 362.4 151.5 358.1 152.9 354.2 154.4 350.7 155.9 347.7 157.4 345.1 159.1 342.8 160.9 340.8 162.7 339.0 164.5 337.3 166.4 335.5 168.5 333.9 170.7 332.5 172.9 331.2 175.1 329.9 177.2 328.6 179.2Z" fill="url(#g63)" filter="url(#b7)"/><ellipse class="l" cx="366.0" cy="171.0" rx="30.0" ry="10.0" fill="#3d3d3d" filter="url(#b9)" transform="rotate(-20.0 366.0 171.0)"/><path class="l" d="M276.0 223.9 282.6 227.7 285.4 226.6 288.1 225.4 290.6 224.3 293.0 223.4 295.4 222.7 297.8 222.3 300.6 222.2 303.9 222.3 307.5 222.5 311.3 222.8 315.1 223.0 318.5 223.0 321.4 222.9 323.8 222.7 326.2 222.5 328.6 222.0 331.2 221.3 333.9 220.3 336.5 219.1 338.9 217.7 341.0 216.4 342.8 215.0 344.8 213.6 347.2 211.9 350.5 209.7 354.3 207.0 358.4 204.2 362.4 201.4 366.2 198.9 369.6 196.9 372.5 195.3 375.3 194.0 378.1 192.9 380.9 191.9 383.7 190.9 386.6 190.0 389.4 189.1 392.1 188.4 394.8 187.8 397.2 187.3 399.4 187.0 401.1 186.8 402.4 186.7 403.1 186.7 403.4 186.7 403.6 186.8 404.3 186.9 405.4 187.1 406.6 187.4 408.1 187.8 409.8 188.4 411.5 189.0 413.3 189.8 415.0 190.5 416.6 191.2 418.3 192.0 420.0 193.0 421.8 194.0 423.6 195.1 425.3 196.1 426.9 197.1 428.5 198.0 429.9 199.0 431.4 199.9 432.7 200.8 434.0 201.8 435.2 202.6 436.3 203.6 437.4 204.5 438.4 205.5 439.5 206.6 440.7 207.6 447.5 207.0 449.3 200.4 448.5 199.1 447.7 197.9 446.9 196.6 446.0 195.2 445.0 193.7 444.0 192.2 442.9 190.7 441.8 189.2 440.6 187.7 439.4 186.1 438.1 184.4 436.7 182.9 435.3 181.2 433.8 179.6 432.2 177.8 430.4 176.0 428.4 174.2 426.4 172.5 424.3 170.9 422.1 169.4 419.8 168.0 417.5 166.7 415.0 165.5 412.6 164.5 410.4 163.8 408.2 163.2 405.7 162.8 403.1 162.7 400.5 162.9 397.9 163.2 395.0 163.8 392.0 164.5 388.9 165.4 385.7 166.4 382.6 167.5 379.4 168.6 376.4 169.7 373.3 170.8 370.0 172.1 366.5 173.5 362.8 175.2 358.8 177.1 354.6 179.4 350.1 182.1 345.7 184.8 341.4 187.6 337.5 190.0 334.2 192.1 331.4 193.9 329.1 195.4 327.3 196.6 326.1 197.5 325.1 198.1 324.1 198.7 323.0 199.2 322.1 199.7 321.0 200.2 319.6 200.7 317.7 201.3 315.5 202.0 312.9 202.8 309.7 203.6 306.0 204.5 302.0 205.4 298.0 206.5 294.2 207.7 290.7 209.1 287.5 210.6 284.7 212.1 282.2 213.6 279.8 215.0 277.4 216.3Z" fill="url(#g64)" filter="url(#b9)"/><path class="l" d="M276.8 223.5 282.1 226.5 284.9 225.4 287.5 224.2 290.0 223.1 292.5 222.1 294.9 221.3 297.5 220.8 300.3 220.6 303.7 220.6 307.4 220.7 311.1 220.9 314.8 221.0 318.2 220.9 321.0 220.7 323.3 220.5 325.6 220.2 328.0 219.8 330.4 219.1 332.9 218.2 335.4 217.0 337.6 215.7 339.6 214.4 341.4 213.1 343.4 211.6 345.9 209.9 349.2 207.7 353.0 205.1 357.1 202.2 361.2 199.5 365.1 196.9 368.5 194.9 371.5 193.3 374.5 192.0 377.3 190.8 380.1 189.8 383.0 188.8 385.9 187.8 388.7 187.0 391.5 186.2 394.2 185.6 396.7 185.0 398.9 184.7 400.8 184.4 402.2 184.3 403.1 184.3 403.6 184.3 404.1 184.4 404.9 184.6 406.1 184.8 407.5 185.2 409.0 185.7 410.8 186.4 412.6 187.1 414.4 187.9 416.2 188.7 417.8 189.5 419.5 190.4 421.2 191.5 423.0 192.6 424.7 193.7 426.4 194.8 428.0 195.9 429.6 196.9 431.0 197.8 432.4 198.8 433.8 199.8 435.0 200.8 436.2 201.8 437.3 202.7 438.3 203.7 439.4 204.7 440.4 205.8 441.6 206.9 447.0 206.4 448.4 201.1 447.6 199.9 446.8 198.6 445.9 197.4 445.0 196.0 444.0 194.6 443.0 193.2 441.9 191.7 440.7 190.3 439.5 188.8 438.3 187.3 436.9 185.7 435.6 184.2 434.1 182.6 432.6 181.0 430.9 179.3 429.2 177.6 427.2 175.9 425.2 174.3 423.2 172.8 421.1 171.4 418.8 170.0 416.5 168.8 414.2 167.7 411.9 166.8 409.8 166.1 407.8 165.6 405.5 165.2 403.1 165.1 400.7 165.3 398.2 165.6 395.4 166.1 392.5 166.8 389.5 167.7 386.4 168.6 383.2 169.7 380.1 170.8 377.1 171.8 374.0 172.9 370.8 174.2 367.3 175.6 363.7 177.2 359.9 179.1 355.8 181.4 351.4 184.0 346.9 186.8 342.7 189.5 338.8 192.0 335.5 194.1 332.7 195.8 330.4 197.4 328.7 198.6 327.3 199.5 326.3 200.2 325.1 200.8 323.8 201.4 322.7 201.9 321.5 202.4 320.0 202.9 318.1 203.4 315.8 204.1 313.1 204.8 309.8 205.5 306.1 206.3 302.2 207.1 298.3 208.1 294.5 209.2 291.1 210.5 288.1 211.9 285.3 213.4 282.8 214.8 280.4 216.1 277.9 217.5Z" fill="url(#g65)" filter="url(#b6)"/><path class="l" d="M279.0 222.4 280.6 223.4 283.3 222.2 285.9 220.9 288.4 219.7 291.0 218.5 293.6 217.5 296.4 216.7 299.6 216.2 303.2 215.9 306.9 215.7 310.7 215.5 314.2 215.3 317.4 215.0 320.0 214.7 322.2 214.4 324.2 214.0 326.1 213.5 328.1 212.9 330.2 212.1 332.2 211.1 334.0 210.0 335.8 208.9 337.6 207.6 339.7 206.1 342.3 204.4 345.5 202.2 349.4 199.6 353.5 196.8 357.8 194.1 361.8 191.5 365.5 189.4 368.8 187.7 372.0 186.2 375.0 185.0 378.0 183.9 380.9 182.8 383.9 181.9 386.8 180.9 389.7 180.1 392.5 179.3 395.2 178.7 397.7 178.2 399.9 177.8 401.7 177.6 403.1 177.6 404.3 177.6 405.4 177.8 406.6 178.1 408.1 178.5 409.8 179.1 411.7 179.8 413.6 180.6 415.6 181.6 417.5 182.6 419.3 183.7 421.1 184.7 422.9 185.9 424.6 187.2 426.3 188.5 428.0 189.8 429.6 191.1 431.2 192.3 432.6 193.5 434.0 194.7 435.3 195.8 436.6 197.0 437.8 198.1 438.9 199.3 440.0 200.4 441.0 201.5 442.0 202.6 442.9 203.7 444.0 204.9 445.6 204.7 446.0 203.1 445.1 201.9 444.2 200.8 443.3 199.6 442.3 198.4 441.3 197.1 440.2 195.9 439.0 194.6 437.8 193.3 436.5 192.0 435.2 190.6 433.8 189.3 432.4 187.9 430.8 186.5 429.2 185.0 427.5 183.6 425.8 182.1 423.9 180.7 422.1 179.3 420.1 178.1 418.1 176.9 416.0 175.8 413.9 174.7 411.8 173.8 409.9 173.1 408.1 172.6 406.5 172.2 404.8 171.9 403.1 171.8 401.2 171.9 399.1 172.2 396.7 172.6 394.0 173.2 391.1 173.9 388.2 174.8 385.1 175.7 382.1 176.7 379.2 177.8 376.2 178.8 373.1 180.0 369.8 181.3 366.5 182.8 362.9 184.6 359.0 186.8 354.8 189.4 350.5 192.2 346.3 194.9 342.4 197.5 339.1 199.6 336.5 201.4 334.3 202.9 332.5 204.1 330.9 205.2 329.5 206.1 327.8 206.9 326.1 207.6 324.6 208.2 323.0 208.6 321.2 209.1 319.1 209.5 316.6 210.0 313.7 210.5 310.3 210.9 306.6 211.3 302.7 211.8 299.0 212.4 295.6 213.3 292.5 214.3 289.6 215.5 287.0 216.8 284.4 218.1 281.9 219.4 279.4 220.6Z" fill="url(#g66)" filter="url(#b5)"/><ellipse cx="343.0" cy="180.0" rx="6.5" ry="3.2" fill="#000" fill-opacity="0.950" filter="url(#b4)"/><ellipse cx="359.5" cy="169.4" rx="5.5" ry="2.8" fill="#000" fill-opacity="0.950" filter="url(#b4)"/><ellipse cx="378.3" cy="164.7" rx="4.5" ry="2.6" fill="#000" fill-opacity="0.900" filter="url(#b3)"/><ellipse cx="330.0" cy="193.0" rx="3.0" ry="2.0" fill="#000" fill-opacity="0.700" filter="url(#b3)"/><path class="l" d="M403.4 231.5 411.5 235.6 414.2 234.7 416.9 233.8 419.5 232.8 422.2 231.9 425.0 230.9 427.8 229.8 430.6 228.7 433.4 227.5 436.3 226.3 439.3 225.0 442.4 223.6 445.6 222.0 448.9 220.2 452.2 218.3 455.5 216.3 458.8 214.3 461.9 212.4 464.9 210.6 467.7 209.0 470.5 207.3 473.2 205.7 475.9 204.0 478.6 202.4 481.4 200.7 482.5 185.5 468.6 179.3 465.8 180.9 463.1 182.5 460.4 184.1 457.6 185.8 454.7 187.5 451.7 189.4 448.6 191.4 445.5 193.4 442.3 195.6 439.2 197.7 436.2 199.7 433.4 201.6 430.8 203.4 428.2 205.2 425.7 207.0 423.2 208.7 420.7 210.5 418.2 212.2 415.8 213.9 413.6 215.6 411.3 217.3 409.0 219.0 406.8 220.7 404.5 222.4Z" fill="url(#g67)" filter="url(#b10)"/><path class="l" d="M404.3 231.0 410.8 234.3 413.5 233.3 416.1 232.3 418.7 231.3 421.4 230.3 424.1 229.2 426.8 228.0 429.6 226.9 432.4 225.6 435.3 224.4 438.2 223.0 441.3 221.6 444.4 220.0 447.6 218.2 450.9 216.2 454.2 214.3 457.4 212.3 460.6 210.3 463.5 208.5 466.4 206.8 469.2 205.1 471.9 203.5 474.6 201.9 477.4 200.2 480.1 198.6 481.0 186.4 469.9 181.4 467.1 183.0 464.4 184.7 461.7 186.3 458.9 187.9 456.0 189.7 453.1 191.5 450.0 193.5 446.8 195.5 443.6 197.6 440.5 199.7 437.5 201.8 434.6 203.6 431.9 205.4 429.3 207.2 426.7 208.9 424.2 210.6 421.7 212.3 419.2 214.0 416.8 215.6 414.4 217.3 412.1 218.9 409.8 220.5 407.5 222.1 405.2 223.7Z" fill="url(#g68)" filter="url(#b7)"/><path class="l" d="M406.9 229.6 408.8 230.6 411.4 229.4 413.9 228.2 416.4 226.9 418.9 225.7 421.5 224.4 424.1 223.1 426.8 221.8 429.5 220.4 432.3 219.0 435.1 217.5 438.0 215.9 441.0 214.2 444.0 212.4 447.2 210.5 450.5 208.4 453.7 206.4 456.9 204.4 459.9 202.6 462.8 200.8 465.6 199.1 468.3 197.5 471.0 195.9 473.8 194.2 476.5 192.6 476.8 188.9 473.5 187.4 470.7 189.1 468.0 190.7 465.2 192.3 462.5 194.0 459.6 195.7 456.7 197.4 453.7 199.4 450.5 201.4 447.3 203.5 444.1 205.5 441.0 207.5 438.0 209.4 435.2 211.1 432.4 212.7 429.7 214.3 427.1 215.9 424.4 217.4 421.9 218.9 419.3 220.4 416.8 221.8 414.4 223.2 412.0 224.6 409.6 226.0 407.2 227.4Z" fill="url(#g69)" filter="url(#b6)"/><ellipse class="l" cx="452.0" cy="185.0" rx="7.0" ry="6.0" fill="#292929" filter="url(#b6)"/><ellipse cx="441.8" cy="194.0" rx="4.0" ry="2.4" fill="#000" fill-opacity="0.900" filter="url(#b3)"/></g></g><rect x="95.7" y="2.4" width="616.9" height="425.8" fill="none" stroke="#000" stroke-width="1.5"/><path d="M151.8 428.2v-6.5M151.8 2.4v6.5M207.8 428.2v-6.5M207.8 2.4v6.5M263.9 428.2v-6.5M263.9 2.4v6.5M320.0 428.2v-6.5M320.0 2.4v6.5M376.0 428.2v-6.5M376.0 2.4v6.5M432.1 428.2v-6.5M432.1 2.4v6.5M488.2 428.2v-6.5M488.2 2.4v6.5M544.3 428.2v-6.5M544.3 2.4v6.5M600.3 428.2v-6.5M600.3 2.4v6.5M656.4 428.2v-6.5M656.4 2.4v6.5M95.7 380.9h6.5M712.6 380.9h-6.5M95.7 333.6h6.5M712.6 333.6h-6.5M95.7 286.3h6.5M712.6 286.3h-6.5M95.7 239.0h6.5M712.6 239.0h-6.5M95.7 191.6h6.5M712.6 191.6h-6.5M95.7 144.3h6.5M712.6 144.3h-6.5M95.7 97.0h6.5M712.6 97.0h-6.5M95.7 49.7h6.5M712.6 49.7h-6.5" stroke="#000" stroke-width="1.1" fill="none"/><text x="95.7" y="470.3" text-anchor="middle">0</text><text x="151.8" y="470.3" text-anchor="middle">100</text><text x="263.9" y="470.3" text-anchor="middle">300</text><text x="376.0" y="470.3" text-anchor="middle">500</text><text x="488.2" y="470.3" text-anchor="middle">700</text><text x="600.3" y="470.3" text-anchor="middle">900</text><text x="714.0" y="470.3" text-anchor="middle">1100</text><text x="86.4" y="441.0" text-anchor="end">10</text><text x="86.4" y="346.4" text-anchor="end">30</text><text x="86.4" y="251.8" text-anchor="end">50</text><text x="86.4" y="157.1" text-anchor="end">70</text><text x="86.4" y="62.5" text-anchor="end">90</text><text x="404" y="509" text-anchor="middle" font-size="38">Time (a.u.)</text><text transform="translate(28.8 215.3) rotate(-90)" text-anchor="middle" font-size="38.2">Harmonic order</text><rect x="753.9" y="2.4" width="55.1" height="425.80" fill="#2b2f87"/><rect x="753.9" y="2.4" width="55.1" height="419.15" fill="#2d308f"/><rect x="753.9" y="2.4" width="55.1" height="412.49" fill="#2f3594"/><rect x="753.9" y="2.4" width="55.1" height="405.84" fill="#323b96"/><rect x="753.9" y="2.4" width="55.1" height="399.19" fill="#344199"/><rect x="753.9" y="2.4" width="55.1" height="392.53" fill="#37479c"/><rect x="753.9" y="2.4" width="55.1" height="385.88" fill="#384b9f"/><rect x="753.9" y="2.4" width="55.1" height="379.23" fill="#3950a2"/><rect x="753.9" y="2.4" width="55.1" height="372.57" fill="#3b54a4"/><rect x="753.9" y="2.4" width="55.1" height="365.92" fill="#3c57a7"/><rect x="753.9" y="2.4" width="55.1" height="359.27" fill="#3d5aa9"/><rect x="753.9" y="2.4" width="55.1" height="352.62" fill="#3d5dab"/><rect x="753.9" y="2.4" width="55.1" height="345.96" fill="#3e60ad"/><rect x="753.9" y="2.4" width="55.1" height="339.31" fill="#4065b0"/><rect x="753.9" y="2.4" width="55.1" height="332.66" fill="#426fb7"/><rect x="753.9" y="2.4" width="55.1" height="326.00" fill="#447abe"/><rect x="753.9" y="2.4" width="55.1" height="319.35" fill="#4685c5"/><rect x="753.9" y="2.4" width="55.1" height="312.70" fill="#4593cf"/><rect x="753.9" y="2.4" width="55.1" height="306.04" fill="#45a0d8"/><rect x="753.9" y="2.4" width="55.1" height="299.39" fill="#3db2e6"/><rect x="753.9" y="2.4" width="55.1" height="292.74" fill="#35c3f3"/><rect x="753.9" y="2.4" width="55.1" height="286.08" fill="#4bc6eb"/><rect x="753.9" y="2.4" width="55.1" height="279.43" fill="#60c9e4"/><rect x="753.9" y="2.4" width="55.1" height="272.78" fill="#6dcadb"/><rect x="753.9" y="2.4" width="55.1" height="266.12" fill="#6fc9cf"/><rect x="753.9" y="2.4" width="55.1" height="259.47" fill="#72c8c4"/><rect x="753.9" y="2.4" width="55.1" height="252.82" fill="#77c8b4"/><rect x="753.9" y="2.4" width="55.1" height="246.17" fill="#7cc8a3"/><rect x="753.9" y="2.4" width="55.1" height="239.51" fill="#81c892"/><rect x="753.9" y="2.4" width="55.1" height="232.86" fill="#88c982"/><rect x="753.9" y="2.4" width="55.1" height="226.21" fill="#91cb72"/><rect x="753.9" y="2.4" width="55.1" height="219.55" fill="#9acd62"/><rect x="753.9" y="2.4" width="55.1" height="212.90" fill="#a3cf52"/><rect x="753.9" y="2.4" width="55.1" height="206.25" fill="#a9d046"/><rect x="753.9" y="2.4" width="55.1" height="199.59" fill="#afd13b"/><rect x="753.9" y="2.4" width="55.1" height="192.94" fill="#bad531"/><rect x="753.9" y="2.4" width="55.1" height="186.29" fill="#cada29"/><rect x="753.9" y="2.4" width="55.1" height="179.63" fill="#d9e023"/><rect x="753.9" y="2.4" width="55.1" height="172.98" fill="#e4e521"/><rect x="753.9" y="2.4" width="55.1" height="166.33" fill="#f0e920"/><rect x="753.9" y="2.4" width="55.1" height="159.67" fill="#f9eb1d"/><rect x="753.9" y="2.4" width="55.1" height="153.02" fill="#fcdf0f"/><rect x="753.9" y="2.4" width="55.1" height="146.37" fill="#ffd301"/><rect x="753.9" y="2.4" width="55.1" height="139.72" fill="#fdc307"/><rect x="753.9" y="2.4" width="55.1" height="133.06" fill="#fbb20f"/><rect x="753.9" y="2.4" width="55.1" height="126.41" fill="#f9a217"/><rect x="753.9" y="2.4" width="55.1" height="119.76" fill="#f7921d"/><rect x="753.9" y="2.4" width="55.1" height="113.10" fill="#f6861f"/><rect x="753.9" y="2.4" width="55.1" height="106.45" fill="#f47a20"/><rect x="753.9" y="2.4" width="55.1" height="99.80" fill="#f36e22"/><rect x="753.9" y="2.4" width="55.1" height="93.14" fill="#f26223"/><rect x="753.9" y="2.4" width="55.1" height="86.49" fill="#f15624"/><rect x="753.9" y="2.4" width="55.1" height="79.84" fill="#f04b24"/><rect x="753.9" y="2.4" width="55.1" height="73.18" fill="#ef3f24"/><rect x="753.9" y="2.4" width="55.1" height="66.53" fill="#ef3324"/><rect x="753.9" y="2.4" width="55.1" height="59.88" fill="#ee2824"/><rect x="753.9" y="2.4" width="55.1" height="53.23" fill="#ed1c24"/><rect x="753.9" y="2.4" width="55.1" height="46.57" fill="#dc1d24"/><rect x="753.9" y="2.4" width="55.1" height="39.92" fill="#cc1d23"/><rect x="753.9" y="2.4" width="55.1" height="33.27" fill="#bb1e23"/><rect x="753.9" y="2.4" width="55.1" height="26.61" fill="#ab1d22"/><rect x="753.9" y="2.4" width="55.1" height="19.96" fill="#9e1c20"/><rect x="753.9" y="2.4" width="55.1" height="13.31" fill="#911a1e"/><rect x="753.9" y="2.4" width="55.1" height="6.65" fill="#84181b"/><rect x="753.9" y="2.4" width="55.1" height="425.8" fill="none" stroke="#000" stroke-width="1.5"/><path d="M753.9 343.0h4M809.0 343.0h-4M753.9 257.9h4M809.0 257.9h-4M753.9 172.7h4M809.0 172.7h-4M753.9 87.6h4M809.0 87.6h-4" stroke="#000" stroke-width="1.1" fill="none"/><text x="816.6" y="441.7"><tspan dy="3">−</tspan><tspan dy="-3" dx="0.6">10</tspan></text><text x="816.6" y="271.4"><tspan dy="3">−</tspan><tspan dy="-3" dx="0.6">9</tspan></text><text x="816.6" y="101.1"><tspan dy="3">−</tspan><tspan dy="-3" dx="0.6">8</tspan></text><rect x="204.0" y="13.6" width="253.4" height="201.0" fill="none" stroke="#fff" stroke-width="1.8"/><path d="M288.5 214.6v-2.8M288.5 13.6v2.8M372.9 214.6v-2.8M372.9 13.6v2.8M204.0 192.3h2.8M457.4 192.3h-2.8M204.0 169.9h2.8M457.4 169.9h-2.8M204.0 147.6h2.8M457.4 147.6h-2.8M204.0 125.3h2.8M457.4 125.3h-2.8M204.0 102.9h2.8M457.4 102.9h-2.8M204.0 80.6h2.8M457.4 80.6h-2.8M204.0 58.3h2.8M457.4 58.3h-2.8M204.0 35.9h2.8M457.4 35.9h-2.8" stroke="#fff" stroke-width="1.1" fill="none"/><g class="w" font-size="21.5" fill="#fff"><text x="204.0" y="242.3" text-anchor="middle">280</text><text x="288.5" y="242.3" text-anchor="middle">320</text><text x="372.9" y="242.3" text-anchor="middle">360</text><text x="457.4" y="242.3" text-anchor="middle">400</text><text x="195.2" y="222.4" text-anchor="end">10</text><text x="195.2" y="177.7" text-anchor="end">30</text><text x="195.2" y="133.1" text-anchor="end">50</text><text x="195.2" y="88.4" text-anchor="end">70</text><text x="195.2" y="43.7" text-anchor="end">90</text></g><text class="w" x="112" y="45" fill="#fff">(b)</text></g>
<g transform="translate(0.0 587.1)"><g clip-path="url(#cpm)"><g filter="url(#cm)"><rect x="65.7" y="-27.6" width="676.9" height="485.8" fill="#000"/><use href="#sct" x="-248.0"/><use href="#sct" x="-186.0"/><use href="#sct" x="-124.0"/><use href="#sct" x="-62.0"/><use href="#sct" x="0.0"/><use href="#sct" x="62.3"/><use href="#sca" x="-248.0" y="0.0"/><use href="#sca" x="-186.0" y="0.0"/><use href="#sca" x="-124.0" y="0.0"/><use href="#sca" x="-62.0" y="0.0"/><use href="#sca" x="0.0" y="0.0"/><use href="#sca" x="61.5" y="7.0"/><path class="l" d="M239.2 385.5 248.5 378.6 248.4 376.3 248.4 373.9 248.4 371.5 248.3 369.1 248.2 366.8 248.1 364.5 247.9 362.4 247.7 360.3 247.4 358.3 247.1 356.3 246.8 354.4 246.5 352.5 246.2 350.4 245.8 348.4 245.5 346.3 245.1 344.3 244.7 342.4 244.4 340.6 244.0 338.9 243.7 337.3 243.3 335.9 242.9 334.5 242.6 333.1 242.2 331.8 242.0 330.5 241.7 329.2 241.5 327.9 241.2 326.6 241.0 325.2 240.7 323.9 237.0 321.3 233.3 323.9 233.0 325.2 232.7 326.5 232.5 327.8 232.2 329.2 232.0 330.6 231.8 332.0 231.5 333.5 231.3 335.0 231.0 336.4 230.8 338.0 230.6 339.6 230.4 341.2 230.2 343.1 230.1 345.1 229.9 347.1 229.8 349.2 229.6 351.3 229.5 353.3 229.4 355.3 229.3 357.3 229.2 359.3 229.2 361.2 229.1 363.2 229.1 365.3 229.1 367.4 229.2 369.7 229.3 372.0 229.3 374.4 229.4 376.8 229.5 379.2Z" fill="url(#g87)" filter="url(#b7)"/><path class="l" d="M239.1 384.2 246.6 378.7 246.5 376.3 246.5 374.0 246.5 371.6 246.4 369.2 246.3 366.9 246.2 364.6 246.0 362.4 245.8 360.4 245.6 358.4 245.3 356.4 245.1 354.5 244.8 352.6 244.5 350.5 244.2 348.5 243.9 346.4 243.6 344.4 243.3 342.4 243.0 340.6 242.7 338.9 242.4 337.4 242.1 335.9 241.8 334.5 241.5 333.2 241.2 331.8 241.0 330.5 240.8 329.2 240.6 327.9 240.4 326.6 240.2 325.2 240.0 323.9 237.0 321.8 234.0 323.9 233.8 325.2 233.6 326.5 233.4 327.8 233.2 329.2 233.0 330.6 232.8 332.0 232.6 333.5 232.4 334.9 232.3 336.4 232.1 337.9 231.9 339.5 231.8 341.2 231.7 343.0 231.6 345.0 231.5 347.0 231.4 349.1 231.3 351.2 231.2 353.2 231.1 355.2 231.1 357.2 231.0 359.2 231.0 361.1 231.0 363.1 231.0 365.2 231.0 367.4 231.1 369.6 231.2 372.0 231.2 374.4 231.3 376.7 231.4 379.1Z" fill="url(#g88)" filter="url(#b5)"/><path class="l" d="M239.1 380.8 241.7 378.8 241.7 376.5 241.6 374.1 241.6 371.7 241.5 369.3 241.4 367.0 241.3 364.8 241.2 362.7 241.1 360.6 240.9 358.6 240.8 356.7 240.6 354.7 240.4 352.8 240.3 350.7 240.1 348.7 239.9 346.6 239.8 344.6 239.6 342.6 239.4 340.8 239.3 339.1 239.1 337.5 238.9 336.1 238.8 334.6 238.6 333.3 238.5 331.9 238.4 330.5 238.3 329.2 238.3 327.8 238.2 326.5 238.1 325.2 238.1 323.9 237.0 323.1 235.9 323.9 235.8 325.2 235.8 326.5 235.7 327.8 235.6 329.2 235.5 330.5 235.5 331.9 235.4 333.4 235.4 334.8 235.4 336.2 235.4 337.7 235.4 339.3 235.4 341.0 235.4 342.8 235.4 344.8 235.4 346.8 235.5 348.9 235.5 351.0 235.6 353.0 235.6 355.0 235.6 357.0 235.7 358.9 235.8 360.9 235.8 362.9 235.9 365.0 235.9 367.2 236.0 369.5 236.1 371.8 236.1 374.2 236.2 376.6 236.3 379.0Z" fill="url(#g89)" filter="url(#b4)"/><path class="l" d="M219.4 438.6 226.7 434.8 226.8 433.7 227.0 432.6 227.1 431.7 227.2 430.7 227.4 429.6 227.6 428.1 228.0 426.3 228.4 424.3 228.9 422.0 229.4 419.6 230.0 417.0 230.6 414.4 231.3 411.6 232.0 408.6 232.8 405.5 233.6 402.5 234.4 399.5 235.2 396.9 236.0 394.5 236.9 392.2 237.8 389.9 238.8 387.7 239.7 385.6 240.5 383.6 241.2 381.7 241.9 380.1 242.5 378.5 243.2 376.9 243.8 375.3 244.5 373.7 239.5 366.0 230.5 368.1 229.9 369.7 229.2 371.2 228.6 372.8 227.9 374.5 227.2 376.3 226.5 378.2 225.8 380.3 225.0 382.5 224.2 384.9 223.4 387.4 222.6 390.1 221.8 392.9 221.0 395.9 220.2 399.0 219.5 402.3 218.7 405.5 218.1 408.5 217.4 411.4 216.8 414.1 216.2 416.7 215.7 419.2 215.2 421.5 214.7 423.7 214.4 425.7 214.1 427.3 213.8 428.8 213.7 430.0 213.6 431.0 213.4 432.0 213.3 433.0Z" fill="url(#g90)" filter="url(#b6)"/><path class="l" d="M219.5 437.6 225.4 434.6 225.5 433.5 225.6 432.5 225.7 431.5 225.9 430.5 226.0 429.4 226.3 427.9 226.7 426.1 227.1 424.0 227.6 421.7 228.1 419.3 228.6 416.7 229.3 414.1 229.9 411.3 230.7 408.3 231.4 405.2 232.2 402.1 233.1 399.2 233.9 396.5 234.7 394.0 235.6 391.7 236.5 389.4 237.4 387.2 238.3 385.1 239.1 383.0 239.8 381.2 240.5 379.5 241.1 377.9 241.8 376.4 242.4 374.8 243.1 373.1 239.1 367.0 231.9 368.7 231.3 370.3 230.6 371.8 230.0 373.4 229.3 375.0 228.6 376.8 227.9 378.8 227.2 380.8 226.4 383.0 225.6 385.4 224.8 387.9 223.9 390.5 223.1 393.3 222.3 396.3 221.6 399.4 220.8 402.6 220.1 405.8 219.4 408.8 218.7 411.7 218.1 414.4 217.6 417.0 217.0 419.5 216.5 421.8 216.1 424.0 215.7 425.9 215.4 427.6 215.2 429.0 215.0 430.2 214.9 431.2 214.8 432.1 214.6 433.2Z" fill="url(#g91)" filter="url(#b4)"/><path class="l" d="M219.8 435.2 221.9 434.2 222.1 433.1 222.2 432.1 222.3 431.1 222.4 430.0 222.6 428.8 222.9 427.3 223.3 425.4 223.7 423.3 224.2 421.0 224.7 418.5 225.3 416.0 225.9 413.3 226.6 410.5 227.3 407.5 228.0 404.4 228.8 401.2 229.6 398.2 230.4 395.5 231.3 392.9 232.1 390.5 233.0 388.1 233.9 385.9 234.7 383.7 235.5 381.7 236.2 379.8 236.9 378.1 237.6 376.5 238.2 374.9 238.8 373.3 239.5 371.7 238.1 369.5 235.5 370.1 234.8 371.7 234.2 373.3 233.6 374.8 232.9 376.5 232.2 378.2 231.5 380.1 230.7 382.2 229.9 384.4 229.1 386.7 228.2 389.1 227.4 391.7 226.6 394.3 225.8 397.2 225.0 400.3 224.2 403.4 223.5 406.6 222.8 409.6 222.1 412.5 221.5 415.1 220.9 417.7 220.4 420.2 219.9 422.5 219.5 424.6 219.1 426.5 218.8 428.1 218.6 429.5 218.4 430.6 218.3 431.6 218.2 432.6 218.1 433.6Z" fill="url(#g92)" filter="url(#b3)"/><path class="l" d="M237.7 370.8 234.1 378.2 234.8 379.4 235.5 380.6 236.1 381.8 236.8 382.9 237.5 384.1 238.1 385.2 238.8 386.4 239.5 387.6 240.2 388.7 240.9 389.8 241.7 391.0 242.4 392.1 243.1 393.3 243.8 394.5 244.5 395.6 245.2 396.7 245.8 397.8 246.5 398.9 247.1 399.9 247.7 401.0 248.4 402.1 249.0 403.2 249.7 404.3 250.3 405.5 257.3 406.5 260.7 400.3 260.2 399.2 259.7 398.0 259.2 396.7 258.7 395.5 258.1 394.2 257.5 392.9 256.9 391.7 256.2 390.4 255.6 389.2 254.9 388.0 254.3 386.8 253.6 385.7 253.0 384.5 252.4 383.3 251.8 382.1 251.1 380.9 250.5 379.7 249.9 378.6 249.2 377.4 248.5 376.2 247.9 375.0 247.2 373.9 246.5 372.7 245.9 371.6Z" fill="url(#g93)" filter="url(#b6)"/><path class="l" d="M238.1 371.6 235.3 377.6 236.0 378.7 236.6 379.9 237.3 381.1 238.0 382.3 238.6 383.4 239.3 384.6 240.0 385.7 240.7 386.9 241.4 388.0 242.1 389.2 242.8 390.3 243.5 391.5 244.2 392.7 244.9 393.8 245.6 395.0 246.3 396.1 247.0 397.2 247.6 398.3 248.2 399.3 248.8 400.4 249.5 401.5 250.1 402.6 250.7 403.8 251.4 404.9 256.9 405.8 259.6 400.9 259.1 399.7 258.6 398.5 258.1 397.3 257.6 396.0 257.0 394.8 256.4 393.5 255.8 392.3 255.1 391.0 254.5 389.8 253.8 388.6 253.1 387.5 252.5 386.3 251.9 385.1 251.2 383.9 250.6 382.8 250.0 381.6 249.3 380.4 248.7 379.2 248.0 378.0 247.4 376.9 246.7 375.7 246.0 374.6 245.4 373.4 244.7 372.2Z" fill="url(#g94)" filter="url(#b4)"/><path class="l" d="M239.3 373.7 238.3 375.9 239.0 377.0 239.6 378.2 240.3 379.4 241.0 380.5 241.6 381.7 242.3 382.9 243.0 384.0 243.7 385.2 244.3 386.3 245.0 387.5 245.7 388.7 246.4 389.8 247.1 391.0 247.8 392.2 248.4 393.3 249.1 394.5 249.8 395.6 250.4 396.7 251.0 397.9 251.6 399.0 252.2 400.2 252.8 401.3 253.4 402.5 254.0 403.6 256.0 403.9 257.0 402.2 256.4 401.0 255.9 399.8 255.3 398.6 254.8 397.4 254.2 396.3 253.6 395.1 252.9 393.9 252.3 392.7 251.6 391.5 251.0 390.3 250.3 389.1 249.6 388.0 249.0 386.8 248.3 385.6 247.7 384.5 247.0 383.3 246.3 382.1 245.7 380.9 245.0 379.8 244.4 378.6 243.7 377.4 243.0 376.3 242.4 375.1 241.7 373.9Z" fill="url(#g95)" filter="url(#b3)"/><path class="l" d="M244.9 341.8 243.4 343.0 243.4 344.6 243.3 346.3 243.3 347.9 243.3 349.5 243.3 351.2 243.3 353.0 243.4 354.9 243.5 356.8 243.6 358.9 243.7 360.9 243.9 363.0 244.0 365.0 246.1 366.3 248.0 364.8 248.0 362.8 247.9 360.7 247.9 358.7 247.9 356.7 247.8 354.7 247.7 352.8 247.6 351.0 247.4 349.3 247.2 347.7 247.0 346.1 246.8 344.5 246.6 342.8Z" fill="url(#g96)" filter="url(#b3)"/><path class="l" d="M625.3 439.4 634.3 435.6 634.6 434.5 634.8 433.5 635.0 432.4 635.3 431.2 635.6 429.9 635.8 428.5 636.1 427.0 636.4 425.4 636.7 423.7 637.0 421.8 637.3 419.6 637.7 417.1 638.0 414.0 638.4 410.5 638.8 406.7 639.2 402.9 639.5 399.3 639.9 396.0 640.3 393.1 640.6 390.2 640.9 387.6 641.3 385.0 641.7 382.5 642.1 380.2 642.6 378.2 643.1 376.3 643.7 374.5 644.4 372.6 645.0 370.5 645.6 368.3 646.2 366.0 646.8 363.6 647.3 361.2 647.8 358.7 648.3 356.2 648.7 353.6 648.9 351.2 649.1 348.7 649.3 346.3 649.3 343.9 649.3 341.5 649.3 338.9 649.2 336.3 649.1 333.5 648.9 330.7 648.6 327.9 648.4 325.2 648.1 322.6 647.9 320.1 647.7 317.7 647.4 315.4 647.1 313.1 646.9 310.8 646.6 308.5 646.3 306.1 646.0 303.7 645.7 301.4 645.4 299.1 645.1 296.7 644.9 294.4 644.6 292.1 644.4 289.6 644.1 287.2 643.9 284.8 643.7 282.5 643.4 280.4 643.2 278.5 643.0 276.7 642.8 275.0 642.6 273.4 642.4 271.9 642.2 270.5 642.0 269.1 641.8 267.8 641.6 266.6 641.4 265.3 641.2 264.0 641.0 262.8 640.9 261.4 640.7 260.1 640.5 258.8 640.3 257.5 640.0 256.2 639.8 254.8 636.5 252.6 633.4 255.0 633.2 256.3 633.1 257.6 632.9 259.0 632.8 260.3 632.7 261.7 632.6 263.0 632.5 264.4 632.4 265.7 632.3 267.0 632.2 268.3 632.2 269.8 632.2 271.3 632.3 272.9 632.4 274.5 632.5 276.1 632.7 277.7 632.8 279.5 633.0 281.4 633.1 283.5 633.3 285.7 633.4 288.1 633.6 290.5 633.8 293.0 633.9 295.4 634.1 297.7 634.2 300.1 634.3 302.4 634.4 304.7 634.5 307.0 634.6 309.3 634.7 311.6 634.7 313.9 634.7 316.1 634.7 318.4 634.7 320.8 634.7 323.2 634.6 325.7 634.6 328.4 634.5 331.1 634.5 333.8 634.4 336.4 634.3 338.9 634.2 341.2 634.2 343.5 634.1 345.7 634.0 347.9 633.9 350.0 633.7 352.2 633.6 354.3 633.4 356.6 633.2 358.9 632.9 361.2 632.7 363.4 632.4 365.5 632.1 367.4 631.8 369.2 631.4 371.1 630.9 373.1 630.4 375.2 629.9 377.6 629.3 380.0 628.7 382.5 628.1 385.1 627.4 387.9 626.7 390.7 626.1 393.8 625.4 397.2 624.8 400.9 624.1 404.7 623.5 408.4 622.9 411.8 622.3 414.7 621.9 417.1 621.5 419.1 621.1 420.8 620.8 422.4 620.5 423.9 620.2 425.3 619.9 426.7 619.6 427.9 619.4 428.9 619.2 430.0 618.9 431.1 618.7 432.2Z" fill="url(#g97)" filter="url(#b6)"/><path class="l" d="M625.5 438.3 632.8 435.3 633.0 434.2 633.2 433.1 633.5 432.0 633.7 430.9 634.0 429.6 634.3 428.1 634.6 426.7 634.8 425.1 635.1 423.4 635.4 421.6 635.8 419.4 636.1 416.8 636.5 413.8 636.9 410.3 637.3 406.5 637.7 402.7 638.1 399.1 638.5 395.8 638.9 392.8 639.3 390.0 639.6 387.3 640.0 384.7 640.4 382.3 640.9 380.0 641.4 377.9 641.9 376.0 642.5 374.1 643.1 372.2 643.7 370.2 644.3 368.0 644.8 365.7 645.4 363.4 645.9 360.9 646.4 358.5 646.8 356.0 647.2 353.5 647.4 351.1 647.6 348.7 647.7 346.3 647.8 343.9 647.8 341.4 647.8 338.9 647.7 336.3 647.6 333.5 647.4 330.7 647.2 328.0 647.0 325.3 646.8 322.7 646.6 320.2 646.4 317.8 646.1 315.5 645.9 313.2 645.6 310.9 645.4 308.6 645.1 306.2 644.9 303.8 644.6 301.5 644.3 299.2 644.0 296.8 643.8 294.5 643.5 292.2 643.3 289.7 643.1 287.3 642.8 284.9 642.6 282.6 642.4 280.5 642.2 278.6 642.0 276.8 641.8 275.1 641.6 273.5 641.4 272.0 641.2 270.6 641.0 269.2 640.8 267.9 640.7 266.6 640.5 265.3 640.4 264.1 640.2 262.8 640.0 261.5 639.9 260.2 639.7 258.8 639.5 257.5 639.4 256.2 639.2 254.8 636.6 253.1 634.0 255.0 633.9 256.3 633.8 257.6 633.7 259.0 633.6 260.3 633.5 261.7 633.4 263.0 633.3 264.3 633.3 265.6 633.2 266.9 633.2 268.3 633.2 269.7 633.2 271.2 633.3 272.8 633.4 274.4 633.5 276.0 633.7 277.6 633.9 279.4 634.0 281.3 634.2 283.4 634.3 285.6 634.5 288.0 634.7 290.4 634.9 292.9 635.0 295.3 635.2 297.6 635.3 300.0 635.5 302.3 635.6 304.6 635.7 306.9 635.8 309.2 635.9 311.5 635.9 313.8 636.0 316.1 636.0 318.4 636.0 320.7 636.0 323.1 636.0 325.7 636.0 328.4 636.0 331.1 635.9 333.8 635.9 336.4 635.8 338.9 635.7 341.3 635.7 343.6 635.6 345.8 635.5 348.0 635.4 350.1 635.2 352.3 635.0 354.5 634.8 356.8 634.6 359.1 634.3 361.4 634.0 363.7 633.7 365.8 633.4 367.8 633.0 369.6 632.6 371.4 632.1 373.4 631.6 375.5 631.1 377.8 630.6 380.3 630.0 382.8 629.4 385.4 628.7 388.1 628.1 391.0 627.5 394.0 626.8 397.4 626.2 401.1 625.6 404.9 625.0 408.6 624.4 412.1 623.9 415.0 623.4 417.3 623.0 419.4 622.7 421.1 622.3 422.7 622.0 424.2 621.7 425.7 621.4 427.0 621.2 428.2 621.0 429.3 620.7 430.3 620.5 431.4 620.2 432.5Z" fill="url(#g98)" filter="url(#b4)"/><path class="l" d="M626.2 435.5 628.8 434.4 629.0 433.3 629.2 432.2 629.5 431.1 629.7 430.0 630.0 428.8 630.3 427.3 630.5 425.9 630.8 424.3 631.1 422.7 631.5 420.9 631.8 418.7 632.2 416.2 632.6 413.2 633.1 409.8 633.6 406.0 634.0 402.2 634.5 398.5 635.0 395.2 635.4 392.2 635.9 389.4 636.4 386.7 636.8 384.1 637.3 381.6 637.8 379.3 638.3 377.1 638.8 375.1 639.3 373.3 639.9 371.4 640.4 369.4 640.9 367.3 641.4 365.0 641.8 362.7 642.3 360.4 642.7 357.9 643.1 355.5 643.3 353.1 643.6 350.8 643.7 348.4 643.8 346.1 643.9 343.8 644.0 341.4 644.0 338.9 643.9 336.3 643.9 333.6 643.8 330.8 643.6 328.1 643.5 325.4 643.3 322.8 643.2 320.4 643.0 318.0 642.9 315.7 642.7 313.4 642.5 311.1 642.3 308.8 642.1 306.4 641.9 304.1 641.7 301.8 641.4 299.4 641.2 297.1 641.0 294.8 640.8 292.4 640.5 290.0 640.3 287.5 640.1 285.1 639.9 282.9 639.7 280.8 639.5 278.8 639.3 277.0 639.1 275.4 638.9 273.8 638.8 272.3 638.6 270.8 638.5 269.4 638.4 268.0 638.3 266.7 638.2 265.4 638.1 264.2 638.0 262.9 637.9 261.5 637.9 260.2 637.8 258.9 637.7 257.5 637.6 256.2 637.5 254.9 636.6 254.2 635.7 254.9 635.6 256.3 635.6 257.6 635.6 258.9 635.6 260.3 635.6 261.6 635.6 262.9 635.6 264.3 635.6 265.5 635.6 266.8 635.6 268.2 635.7 269.5 635.8 271.0 635.9 272.5 636.0 274.1 636.2 275.7 636.3 277.4 636.5 279.1 636.7 281.0 636.9 283.1 637.1 285.4 637.2 287.8 637.4 290.2 637.6 292.7 637.8 295.0 638.0 297.4 638.2 299.7 638.4 302.0 638.6 304.4 638.7 306.7 638.9 309.0 639.0 311.3 639.1 313.6 639.2 315.9 639.3 318.2 639.4 320.5 639.5 323.0 639.5 325.5 639.6 328.2 639.6 331.0 639.7 333.7 639.7 336.3 639.6 338.9 639.6 341.3 639.5 343.7 639.5 345.9 639.4 348.2 639.2 350.4 639.1 352.7 638.8 355.0 638.5 357.3 638.2 359.7 637.9 362.0 637.5 364.3 637.1 366.5 636.7 368.5 636.2 370.4 635.8 372.3 635.3 374.2 634.8 376.3 634.2 378.5 633.7 380.9 633.2 383.4 632.6 386.0 632.1 388.7 631.6 391.6 631.0 394.6 630.5 397.9 629.9 401.6 629.3 405.4 628.8 409.2 628.3 412.6 627.8 415.6 627.4 418.0 627.0 420.1 626.7 421.9 626.3 423.5 626.0 425.0 625.7 426.5 625.5 427.8 625.2 429.0 625.0 430.2 624.7 431.2 624.5 432.3 624.2 433.4Z" fill="url(#g99)" filter="url(#b3)"/><path class="l" d="M631.0 294.2 632.8 292.9 632.9 290.9 633.0 288.8 633.1 286.8 633.2 284.8 633.3 282.9 633.4 281.0 633.5 279.2 633.6 277.4 633.7 275.6 633.8 273.8 633.9 271.9 634.0 270.1 632.1 268.5 630.0 269.7 629.8 271.5 629.5 273.3 629.2 275.1 628.9 277.0 628.7 278.8 628.6 280.8 628.6 282.8 628.7 284.8 628.8 286.9 628.9 288.9 629.1 290.9 629.2 292.9Z" fill="url(#g100)" filter="url(#b3)"/><path class="l" d="M656.6 432.7 659.5 431.5 660.1 429.2 660.6 427.0 661.1 424.8 661.7 422.5 662.2 420.1 662.8 417.4 663.3 414.5 663.8 411.4 664.4 408.2 664.9 404.9 665.4 401.6 665.8 398.3 666.2 394.9 666.5 391.5 666.8 388.0 667.0 384.6 667.3 381.3 667.4 378.1 667.5 375.0 667.4 372.1 667.4 369.3 667.3 366.5 667.2 363.7 667.1 360.9 665.5 359.8 663.9 360.9 663.7 363.7 663.5 366.4 663.3 369.2 663.1 371.9 662.9 374.8 662.6 377.7 662.3 380.9 661.9 384.1 661.5 387.5 661.1 390.9 660.7 394.3 660.2 397.5 659.8 400.8 659.3 404.1 658.8 407.3 658.2 410.5 657.7 413.5 657.2 416.4 656.8 419.0 656.3 421.4 655.9 423.6 655.4 425.8 654.9 428.1 654.5 430.3Z" fill="url(#g101)" filter="url(#b3)"/><path class="l" d="M663.5 399.2 665.9 398.6 666.6 396.9 667.3 395.2 668.1 393.5 668.8 391.9 669.5 390.3 670.2 388.9 670.8 387.7 671.4 386.5 672.1 385.5 672.7 384.4 673.4 383.3 674.1 382.1 672.9 379.5 669.9 379.7 669.3 380.8 668.6 381.9 667.9 383.0 667.2 384.1 666.5 385.4 665.8 386.9 665.2 388.5 664.5 390.2 663.9 391.9 663.3 393.7 662.7 395.5 662.1 397.2Z" fill="url(#g102)" filter="url(#b4)"/><path class="l" d="M674.2 383.3 672.6 386.0 673.4 387.9 674.1 389.7 674.8 391.5 675.5 393.2 676.2 395.1 676.8 397.0 677.5 399.2 678.1 401.4 678.8 403.8 679.5 406.2 680.1 408.8 680.7 411.5 681.2 414.4 681.7 417.6 682.1 421.0 682.6 424.4 683.0 427.9 683.5 431.3 686.7 433.0 689.5 430.5 689.2 427.2 688.9 423.7 688.5 420.2 688.2 416.8 687.8 413.4 687.3 410.3 686.8 407.3 686.2 404.6 685.5 401.9 684.8 399.4 684.0 397.0 683.2 394.8 682.3 392.6 681.3 390.6 680.3 388.8 679.3 387.1 678.3 385.5 677.4 383.8Z" fill="url(#g103)" filter="url(#b4)"/><ellipse class="l" cx="703.0" cy="427.9" rx="3.0" ry="3.0" fill="#242424" filter="url(#b4)"/><path class="l" d="M194.9 431.7 196.2 431.1 197.0 425.7 197.9 420.5 198.8 415.3 199.6 410.0 200.4 404.3 201.2 398.0 201.9 391.3 202.6 384.1 203.3 376.6 203.9 368.8 204.5 360.9 205.0 353.0 205.5 344.8 205.8 336.3 206.2 327.6 206.5 319.0 206.8 310.7 207.0 302.9 207.2 295.7 207.4 288.8 207.5 282.3 207.6 275.9 207.7 269.5 207.8 262.9 207.0 262.3 206.2 262.9 206.0 269.4 205.8 275.8 205.7 282.3 205.5 288.8 205.2 295.6 205.0 302.9 204.7 310.7 204.5 319.0 204.2 327.6 203.9 336.2 203.5 344.7 203.0 352.8 202.4 360.8 201.8 368.6 201.1 376.4 200.3 383.9 199.6 391.0 198.8 397.8 198.0 403.9 197.2 409.6 196.4 415.0 195.5 420.1 194.7 425.3 193.8 430.7Z" fill="url(#g104)" filter="url(#b2)"/><ellipse class="l" cx="192.0" cy="426.9" rx="2.0" ry="5.0" fill="#333333" filter="url(#b3)"/></g></g><g clip-path="url(#cpi)"><g filter="url(#cm)"><rect x="65.7" y="-27.6" width="676.9" height="485.8" fill="#000"/><ellipse class="l" cx="257.3" cy="122.0" rx="21.5" ry="19.5" fill="#1f1f1f" filter="url(#b8)"/><ellipse class="l" cx="257.3" cy="121.5" rx="18.5" ry="16.5" fill="#5c5c5c" filter="url(#b7)"/><ellipse class="l" cx="257.3" cy="122.0" rx="14.0" ry="12.0" fill="#878787" filter="url(#b9)"/><ellipse class="l" cx="258.0" cy="122.5" rx="8.0" ry="6.0" fill="#959595" filter="url(#b8)"/><path class="l" d="M249.3 114.1 241.2 108.5 239.6 109.1 238.0 109.6 236.1 110.2 234.0 111.0 231.8 112.0 229.6 113.3 227.7 114.8 226.1 116.4 224.6 118.1 223.3 119.9 222.2 121.8 221.2 123.8 220.4 126.0 219.8 128.2 219.4 130.4 219.1 132.6 219.0 134.8 219.0 137.1 219.3 139.4 219.8 141.6 220.4 143.6 221.0 145.3 221.6 146.8 222.1 148.3 228.9 151.1 233.9 145.7 233.6 143.9 233.3 142.1 233.1 140.4 233.0 139.1 232.9 137.9 233.0 136.9 233.2 135.8 233.4 134.5 233.6 133.2 234.0 132.0 234.4 131.0 234.8 130.2 235.3 129.4 235.8 128.8 236.4 128.2 237.0 127.6 237.8 127.1 238.4 126.7 239.1 126.3 240.1 125.9 241.4 125.4 243.1 124.8 244.9 124.2 246.8 123.5Z" fill="url(#g105)" filter="url(#b6)"/><path class="l" d="M245.9 115.3 243.0 113.3 241.3 113.9 239.6 114.5 237.8 115.1 235.9 115.8 234.1 116.6 232.4 117.6 230.9 118.7 229.6 120.0 228.4 121.3 227.3 122.7 226.4 124.2 225.6 125.9 224.9 127.6 224.3 129.4 223.9 131.3 223.6 133.2 223.5 135.1 223.5 137.0 223.6 138.9 224.0 140.8 224.5 142.6 225.0 144.2 225.5 145.9 225.9 147.5 228.3 148.5 230.1 146.5 229.8 144.8 229.4 143.1 229.0 141.4 228.7 139.9 228.6 138.4 228.5 137.0 228.6 135.5 228.8 133.9 229.1 132.3 229.4 130.8 229.9 129.4 230.4 128.1 231.1 127.0 231.8 125.9 232.6 124.9 233.5 124.0 234.5 123.2 235.6 122.4 236.8 121.7 238.1 121.1 239.7 120.5 241.4 120.0 243.2 119.4 245.0 118.7Z" fill="url(#g106)" filter="url(#b5)"/><path class="l" d="M172.6 230.6 186.6 236.6 188.8 235.6 191.0 234.6 193.1 233.6 195.3 232.7 197.5 231.7 199.6 230.7 201.9 229.7 204.1 228.6 206.3 227.7 208.4 226.7 210.4 225.8 212.2 225.0 213.9 224.2 215.6 223.4 217.4 222.6 219.2 221.7 221.1 220.8 223.0 219.8 224.8 219.0 226.8 218.1 229.0 217.1 231.4 215.9 234.0 214.4 236.7 212.8 239.2 211.0 241.5 209.3 243.6 207.5 245.6 205.8 247.5 204.1 249.3 202.4 251.0 200.6 252.7 198.8 254.3 196.9 255.8 195.1 257.3 193.2 258.7 191.3 260.2 189.2 261.6 187.0 263.0 184.8 264.3 182.6 265.6 180.4 266.7 178.2 267.8 175.9 268.8 173.6 269.6 171.5 270.3 169.6 270.8 167.9 271.3 166.4 271.7 165.1 272.1 163.7 272.6 162.1 273.0 160.3 273.4 158.3 273.8 156.2 274.1 154.1 274.3 151.8 274.5 149.3 274.7 146.8 274.9 144.2 275.0 141.6 275.1 139.0 275.2 136.6 275.1 134.5 275.1 132.7 275.1 131.2 275.1 129.7 257.4 117.8 240.1 130.3 240.1 132.1 240.2 133.8 240.3 135.3 240.3 136.5 240.3 137.4 240.2 138.4 239.9 139.6 239.4 141.2 238.9 142.9 238.3 144.7 237.7 146.3 237.2 147.8 236.8 148.8 236.5 149.5 236.2 150.2 235.8 151.0 235.3 152.1 234.7 153.6 234.1 155.2 233.6 156.7 233.1 158.0 232.6 159.3 232.2 160.5 231.7 161.6 231.1 163.0 230.4 164.6 229.6 166.2 228.8 167.8 228.1 169.4 227.3 170.7 226.5 172.1 225.8 173.3 225.1 174.4 224.4 175.4 223.6 176.5 222.7 177.6 221.7 178.9 220.6 180.1 219.5 181.3 218.5 182.4 217.4 183.4 216.5 184.2 215.6 185.0 214.4 185.8 212.8 186.7 211.0 187.8 209.0 188.9 207.0 190.2 205.2 191.2 203.5 192.2 201.7 193.3 199.8 194.4 197.8 195.6 195.8 197.0 193.7 198.5 191.8 200.1 189.8 201.7 188.0 203.2 186.1 204.8 184.4 206.3 182.5 207.8 180.7 209.3 178.9 210.9 177.0 212.4 175.2 213.9 173.4 215.4Z" fill="url(#g107)" filter="url(#b11)"/><path class="l" d="M174.1 229.7 185.3 234.5 187.4 233.4 189.6 232.4 191.7 231.4 193.8 230.3 196.0 229.3 198.1 228.2 200.3 227.2 202.5 226.1 204.6 225.1 206.7 224.1 208.7 223.1 210.6 222.2 212.3 221.4 214.0 220.5 215.8 219.7 217.6 218.8 219.5 217.8 221.4 216.9 223.3 216.0 225.2 215.1 227.4 214.0 229.7 212.9 232.2 211.5 234.7 209.9 237.0 208.3 239.2 206.6 241.2 204.9 243.1 203.2 244.9 201.5 246.6 199.9 248.3 198.2 249.9 196.4 251.4 194.7 252.8 192.9 254.2 191.1 255.6 189.2 256.9 187.2 258.3 185.1 259.7 182.9 260.9 180.8 262.1 178.7 263.2 176.5 264.3 174.3 265.2 172.2 265.9 170.1 266.6 168.3 267.1 166.6 267.6 165.1 268.1 163.8 268.5 162.4 268.9 160.9 269.3 159.2 269.7 157.4 270.1 155.4 270.4 153.3 270.7 151.1 270.9 148.7 271.2 146.3 271.4 143.8 271.5 141.3 271.6 138.8 271.7 136.6 271.7 134.5 271.6 132.8 271.6 131.3 271.6 129.8 257.5 120.2 243.6 130.2 243.6 132.0 243.7 133.7 243.8 135.2 243.8 136.5 243.8 137.6 243.7 138.7 243.4 140.1 243.0 141.7 242.5 143.6 241.9 145.4 241.4 147.1 240.9 148.6 240.5 149.7 240.1 150.6 239.8 151.4 239.4 152.3 238.9 153.4 238.4 154.9 237.8 156.4 237.2 157.9 236.7 159.4 236.2 160.7 235.7 162.0 235.2 163.3 234.5 164.8 233.8 166.4 232.9 168.1 232.1 169.7 231.3 171.3 230.4 172.8 229.6 174.2 228.8 175.4 228.0 176.6 227.2 177.8 226.4 178.9 225.4 180.1 224.3 181.4 223.1 182.7 221.9 183.9 220.8 185.1 219.6 186.1 218.5 187.1 217.4 187.9 216.1 188.8 214.4 189.8 212.6 190.8 210.6 191.9 208.6 193.1 206.8 194.2 205.0 195.2 203.3 196.2 201.4 197.3 199.4 198.5 197.4 199.8 195.4 201.2 193.4 202.7 191.5 204.3 189.6 205.8 187.7 207.3 185.9 208.8 184.0 210.2 182.2 211.7 180.3 213.1 178.4 214.6 176.6 216.1 174.7 217.5Z" fill="url(#g108)" filter="url(#b9)"/><path class="l" d="M178.5 226.9 181.3 228.1 183.4 226.9 185.4 225.7 187.4 224.5 189.5 223.3 191.5 222.1 193.5 220.9 195.6 219.7 197.7 218.5 199.7 217.3 201.7 216.1 203.7 214.9 205.6 213.8 207.5 212.8 209.3 211.8 211.1 210.9 212.9 209.9 214.7 209.0 216.6 208.0 218.5 207.0 220.5 206.0 222.5 204.9 224.6 203.8 226.6 202.7 228.6 201.4 230.5 200.0 232.3 198.5 234.0 197.0 235.6 195.5 237.2 194.0 238.7 192.5 240.1 191.0 241.4 189.4 242.6 187.9 243.8 186.4 245.0 184.7 246.1 183.1 247.3 181.2 248.5 179.3 249.6 177.4 250.7 175.4 251.8 173.4 252.7 171.6 253.6 169.7 254.3 167.9 255.0 166.1 255.6 164.4 256.1 162.8 256.7 161.3 257.1 159.9 257.6 158.6 258.0 157.3 258.4 156.0 258.8 154.5 259.2 152.8 259.5 151.0 259.9 148.9 260.3 146.8 260.6 144.6 260.9 142.4 261.1 140.3 261.2 138.4 261.2 136.5 261.2 134.8 261.2 133.1 261.1 131.6 261.1 129.9 257.6 127.6 254.1 130.1 254.1 131.7 254.2 133.4 254.2 135.0 254.3 136.5 254.2 138.1 254.1 139.7 253.9 141.5 253.5 143.4 253.1 145.5 252.7 147.5 252.3 149.4 251.8 151.2 251.5 152.6 251.1 153.8 250.7 154.9 250.3 156.1 249.9 157.3 249.3 158.7 248.8 160.3 248.3 161.8 247.7 163.4 247.1 165.0 246.4 166.6 245.7 168.2 244.9 170.0 243.9 171.8 243.0 173.6 241.9 175.5 240.9 177.3 239.9 178.9 238.8 180.5 237.8 182.0 236.8 183.4 235.7 184.8 234.6 186.1 233.3 187.5 232.0 189.0 230.6 190.4 229.2 191.8 227.7 193.1 226.1 194.4 224.6 195.6 222.9 196.8 221.2 197.8 219.3 198.9 217.3 199.9 215.3 201.0 213.4 202.0 211.5 203.1 209.8 204.0 208.0 205.0 206.1 206.0 204.3 207.1 202.4 208.2 200.4 209.4 198.4 210.7 196.4 212.1 194.4 213.4 192.4 214.7 190.5 216.1 188.5 217.4 186.5 218.7 184.6 220.0 182.6 221.3 180.6 222.6 178.7 223.9Z" fill="url(#g109)" filter="url(#b7)"/><path class="l" d="M258.4 171.1 247.2 176.0 246.8 178.0 246.4 180.0 245.9 182.0 245.5 184.0 245.1 186.0 244.7 187.9 244.4 189.9 244.0 191.9 243.7 193.9 243.4 196.1 243.0 198.2 242.8 200.5 242.5 202.7 242.3 205.0 242.2 207.2 242.0 209.3 241.9 211.3 241.8 213.2 241.7 214.9 241.6 216.4 241.5 217.8 241.4 219.1 241.3 220.3 241.3 221.5 249.7 228.1 258.7 222.5 258.8 221.2 258.8 219.9 258.9 218.7 258.9 217.5 259.0 216.3 259.2 214.8 259.5 213.2 259.7 211.3 260.1 209.3 260.5 207.3 260.8 205.4 261.2 203.5 261.7 201.8 262.2 199.9 262.7 198.1 263.2 196.1 263.8 194.1 264.3 192.1 264.7 190.0 265.2 188.0 265.6 186.0 266.0 184.0 266.4 182.0 266.8 180.0Z" fill="url(#g110)" filter="url(#b8)"/><path class="l" d="M258.1 172.5 249.2 176.4 248.7 178.4 248.3 180.4 247.9 182.4 247.5 184.4 247.1 186.4 246.7 188.3 246.3 190.3 245.9 192.3 245.6 194.3 245.2 196.4 244.9 198.6 244.6 200.8 244.3 203.0 244.1 205.2 244.0 207.4 243.8 209.5 243.7 211.5 243.5 213.3 243.4 215.0 243.3 216.5 243.2 217.9 243.2 219.2 243.1 220.4 243.0 221.6 249.7 226.9 257.0 222.4 257.1 221.1 257.1 219.8 257.1 218.6 257.2 217.4 257.3 216.1 257.5 214.7 257.7 213.0 258.0 211.1 258.3 209.1 258.6 207.1 259.0 205.1 259.4 203.2 259.8 201.4 260.3 199.6 260.8 197.7 261.3 195.7 261.8 193.7 262.3 191.7 262.8 189.6 263.2 187.6 263.6 185.6 264.0 183.6 264.4 181.6 264.8 179.6Z" fill="url(#g111)" filter="url(#b6)"/><path class="l" d="M257.4 176.0 254.2 177.4 253.8 179.4 253.3 181.4 252.9 183.4 252.5 185.4 252.1 187.4 251.7 189.4 251.3 191.4 250.9 193.4 250.5 195.4 250.1 197.4 249.7 199.5 249.3 201.6 249.0 203.7 248.8 205.8 248.5 207.9 248.3 210.0 248.2 212.0 248.0 213.8 247.9 215.4 247.8 216.8 247.7 218.1 247.6 219.4 247.6 220.6 247.5 221.9 249.9 223.8 252.5 222.1 252.6 220.8 252.6 219.6 252.7 218.4 252.8 217.1 252.9 215.8 253.0 214.2 253.2 212.5 253.4 210.6 253.7 208.6 254.0 206.5 254.3 204.4 254.7 202.4 255.0 200.5 255.5 198.6 255.9 196.6 256.4 194.6 256.9 192.6 257.3 190.6 257.7 188.6 258.2 186.6 258.6 184.6 259.0 182.6 259.4 180.6 259.8 178.6Z" fill="url(#g112)" filter="url(#b5)"/><ellipse class="l" cx="264.0" cy="205.0" rx="3.0" ry="6.0" fill="#1f1f1f" filter="url(#b5)"/><ellipse cx="237.9" cy="131.4" rx="6.5" ry="3.6" fill="#000" fill-opacity="0.950" filter="url(#b4)"/><ellipse cx="238.0" cy="212.5" rx="4.0" ry="2.2" fill="#000" fill-opacity="0.900" filter="url(#b3)"/><ellipse cx="241.5" cy="202.0" rx="2.5" ry="3.0" fill="#000" fill-opacity="0.450" filter="url(#b4)"/><path class="l" d="M322.7 200.8 330.0 202.8 332.1 201.3 334.0 199.9 335.9 198.6 337.7 197.3 339.7 196.0 341.9 194.6 344.5 192.9 347.4 191.1 350.4 189.2 353.5 187.3 356.5 185.7 359.4 184.2 362.3 182.8 365.2 181.6 367.9 180.5 370.4 179.7 372.8 179.1 374.9 178.7 376.9 178.5 379.2 178.5 381.7 178.6 384.4 178.9 387.3 179.4 390.3 179.9 393.0 180.5 395.7 181.2 398.4 182.1 401.2 183.0 404.1 184.1 407.1 185.1 410.2 186.3 413.4 187.6 416.8 189.1 420.3 190.6 423.9 192.0 427.4 193.2 430.9 194.2 434.4 195.0 437.7 195.7 440.8 196.3 443.8 196.8 446.5 197.3 448.9 197.8 451.2 198.2 453.3 198.5 455.1 198.8 456.9 199.1 458.8 199.4 465.2 192.8 461.2 184.6 459.2 184.3 457.3 184.0 455.5 183.8 453.7 183.5 451.8 183.1 449.5 182.7 447.0 182.0 444.2 181.3 441.3 180.5 438.4 179.7 435.4 178.8 432.6 177.8 429.6 176.7 426.5 175.4 423.1 174.0 419.6 172.6 416.1 171.2 412.7 169.9 409.5 168.7 406.4 167.7 403.3 166.7 400.2 165.7 396.9 164.8 393.7 164.1 390.6 163.3 387.5 162.5 384.1 161.8 380.4 161.3 376.6 161.1 372.5 161.3 368.6 162.1 364.9 163.3 361.4 164.8 358.1 166.4 354.9 168.1 351.8 169.8 348.5 171.7 345.2 173.8 341.9 176.0 338.7 178.2 335.8 180.4 333.1 182.4 330.7 184.4 328.7 186.3 326.8 188.1 325.2 189.9 323.6 191.5 322.0 193.2Z" fill="url(#g113)" filter="url(#b7)"/><path class="l" d="M323.3 200.3 329.2 201.8 331.2 200.4 333.1 198.9 334.9 197.6 336.8 196.2 338.8 194.9 341.0 193.4 343.6 191.7 346.5 189.8 349.6 187.9 352.6 186.0 355.7 184.3 358.6 182.8 361.6 181.4 364.5 180.1 367.2 178.9 369.9 178.0 372.4 177.4 374.6 176.9 376.9 176.7 379.3 176.7 381.9 176.9 384.7 177.3 387.6 177.8 390.6 178.3 393.4 179.0 396.1 179.7 398.9 180.5 401.7 181.5 404.6 182.5 407.7 183.6 410.8 184.8 414.0 186.1 417.4 187.6 420.9 189.1 424.4 190.4 428.0 191.7 431.4 192.7 434.8 193.5 438.1 194.2 441.2 194.8 444.1 195.4 446.8 195.9 449.2 196.3 451.5 196.7 453.5 197.1 455.4 197.3 457.2 197.6 459.1 197.9 464.1 192.7 460.9 186.1 459.0 185.8 457.1 185.5 455.3 185.3 453.4 185.0 451.5 184.6 449.2 184.1 446.7 183.5 443.9 182.8 441.0 182.0 438.0 181.2 435.0 180.3 432.0 179.3 429.1 178.2 425.8 176.9 422.5 175.5 419.0 174.1 415.5 172.7 412.1 171.4 408.9 170.3 405.9 169.2 402.8 168.2 399.7 167.3 396.6 166.4 393.4 165.7 390.3 164.9 387.1 164.2 383.8 163.5 380.3 163.0 376.6 162.8 372.8 163.1 369.0 163.8 365.4 165.0 362.0 166.4 358.8 167.9 355.7 169.6 352.6 171.2 349.3 173.1 346.0 175.2 342.7 177.3 339.6 179.5 336.6 181.6 334.0 183.6 331.6 185.5 329.6 187.4 327.7 189.2 326.1 190.9 324.5 192.5 322.8 194.2Z" fill="url(#g114)" filter="url(#b7)"/><path class="l" d="M324.7 199.1 327.6 199.9 329.5 198.4 331.4 196.9 333.1 195.5 335.0 194.0 337.0 192.5 339.3 190.9 341.9 189.2 344.8 187.2 347.8 185.2 351.0 183.3 354.1 181.5 357.1 179.9 360.1 178.4 363.0 177.0 365.9 175.8 368.8 174.8 371.5 174.0 374.2 173.5 376.8 173.3 379.5 173.3 382.4 173.6 385.3 174.0 388.3 174.6 391.3 175.2 394.2 175.8 397.0 176.6 399.9 177.5 402.7 178.4 405.7 179.5 408.8 180.6 412.0 181.8 415.3 183.1 418.7 184.6 422.1 186.0 425.6 187.4 429.0 188.6 432.3 189.6 435.6 190.4 438.8 191.2 441.9 191.8 444.7 192.4 447.4 192.9 449.8 193.4 451.9 193.8 453.9 194.1 455.8 194.4 457.6 194.7 459.5 195.0 462.1 192.3 460.5 189.0 458.5 188.7 456.7 188.5 454.8 188.2 452.9 187.9 450.9 187.5 448.6 187.1 446.0 186.5 443.2 185.8 440.2 185.1 437.2 184.3 434.1 183.4 431.0 182.4 427.9 181.3 424.6 180.0 421.2 178.6 417.8 177.1 414.3 175.7 411.0 174.4 407.9 173.3 404.8 172.3 401.8 171.3 398.8 170.4 395.8 169.5 392.7 168.8 389.6 168.1 386.5 167.5 383.3 166.9 380.1 166.4 376.7 166.3 373.2 166.5 369.8 167.2 366.5 168.2 363.3 169.5 360.2 171.0 357.1 172.5 354.1 174.1 350.9 175.9 347.7 177.9 344.4 180.0 341.3 182.1 338.4 184.1 335.7 186.1 333.4 187.9 331.4 189.6 329.5 191.3 327.8 192.9 326.2 194.5 324.4 196.1Z" fill="url(#g115)" filter="url(#b6)"/><ellipse class="l" cx="373.7" cy="173.0" rx="11.0" ry="7.0" fill="#6b6b6b" filter="url(#b7)"/><path class="l" d="M292.6 216.7 297.1 220.9 300.3 220.5 303.5 220.1 306.7 219.7 309.9 219.4 313.0 219.0 316.0 218.8 318.8 218.7 321.6 218.7 324.8 218.8 328.2 218.7 331.9 218.3 335.8 217.5 339.6 216.2 343.3 214.5 346.7 212.8 349.9 210.9 352.9 209.2 355.9 207.5 359.0 205.6 362.0 203.7 364.7 201.9 367.2 200.3 369.4 199.0 371.5 197.9 373.6 196.9 375.8 196.0 377.8 195.2 379.8 194.7 381.6 194.2 383.6 194.0 385.6 193.9 387.9 194.0 390.4 194.2 393.0 194.6 395.7 195.1 398.4 195.7 400.9 196.4 403.5 197.2 406.3 198.2 409.2 199.4 412.3 200.6 415.4 201.9 418.4 203.1 421.5 204.3 424.6 205.6 427.7 206.8 430.6 208.1 433.4 209.3 436.0 210.5 438.5 211.7 440.9 212.9 443.1 213.9 445.1 214.9 446.9 215.7 448.4 216.4 449.5 216.9 450.8 217.3 452.2 217.8 453.7 218.1 455.3 218.5 457.4 218.8 459.6 219.1 461.9 219.3 464.2 219.6 466.4 219.8 468.5 220.0 479.1 208.0 471.5 194.0 469.3 193.7 467.0 193.4 464.8 193.2 462.7 192.9 460.9 192.7 459.5 192.5 458.4 192.4 457.7 192.3 457.3 192.3 456.8 192.3 455.8 192.1 454.3 191.9 452.4 191.6 450.4 191.2 448.1 190.9 445.7 190.5 443.2 189.9 440.6 189.3 437.9 188.5 434.9 187.6 431.9 186.5 428.7 185.4 425.5 184.2 422.4 183.1 419.5 182.1 416.5 180.9 413.4 179.7 410.2 178.4 406.7 177.3 403.2 176.3 399.8 175.5 396.4 174.9 392.8 174.4 389.2 174.0 385.6 173.9 381.8 174.0 378.2 174.5 374.8 175.2 371.5 176.2 368.4 177.3 365.4 178.6 362.3 180.1 359.2 181.9 356.2 184.0 353.4 186.0 350.9 188.0 348.5 189.8 346.1 191.5 343.3 193.3 340.4 195.1 337.6 196.9 334.9 198.5 332.4 199.8 330.2 200.9 328.1 201.8 325.8 202.5 323.1 203.1 320.2 203.7 317.0 204.4 313.6 205.2 310.4 206.2 307.3 207.1 304.2 208.1 301.1 209.1 298.0 210.1 294.9 211.1Z" fill="url(#g116)" filter="url(#b9)"/><path class="l" d="M293.3 216.6 296.8 219.9 300.0 219.5 303.3 219.0 306.5 218.6 309.6 218.1 312.7 217.7 315.7 217.4 318.6 217.3 321.5 217.2 324.6 217.2 327.9 217.1 331.5 216.7 335.3 215.8 338.9 214.5 342.4 212.9 345.8 211.2 349.0 209.4 352.0 207.6 355.0 205.9 358.0 204.0 360.9 202.1 363.6 200.3 366.1 198.6 368.4 197.3 370.5 196.1 372.8 195.1 375.1 194.1 377.2 193.3 379.3 192.7 381.3 192.3 383.4 192.0 385.6 191.9 388.0 192.0 390.6 192.2 393.3 192.6 396.1 193.2 398.9 193.8 401.5 194.5 404.2 195.3 407.0 196.4 409.9 197.5 413.0 198.8 416.1 200.0 419.1 201.2 422.2 202.4 425.3 203.6 428.4 204.9 431.3 206.1 434.1 207.3 436.8 208.4 439.3 209.6 441.6 210.7 443.8 211.7 445.9 212.6 447.7 213.4 449.1 214.0 450.3 214.4 451.4 214.8 452.7 215.2 454.1 215.5 455.8 215.9 457.7 216.2 459.9 216.5 462.2 216.7 464.4 217.0 466.7 217.2 468.8 217.4 477.3 207.8 471.2 196.6 469.0 196.3 466.7 196.1 464.5 195.8 462.4 195.6 460.6 195.3 459.0 195.1 457.9 195.0 457.2 194.9 456.7 194.8 456.1 194.7 455.0 194.5 453.5 194.2 451.7 193.9 449.6 193.5 447.4 193.1 445.0 192.6 442.5 192.0 439.9 191.3 437.1 190.5 434.2 189.5 431.1 188.4 428.0 187.3 424.8 186.1 421.7 185.0 418.8 183.9 415.8 182.7 412.7 181.5 409.5 180.3 406.1 179.2 402.7 178.2 399.4 177.5 396.0 176.9 392.6 176.3 389.1 176.0 385.6 175.9 382.0 176.0 378.6 176.5 375.3 177.2 372.1 178.1 369.1 179.2 366.2 180.4 363.3 181.9 360.2 183.6 357.3 185.6 354.6 187.6 352.0 189.6 349.6 191.4 347.0 193.1 344.3 194.9 341.4 196.7 338.5 198.5 335.8 200.1 333.1 201.5 330.7 202.6 328.4 203.4 326.0 204.1 323.3 204.7 320.3 205.2 317.2 205.8 313.9 206.6 310.7 207.4 307.5 208.4 304.4 209.3 301.3 210.2 298.2 211.2 295.2 212.1Z" fill="url(#g117)" filter="url(#b6)"/><path class="l" d="M295.2 216.2 296.3 217.2 299.4 216.6 302.6 215.9 305.7 215.3 308.9 214.7 312.0 214.1 315.1 213.6 318.1 213.3 321.1 213.0 324.1 212.8 327.3 212.6 330.4 212.0 333.7 211.2 336.9 210.0 340.1 208.4 343.2 206.7 346.3 204.9 349.3 203.1 352.2 201.4 355.0 199.6 357.8 197.7 360.4 195.9 363.0 194.1 365.5 192.5 368.0 191.1 370.5 190.0 373.0 188.9 375.4 188.0 377.9 187.3 380.3 186.7 382.9 186.4 385.6 186.3 388.4 186.4 391.3 186.7 394.3 187.1 397.3 187.7 400.2 188.3 403.1 189.1 406.0 190.1 409.0 191.2 412.0 192.4 415.0 193.6 418.1 194.7 421.1 195.9 424.2 197.1 427.4 198.3 430.4 199.5 433.4 200.6 436.1 201.7 438.8 202.7 441.3 203.6 443.6 204.5 445.9 205.3 447.9 206.0 449.7 206.7 451.2 207.2 452.3 207.5 453.3 207.8 454.3 208.1 455.4 208.3 456.9 208.6 458.7 208.9 460.8 209.2 463.0 209.4 465.2 209.6 467.5 209.9 469.6 210.1 472.2 207.3 470.4 203.9 468.2 203.6 465.9 203.4 463.7 203.1 461.5 202.9 459.6 202.6 457.9 202.4 456.6 202.2 455.6 202.0 454.8 201.8 454.0 201.6 452.9 201.3 451.5 200.9 449.7 200.4 447.6 199.9 445.4 199.2 443.0 198.5 440.5 197.7 437.9 196.9 435.1 195.9 432.2 194.9 429.1 193.7 426.0 192.6 422.8 191.4 419.7 190.3 416.8 189.1 413.7 187.9 410.7 186.7 407.6 185.6 404.5 184.5 401.4 183.7 398.2 183.0 395.1 182.4 391.9 181.9 388.7 181.6 385.6 181.5 382.5 181.6 379.5 182.0 376.7 182.6 373.9 183.4 371.2 184.4 368.5 185.6 365.8 186.9 363.1 188.4 360.4 190.2 357.7 192.1 355.1 194.0 352.5 195.8 349.8 197.6 347.0 199.3 344.0 201.2 341.1 202.9 338.1 204.6 335.2 206.0 332.3 207.2 329.5 208.1 326.7 208.6 323.8 209.1 320.7 209.4 317.7 209.8 314.5 210.4 311.4 211.1 308.3 211.8 305.1 212.5 302.0 213.3 298.9 214.1 295.7 214.8Z" fill="url(#g118)" filter="url(#b5)"/><path class="l" d="M408.9 193.9 407.6 201.4 408.9 202.7 410.2 204.1 411.5 205.5 412.9 206.9 414.3 208.2 415.7 209.5 417.0 210.7 418.3 211.9 419.8 213.1 421.4 214.5 423.3 215.8 425.3 216.9 427.4 217.9 429.4 218.6 431.5 219.2 433.7 219.7 435.8 220.0 438.1 220.1 440.4 220.0 442.7 219.7 444.7 219.2 446.5 218.7 448.1 218.3 449.7 218.0 452.2 210.8 446.3 206.0 444.5 206.6 442.8 207.3 441.3 207.9 440.0 208.4 438.9 208.7 437.9 208.9 436.8 208.9 435.5 208.7 434.2 208.5 432.9 208.1 431.7 207.6 430.7 207.1 429.8 206.4 428.9 205.6 428.0 204.5 426.9 203.3 425.7 201.9 424.3 200.5 423.0 199.2 421.8 198.0 420.5 196.6 419.1 195.3 417.8 194.0 416.4 192.6Z" fill="url(#g119)" filter="url(#b6)"/><path class="l" d="M409.5 194.5 408.4 200.5 409.8 201.9 411.1 203.2 412.4 204.6 413.8 206.0 415.2 207.3 416.5 208.6 417.8 209.8 419.2 211.0 420.6 212.3 422.2 213.6 423.9 214.8 425.9 216.0 427.8 216.8 429.8 217.6 431.8 218.1 433.9 218.6 435.9 218.9 438.1 219.0 440.3 218.9 442.4 218.5 444.4 218.1 446.2 217.6 447.8 217.2 449.4 216.8 451.4 211.0 446.6 207.2 444.9 207.8 443.2 208.4 441.6 209.0 440.2 209.5 439.0 209.9 437.9 210.0 436.7 210.0 435.3 209.8 434.0 209.5 432.6 209.1 431.3 208.6 430.1 208.0 429.2 207.4 428.2 206.5 427.1 205.4 426.0 204.1 424.8 202.8 423.5 201.4 422.2 200.1 420.9 198.8 419.6 197.5 418.2 196.2 416.9 194.8 415.6 193.5Z" fill="url(#g120)" filter="url(#b4)"/><path class="l" d="M411.1 196.1 410.7 198.3 412.1 199.6 413.4 201.0 414.7 202.3 416.1 203.7 417.4 205.0 418.7 206.3 420.1 207.5 421.4 208.8 422.7 210.1 424.1 211.3 425.6 212.5 427.2 213.4 428.9 214.2 430.7 214.9 432.5 215.4 434.3 215.8 436.2 216.0 438.0 216.1 439.9 216.0 441.7 215.7 443.5 215.2 445.2 214.7 446.8 214.2 448.5 213.7 449.2 211.7 447.5 210.3 445.8 210.8 444.1 211.4 442.5 211.9 440.9 212.4 439.4 212.7 438.0 212.9 436.4 212.8 434.9 212.6 433.3 212.3 431.7 211.8 430.2 211.3 428.8 210.6 427.5 209.8 426.3 208.8 425.1 207.6 423.8 206.3 422.6 205.0 421.3 203.7 419.9 202.4 418.6 201.1 417.3 199.8 416.0 198.4 414.6 197.1 413.3 195.7Z" fill="url(#g121)" filter="url(#b3)"/><ellipse cx="357.8" cy="180.3" rx="5.2" ry="3.0" fill="#000" fill-opacity="0.950" filter="url(#b3)"/><ellipse cx="395.2" cy="178.6" rx="5.2" ry="3.0" fill="#000" fill-opacity="0.950" filter="url(#b3)"/><ellipse cx="333.0" cy="192.5" rx="5.0" ry="3.0" fill="#000" fill-opacity="0.900" filter="url(#b4)"/><ellipse cx="446.0" cy="190.8" rx="4.0" ry="2.4" fill="#000" fill-opacity="0.900" filter="url(#b3)"/><ellipse cx="432.8" cy="208.6" rx="4.0" ry="2.3" fill="#000" fill-opacity="0.950" filter="url(#b3)"/><ellipse cx="319.0" cy="202.0" rx="3.0" ry="2.0" fill="#000" fill-opacity="0.600" filter="url(#b3)"/></g></g><rect x="95.7" y="2.4" width="616.9" height="425.8" fill="none" stroke="#000" stroke-width="1.5"/><path d="M151.8 428.2v-6.5M151.8 2.4v6.5M207.8 428.2v-6.5M207.8 2.4v6.5M263.9 428.2v-6.5M263.9 2.4v6.5M320.0 428.2v-6.5M320.0 2.4v6.5M376.0 428.2v-6.5M376.0 2.4v6.5M432.1 428.2v-6.5M432.1 2.4v6.5M488.2 428.2v-6.5M488.2 2.4v6.5M544.3 428.2v-6.5M544.3 2.4v6.5M600.3 428.2v-6.5M600.3 2.4v6.5M656.4 428.2v-6.5M656.4 2.4v6.5M95.7 380.9h6.5M712.6 380.9h-6.5M95.7 333.6h6.5M712.6 333.6h-6.5M95.7 286.3h6.5M712.6 286.3h-6.5M95.7 239.0h6.5M712.6 239.0h-6.5M95.7 191.6h6.5M712.6 191.6h-6.5M95.7 144.3h6.5M712.6 144.3h-6.5M95.7 97.0h6.5M712.6 97.0h-6.5M95.7 49.7h6.5M712.6 49.7h-6.5" stroke="#000" stroke-width="1.1" fill="none"/><text x="95.7" y="470.3" text-anchor="middle">0</text><text x="151.8" y="470.3" text-anchor="middle">100</text><text x="263.9" y="470.3" text-anchor="middle">300</text><text x="376.0" y="470.3" text-anchor="middle">500</text><text x="488.2" y="470.3" text-anchor="middle">700</text><text x="600.3" y="470.3" text-anchor="middle">900</text><text x="714.0" y="470.3" text-anchor="middle">1100</text><text x="86.4" y="441.0" text-anchor="end">10</text><text x="86.4" y="346.4" text-anchor="end">30</text><text x="86.4" y="251.8" text-anchor="end">50</text><text x="86.4" y="157.1" text-anchor="end">70</text><text x="86.4" y="62.5" text-anchor="end">90</text><text x="404" y="509" text-anchor="middle" font-size="38">Time (a.u.)</text><text transform="translate(28.8 215.3) rotate(-90)" text-anchor="middle" font-size="38.2">Harmonic order</text><rect x="753.9" y="2.4" width="55.1" height="425.80" fill="#2b2f87"/><rect x="753.9" y="2.4" width="55.1" height="419.15" fill="#2d308f"/><rect x="753.9" y="2.4" width="55.1" height="412.49" fill="#2f3594"/><rect x="753.9" y="2.4" width="55.1" height="405.84" fill="#323b96"/><rect x="753.9" y="2.4" width="55.1" height="399.19" fill="#344199"/><rect x="753.9" y="2.4" width="55.1" height="392.53" fill="#37479c"/><rect x="753.9" y="2.4" width="55.1" height="385.88" fill="#384b9f"/><rect x="753.9" y="2.4" width="55.1" height="379.23" fill="#3950a2"/><rect x="753.9" y="2.4" width="55.1" height="372.57" fill="#3b54a4"/><rect x="753.9" y="2.4" width="55.1" height="365.92" fill="#3c57a7"/><rect x="753.9" y="2.4" width="55.1" height="359.27" fill="#3d5aa9"/><rect x="753.9" y="2.4" width="55.1" height="352.62" fill="#3d5dab"/><rect x="753.9" y="2.4" width="55.1" height="345.96" fill="#3e60ad"/><rect x="753.9" y="2.4" width="55.1" height="339.31" fill="#4065b0"/><rect x="753.9" y="2.4" width="55.1" height="332.66" fill="#426fb7"/><rect x="753.9" y="2.4" width="55.1" height="326.00" fill="#447abe"/><rect x="753.9" y="2.4" width="55.1" height="319.35" fill="#4685c5"/><rect x="753.9" y="2.4" width="55.1" height="312.70" fill="#4593cf"/><rect x="753.9" y="2.4" width="55.1" height="306.04" fill="#45a0d8"/><rect x="753.9" y="2.4" width="55.1" height="299.39" fill="#3db2e6"/><rect x="753.9" y="2.4" width="55.1" height="292.74" fill="#35c3f3"/><rect x="753.9" y="2.4" width="55.1" height="286.08" fill="#4bc6eb"/><rect x="753.9" y="2.4" width="55.1" height="279.43" fill="#60c9e4"/><rect x="753.9" y="2.4" width="55.1" height="272.78" fill="#6dcadb"/><rect x="753.9" y="2.4" width="55.1" height="266.12" fill="#6fc9cf"/><rect x="753.9" y="2.4" width="55.1" height="259.47" fill="#72c8c4"/><rect x="753.9" y="2.4" width="55.1" height="252.82" fill="#77c8b4"/><rect x="753.9" y="2.4" width="55.1" height="246.17" fill="#7cc8a3"/><rect x="753.9" y="2.4" width="55.1" height="239.51" fill="#81c892"/><rect x="753.9" y="2.4" width="55.1" height="232.86" fill="#88c982"/><rect x="753.9" y="2.4" width="55.1" height="226.21" fill="#91cb72"/><rect x="753.9" y="2.4" width="55.1" height="219.55" fill="#9acd62"/><rect x="753.9" y="2.4" width="55.1" height="212.90" fill="#a3cf52"/><rect x="753.9" y="2.4" width="55.1" height="206.25" fill="#a9d046"/><rect x="753.9" y="2.4" width="55.1" height="199.59" fill="#afd13b"/><rect x="753.9" y="2.4" width="55.1" height="192.94" fill="#bad531"/><rect x="753.9" y="2.4" width="55.1" height="186.29" fill="#cada29"/><rect x="753.9" y="2.4" width="55.1" height="179.63" fill="#d9e023"/><rect x="753.9" y="2.4" width="55.1" height="172.98" fill="#e4e521"/><rect x="753.9" y="2.4" width="55.1" height="166.33" fill="#f0e920"/><rect x="753.9" y="2.4" width="55.1" height="159.67" fill="#f9eb1d"/><rect x="753.9" y="2.4" width="55.1" height="153.02" fill="#fcdf0f"/><rect x="753.9" y="2.4" width="55.1" height="146.37" fill="#ffd301"/><rect x="753.9" y="2.4" width="55.1" height="139.72" fill="#fdc307"/><rect x="753.9" y="2.4" width="55.1" height="133.06" fill="#fbb20f"/><rect x="753.9" y="2.4" width="55.1" height="126.41" fill="#f9a217"/><rect x="753.9" y="2.4" width="55.1" height="119.76" fill="#f7921d"/><rect x="753.9" y="2.4" width="55.1" height="113.10" fill="#f6861f"/><rect x="753.9" y="2.4" width="55.1" height="106.45" fill="#f47a20"/><rect x="753.9" y="2.4" width="55.1" height="99.80" fill="#f36e22"/><rect x="753.9" y="2.4" width="55.1" height="93.14" fill="#f26223"/><rect x="753.9" y="2.4" width="55.1" height="86.49" fill="#f15624"/><rect x="753.9" y="2.4" width="55.1" height="79.84" fill="#f04b24"/><rect x="753.9" y="2.4" width="55.1" height="73.18" fill="#ef3f24"/><rect x="753.9" y="2.4" width="55.1" height="66.53" fill="#ef3324"/><rect x="753.9" y="2.4" width="55.1" height="59.88" fill="#ee2824"/><rect x="753.9" y="2.4" width="55.1" height="53.23" fill="#ed1c24"/><rect x="753.9" y="2.4" width="55.1" height="46.57" fill="#dc1d24"/><rect x="753.9" y="2.4" width="55.1" height="39.92" fill="#cc1d23"/><rect x="753.9" y="2.4" width="55.1" height="33.27" fill="#bb1e23"/><rect x="753.9" y="2.4" width="55.1" height="26.61" fill="#ab1d22"/><rect x="753.9" y="2.4" width="55.1" height="19.96" fill="#9e1c20"/><rect x="753.9" y="2.4" width="55.1" height="13.31" fill="#911a1e"/><rect x="753.9" y="2.4" width="55.1" height="6.65" fill="#84181b"/><rect x="753.9" y="2.4" width="55.1" height="425.8" fill="none" stroke="#000" stroke-width="1.5"/><path d="M753.9 343.0h4M809.0 343.0h-4M753.9 257.9h4M809.0 257.9h-4M753.9 172.7h4M809.0 172.7h-4M753.9 87.6h4M809.0 87.6h-4" stroke="#000" stroke-width="1.1" fill="none"/><text x="816.6" y="441.7"><tspan dy="3">−</tspan><tspan dy="-3" dx="0.6">10</tspan></text><text x="816.6" y="271.4"><tspan dy="3">−</tspan><tspan dy="-3" dx="0.6">9</tspan></text><text x="816.6" y="101.1"><tspan dy="3">−</tspan><tspan dy="-3" dx="0.6">8</tspan></text><rect x="204.0" y="13.6" width="253.4" height="201.0" fill="none" stroke="#fff" stroke-width="1.8"/><path d="M288.5 214.6v-2.8M288.5 13.6v2.8M372.9 214.6v-2.8M372.9 13.6v2.8M204.0 192.3h2.8M457.4 192.3h-2.8M204.0 169.9h2.8M457.4 169.9h-2.8M204.0 147.6h2.8M457.4 147.6h-2.8M204.0 125.3h2.8M457.4 125.3h-2.8M204.0 102.9h2.8M457.4 102.9h-2.8M204.0 80.6h2.8M457.4 80.6h-2.8M204.0 58.3h2.8M457.4 58.3h-2.8M204.0 35.9h2.8M457.4 35.9h-2.8" stroke="#fff" stroke-width="1.1" fill="none"/><g class="w" font-size="21.5" fill="#fff"><text x="204.0" y="242.3" text-anchor="middle">280</text><text x="288.5" y="242.3" text-anchor="middle">320</text><text x="372.9" y="242.3" text-anchor="middle">360</text><text x="457.4" y="242.3" text-anchor="middle">400</text><text x="195.2" y="222.4" text-anchor="end">10</text><text x="195.2" y="177.7" text-anchor="end">30</text><text x="195.2" y="133.1" text-anchor="end">50</text><text x="195.2" y="88.4" text-anchor="end">70</text><text x="195.2" y="43.7" text-anchor="end">90</text></g><text class="w" x="112" y="45" fill="#fff">(c)</text></g>
<g transform="translate(976.4 587.1)"><g clip-path="url(#cpm)"><g filter="url(#cm)"><rect x="65.7" y="-27.6" width="676.9" height="485.8" fill="#000"/><use href="#sdt" x="-248.0"/><use href="#sdt" x="-186.0"/><use href="#sdt" x="-124.0"/><use href="#sdt" x="-62.0"/><use href="#sdt" x="0.0"/><use href="#sdt" x="62.0"/><use href="#sdb" x="-248.0"/><use href="#sdb" x="-186.0"/><use href="#sdb" x="-124.0"/><use href="#sdb" x="-62.0"/><use href="#sdb" x="0.0"/><use href="#sdb" x="63.4"/><path class="l" d="M618.1 439.8 628.1 436.0 628.4 434.7 628.7 433.4 628.9 432.2 629.2 430.9 629.5 429.5 629.8 428.1 630.1 426.5 630.5 424.9 630.8 423.2 631.2 421.2 631.7 419.1 632.1 416.8 632.6 414.3 633.1 411.6 633.7 408.7 634.3 405.6 634.9 402.5 635.5 399.3 636.0 396.2 636.5 392.9 637.1 389.6 637.6 386.2 638.1 382.6 638.6 378.8 639.1 374.9 639.5 370.9 640.0 366.7 640.4 362.4 640.8 358.0 641.1 353.4 641.4 348.6 641.7 343.7 642.0 338.6 642.2 333.4 642.5 328.2 642.7 323.2 642.9 318.1 643.0 313.1 643.2 308.1 643.3 303.1 643.4 298.0 643.5 293.0 643.6 287.9 643.7 282.6 643.7 277.3 643.7 272.2 643.7 267.3 643.7 262.9 643.7 258.9 643.7 255.3 643.6 251.9 643.6 248.7 643.6 245.7 643.5 242.8 643.6 239.9 643.6 237.2 643.7 234.6 643.7 232.2 643.8 229.9 643.7 227.8 643.7 225.9 643.6 224.1 643.4 222.5 643.3 221.0 643.1 219.5 642.9 217.9 642.7 216.2 642.4 214.6 642.2 212.9 641.9 211.2 641.7 209.6 641.4 207.9 637.4 205.1 633.4 207.9 633.1 209.6 632.9 211.2 632.6 212.9 632.3 214.6 632.1 216.2 631.9 217.9 631.7 219.5 631.6 221.1 631.4 222.6 631.3 224.3 631.3 226.0 631.3 228.0 631.3 230.2 631.4 232.5 631.6 234.9 631.8 237.5 631.9 240.2 632.1 243.0 632.1 245.9 632.2 248.9 632.2 252.0 632.2 255.4 632.2 259.0 632.3 262.9 632.3 267.3 632.2 272.1 632.2 277.2 632.2 282.5 632.1 287.7 632.1 292.8 631.9 297.8 631.8 302.7 631.6 307.7 631.4 312.7 631.2 317.7 630.9 322.6 630.7 327.7 630.4 332.8 630.0 337.9 629.7 342.9 629.3 347.7 628.9 352.4 628.4 356.8 628.0 361.1 627.5 365.3 626.9 369.3 626.4 373.2 625.8 377.0 625.2 380.5 624.5 383.9 623.9 387.2 623.2 390.3 622.5 393.4 621.7 396.5 621.0 399.5 620.2 402.4 619.4 405.2 618.6 408.0 617.8 410.6 617.1 413.0 616.4 415.1 615.8 417.0 615.1 418.8 614.5 420.4 613.9 422.1 613.4 423.7 612.9 425.3 612.5 426.7 612.1 428.0 611.8 429.3 611.5 430.5 611.1 431.8Z" fill="url(#g134)" filter="url(#b6)"/><path class="l" d="M618.4 438.7 626.4 435.6 626.7 434.3 627.0 433.0 627.3 431.7 627.5 430.5 627.9 429.1 628.2 427.6 628.5 426.1 628.9 424.5 629.3 422.7 629.7 420.8 630.1 418.7 630.6 416.4 631.1 413.9 631.7 411.2 632.3 408.3 632.9 405.3 633.5 402.2 634.1 399.0 634.6 395.9 635.2 392.7 635.8 389.4 636.3 385.9 636.8 382.4 637.3 378.6 637.8 374.8 638.3 370.7 638.7 366.6 639.1 362.3 639.5 357.9 639.9 353.3 640.2 348.5 640.5 343.6 640.8 338.5 641.0 333.3 641.3 328.2 641.5 323.1 641.7 318.1 641.9 313.1 642.0 308.1 642.2 303.0 642.3 298.0 642.4 293.0 642.5 287.8 642.5 282.6 642.6 277.3 642.6 272.2 642.6 267.3 642.6 262.9 642.6 258.9 642.6 255.3 642.5 251.9 642.5 248.8 642.4 245.8 642.4 242.8 642.4 240.0 642.4 237.2 642.5 234.7 642.5 232.2 642.5 230.0 642.5 227.8 642.4 225.9 642.3 224.1 642.2 222.5 642.1 221.0 642.0 219.5 641.8 217.9 641.6 216.2 641.4 214.6 641.2 212.9 641.0 211.2 640.8 209.6 640.6 207.9 637.4 205.7 634.2 207.9 634.0 209.6 633.8 211.2 633.6 212.9 633.3 214.6 633.2 216.2 633.0 217.9 632.9 219.5 632.7 221.1 632.6 222.6 632.6 224.3 632.5 226.0 632.5 228.0 632.6 230.2 632.7 232.5 632.8 234.9 633.0 237.4 633.1 240.1 633.2 243.0 633.3 245.9 633.3 248.9 633.4 252.0 633.4 255.3 633.4 259.0 633.4 262.9 633.4 267.3 633.4 272.1 633.4 277.3 633.3 282.5 633.3 287.7 633.2 292.8 633.1 297.8 632.9 302.8 632.8 307.7 632.6 312.7 632.3 317.7 632.1 322.7 631.8 327.7 631.5 332.8 631.2 337.9 630.9 343.0 630.5 347.8 630.1 352.5 629.7 357.0 629.2 361.3 628.7 365.5 628.2 369.5 627.6 373.4 627.1 377.2 626.5 380.7 625.8 384.1 625.2 387.4 624.5 390.6 623.8 393.7 623.1 396.8 622.4 399.8 621.6 402.7 620.8 405.6 620.1 408.4 619.3 411.0 618.6 413.4 617.9 415.5 617.3 417.4 616.7 419.2 616.1 420.9 615.5 422.5 615.0 424.2 614.6 425.7 614.2 427.1 613.8 428.4 613.5 429.7 613.2 430.9 612.8 432.2Z" fill="url(#g135)" filter="url(#b4)"/><path class="l" d="M619.2 435.6 622.0 434.5 622.4 433.2 622.7 431.9 623.0 430.7 623.3 429.4 623.6 428.0 624.0 426.5 624.4 425.0 624.8 423.3 625.2 421.6 625.7 419.7 626.2 417.7 626.8 415.4 627.3 413.0 628.0 410.3 628.6 407.5 629.3 404.5 629.9 401.4 630.6 398.3 631.2 395.2 631.8 392.0 632.4 388.8 633.0 385.4 633.5 381.9 634.1 378.2 634.6 374.3 635.0 370.3 635.5 366.2 636.0 362.0 636.4 357.6 636.8 353.0 637.1 348.3 637.4 343.4 637.7 338.3 638.0 333.2 638.3 328.0 638.5 323.0 638.7 318.0 638.9 313.0 639.1 308.0 639.2 302.9 639.3 297.9 639.5 292.9 639.5 287.8 639.6 282.5 639.6 277.3 639.6 272.2 639.7 267.3 639.7 262.9 639.6 258.9 639.6 255.3 639.6 251.9 639.5 248.8 639.5 245.8 639.5 242.9 639.4 240.0 639.4 237.3 639.4 234.7 639.4 232.3 639.3 230.0 639.3 227.9 639.3 225.9 639.2 224.2 639.2 222.6 639.1 221.0 639.0 219.5 639.0 217.9 638.9 216.2 638.8 214.6 638.8 212.9 638.7 211.2 638.6 209.6 638.6 207.9 637.4 207.1 636.2 207.9 636.2 209.6 636.1 211.2 636.0 212.9 635.9 214.6 635.9 216.2 635.8 217.9 635.8 219.5 635.7 221.1 635.7 222.6 635.7 224.2 635.7 226.0 635.7 227.9 635.7 230.1 635.8 232.4 635.9 234.8 636.0 237.4 636.1 240.1 636.1 242.9 636.2 245.9 636.2 248.8 636.3 252.0 636.3 255.3 636.3 258.9 636.3 262.9 636.3 267.3 636.3 272.2 636.3 277.3 636.3 282.5 636.2 287.8 636.1 292.9 636.0 297.9 635.9 302.9 635.7 307.8 635.5 312.8 635.3 317.8 635.1 322.8 634.9 327.9 634.6 333.0 634.3 338.1 634.0 343.2 633.6 348.1 633.2 352.8 632.8 357.2 632.4 361.6 631.9 365.8 631.4 369.9 630.9 373.8 630.3 377.6 629.8 381.3 629.2 384.7 628.6 388.0 627.9 391.3 627.3 394.4 626.6 397.5 625.9 400.5 625.2 403.5 624.5 406.5 623.8 409.3 623.1 411.9 622.4 414.4 621.8 416.5 621.3 418.5 620.7 420.3 620.2 422.0 619.7 423.7 619.2 425.3 618.8 426.8 618.5 428.2 618.1 429.5 617.8 430.7 617.5 432.0 617.2 433.3Z" fill="url(#g136)" filter="url(#b3)"/><path class="l" d="M191.3 434.4 193.8 433.3 194.4 430.0 195.0 426.8 195.6 423.6 196.2 420.3 196.8 416.9 197.4 413.3 198.0 409.5 198.6 405.7 199.3 401.7 199.9 397.5 200.5 393.0 201.1 388.1 201.6 382.9 202.1 377.3 202.5 371.5 202.9 365.4 203.3 359.3 203.6 353.0 203.9 346.6 204.2 340.0 204.5 333.3 204.7 326.5 204.9 319.7 205.1 312.9 205.2 306.2 205.3 299.2 205.4 292.3 205.4 285.5 205.4 279.0 205.4 272.9 205.4 267.3 205.4 262.2 205.3 257.3 205.3 252.5 205.2 247.8 205.2 242.9 205.2 237.9 205.1 232.9 205.1 227.9 205.1 222.9 205.0 217.9 205.0 212.9 203.6 211.9 202.2 212.9 202.2 217.9 202.1 222.9 202.1 227.9 202.1 232.9 202.0 237.9 202.0 242.9 202.0 247.8 201.9 252.5 201.9 257.3 201.9 262.2 201.9 267.3 201.8 272.9 201.7 279.0 201.7 285.5 201.6 292.3 201.6 299.2 201.5 306.1 201.3 312.9 201.1 319.6 200.9 326.3 200.6 333.1 200.3 339.8 199.9 346.4 199.6 352.8 199.2 359.0 198.9 365.2 198.5 371.2 198.1 377.0 197.6 382.5 197.1 387.7 196.5 392.5 195.9 396.9 195.3 401.0 194.6 405.0 193.9 408.8 193.2 412.5 192.6 416.2 192.0 419.6 191.3 422.8 190.7 426.0 190.1 429.2 189.4 432.5Z" fill="url(#g137)" filter="url(#b2)"/><path class="l" d="M221.9 429.5 224.9 428.8 226.1 426.5 227.2 424.1 228.4 421.7 229.6 419.3 230.7 416.7 231.8 414.0 232.9 411.1 234.0 408.0 235.0 404.9 236.0 401.7 236.8 398.6 237.5 395.8 238.0 393.1 238.4 390.5 238.7 388.0 238.9 385.7 239.0 383.4 239.0 381.1 238.9 378.9 238.8 376.8 238.6 374.7 238.3 372.8 238.0 370.8 237.8 368.9 235.6 367.4 233.4 368.9 233.2 370.9 233.1 372.9 232.9 374.8 232.7 376.7 232.5 378.7 232.2 380.7 231.9 382.7 231.5 384.9 231.1 387.0 230.7 389.2 230.2 391.6 229.7 394.0 229.1 396.8 228.4 399.7 227.7 402.8 226.9 405.9 226.2 409.0 225.4 411.8 224.6 414.4 223.8 417.0 222.9 419.4 222.0 421.9 221.2 424.4 220.3 427.0Z" fill="url(#g138)" filter="url(#b5)"/><path class="l" d="M219.3 434.9 221.0 434.3 221.6 432.4 222.1 430.5 222.6 428.6 223.1 426.7 223.6 425.0 224.1 423.3 224.4 421.8 224.7 420.4 225.0 419.0 225.2 417.8 225.5 416.5 225.8 415.2 224.8 414.1 223.4 414.6 223.1 415.9 222.7 417.1 222.3 418.4 222.0 419.7 221.6 421.0 221.1 422.5 220.7 424.2 220.2 425.9 219.7 427.8 219.2 429.7 218.7 431.6 218.2 433.5Z" fill="url(#g139)" filter="url(#b2)"/><path class="l" d="M652.4 433.4 654.8 432.2 655.1 430.0 655.5 427.8 655.9 425.6 656.2 423.3 656.6 420.9 657.0 418.2 657.4 415.2 657.8 412.0 658.2 408.6 658.6 405.1 659.0 401.6 659.3 398.1 659.6 394.7 659.8 391.3 660.0 387.9 660.2 384.5 660.3 381.2 660.4 378.0 660.5 375.0 660.5 372.1 660.4 369.2 660.4 366.5 660.3 363.7 660.3 360.9 659.1 360.1 657.9 360.9 657.7 363.7 657.6 366.4 657.4 369.2 657.2 372.0 657.0 374.8 656.8 377.8 656.5 380.9 656.3 384.2 656.0 387.6 655.6 391.0 655.3 394.3 654.9 397.7 654.5 401.1 654.0 404.5 653.6 408.0 653.1 411.4 652.6 414.6 652.2 417.6 651.9 420.3 651.6 422.7 651.3 424.9 651.0 427.1 650.7 429.3 650.4 431.6Z" fill="url(#g140)" filter="url(#b3)"/><path class="l" d="M664.2 433.5 666.9 432.5 667.5 430.7 668.0 428.9 668.5 427.1 669.1 425.3 669.6 423.5 670.1 421.6 670.6 419.6 671.1 417.6 671.6 415.5 672.1 413.5 672.6 411.4 672.9 409.4 673.3 407.5 673.5 405.6 673.8 403.7 674.0 401.9 674.2 400.0 674.4 398.2 672.8 396.7 670.8 397.6 670.4 399.4 670.0 401.2 669.6 403.0 669.1 404.8 668.7 406.6 668.3 408.4 667.8 410.3 667.2 412.3 666.7 414.3 666.1 416.3 665.6 418.3 665.1 420.2 664.6 422.1 664.1 424.0 663.7 425.8 663.2 427.6 662.7 429.4 662.3 431.3Z" fill="url(#g141)" filter="url(#b3)"/><path class="l" d="M677.2 433.5 679.9 432.5 680.5 430.7 681.0 428.9 681.6 427.0 682.2 425.2 682.7 423.3 683.1 421.5 683.5 419.7 683.8 418.0 684.0 416.3 684.2 414.6 684.4 413.0 684.6 411.3 682.9 409.5 680.6 410.5 680.2 412.2 679.8 413.8 679.4 415.4 678.9 417.0 678.5 418.6 678.1 420.3 677.6 422.0 677.2 423.8 676.7 425.6 676.2 427.5 675.8 429.4 675.3 431.3Z" fill="url(#g142)" filter="url(#b3)"/><path class="l" d="M695.0 433.9 698.5 432.8 699.2 430.6 699.9 428.4 700.6 426.2 701.3 424.1 702.0 422.0 702.7 419.8 703.4 417.5 704.1 414.8 704.8 412.3 705.4 410.3 705.8 409.1 704.6 409.9 701.6 409.2 701.7 409.5 702.2 411.0 702.7 413.0 703.1 415.3 703.4 417.4 703.7 419.4 703.9 421.7 704.0 424.2 704.1 426.9 704.3 429.5 704.4 432.1 707.7 434.1 710.8 431.7 710.7 429.2 710.5 426.6 710.4 423.9 710.3 421.3 710.1 418.8 709.8 416.4 709.4 414.1 708.9 411.7 708.4 409.4 707.7 407.3 706.7 405.3 702.6 403.9 700.2 406.1 699.3 408.2 698.6 410.6 697.9 413.2 697.2 415.7 696.5 418.0 695.9 420.1 695.3 422.2 694.6 424.4 694.0 426.6 693.4 428.8 692.7 431.0Z" fill="url(#g143)" filter="url(#b4)"/><path class="l" d="M709.4 414.6 712.0 413.2 712.3 410.7 712.7 408.2 713.0 405.6 713.4 403.1 713.7 400.6 714.0 398.2 714.2 395.9 714.4 393.7 714.6 391.5 714.8 389.4 714.9 387.3 715.1 385.1 713.3 383.5 711.1 384.7 710.8 386.8 710.5 388.9 710.2 391.0 709.9 393.2 709.5 395.3 709.2 397.6 708.9 400.0 708.6 402.4 708.2 405.0 707.9 407.5 707.6 410.1 707.2 412.6Z" fill="url(#g144)" filter="url(#b3)"/><ellipse class="l" cx="239.6" cy="428.9" rx="1.4" ry="2.4" fill="#404040" filter="url(#b1)"/><ellipse class="l" cx="245.6" cy="428.9" rx="1.4" ry="2.4" fill="#404040" filter="url(#b1)"/><ellipse class="l" cx="315.6" cy="428.9" rx="1.4" ry="2.4" fill="#404040" filter="url(#b1)"/><ellipse class="l" cx="377.6" cy="428.9" rx="1.4" ry="2.4" fill="#404040" filter="url(#b1)"/><ellipse class="l" cx="439.6" cy="428.9" rx="1.4" ry="2.4" fill="#404040" filter="url(#b1)"/><ellipse class="l" cx="501.6" cy="428.9" rx="1.4" ry="2.4" fill="#404040" filter="url(#b1)"/><ellipse class="l" cx="563.6" cy="428.9" rx="1.4" ry="2.4" fill="#404040" filter="url(#b1)"/><ellipse class="l" cx="623.6" cy="428.9" rx="1.4" ry="2.4" fill="#404040" filter="url(#b1)"/><ellipse class="l" cx="643.6" cy="428.9" rx="1.4" ry="2.4" fill="#404040" filter="url(#b1)"/></g></g><g clip-path="url(#cpi)"><g filter="url(#cm)"><rect x="65.7" y="-27.6" width="676.9" height="485.8" fill="#000"/><path class="l" d="M238.0 131.7 241.3 125.1 240.3 123.4 239.3 121.7 238.4 120.2 237.7 118.8 237.2 117.7 236.8 116.6 236.6 115.3 236.5 113.7 236.4 112.0 236.5 110.3 236.7 108.6 236.9 107.2 237.1 106.2 237.5 105.2 238.1 104.1 238.8 102.7 239.6 101.2 240.4 99.6 236.8 93.2 229.6 94.4 228.9 95.7 228.2 97.0 227.4 98.6 226.5 100.4 225.7 102.5 225.1 104.8 224.8 107.1 224.5 109.5 224.4 111.9 224.5 114.4 224.7 116.9 225.2 119.4 225.9 121.9 226.9 124.1 228.0 126.1 229.0 127.8 229.9 129.3 230.7 130.9Z" fill="url(#g145)" filter="url(#b5)"/><path class="l" d="M236.7 129.3 237.9 127.0 237.0 125.3 236.0 123.6 235.1 122.1 234.2 120.5 233.6 119.0 233.1 117.5 232.8 115.8 232.6 113.9 232.6 112.0 232.7 110.0 232.9 108.1 233.1 106.4 233.5 105.0 234.0 103.6 234.7 102.3 235.4 100.9 236.2 99.5 236.9 97.9 235.7 95.6 233.1 96.1 232.4 97.5 231.6 98.9 230.8 100.3 230.1 101.9 229.4 103.7 228.9 105.6 228.6 107.6 228.4 109.7 228.3 111.9 228.3 114.2 228.5 116.4 228.9 118.5 229.5 120.5 230.4 122.4 231.3 124.2 232.3 125.8 233.2 127.4 234.1 129.0Z" fill="url(#g146)" filter="url(#b4)"/><path class="l" d="M174.6 236.1 190.7 240.6 192.8 239.4 194.8 238.1 196.8 236.9 198.8 235.6 200.9 234.4 202.9 233.1 204.8 231.9 206.6 230.7 208.3 229.6 210.2 228.3 212.2 226.9 214.5 225.4 217.2 223.6 220.4 221.6 224.1 219.2 228.1 216.4 232.2 213.3 236.1 209.9 239.6 206.4 242.8 202.9 245.8 199.3 248.5 195.6 251.0 191.9 253.4 188.1 255.6 184.1 257.5 180.1 259.1 176.3 260.4 172.6 261.5 169.2 262.5 165.8 263.5 162.3 264.3 158.6 264.9 155.1 265.5 151.6 265.9 148.3 266.3 145.0 266.7 141.6 267.0 138.1 267.3 134.7 267.5 131.4 267.6 128.3 267.7 125.2 267.7 122.1 267.6 119.0 267.4 116.1 267.3 113.3 267.2 110.6 267.1 108.0 267.2 105.4 267.3 102.7 267.5 100.0 267.7 97.5 267.8 95.1 267.8 93.0 267.7 91.2 267.5 89.6 267.3 88.1 267.0 86.8 266.8 85.4 266.5 84.0 248.4 71.3 230.3 84.0 230.0 85.4 229.8 86.8 229.5 88.1 229.3 89.6 229.1 91.2 229.0 93.0 229.0 95.2 229.1 97.5 229.3 100.0 229.5 102.7 229.6 105.3 229.7 108.0 229.6 110.7 229.5 113.4 229.4 116.1 229.3 118.7 229.1 121.3 228.9 124.0 228.8 126.7 228.7 129.6 228.5 132.4 228.4 135.1 228.1 137.8 227.9 140.4 227.5 143.1 227.1 145.8 226.7 148.4 226.2 150.9 225.7 153.3 225.1 155.8 224.4 158.5 223.7 161.1 223.0 163.6 222.3 165.8 221.6 167.8 220.6 169.9 219.4 172.2 217.9 174.6 216.2 177.1 214.4 179.6 212.5 181.9 210.7 184.1 208.7 186.2 206.2 188.5 203.2 191.0 200.1 193.5 196.8 196.1 193.9 198.6 191.5 200.8 189.6 202.6 187.9 204.2 186.3 205.7 184.8 207.2 183.1 208.9 181.5 210.6 179.8 212.4 178.2 214.1 176.5 215.9 174.9 217.6 173.3 219.4Z" fill="url(#g147)" filter="url(#b12)"/><path class="l" d="M176.0 234.9 189.0 238.5 191.0 237.2 193.0 235.9 195.0 234.6 196.9 233.3 198.9 232.0 200.9 230.7 202.8 229.4 204.5 228.2 206.3 227.0 208.1 225.7 210.2 224.3 212.5 222.7 215.1 220.9 218.3 218.8 222.0 216.3 225.9 213.6 229.8 210.6 233.6 207.3 236.9 204.0 240.0 200.6 242.8 197.1 245.4 193.5 247.9 189.9 250.1 186.3 252.2 182.5 254.0 178.7 255.5 175.0 256.7 171.5 257.8 168.1 258.8 164.8 259.7 161.4 260.5 157.8 261.1 154.4 261.6 151.1 262.1 147.8 262.5 144.5 262.9 141.2 263.2 137.8 263.4 134.5 263.6 131.3 263.7 128.2 263.8 125.1 263.8 122.0 263.8 119.0 263.6 116.1 263.5 113.3 263.4 110.6 263.4 108.0 263.4 105.4 263.6 102.7 263.7 100.0 263.8 97.5 263.9 95.1 263.9 93.0 263.8 91.2 263.7 89.6 263.5 88.1 263.3 86.8 263.1 85.4 262.9 84.0 248.4 73.9 233.9 84.0 233.7 85.4 233.5 86.8 233.3 88.1 233.1 89.6 233.0 91.2 232.9 93.0 232.9 95.1 233.0 97.5 233.1 100.0 233.3 102.7 233.4 105.3 233.4 108.0 233.4 110.7 233.3 113.4 233.2 116.1 233.1 118.8 233.0 121.4 232.8 124.1 232.7 126.9 232.5 129.8 232.4 132.6 232.2 135.4 232.0 138.2 231.7 140.9 231.3 143.6 230.9 146.4 230.5 149.1 230.0 151.7 229.5 154.2 228.8 156.8 228.1 159.5 227.4 162.3 226.6 164.8 225.8 167.2 225.0 169.5 223.9 171.7 222.5 174.1 220.9 176.7 219.2 179.3 217.2 181.9 215.2 184.4 213.2 186.7 211.0 188.9 208.4 191.3 205.3 193.8 202.1 196.3 198.9 198.9 195.9 201.3 193.6 203.4 191.6 205.2 189.9 206.7 188.3 208.2 186.8 209.7 185.1 211.3 183.4 213.0 181.7 214.7 180.0 216.4 178.4 218.1 176.7 219.8 175.0 221.5Z" fill="url(#g148)" filter="url(#b9)"/><path class="l" d="M180.2 231.5 184.1 232.6 186.0 231.1 187.9 229.7 189.7 228.2 191.6 226.8 193.5 225.4 195.4 223.9 197.2 222.5 198.9 221.2 200.5 219.9 202.3 218.5 204.4 217.0 206.7 215.2 209.4 213.2 212.7 210.9 216.2 208.4 219.7 205.8 223.3 203.0 226.5 200.1 229.3 197.1 232.0 194.0 234.5 190.9 236.9 187.6 239.0 184.4 240.9 181.2 242.7 177.9 244.1 174.7 245.4 171.4 246.4 168.2 247.4 165.1 248.3 162.0 249.1 158.9 249.8 155.7 250.4 152.5 250.9 149.4 251.3 146.3 251.7 143.3 252.1 140.1 252.3 137.0 252.6 133.8 252.7 130.7 252.8 127.7 252.9 124.8 253.0 121.8 253.0 118.9 253.0 116.1 252.9 113.3 252.9 110.6 252.9 108.0 252.9 105.3 253.0 102.7 253.0 100.0 253.0 97.5 253.0 95.1 253.0 93.0 253.0 91.2 253.0 89.6 252.9 88.1 252.9 86.8 252.8 85.4 252.7 84.0 248.4 81.0 244.1 84.0 244.0 85.4 243.9 86.8 243.9 88.1 243.8 89.6 243.8 91.2 243.8 93.0 243.8 95.1 243.8 97.5 243.8 100.0 243.9 102.7 243.9 105.3 243.9 108.0 243.9 110.7 243.9 113.4 243.9 116.1 243.8 118.9 243.8 121.6 243.7 124.4 243.5 127.3 243.4 130.3 243.2 133.3 243.1 136.3 242.8 139.2 242.5 142.1 242.1 145.1 241.7 148.0 241.2 150.9 240.7 153.8 240.0 156.7 239.3 159.6 238.5 162.5 237.6 165.5 236.7 168.4 235.7 171.2 234.5 174.0 233.1 176.8 231.4 179.7 229.5 182.6 227.4 185.5 225.2 188.4 222.8 191.2 220.3 193.9 217.6 196.5 214.5 199.1 211.1 201.7 207.8 204.2 204.6 206.6 201.7 208.8 199.4 210.7 197.4 212.4 195.6 213.8 194.0 215.2 192.4 216.6 190.6 218.1 188.8 219.6 187.0 221.2 185.2 222.8 183.5 224.3 181.7 225.9 179.9 227.4Z" fill="url(#g149)" filter="url(#b9)"/><ellipse cx="232.5" cy="111.5" rx="5.0" ry="3.0" fill="#000" fill-opacity="0.800" filter="url(#b4)" transform="rotate(-30.0 232.5 111.5)"/><path class="l" d="M300.8 161.2 296.2 169.2 296.5 170.5 296.6 171.8 296.9 173.3 297.4 175.2 298.2 177.3 299.3 179.4 300.5 181.3 301.9 183.3 303.4 185.4 305.3 187.6 307.4 189.8 309.9 191.9 312.5 193.8 315.3 195.5 318.0 197.0 320.5 198.3 322.9 199.5 325.2 200.8 336.1 195.4 334.8 183.2 332.3 181.9 329.8 180.5 327.4 179.3 325.3 178.1 323.5 177.1 322.1 176.1 320.9 175.1 319.6 173.9 318.3 172.6 317.0 171.2 315.8 169.8 314.7 168.6 313.9 167.8 313.2 167.2 312.5 166.4 311.7 165.4 310.8 164.1 309.8 162.8Z" fill="url(#g150)" filter="url(#b9)"/><path class="l" d="M301.2 162.2 297.6 168.5 297.9 169.8 298.1 171.1 298.5 172.6 299.0 174.4 299.8 176.3 300.8 178.3 302.0 180.2 303.4 182.1 304.9 184.1 306.7 186.2 308.8 188.3 311.1 190.3 313.6 192.2 316.3 193.8 318.9 195.2 321.4 196.5 323.8 197.8 326.2 199.0 334.9 194.7 333.8 185.0 331.4 183.6 328.9 182.3 326.5 181.0 324.3 179.9 322.4 178.7 320.9 177.7 319.5 176.6 318.2 175.3 316.8 173.9 315.5 172.4 314.3 171.0 313.2 169.7 312.3 168.8 311.6 168.0 310.9 167.1 310.2 166.1 309.3 164.8 308.4 163.5Z" fill="url(#g151)" filter="url(#b6)"/><path class="l" d="M302.4 164.6 301.0 166.9 301.5 168.2 302.0 169.5 302.4 170.9 303.0 172.3 303.8 173.9 304.8 175.5 306.0 177.2 307.3 179.0 308.7 180.8 310.4 182.7 312.2 184.5 314.2 186.3 316.5 187.9 318.9 189.3 321.3 190.7 323.8 192.0 326.3 193.2 328.6 194.5 331.8 193.0 331.4 189.5 329.0 188.1 326.5 186.8 324.1 185.6 321.7 184.3 319.6 183.0 317.8 181.7 316.1 180.3 314.5 178.8 313.0 177.2 311.6 175.5 310.4 173.9 309.2 172.5 308.3 171.2 307.6 170.0 306.9 168.9 306.3 167.7 305.7 166.4 305.0 165.1Z" fill="url(#g152)" filter="url(#b5)"/><path class="l" d="M311.8 183.3 313.4 195.4 315.4 197.3 317.3 199.4 319.4 201.4 321.6 203.5 323.9 205.5 326.4 207.4 328.9 209.0 331.3 210.4 333.6 211.6 335.8 212.7 337.7 213.5 339.7 214.3 341.8 215.0 344.1 215.6 346.1 216.1 347.9 216.4 349.5 216.6 351.0 216.8 352.8 217.0 354.7 217.0 356.3 217.0 357.9 216.9 359.3 216.8 360.7 216.7 362.4 216.6 363.9 216.5 365.3 216.3 366.8 216.1 368.4 215.9 370.4 215.7 372.9 215.6 375.7 215.4 378.8 215.2 382.0 215.1 385.2 215.0 388.3 214.9 391.3 214.8 394.5 214.8 397.7 214.9 400.9 214.9 404.1 215.0 407.0 215.1 409.6 215.3 412.1 215.5 414.5 215.7 416.7 215.9 418.9 216.1 420.9 216.3 422.8 216.5 424.5 216.6 426.1 216.8 427.6 216.9 429.1 217.0 430.7 217.1 436.3 211.9 433.3 204.9 431.8 204.4 430.3 203.9 428.9 203.4 427.4 202.9 425.8 202.3 424.1 201.7 422.2 201.0 420.2 200.3 418.1 199.5 415.9 198.7 413.5 197.8 411.0 196.9 408.4 195.7 405.6 194.5 402.6 193.1 399.6 191.8 396.4 190.4 393.3 189.1 390.2 187.9 386.9 186.6 383.7 185.4 380.6 184.2 377.7 183.2 375.0 182.3 372.5 181.5 370.3 180.9 368.3 180.4 366.5 180.0 364.9 179.6 363.3 179.3 361.4 179.0 359.6 178.7 357.9 178.5 356.4 178.4 355.1 178.2 353.8 178.2 352.2 178.1 350.7 178.2 349.5 178.2 348.4 178.4 347.5 178.5 346.3 178.7 344.9 178.8 343.3 178.9 342.0 179.1 340.6 179.3 339.2 179.5 337.6 179.6 335.8 179.6 333.6 179.4 331.0 179.1 328.2 178.6 325.4 178.1 322.6 177.6Z" fill="url(#g153)" filter="url(#b11)"/><path class="l" d="M313.0 183.9 314.4 193.6 316.4 195.4 318.4 197.3 320.5 199.2 322.8 201.1 325.1 202.9 327.5 204.6 329.9 206.1 332.2 207.3 334.5 208.4 336.5 209.3 338.4 210.1 340.3 210.8 342.4 211.4 344.5 211.9 346.4 212.3 348.2 212.6 349.7 212.8 351.3 213.0 353.1 213.1 354.8 213.2 356.5 213.1 358.0 213.1 359.5 213.0 361.0 213.0 362.6 212.9 364.2 212.8 365.6 212.7 367.1 212.6 368.8 212.5 370.9 212.4 373.4 212.3 376.2 212.3 379.3 212.2 382.5 212.2 385.7 212.3 388.8 212.3 391.8 212.4 395.0 212.5 398.2 212.7 401.4 212.9 404.5 213.1 407.4 213.3 410.0 213.6 412.5 213.8 414.8 214.1 417.1 214.4 419.2 214.6 421.2 214.9 423.1 215.1 424.8 215.2 426.4 215.4 427.9 215.6 429.4 215.7 431.0 215.9 435.4 211.7 433.0 206.1 431.5 205.6 430.1 205.2 428.6 204.7 427.1 204.2 425.5 203.7 423.8 203.1 421.9 202.5 419.9 201.9 417.7 201.2 415.5 200.4 413.1 199.6 410.6 198.7 408.0 197.7 405.1 196.5 402.1 195.3 399.1 194.1 395.9 192.8 392.8 191.7 389.7 190.6 386.5 189.5 383.2 188.4 380.1 187.4 377.2 186.4 374.5 185.6 372.1 185.0 370.0 184.4 368.0 184.0 366.3 183.6 364.7 183.3 363.0 183.0 361.2 182.8 359.4 182.5 357.7 182.4 356.3 182.2 354.9 182.1 353.5 182.0 351.9 182.0 350.5 182.0 349.2 182.0 348.0 182.1 346.9 182.2 345.7 182.2 344.1 182.3 342.6 182.3 341.1 182.4 339.7 182.4 338.1 182.4 336.5 182.4 334.6 182.2 332.4 181.8 329.8 181.3 327.2 180.7 324.4 180.0 321.6 179.4Z" fill="url(#g154)" filter="url(#b9)"/><path class="l" d="M316.3 185.6 316.7 189.0 319.0 190.4 321.2 191.9 323.6 193.4 325.9 194.8 328.2 196.2 330.4 197.4 332.6 198.4 334.6 199.2 336.6 199.9 338.5 200.5 340.3 201.0 342.1 201.5 343.9 201.9 345.6 202.2 347.3 202.5 348.9 202.6 350.5 202.8 352.0 202.9 353.7 203.0 355.3 203.1 356.9 203.1 358.5 203.2 360.0 203.2 361.6 203.2 363.3 203.3 364.8 203.3 366.4 203.4 368.0 203.4 369.9 203.5 372.1 203.7 374.6 203.9 377.5 204.2 380.6 204.5 383.8 204.8 387.0 205.2 390.1 205.6 393.2 206.0 396.3 206.5 399.5 207.0 402.6 207.6 405.6 208.1 408.4 208.6 411.0 209.0 413.5 209.5 415.8 209.9 418.0 210.3 420.1 210.7 422.1 211.1 423.9 211.4 425.6 211.7 427.1 211.9 428.6 212.2 430.1 212.4 431.6 212.7 433.2 211.3 432.4 209.3 430.8 208.9 429.4 208.5 427.9 208.2 426.4 207.8 424.7 207.4 422.9 206.9 421.0 206.4 419.0 205.9 416.8 205.4 414.5 204.8 412.1 204.1 409.6 203.4 406.8 202.7 403.9 201.8 400.9 201.0 397.7 200.1 394.6 199.2 391.5 198.4 388.4 197.6 385.2 196.9 382.0 196.1 378.9 195.5 376.0 194.8 373.3 194.3 371.1 193.9 369.0 193.6 367.2 193.3 365.6 193.1 364.0 192.9 362.4 192.8 360.6 192.6 358.9 192.5 357.3 192.4 355.8 192.3 354.3 192.2 352.8 192.1 351.2 192.0 349.7 191.9 348.3 191.9 346.9 191.8 345.4 191.7 343.9 191.5 342.3 191.3 340.6 191.1 339.0 190.8 337.2 190.5 335.5 190.1 333.6 189.6 331.5 188.9 329.2 188.1 326.8 187.1 324.3 186.1 321.8 185.0 319.3 184.0Z" fill="url(#g155)" filter="url(#b9)"/><path class="l" d="M333.1 197.6 326.6 195.5 325.3 196.6 324.1 197.7 322.8 198.8 321.5 199.9 320.3 200.9 319.1 201.9 317.8 203.0 316.6 204.0 315.3 205.0 314.1 205.9 312.8 206.8 311.6 207.7 310.4 208.5 309.2 209.2 307.9 210.0 306.6 210.7 305.3 211.5 303.9 212.3 303.4 217.4 308.1 219.7 309.4 219.0 310.7 218.3 312.1 217.6 313.5 216.9 314.9 216.1 316.4 215.3 317.8 214.5 319.3 213.6 320.7 212.7 322.1 211.8 323.5 210.9 324.9 210.1 326.4 209.1 327.8 208.2 329.2 207.3 330.6 206.3 332.0 205.4 333.4 204.5Z" fill="url(#g156)" filter="url(#b5)"/><path class="l" d="M332.5 198.1 327.3 196.4 326.0 197.5 324.7 198.6 323.4 199.6 322.2 200.7 320.9 201.7 319.7 202.8 318.4 203.8 317.1 204.8 315.8 205.7 314.6 206.7 313.3 207.6 312.1 208.4 310.9 209.2 309.6 210.0 308.3 210.8 307.0 211.5 305.7 212.3 304.4 213.0 303.9 217.2 307.6 219.0 309.0 218.3 310.3 217.6 311.7 216.9 313.1 216.1 314.5 215.4 315.9 214.6 317.3 213.7 318.7 212.8 320.2 211.9 321.6 211.1 323.0 210.1 324.3 209.2 325.8 208.3 327.2 207.4 328.6 206.4 330.0 205.5 331.3 204.5 332.7 203.6Z" fill="url(#g157)" filter="url(#b3)"/><path class="l" d="M330.9 199.3 329.0 198.7 327.7 199.7 326.4 200.8 325.1 201.8 323.8 202.8 322.5 203.8 321.2 204.8 319.8 205.8 318.5 206.8 317.2 207.7 315.9 208.7 314.6 209.5 313.3 210.4 312.0 211.2 310.7 212.0 309.4 212.7 308.1 213.4 306.7 214.2 305.4 214.9 305.3 216.4 306.6 217.1 307.9 216.3 309.3 215.6 310.6 214.9 312.0 214.2 313.3 213.4 314.7 212.6 316.1 211.7 317.4 210.9 318.8 210.0 320.1 209.0 321.5 208.1 322.8 207.2 324.2 206.2 325.6 205.2 326.9 204.2 328.3 203.3 329.6 202.3 331.0 201.3Z" fill="url(#g158)" filter="url(#b2)"/><ellipse cx="372.0" cy="211.6" rx="32.0" ry="2.0" fill="#000" fill-opacity="0.900" filter="url(#b3)"/><ellipse cx="421.4" cy="210.4" rx="4.0" ry="2.3" fill="#000" fill-opacity="0.950" filter="url(#b3)"/><path class="l" d="M410.7 229.2 420.5 233.5 422.9 232.5 425.3 231.6 427.7 230.6 430.1 229.7 432.6 228.7 435.1 227.7 437.6 226.7 440.3 225.7 443.2 224.5 446.3 223.2 449.3 221.7 452.3 219.9 455.0 218.0 457.5 216.1 459.7 214.0 461.7 212.0 463.5 210.0 465.3 207.9 467.1 205.6 468.6 203.2 469.8 201.2 470.7 199.4 471.5 197.9 472.3 196.4 473.4 194.5 474.6 192.3 475.9 190.1 477.2 187.8 478.4 185.5 479.7 183.2 473.0 167.8 456.3 168.8 454.8 170.9 453.4 173.1 451.9 175.3 450.4 177.4 449.0 179.5 447.7 181.6 446.4 183.8 445.3 185.7 444.5 187.2 443.9 188.3 443.3 189.2 442.7 190.1 441.7 191.4 440.6 192.8 439.4 194.1 438.2 195.4 436.9 196.8 435.7 198.1 434.3 199.4 432.5 201.0 430.5 202.7 428.2 204.6 425.8 206.5 423.5 208.3 421.4 210.1 419.4 211.8 417.4 213.5 415.5 215.2 413.5 216.8 411.5 218.5Z" fill="url(#g159)" filter="url(#b10)"/><path class="l" d="M411.8 228.5 419.6 232.0 422.0 231.0 424.3 229.9 426.7 228.9 429.1 227.9 431.5 226.8 433.9 225.7 436.4 224.7 439.1 223.5 442.0 222.3 444.9 221.0 447.8 219.5 450.7 217.8 453.2 215.9 455.5 214.0 457.7 212.0 459.6 210.1 461.4 208.1 463.1 206.1 464.7 203.9 466.1 201.7 467.2 199.8 468.2 198.0 469.0 196.5 469.9 194.9 471.0 193.0 472.2 190.8 473.5 188.6 474.8 186.3 476.1 184.0 477.4 181.8 472.0 169.4 458.6 170.2 457.2 172.4 455.7 174.6 454.3 176.8 452.8 178.9 451.5 181.0 450.1 183.1 448.9 185.2 447.8 187.1 447.0 188.6 446.3 189.8 445.7 190.8 444.9 191.9 443.9 193.3 442.7 194.7 441.4 196.1 440.1 197.5 438.7 198.9 437.3 200.2 435.8 201.7 433.9 203.2 431.8 204.9 429.4 206.7 427.0 208.5 424.7 210.3 422.5 212.0 420.5 213.6 418.4 215.2 416.4 216.8 414.4 218.4 412.4 220.0Z" fill="url(#g160)" filter="url(#b8)"/><path class="l" d="M414.7 226.8 417.1 227.8 419.3 226.6 421.6 225.3 423.8 224.1 426.1 222.9 428.3 221.6 430.7 220.3 433.1 219.0 435.7 217.6 438.4 216.2 441.0 214.8 443.6 213.2 446.0 211.6 448.2 209.9 450.1 208.2 452.0 206.5 453.7 204.7 455.2 202.9 456.7 201.1 458.1 199.3 459.2 197.6 460.2 195.9 461.1 194.2 461.9 192.5 463.0 190.8 464.1 188.8 465.4 186.7 466.8 184.5 468.1 182.2 469.5 179.9 470.8 177.7 469.2 174.0 465.2 174.3 463.8 176.5 462.4 178.7 461.0 180.9 459.6 183.1 458.3 185.2 457.0 187.2 455.9 189.1 454.9 190.9 454.1 192.5 453.3 194.0 452.4 195.4 451.3 196.9 450.0 198.5 448.6 200.1 447.1 201.7 445.5 203.3 443.8 204.8 442.0 206.4 440.0 207.9 437.8 209.4 435.3 211.0 432.8 212.6 430.3 214.1 427.9 215.7 425.7 217.2 423.5 218.6 421.3 220.0 419.2 221.4 417.1 222.8 414.9 224.2Z" fill="url(#g161)" filter="url(#b6)"/><ellipse class="l" cx="455.0" cy="168.0" rx="5.0" ry="9.0" fill="#292929" filter="url(#b6)"/></g></g><rect x="95.7" y="2.4" width="616.9" height="425.8" fill="none" stroke="#000" stroke-width="1.5"/><path d="M151.8 428.2v-6.5M151.8 2.4v6.5M207.8 428.2v-6.5M207.8 2.4v6.5M263.9 428.2v-6.5M263.9 2.4v6.5M320.0 428.2v-6.5M320.0 2.4v6.5M376.0 428.2v-6.5M376.0 2.4v6.5M432.1 428.2v-6.5M432.1 2.4v6.5M488.2 428.2v-6.5M488.2 2.4v6.5M544.3 428.2v-6.5M544.3 2.4v6.5M600.3 428.2v-6.5M600.3 2.4v6.5M656.4 428.2v-6.5M656.4 2.4v6.5M95.7 380.9h6.5M712.6 380.9h-6.5M95.7 333.6h6.5M712.6 333.6h-6.5M95.7 286.3h6.5M712.6 286.3h-6.5M95.7 239.0h6.5M712.6 239.0h-6.5M95.7 191.6h6.5M712.6 191.6h-6.5M95.7 144.3h6.5M712.6 144.3h-6.5M95.7 97.0h6.5M712.6 97.0h-6.5M95.7 49.7h6.5M712.6 49.7h-6.5" stroke="#000" stroke-width="1.1" fill="none"/><text x="95.7" y="470.3" text-anchor="middle">0</text><text x="151.8" y="470.3" text-anchor="middle">100</text><text x="263.9" y="470.3" text-anchor="middle">300</text><text x="376.0" y="470.3" text-anchor="middle">500</text><text x="488.2" y="470.3" text-anchor="middle">700</text><text x="600.3" y="470.3" text-anchor="middle">900</text><text x="714.0" y="470.3" text-anchor="middle">1100</text><text x="86.4" y="441.0" text-anchor="end">10</text><text x="86.4" y="346.4" text-anchor="end">30</text><text x="86.4" y="251.8" text-anchor="end">50</text><text x="86.4" y="157.1" text-anchor="end">70</text><text x="86.4" y="62.5" text-anchor="end">90</text><text x="404" y="509" text-anchor="middle" font-size="38">Time (a.u.)</text><text transform="translate(28.8 215.3) rotate(-90)" text-anchor="middle" font-size="38.2">Harmonic order</text><rect x="753.9" y="2.4" width="55.1" height="425.80" fill="#2b2f87"/><rect x="753.9" y="2.4" width="55.1" height="419.15" fill="#2d308f"/><rect x="753.9" y="2.4" width="55.1" height="412.49" fill="#2f3594"/><rect x="753.9" y="2.4" width="55.1" height="405.84" fill="#323b96"/><rect x="753.9" y="2.4" width="55.1" height="399.19" fill="#344199"/><rect x="753.9" y="2.4" width="55.1" height="392.53" fill="#37479c"/><rect x="753.9" y="2.4" width="55.1" height="385.88" fill="#384b9f"/><rect x="753.9" y="2.4" width="55.1" height="379.23" fill="#3950a2"/><rect x="753.9" y="2.4" width="55.1" height="372.57" fill="#3b54a4"/><rect x="753.9" y="2.4" width="55.1" height="365.92" fill="#3c57a7"/><rect x="753.9" y="2.4" width="55.1" height="359.27" fill="#3d5aa9"/><rect x="753.9" y="2.4" width="55.1" height="352.62" fill="#3d5dab"/><rect x="753.9" y="2.4" width="55.1" height="345.96" fill="#3e60ad"/><rect x="753.9" y="2.4" width="55.1" height="339.31" fill="#4065b0"/><rect x="753.9" y="2.4" width="55.1" height="332.66" fill="#426fb7"/><rect x="753.9" y="2.4" width="55.1" height="326.00" fill="#447abe"/><rect x="753.9" y="2.4" width="55.1" height="319.35" fill="#4685c5"/><rect x="753.9" y="2.4" width="55.1" height="312.70" fill="#4593cf"/><rect x="753.9" y="2.4" width="55.1" height="306.04" fill="#45a0d8"/><rect x="753.9" y="2.4" width="55.1" height="299.39" fill="#3db2e6"/><rect x="753.9" y="2.4" width="55.1" height="292.74" fill="#35c3f3"/><rect x="753.9" y="2.4" width="55.1" height="286.08" fill="#4bc6eb"/><rect x="753.9" y="2.4" width="55.1" height="279.43" fill="#60c9e4"/><rect x="753.9" y="2.4" width="55.1" height="272.78" fill="#6dcadb"/><rect x="753.9" y="2.4" width="55.1" height="266.12" fill="#6fc9cf"/><rect x="753.9" y="2.4" width="55.1" height="259.47" fill="#72c8c4"/><rect x="753.9" y="2.4" width="55.1" height="252.82" fill="#77c8b4"/><rect x="753.9" y="2.4" width="55.1" height="246.17" fill="#7cc8a3"/><rect x="753.9" y="2.4" width="55.1" height="239.51" fill="#81c892"/><rect x="753.9" y="2.4" width="55.1" height="232.86" fill="#88c982"/><rect x="753.9" y="2.4" width="55.1" height="226.21" fill="#91cb72"/><rect x="753.9" y="2.4" width="55.1" height="219.55" fill="#9acd62"/><rect x="753.9" y="2.4" width="55.1" height="212.90" fill="#a3cf52"/><rect x="753.9" y="2.4" width="55.1" height="206.25" fill="#a9d046"/><rect x="753.9" y="2.4" width="55.1" height="199.59" fill="#afd13b"/><rect x="753.9" y="2.4" width="55.1" height="192.94" fill="#bad531"/><rect x="753.9" y="2.4" width="55.1" height="186.29" fill="#cada29"/><rect x="753.9" y="2.4" width="55.1" height="179.63" fill="#d9e023"/><rect x="753.9" y="2.4" width="55.1" height="172.98" fill="#e4e521"/><rect x="753.9" y="2.4" width="55.1" height="166.33" fill="#f0e920"/><rect x="753.9" y="2.4" width="55.1" height="159.67" fill="#f9eb1d"/><rect x="753.9" y="2.4" width="55.1" height="153.02" fill="#fcdf0f"/><rect x="753.9" y="2.4" width="55.1" height="146.37" fill="#ffd301"/><rect x="753.9" y="2.4" width="55.1" height="139.72" fill="#fdc307"/><rect x="753.9" y="2.4" width="55.1" height="133.06" fill="#fbb20f"/><rect x="753.9" y="2.4" width="55.1" height="126.41" fill="#f9a217"/><rect x="753.9" y="2.4" width="55.1" height="119.76" fill="#f7921d"/><rect x="753.9" y="2.4" width="55.1" height="113.10" fill="#f6861f"/><rect x="753.9" y="2.4" width="55.1" height="106.45" fill="#f47a20"/><rect x="753.9" y="2.4" width="55.1" height="99.80" fill="#f36e22"/><rect x="753.9" y="2.4" width="55.1" height="93.14" fill="#f26223"/><rect x="753.9" y="2.4" width="55.1" height="86.49" fill="#f15624"/><rect x="753.9" y="2.4" width="55.1" height="79.84" fill="#f04b24"/><rect x="753.9" y="2.4" width="55.1" height="73.18" fill="#ef3f24"/><rect x="753.9" y="2.4" width="55.1" height="66.53" fill="#ef3324"/><rect x="753.9" y="2.4" width="55.1" height="59.88" fill="#ee2824"/><rect x="753.9" y="2.4" width="55.1" height="53.23" fill="#ed1c24"/><rect x="753.9" y="2.4" width="55.1" height="46.57" fill="#dc1d24"/><rect x="753.9" y="2.4" width="55.1" height="39.92" fill="#cc1d23"/><rect x="753.9" y="2.4" width="55.1" height="33.27" fill="#bb1e23"/><rect x="753.9" y="2.4" width="55.1" height="26.61" fill="#ab1d22"/><rect x="753.9" y="2.4" width="55.1" height="19.96" fill="#9e1c20"/><rect x="753.9" y="2.4" width="55.1" height="13.31" fill="#911a1e"/><rect x="753.9" y="2.4" width="55.1" height="6.65" fill="#84181b"/><rect x="753.9" y="2.4" width="55.1" height="425.8" fill="none" stroke="#000" stroke-width="1.5"/><path d="M753.9 343.0h4M809.0 343.0h-4M753.9 257.9h4M809.0 257.9h-4M753.9 172.7h4M809.0 172.7h-4M753.9 87.6h4M809.0 87.6h-4" stroke="#000" stroke-width="1.1" fill="none"/><text x="816.6" y="441.7"><tspan dy="3">−</tspan><tspan dy="-3" dx="0.6">10</tspan></text><text x="816.6" y="271.4"><tspan dy="3">−</tspan><tspan dy="-3" dx="0.6">9</tspan></text><text x="816.6" y="101.1"><tspan dy="3">−</tspan><tspan dy="-3" dx="0.6">8</tspan></text><rect x="204.0" y="13.6" width="253.4" height="201.0" fill="none" stroke="#fff" stroke-width="1.8"/><path d="M288.5 214.6v-2.8M288.5 13.6v2.8M372.9 214.6v-2.8M372.9 13.6v2.8M204.0 192.3h2.8M457.4 192.3h-2.8M204.0 169.9h2.8M457.4 169.9h-2.8M204.0 147.6h2.8M457.4 147.6h-2.8M204.0 125.3h2.8M457.4 125.3h-2.8M204.0 102.9h2.8M457.4 102.9h-2.8M204.0 80.6h2.8M457.4 80.6h-2.8M204.0 58.3h2.8M457.4 58.3h-2.8M204.0 35.9h2.8M457.4 35.9h-2.8" stroke="#fff" stroke-width="1.1" fill="none"/><g class="w" font-size="21.5" fill="#fff"><text x="204.0" y="242.3" text-anchor="middle">280</text><text x="288.5" y="242.3" text-anchor="middle">320</text><text x="372.9" y="242.3" text-anchor="middle">360</text><text x="457.4" y="242.3" text-anchor="middle">400</text><text x="195.2" y="222.4" text-anchor="end">10</text><text x="195.2" y="177.7" text-anchor="end">30</text><text x="195.2" y="133.1" text-anchor="end">50</text><text x="195.2" y="88.4" text-anchor="end">70</text><text x="195.2" y="43.7" text-anchor="end">90</text></g><text class="w" x="112" y="45" fill="#fff">(d)</text></g>
</svg></body></html>
